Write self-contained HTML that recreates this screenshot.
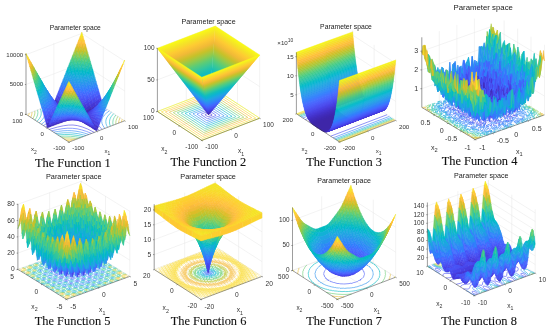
<!DOCTYPE html>
<html><head><meta charset="utf-8"><title>Benchmark functions</title>
<style>
html,body{margin:0;padding:0;background:#fff}
svg{display:block;filter:blur(.3px)}
.sf path{fill:currentColor;stroke:currentColor;stroke-width:5px;stroke-linejoin:round}
.gr{stroke:#e4e4e4;stroke-width:.45px;fill:none}
.ax{stroke:#333;stroke-width:.45px;fill:none}
.lb{font-family:"Liberation Sans",Arial,sans-serif;fill:#333}
.tt{font-family:"Liberation Sans",Arial,sans-serif;fill:#1a1a1a}
.cp{font-family:"Liberation Serif","Times New Roman",serif;fill:#111;stroke:#111;stroke-width:.1px;font-size:12.4px;text-anchor:middle}
.a{color:#3e26a8}.b{color:#402ab4}.c{color:#422ec0}.d{color:#4332cb}.e{color:#4537d5}.f{color:#463cde}.g{color:#4741e5}.h{color:#4747eb}.i{color:#484df0}.j{color:#4852f4}.k{color:#4758f8}.l{color:#465efb}.m{color:#4563fd}.n{color:#4269fe}.o{color:#3e6fff}.p{color:#3875fe}.q{color:#327cfc}.r{color:#2f81fa}.s{color:#2e87f7}.t{color:#2d8cf3}.u{color:#2b91ef}.v{color:#2797eb}.w{color:#259be8}.x{color:#23a0e5}.y{color:#20a5e3}.A{color:#1ca9df}.B{color:#18addb}.C{color:#12b1d6}.D{color:#08b5d0}.E{color:#01b8ca}.F{color:#02bac3}.G{color:#0bbdbd}.H{color:#19bfb6}.I{color:#24c1ae}.J{color:#2cc4a7}.K{color:#31c69f}.L{color:#37c897}.M{color:#3fca8e}.N{color:#4acb84}.O{color:#57cc7a}.P{color:#64cd6f}.Q{color:#72cd64}.R{color:#81cc59}.S{color:#8fcb4e}.T{color:#9dc943}.U{color:#abc739}.V{color:#b9c431}.W{color:#c5c22a}.X{color:#d1bf27}.Y{color:#dcbd29}.Z{color:#e6bb2d}.za{color:#f0ba36}.zb{color:#f8ba3d}.zc{color:#febe3c}.zd{color:#fec338}.ze{color:#fec934}.zf{color:#fccf30}.zg{color:#fad62d}.zh{color:#f7dc2a}.zi{color:#f5e327}.zj{color:#f5e924}.zk{color:#f6ef20}.zl{color:#f7f51b}.zm{color:#f9fb15}
</style></head><body>
<svg width="550" height="329" viewBox="0 0 550 329">
<rect width="550" height="329" fill="#fff"/>
<!-- plot 1 --><path class="gr" d="M68.9 142.1L26.0 114.3M26.0 114.3L26.0 53.5M96.8 131.4L53.9 103.6M53.9 103.6L53.9 42.9M124.7 120.8L81.8 92.9M81.8 92.9L81.8 32.2M68.9 142.1L124.7 120.8M124.7 120.8L124.7 60.0M47.4 128.2L103.3 106.8M103.3 106.8L103.3 46.1M26.0 114.3L81.8 92.9M81.8 92.9L81.8 32.2M26.0 114.3L81.8 92.9M81.8 92.9L124.7 120.8M26.0 84.5L81.8 63.2M81.8 63.2L124.7 91.0M26.0 54.7L81.8 33.4M81.8 33.4L124.7 61.2"/><g fill="none" transform="scale(.1)" stroke-width="6.0"><path stroke="#4742e6" d="M943 1324l-65-33-57-22-47-13-44-6-46 1-51 7-60 13-80 23M971 1287l22 18M455 1270l16-8"/><path stroke="#4465fd" d="M915 1334l-50-20-51-16-44-10-46-5-45-1-48 4-57 9-59 13M1073 1095l-32 19M986 1254l34 40M434 1256l32-20"/><path stroke="#2d8af5" d="M888 1345l-44-14-41-11-43-8-43-5-40-1-47 2-45 6-49 8M1094 1108l-29 22-21 20-16 22-9 21-2 20 4 23 10 23 17 25M413 1242l25-18 22-21"/><path stroke="#1da8e0" d="M860 1355l-78-18-70-9-78 0-77 8M1115 1122l-22 20-15 19-11 18-6 17-3 17 2 22 6 19 10 19M392 1228l18-17 16-18 11-16 8-18"/><path stroke="#0abdbd" d="M832 1366l-61-12-64-8-63-1-66 4M1137 1136l-25 30-9 17-5 14-3 16 0 17 3 17 5 15M370 1214l25-30 9-17 6-15 2-14 0-17-3-17-5-16"/><path stroke="#40ca8d" d="M805 1377l-48-9-51-5-56-2-51 2M1158 1150l-16 24-11 25-3 28 3 25M349 1201l16-24 11-28 3-25-3-26"/><path stroke="#93ca4b" d="M777 1387l-74-8-82-2M1179 1163l-11 22-7 19-3 20 1 17M328 1187l9-17 8-20 4-19-1-22"/><path stroke="#e0bc2b" d="M749 1398l-55-6-52-1M1200 1177l-10 28-4 26M307 1173l10-25 4-28"/><path stroke="#fdcd32" d="M722 1408l-59-4M1222 1191l-8 29M285 1159l8-29"/><path stroke="#f7f41c" d="M694 1419l-10-1M1243 1205l-2 5M264 1146l2-5"/></g><g class="sf" transform="scale(.1)"><path class=zj d="M815 401l15-38-12-41-15 39z"/><path class=zf d="M799 438l16-37-12-40-16 40z"/><path class=zc d="M784 476l15-38-12-37-15 39z"/><path class=Y d="M768 513l16-37-12-36-16 39z"/><path class=V d="M753 551l15-38-12-34-15 40z"/><path class=S d="M737 588l16-37-12-32-16 39z"/><path class=O d="M722 626l15-38-12-30-15 39z"/><path class=L d="M706 663l16-37-12-29-16 40z"/><path class=I d="M691 701l15-38-12-26-15 39z"/><path class=E d="M675 738l16-37-12-25-16 39z"/><path class=B d="M660 776l15-38-12-23-15 40z"/><path class=x d="M644 813l16-37-12-21-16 39z"/><path class=t d="M629 851l15-38-12-19-15 39z"/><path class=q d="M613 888l16-37-12-18-16 40z"/><path class=m d="M598 926l15-38-12-15-15 39z"/><path class=j d="M582 963l16-37-12-14-16 39z"/><path class=g d="M567 1001l15-38-12-12-15 40z"/><path class=c d="M551 1038l16-37-12-10-16 39z"/><path class=B d="M427 833l16 26-12-21-16-28z"/><path class=E d="M412 807l15 26-12-23-15-27z"/><path class=I d="M396 782l16 25-12-24-16-28z"/><path class=L d="M380 756l16 26-12-27-15-27z"/><path class=O d="M365 730l15 26-11-28-16-28z"/><path class=S d="M349 705l16 25-12-30-15-27z"/><path class=V d="M334 679l15 26-11-32-16-28z"/><path class=Y d="M318 654l16 25-12-34-15-27z"/><path class=zc d="M303 628l15 26-11-36-16-28z"/><path class=zf d="M287 602l16 26-12-38-15-27z"/><path class=zj d="M272 577l15 25-11-39-16-28z"/><path class=zf d="M827 440l15-36-12-41-15 38z"/><path class=zc d="M811 476l16-36-12-39-16 37z"/><path class=Z d="M796 511l15-35-12-38-15 38z"/><path class=W d="M780 547l16-36-12-35-16 37z"/><path class=S d="M765 583l15-36-12-34-15 38z"/><path class=P d="M749 618l16-35-12-32-16 37z"/><path class=M d="M734 654l15-36-12-30-15 38z"/><path class=J d="M718 690l16-36-12-28-16 37z"/><path class=G d="M703 725l15-35-12-27-15 38z"/><path class=D d="M687 761l16-36-12-24-16 37z"/><path class=y d="M672 797l15-36-12-23-15 38z"/><path class=v d="M656 832l16-35-12-21-16 37z"/><path class=s d="M641 868l15-36-12-19-15 38z"/><path class=p d="M625 904l16-36-12-17-16 37z"/><path class=m d="M610 939l15-35-12-16-15 38z"/><path class=j d="M594 975l16-36-12-13-16 37z"/><path class=f d="M579 1011l15-36-12-12-15 38z"/><path class=c d="M563 1046l16-35-12-10-16 37z"/><path class=s d="M470 903l15 24-11-17-16-26z"/><path class=v d="M454 880l16 23-12-19-15-25z"/><path class=y d="M439 856l15 24-11-21-16-26z"/><path class=D d="M423 832l16 24-12-23-15-26z"/><path class=G d="M408 808l15 24-11-25-16-25z"/><path class=J d="M392 784l16 24-12-26-16-26z"/><path class=M d="M377 761l15 23-12-28-15-26z"/><path class=P d="M361 737l16 24-12-31-16-25z"/><path class=S d="M346 713l15 24-12-32-15-26z"/><path class=W d="M330 689l16 24-12-34-16-25z"/><path class=Z d="M315 665l15 24-12-35-15-26z"/><path class=zc d="M299 642l16 23-12-37-16-26z"/><path class=zf d="M284 618l15 24-12-40-15-25z"/><path class=zc d="M839 479l15-34-12-41-15 36z"/><path class=Z d="M823 513l16-34-12-39-16 36z"/><path class=W d="M808 547l15-34-12-37-15 35z"/><path class=T d="M792 581l16-34-12-36-16 36z"/><path class=Q d="M777 615l15-34-12-34-15 36z"/><path class=N d="M761 648l16-33-12-32-16 35z"/><path class=K d="M746 682l15-34-12-30-15 36z"/><path class=H d="M730 716l16-34-12-28-16 36z"/><path class=E d="M715 750l15-34-12-26-15 35z"/><path class=B d="M699 784l16-34-12-25-16 36z"/><path class=x d="M684 818l15-34-12-23-15 36z"/><path class=u d="M668 851l16-33-12-21-16 35z"/><path class=r d="M653 885l15-34-12-19-15 36z"/><path class=o d="M637 919l16-34-12-17-16 36z"/><path class=l d="M621 953l16-34-12-15-15 35z"/><path class=i d="M606 987l15-34-11-14-16 36z"/><path class=f d="M590 1020l16-33-12-12-15 36z"/><path class=c d="M575 1054l15-34-11-9-16 35z"/><path class=r d="M482 922l15 22-12-17-15-24z"/><path class=u d="M466 901l16 21-12-19-16-23z"/><path class=x d="M451 879l15 22-12-21-15-24z"/><path class=B d="M435 857l16 22-12-23-16-24z"/><path class=E d="M420 835l15 22-12-25-15-24z"/><path class=H d="M404 813l16 22-12-27-16-24z"/><path class=K d="M389 791l15 22-12-29-15-23z"/><path class=N d="M373 769l16 22-12-30-16-24z"/><path class=Q d="M358 747l15 22-12-32-15-24z"/><path class=T d="M342 725l16 22-12-34-16-24z"/><path class=W d="M327 703l15 22-12-36-15-24z"/><path class=Z d="M311 681l16 22-12-38-16-23z"/><path class=zc d="M296 659l15 22-12-39-15-24z"/><path class=Y d="M851 519l15-32-12-42-15 34z"/><path class=W d="M835 551l16-32-12-40-16 34z"/><path class=T d="M820 583l15-32-12-38-15 34z"/><path class=Q d="M804 615l16-32-12-36-16 34z"/><path class=N d="M789 646l15-31-12-34-15 34z"/><path class=K d="M773 678l16-32-12-31-16 33z"/><path class=I d="M757 710l16-32-12-30-15 34z"/><path class=F d="M742 742l15-32-11-28-16 34z"/><path class=C d="M726 774l16-32-12-26-15 34z"/><path class=y d="M711 806l15-32-11-24-16 34z"/><path class=v d="M695 838l16-32-12-22-15 34z"/><path class=t d="M680 870l15-32-11-20-16 33z"/><path class=q d="M664 902l16-32-12-19-15 34z"/><path class=n d="M649 934l15-32-11-17-16 34z"/><path class=k d="M633 966l16-32-12-15-16 34z"/><path class=h d="M618 998l15-32-12-13-15 34z"/><path class=f d="M602 1030l16-32-12-11-16 33z"/><path class=c d="M587 1062l15-32-12-10-15 34z"/><path class=n d="M509 962l16 20-12-16-16-22z"/><path class=t d="M478 921l16 21-12-20-16-21z"/><path class=v d="M463 901l15 20-12-20-15-22z"/><path class=y d="M447 881l16 20-12-22-16-22z"/><path class=C d="M432 861l15 20-12-24-15-22z"/><path class=F d="M416 841l16 20-12-26-16-22z"/><path class=I d="M401 821l15 20-12-28-15-22z"/><path class=K d="M385 801l16 20-12-30-16-22z"/><path class=N d="M370 781l15 20-12-32-15-22z"/><path class=Q d="M354 760l16 21-12-34-16-22z"/><path class=T d="M339 740l15 20-12-35-15-22z"/><path class=W d="M323 720l16 20-12-37-16-22z"/><path class=Y d="M308 700l15 20-12-39-15-22z"/><path class=V d="M862 558l16-30-12-41-15 32z"/><path class=S d="M847 588l15-30-11-39-16 32z"/><path class=Q d="M831 618l16-30-12-37-15 32z"/><path class=N d="M816 648l15-30-11-35-16 32z"/><path class=L d="M800 678l16-30-12-33-15 31z"/><path class=I d="M785 709l15-31-11-32-16 32z"/><path class=F d="M769 739l16-30-12-31-16 32z"/><path class=D d="M754 769l15-30-12-29-15 32z"/><path class=A d="M738 799l16-30-12-27-16 32z"/><path class=x d="M723 829l15-30-12-25-15 32z"/><path class=u d="M707 859l16-30-12-23-16 32z"/><path class=k d="M537 997l15 19-12-14-15-20z"/><path class=p d="M506 961l15 18-12-17-15-20z"/><path class=r d="M490 942l16 19-12-19-16-21z"/><path class=u d="M475 924l15 18-12-21-15-20z"/><path class=x d="M459 906l16 18-12-23-16-20z"/><path class=A d="M444 887l15 19-12-25-15-20z"/><path class=D d="M428 869l16 18-12-26-16-20z"/><path class=F d="M413 851l15 18-12-28-15-20z"/><path class=I d="M397 833l16 18-12-30-16-20z"/><path class=L d="M382 814l15 19-12-32-15-20z"/><path class=N d="M366 796l16 18-12-33-16-21z"/><path class=Q d="M351 778l15 18-12-36-15-20z"/><path class=S d="M335 759l16 19-12-38-16-20z"/><path class=V d="M320 741l15 18-12-39-15-20z"/><path class=S d="M874 597l16-28-12-41-16 30z"/><path class=P d="M859 625l15-28-12-39-15 30z"/><path class=N d="M843 654l16-29-12-37-16 30z"/><path class=K d="M828 682l15-28-12-36-15 30z"/><path class=I d="M812 710l16-28-12-34-16 30z"/><path class=G d="M797 739l15-29-12-32-15 31z"/><path class=D d="M781 767l16-28-12-30-16 30z"/><path class=B d="M766 795l15-28-12-28-15 30z"/><path class=x d="M750 824l16-29-12-26-16 30z"/><path class=v d="M735 852l15-28-12-25-15 30z"/><path class=t d="M719 880l16-28-12-23-16 30z"/><path class=o d="M518 980l15 16-12-17-15-18z"/><path class=q d="M502 963l16 17-12-19-16-19z"/><path class=t d="M487 947l15 16-12-21-15-18z"/><path class=v d="M471 930l16 17-12-23-16-18z"/><path class=x d="M456 914l15 16-12-24-15-19z"/><path class=B d="M440 897l16 17-12-27-16-18z"/><path class=D d="M424 881l16 16-12-28-15-18z"/><path class=G d="M409 865l15 16-11-30-16-18z"/><path class=I d="M393 848l16 17-12-32-15-19z"/><path class=K d="M378 832l15 16-11-34-16-18z"/><path class=N d="M362 815l16 17-12-36-15-18z"/><path class=P d="M347 799l15 16-11-37-16-19z"/><path class=S d="M331 782l16 17-12-40-15-18z"/><path class=O d="M886 636l16-26-12-41-16 28z"/><path class=M d="M871 663l15-27-12-39-15 28z"/><path class=K d="M855 689l16-26-12-38-16 29z"/><path class=I d="M840 716l15-27-12-35-15 28z"/><path class=F d="M824 742l16-26-12-34-16 28z"/><path class=D d="M809 769l15-27-12-32-15 29z"/><path class=B d="M793 795l16-26-12-30-16 28z"/><path class=y d="M778 822l15-27-12-28-15 28z"/><path class=w d="M762 848l16-26-12-27-16 29z"/><path class=t d="M747 875l15-27-12-24-15 28z"/><path class=r d="M731 901l16-26-12-23-16 28z"/><path class=i d="M561 1028l15 15-12-14-15-16z"/><path class=k d="M545 1013l16 15-12-15-16-17z"/><path class=n d="M529 999l16 14-12-17-15-16z"/><path class=p d="M514 984l15 15-11-19-16-17z"/><path class=r d="M498 970l16 14-12-21-15-16z"/><path class=t d="M483 955l15 15-11-23-16-17z"/><path class=w d="M467 940l16 15-12-25-15-16z"/><path class=y d="M452 926l15 14-11-26-16-17z"/><path class=B d="M436 911l16 15-12-29-16-16z"/><path class=D d="M421 897l15 14-12-30-15-16z"/><path class=F d="M405 882l16 15-12-32-16-17z"/><path class=I d="M390 867l15 15-12-34-15-16z"/><path class=K d="M374 853l16 14-12-35-16-17z"/><path class=M d="M359 838l15 15-12-38-15-16z"/><path class=O d="M343 823l16 15-12-39-16-17z"/><path class=L d="M898 676l16-25-12-41-16 26z"/><path class=J d="M883 700l15-24-12-40-15 27z"/><path class=H d="M867 725l16-25-12-37-16 26z"/><path class=F d="M852 750l15-25-12-36-15 27z"/><path class=D d="M836 774l16-24-12-34-16 26z"/><path class=B d="M821 799l15-25-12-32-15 27z"/><path class=y d="M805 824l16-25-12-30-16 26z"/><path class=w d="M790 848l15-24-12-29-15 27z"/><path class=u d="M774 873l16-25-12-26-16 26z"/><path class=s d="M759 897l15-24-12-25-15 27z"/><path class=q d="M743 922l16-25-12-22-16 26z"/><path class=h d="M572 1043l16 13-12-13-15-15z"/><path class=k d="M557 1031l15 12-11-15-16-15z"/><path class=m d="M541 1018l16 13-12-18-16-14z"/><path class=o d="M526 1005l15 13-12-19-15-15z"/><path class=q d="M510 992l16 13-12-21-16-14z"/><path class=s d="M495 980l15 12-12-22-15-15z"/><path class=u d="M479 967l16 13-12-25-16-15z"/><path class=w d="M464 954l15 13-12-27-15-14z"/><path class=y d="M448 941l16 13-12-28-16-15z"/><path class=B d="M433 928l15 13-12-30-15-14z"/><path class=D d="M417 916l16 12-12-31-16-15z"/><path class=F d="M402 903l15 13-12-34-15-15z"/><path class=H d="M386 890l16 13-12-36-16-14z"/><path class=J d="M371 877l15 13-12-37-15-15z"/><path class=L d="M355 865l16 12-12-39-16-15z"/><path class=I d="M910 715l16-23-12-41-16 25z"/><path class=G d="M895 738l15-23-12-39-15 24z"/><path class=E d="M879 761l16-23-12-38-16 25z"/><path class=C d="M864 783l15-22-12-36-15 25z"/><path class=A d="M848 806l16-23-12-33-16 24z"/><path class=x d="M833 829l15-23-12-32-15 25z"/><path class=w d="M817 852l16-23-12-30-16 25z"/><path class=u d="M801 875l16-23-12-28-15 24z"/><path class=s d="M786 897l15-22-11-27-16 25z"/><path class=q d="M770 920l16-23-12-24-15 24z"/><path class=o d="M755 943l15-23-11-23-16 25z"/><path class=j d="M569 1048l15 11-12-16-15-12z"/><path class=k d="M553 1037l16 11-12-17-16-13z"/><path class=m d="M538 1026l15 11-12-19-15-13z"/><path class=o d="M522 1015l16 11-12-21-16-13z"/><path class=q d="M507 1004l15 11-12-23-15-12z"/><path class=s d="M491 993l16 11-12-24-16-13z"/><path class=u d="M476 982l15 11-12-26-15-13z"/><path class=w d="M460 971l16 11-12-28-16-13z"/><path class=x d="M445 960l15 11-12-30-15-13z"/><path class=A d="M429 949l16 11-12-32-16-12z"/><path class=C d="M414 939l15 10-12-33-15-13z"/><path class=E d="M398 928l16 11-12-36-16-13z"/><path class=G d="M383 917l15 11-12-38-15-13z"/><path class=I d="M367 906l16 11-12-40-16-12z"/><path class=E d="M922 754l16-21-12-41-16 23z"/><path class=D d="M906 775l16-21-12-39-15 23z"/><path class=B d="M891 796l15-21-11-37-16 23z"/><path class=y d="M875 817l16-21-12-35-15 22z"/><path class=x d="M860 838l15-21-11-34-16 23z"/><path class=v d="M844 859l16-21-12-32-15 23z"/><path class=t d="M829 880l15-21-11-30-16 23z"/><path class=s d="M813 901l16-21-12-28-16 23z"/><path class=q d="M798 922l15-21-12-26-15 22z"/><path class=o d="M782 943l16-21-12-25-16 23z"/><path class=n d="M767 964l15-21-12-23-15 23z"/><path class=j d="M565 1056l16 9-12-17-16-11z"/><path class=l d="M550 1047l15 9-12-19-15-11z"/><path class=n d="M534 1038l16 9-12-21-16-11z"/><path class=o d="M519 1029l15 9-12-23-15-11z"/><path class=q d="M503 1020l16 9-12-25-16-11z"/><path class=s d="M488 1011l15 9-12-27-15-11z"/><path class=t d="M472 1001l16 10-12-29-16-11z"/><path class=v d="M457 992l15 9-12-30-15-11z"/><path class=x d="M441 983l16 9-12-32-16-11z"/><path class=y d="M426 974l15 9-12-34-15-10z"/><path class=B d="M410 965l16 9-12-35-16-11z"/><path class=D d="M395 956l15 9-12-37-15-11z"/><path class=E d="M379 947l16 9-12-39-16-11z"/><path class=B d="M934 794l15-19-11-42-16 21z"/><path class=y d="M918 813l16-19-12-40-16 21z"/><path class=x d="M903 832l15-19-12-38-15 21z"/><path class=v d="M887 851l16-19-12-36-16 21z"/><path class=u d="M872 870l15-19-12-34-15 21z"/><path class=t d="M856 889l16-19-12-32-16 21z"/><path class=r d="M841 908l15-19-12-30-15 21z"/><path class=q d="M825 928l16-20-12-28-16 21z"/><path class=o d="M810 947l15-19-12-27-15 21z"/><path class=n d="M794 966l16-19-12-25-16 21z"/><path class=l d="M779 985l15-19-12-23-15 21z"/><path class=i d="M577 1075l16 7-12-17-16-9z"/><path class=k d="M562 1068l15 7-12-19-15-9z"/><path class=l d="M546 1061l16 7-12-21-16-9z"/><path class=n d="M531 1053l15 8-12-23-15-9z"/><path class=o d="M515 1046l16 7-12-24-16-9z"/><path class=q d="M500 1039l15 7-12-26-15-9z"/><path class=r d="M484 1032l16 7-12-28-16-10z"/><path class=t d="M469 1024l15 8-12-31-15-9z"/><path class=u d="M453 1017l16 7-12-32-16-9z"/><path class=v d="M437 1010l16 7-12-34-15-9z"/><path class=x d="M422 1003l15 7-11-36-16-9z"/><path class=y d="M406 995l16 8-12-38-15-9z"/><path class=B d="M391 988l15 7-11-39-16-9z"/><path class=x d="M946 833l15-17-12-41-15 19z"/><path class=v d="M930 850l16-17-12-39-16 19z"/><path class=u d="M915 868l15-18-12-37-15 19z"/><path class=t d="M899 885l16-17-12-36-16 19z"/><path class=r d="M884 902l15-17-12-34-15 19z"/><path class=q d="M868 919l16-17-12-32-16 19z"/><path class=p d="M853 937l15-18-12-30-15 19z"/><path class=o d="M837 954l16-17-12-29-16 20z"/><path class=m d="M822 971l15-17-12-26-15 19z"/><path class=l d="M806 989l16-18-12-24-16 19z"/><path class=k d="M791 1006l15-17-12-23-15 19zM558 1083l15 6-11-21-16-7z"/><path class=l d="M542 1078l16 5-12-22-15-8z"/><path class=m d="M527 1073l15 5-11-25-16-7z"/><path class=o d="M511 1067l16 6-12-27-15-7z"/><path class=p d="M496 1062l15 5-11-28-16-7z"/><path class=q d="M480 1056l16 6-12-30-15-8z"/><path class=r d="M465 1051l15 5-11-32-16-7z"/><path class=t d="M449 1045l16 6-12-34-16-7z"/><path class=u d="M434 1040l15 5-12-35-15-7z"/><path class=v d="M418 1035l16 5-12-37-16-8z"/><path class=x d="M403 1029l15 6-12-40-15-7z"/><path class=t d="M958 872l15-15-12-41-15 17z"/><path class=s d="M942 888l16-16-12-39-16 17z"/><path class=r d="M927 903l15-15-12-38-15 18z"/><path class=q d="M911 919l16-16-12-35-16 17z"/><path class=p d="M896 934l15-15-12-34-15 17z"/><path class=o d="M880 949l16-15-12-32-16 17z"/><path class=n d="M865 965l15-16-12-30-15 18z"/><path class=m d="M849 980l16-15-12-28-16 17z"/><path class=k d="M834 996l15-16-12-26-15 17z"/><path class=j d="M818 1011l16-15-12-25-16 18z"/><path class=i d="M803 1027l15-16-12-22-15 17z"/><path class=j d="M554 1103l16 3-12-23-16-5z"/><path class=k d="M539 1099l15 4-12-25-15-5z"/><path class=m d="M523 1095l16 4-12-26-16-6z"/><path class=n d="M508 1092l15 3-12-28-15-5z"/><path class=o d="M492 1088l16 4-12-30-16-6z"/><path class=p d="M477 1085l15 3-12-32-15-5z"/><path class=q d="M461 1081l16 4-12-34-16-6z"/><path class=r d="M446 1077l15 4-12-36-15-5z"/><path class=s d="M430 1074l16 3-12-37-16-5z"/><path class=t d="M415 1070l15 4-12-39-15-6z"/><path class=q d="M970 912l15-14-12-41-15 15z"/><path class=p d="M954 925l16-13-12-40-16 16z"/><path class=o d="M939 939l15-14-12-37-15 15z"/><path class=n d="M923 952l16-13-12-36-16 16z"/><path class=m d="M908 966l15-14-12-33-15 15z"/><path class=l d="M892 980l16-14-12-32-16 15z"/><path class=k d="M877 993l15-13-12-31-15 16zM861 1007l16-14-12-28-16 15z"/><path class=j d="M846 1020l15-13-12-27-15 16z"/><path class=i d="M830 1034l16-14-12-24-16 15z"/><path class=h d="M814 1048l16-14-12-23-15 16z"/><path class=j d="M551 1125l15 2-12-24-15-4z"/><path class=k d="M535 1124l16 1-12-26-16-4zM520 1122l15 2-12-29-15-3z"/><path class=l d="M504 1120l16 2-12-30-16-4z"/><path class=m d="M489 1118l15 2-12-32-15-3z"/><path class=n d="M473 1117l16 1-12-33-16-4z"/><path class=o d="M458 1115l15 2-12-36-15-4z"/><path class=p d="M442 1113l16 2-12-38-16-3z"/><path class=q d="M427 1111l15 2-12-39-15-4z"/><path class=m d="M982 951l15-12-12-41-15 14zM966 963l16-12-12-39-16 13z"/><path class=l d="M950 974l16-11-12-38-15 14z"/><path class=k d="M935 986l15-12-11-35-16 13zM919 998l16-12-12-34-15 14z"/><path class=j d="M904 1010l15-12-11-32-16 14z"/><path class=i d="M888 1021l16-11-12-30-15 13z"/><path class=h d="M873 1033l15-12-11-28-16 14zM857 1045l16-12-12-26-15 13z"/><path class=g d="M842 1057l15-12-11-25-16 14z"/><path class=f d="M826 1069l16-12-12-23-16 14z"/><path class=h d="M547 1152l16 0-12-27-16-1z"/><path class=i d="M532 1152l15 0-12-28-15-2z"/><path class=j d="M516 1152l16 0-12-30-16-2z"/><path class=k d="M501 1152l15 0-12-32-15-2zM485 1152l16 0-12-34-16-1z"/><path class=l d="M470 1152l15 0-12-35-15-2z"/><path class=m d="M454 1152l16 0-12-37-16-2zM439 1153l15-1-12-39-15-2z"/><path class=j d="M993 990l16-10-12-41-15 12zM978 1000l15-10-11-39-16 12z"/><path class=i d="M962 1010l16-10-12-37-16 11z"/><path class=h d="M947 1020l15-10-12-36-15 12zM931 1030l16-10-12-34-16 12z"/><path class=g d="M916 1040l15-10-12-32-15 12zM900 1050l16-10-12-30-16 11z"/><path class=f d="M885 1060l15-10-12-29-15 12zM869 1070l16-10-12-27-16 12z"/><path class=e d="M854 1080l15-10-12-25-15 12zM838 1090l16-10-12-23-16 12z"/><path class=g d="M528 1184l16-2-12-30-16 0z"/><path class=h d="M513 1186l15-2-12-32-15 0zM497 1188l16-2-12-34-16 0z"/><path class=i d="M481 1190l16-2-12-36-15 0z"/><path class=j d="M466 1192l15-2-11-38-16 0zM450 1194l16-2-12-40-15 1z"/><path class=g d="M1005 1029l16-8-12-41-16 10z"/><path class=f d="M990 1038l15-9-12-39-15 10zM974 1046l16-8-12-38-16 10zM959 1054l15-8-12-36-15 10z"/><path class=e d="M943 1062l16-8-12-34-16 10zM928 1070l15-8-12-32-15 10zM912 1078l16-8-12-30-16 10z"/><path class=d d="M897 1086l15-8-12-28-15 10zM881 1094l16-8-12-26-16 10zM866 1102l15-8-12-24-15 10z"/><path class=c d="M850 1110l16-8-12-22-16 10z"/><path class=f d="M509 1224l15-4-11-34-16 2zM493 1227l16-3-12-36-16 2zM478 1231l15-4-12-37-15 2z"/><path class=g d="M462 1235l16-4-12-39-16 2z"/><path class=c d="M986 1081l16-6-12-37-16 8zM971 1088l15-7-12-35-15 8zM955 1094l16-6-12-34-16 8zM940 1100l15-6-12-32-15 8zM924 1106l16-6-12-30-16 8z"/><path class=b d="M909 1113l15-7-12-28-15 8zM893 1119l16-6-12-27-16 8zM878 1125l15-6-12-25-15 8zM862 1131l16-6-12-23-16 8z"/><path class=c d="M490 1270l15-5-12-38-15 4zM474 1276l16-6-12-39-16 4z"/><path class=b d="M657 1209l15-4-12 4-15 5zM626 1216l15-3-12 7-15 6zM610 1220l16-4-12 10-16 5zM595 1224l15-4-12 11-15 6z"/><path class=c d="M579 1228l16-4-12 13-16 5zM564 1231l15-3-12 14-15 6zM548 1235l16-4-12 17-16 6zM533 1239l15-4-12 19-15 5zM517 1243l16-4-12 20-16 6zM502 1247l15-4-12 22-15 5zM486 1250l16-3-12 23-16 6zM886 1120l15-10-11 8-16 8zM870 1130l16-10-12 6-16 8zM684 1202l16-2-12 1-16 4zM669 1203l15-1-12 3-15 4zM653 1205l16-2-12 6-16 4z"/><path class=d d="M638 1207l15-2-12 8-15 3zM622 1209l16-2-12 9-16 4zM607 1211l15-2-12 11-15 4z"/><path class=e d="M591 1213l16-2-12 13-16 4zM576 1215l15-2-12 15-15 3zM560 1217l16-2-12 16-16 4z"/><path class=f d="M545 1219l15-2-12 18-15 4zM529 1221l16-2-12 20-16 4zM514 1223l15-2-12 22-15 4z"/><path class=g d="M498 1225l16-2-12 24-16 3z"/><path class=e d="M898 1115l15-12-12 7-15 10z"/><path class=d d="M882 1127l16-12-12 5-16 10zM867 1138l15-11-12 3-15 10z"/><path class=c d="M712 1198l15 0-12 0-15 2z"/><path class=d d="M696 1198l16 0-12 2-16 2zM681 1198l15 0-12 4-15 1z"/><path class=e d="M665 1198l16 0-12 5-16 2zM650 1198l15 0-12 7-15 2z"/><path class=f d="M634 1198l16 0-12 9-16 2zM619 1198l15 0-12 11-15 2z"/><path class=g d="M603 1198l16 0-12 13-16 2zM588 1198l15 0-12 15-15 2z"/><path class=h d="M572 1199l16-1-12 17-16 2zM557 1199l15 0-12 18-15 2z"/><path class=i d="M541 1199l16 0-12 20-16 2z"/><path class=j d="M525 1199l16 0-12 22-15 2zM510 1199l15 0-11 24-16 2z"/><path class=g d="M925 1096l16-14-12 9-16 12z"/><path class=f d="M910 1109l15-13-12 7-15 12zM894 1123l16-14-12 6-16 12z"/><path class=e d="M879 1137l15-14-12 4-15 11z"/><path class=d d="M739 1198l16 2-12-2-16 0zM724 1196l15 2-12 0-15 0z"/><path class=e d="M708 1194l16 2-12 2-16 0z"/><path class=f d="M693 1192l15 2-12 4-15 0zM677 1191l16 1-12 6-16 0z"/><path class=g d="M661 1189l16 2-12 7-15 0z"/><path class=h d="M646 1187l15 2-11 9-16 0zM630 1185l16 2-12 11-15 0z"/><path class=i d="M615 1184l15 1-11 13-16 0z"/><path class=j d="M599 1182l16 2-12 14-15 0z"/><path class=k d="M584 1180l15 2-11 16-16 1zM568 1178l16 2-12 19-15 0z"/><path class=l d="M553 1177l15 1-11 21-16 0z"/><path class=m d="M537 1175l16 2-12 22-16 0zM522 1173l15 2-12 24-15 0z"/><path class=j d="M953 1073l15-15-12 11-15 13z"/><path class=h d="M922 1104l15-15-12 7-15 13z"/><path class=g d="M906 1119l16-15-12 5-16 14z"/><path class=f d="M891 1135l15-16-12 4-15 14z"/><path class=e d="M875 1150l16-15-12 2-16 13z"/><path class=d d="M751 1198l15 3-11-1-16-2z"/><path class=e d="M735 1194l16 4-12 0-15-2z"/><path class=f d="M720 1191l15 3-11 2-16-2z"/><path class=g d="M704 1187l16 4-12 3-15-2z"/><path class=h d="M689 1183l15 4-11 5-16-1z"/><path class=i d="M673 1180l16 3-12 8-16-2z"/><path class=j d="M658 1176l15 4-12 9-15-2z"/><path class=k d="M642 1173l16 3-12 11-16-2zM627 1169l15 4-12 12-15-1z"/><path class=l d="M611 1165l16 4-12 15-16-2z"/><path class=m d="M596 1162l15 3-12 17-15-2z"/><path class=n d="M580 1158l16 4-12 18-16-2z"/><path class=o d="M565 1155l15 3-12 20-15-1z"/><path class=p d="M549 1151l16 4-12 22-16-2z"/><path class=q d="M534 1148l15 3-12 24-15-2z"/><path class=j d="M949 1081l16-17-12 9-16 16z"/><path class=i d="M934 1099l15-18-12 8-15 15z"/><path class=h d="M918 1116l16-17-12 5-16 15z"/><path class=g d="M902 1133l16-17-12 3-15 16z"/><path class=f d="M887 1150l15-17-11 2-16 15z"/><path class=d d="M778 1203l16 6-12-4-16-4z"/><path class=e d="M763 1198l15 5-12-2-15-3z"/><path class=f d="M747 1192l16 6-12 0-16-4z"/><path class=g d="M732 1187l15 5-12 2-15-3z"/><path class=h d="M716 1182l16 5-12 4-16-4z"/><path class=i d="M701 1176l15 6-12 5-15-4z"/><path class=j d="M685 1171l16 5-12 7-16-3z"/><path class=k d="M670 1165l15 6-12 9-15-4z"/><path class=m d="M654 1160l16 5-12 11-16-3z"/><path class=n d="M639 1154l15 6-12 13-15-4z"/><path class=o d="M623 1149l16 5-12 15-16-4z"/><path class=p d="M608 1144l15 5-12 16-15-3z"/><path class=q d="M592 1138l16 6-12 18-16-4z"/><path class=r d="M577 1133l15 5-12 20-15-3z"/><path class=s d="M561 1127l16 6-12 22-16-4z"/><path class=t d="M546 1122l15 5-12 24-15-3z"/><path class=o d="M992 1036l15-19-11 12-16 18z"/><path class=m d="M976 1055l16-19-12 11-15 17z"/><path class=l d="M961 1074l15-19-11 9-16 17z"/><path class=k d="M945 1093l16-19-12 7-15 18z"/><path class=j d="M930 1112l15-19-11 6-16 17z"/><path class=h d="M914 1131l16-19-12 4-16 17z"/><path class=g d="M899 1150l15-19-12 2-15 17z"/><path class=f d="M883 1170l16-20-12 0-16 18z"/><path class=d d="M790 1205l16 7-12-3-16-6z"/><path class=f d="M775 1198l15 7-12-2-15-5z"/><path class=g d="M759 1191l16 7-12 0-16-6z"/><path class=h d="M744 1183l15 8-12 1-15-5z"/><path class=j d="M728 1176l16 7-12 4-16-5z"/><path class=k d="M713 1169l15 7-12 6-15-6z"/><path class=l d="M697 1162l16 7-12 7-16-5z"/><path class=m d="M682 1154l15 8-12 9-15-6z"/><path class=o d="M666 1147l16 7-12 11-16-5z"/><path class=p d="M651 1140l15 7-12 13-15-6z"/><path class=q d="M635 1132l16 8-12 14-16-5z"/><path class=r d="M620 1125l15 7-12 17-15-5z"/><path class=t d="M604 1118l16 7-12 19-16-6z"/><path class=u d="M589 1111l15 7-12 20-15-5z"/><path class=v d="M573 1103l16 8-12 22-16-6z"/><path class=x d="M558 1096l15 7-12 24-15-5z"/><path class=q d="M1004 1025l15-21-12 13-15 19z"/><path class=o d="M988 1046l16-21-12 11-16 19z"/><path class=n d="M973 1067l15-21-12 9-15 19z"/><path class=l d="M957 1088l16-21-12 7-16 19z"/><path class=k d="M942 1109l15-21-12 5-15 19z"/><path class=i d="M926 1130l16-21-12 3-16 19z"/><path class=h d="M911 1150l15-20-12 1-15 19z"/><path class=f d="M895 1171l16-21-12 0-16 20z"/><path class=c d="M818 1216l15 9-12-5-15-8z"/><path class=e d="M802 1207l16 9-12-4-16-7z"/><path class=f d="M787 1198l15 9-12-2-15-7z"/><path class=h d="M771 1189l16 9-12 0-16-7z"/><path class=i d="M756 1180l15 9-12 2-15-8z"/><path class=k d="M740 1171l16 9-12 3-16-7z"/><path class=l d="M725 1162l15 9-12 5-15-7z"/><path class=n d="M709 1152l16 10-12 7-16-7z"/><path class=o d="M694 1143l15 9-12 10-15-8z"/><path class=q d="M678 1134l16 9-12 11-16-7z"/><path class=r d="M663 1125l15 9-12 13-15-7z"/><path class=t d="M647 1116l16 9-12 15-16-8z"/><path class=u d="M632 1107l15 9-12 16-15-7z"/><path class=v d="M616 1098l16 9-12 18-16-7z"/><path class=x d="M601 1089l15 9-12 20-15-7z"/><path class=y d="M585 1080l16 9-12 22-16-8z"/><path class=B d="M569 1070l16 10-12 23-15-7z"/><path class=t d="M1031 991l16-23-12 15-16 21z"/><path class=s d="M1016 1014l15-23-12 13-15 21z"/><path class=q d="M1000 1037l16-23-12 11-16 21z"/><path class=o d="M985 1059l15-22-12 9-15 21z"/><path class=n d="M969 1082l16-23-12 8-16 21z"/><path class=l d="M954 1105l15-23-12 6-15 21z"/><path class=j d="M938 1128l16-23-12 4-16 21z"/><path class=i d="M923 1151l15-23-12 2-15 20z"/><path class=g d="M907 1173l16-22-12-1-16 21z"/><path class=e d="M892 1196l15-23-12-2-15 21z"/><path class=b d="M845 1231l16 11-12-8-16-9z"/><path class=d d="M830 1220l15 11-12-6-15-9z"/><path class=e d="M814 1209l16 11-12-4-16-9z"/><path class=g d="M799 1198l15 11-12-2-15-9z"/><path class=i d="M783 1187l16 11-12 0-16-9z"/><path class=j d="M768 1176l15 11-12 2-15-9z"/><path class=l d="M752 1165l16 11-12 4-16-9z"/><path class=n d="M737 1154l15 11-12 6-15-9z"/><path class=o d="M721 1143l16 11-12 8-16-10z"/><path class=q d="M706 1132l15 11-12 9-15-9z"/><path class=s d="M690 1121l16 11-12 11-16-9z"/><path class=t d="M674 1110l16 11-12 13-15-9z"/><path class=v d="M659 1100l15 10-11 15-16-9z"/><path class=x d="M643 1089l16 11-12 16-15-9z"/><path class=y d="M628 1078l15 11-11 18-16-9z"/><path class=B d="M612 1067l16 11-12 20-15-9z"/><path class=D d="M597 1056l15 11-11 22-16-9z"/><path class=E d="M581 1045l16 11-12 24-16-10z"/><path class=x d="M1059 953l15-24-12 16-15 23z"/><path class=w d="M1043 978l16-25-12 15-16 23z"/><path class=u d="M1028 1003l15-25-12 13-15 23z"/><path class=s d="M1012 1027l16-24-12 11-16 23z"/><path class=q d="M997 1052l15-25-12 10-15 22z"/><path class=o d="M981 1077l16-25-12 7-16 23z"/><path class=m d="M966 1101l15-24-12 5-15 23z"/><path class=k d="M950 1126l16-25-12 4-16 23z"/><path class=j d="M935 1151l15-25-12 2-15 23z"/><path class=h d="M919 1175l16-24-12 0-16 22z"/><path class=f d="M904 1200l15-25-12-2-15 23z"/><path class=b d="M857 1236l16 13-12-7-16-11z"/><path class=d d="M842 1224l15 12-12-5-15-11z"/><path class=f d="M826 1211l16 13-12-4-16-11z"/><path class=h d="M810 1198l16 13-12-2-15-11z"/><path class=j d="M795 1185l15 13-11 0-16-11z"/><path class=k d="M779 1172l16 13-12 2-15-11z"/><path class=m d="M764 1160l15 12-11 4-16-11z"/><path class=o d="M748 1147l16 13-12 5-15-11z"/><path class=q d="M733 1134l15 13-11 7-16-11z"/><path class=s d="M717 1121l16 13-12 9-15-11z"/><path class=u d="M702 1109l15 12-11 11-16-11z"/><path class=w d="M686 1096l16 13-12 12-16-11z"/><path class=x d="M671 1083l15 13-12 14-15-10z"/><path class=A d="M655 1070l16 13-12 17-16-11z"/><path class=C d="M640 1057l15 13-12 19-15-11z"/><path class=E d="M624 1045l16 12-12 21-16-11z"/><path class=G d="M609 1032l15 13-12 22-15-11z"/><path class=I d="M593 1019l16 13-12 24-16-11z"/><path class=D d="M1086 912l16-26-12 18-16 25z"/><path class=B d="M1071 939l15-27-12 17-15 24z"/><path class=y d="M1055 965l16-26-12 14-16 25z"/><path class=w d="M1040 992l15-27-12 13-15 25z"/><path class=u d="M1024 1018l16-26-12 11-16 24z"/><path class=s d="M1009 1045l15-27-12 9-15 25z"/><path class=q d="M993 1071l16-26-12 7-16 25z"/><path class=o d="M978 1098l15-27-12 6-15 24z"/><path class=m d="M962 1124l16-26-12 3-16 25z"/><path class=k d="M946 1151l16-27-12 2-15 25z"/><path class=h d="M931 1177l15-26-11 0-16 24z"/><path class=f d="M915 1204l16-27-12-2-15 25z"/><path class=b d="M869 1242l15 15-11-8-16-13z"/><path class=d d="M853 1227l16 15-12-6-15-12z"/><path class=f d="M838 1213l15 14-11-3-16-13z"/><path class=h d="M822 1198l16 15-12-2-16-13z"/><path class=k d="M807 1183l15 15-12 0-15-13z"/><path class=m d="M791 1169l16 14-12 2-16-13z"/><path class=o d="M776 1154l15 15-12 3-15-12z"/><path class=q d="M760 1140l16 14-12 6-16-13z"/><path class=s d="M745 1125l15 15-12 7-15-13z"/><path class=u d="M729 1110l16 15-12 9-16-13z"/><path class=w d="M714 1096l15 14-12 11-15-12z"/><path class=y d="M698 1081l16 15-12 13-16-13z"/><path class=B d="M683 1067l15 14-12 15-15-13z"/><path class=D d="M667 1052l16 15-12 16-16-13z"/><path class=F d="M652 1037l15 15-12 18-15-13z"/><path class=H d="M636 1023l16 14-12 20-16-12z"/><path class=J d="M621 1008l15 15-12 22-15-13z"/><path class=L d="M605 993l16 15-12 24-16-13z"/><path class=I d="M1114 868l15-29-12 20-15 27z"/><path class=F d="M1098 896l16-28-12 18-16 26z"/><path class=D d="M1082 924l16-28-12 16-15 27z"/><path class=B d="M1067 952l15-28-11 15-16 26z"/><path class=y d="M1051 981l16-29-12 13-15 27z"/><path class=w d="M1036 1009l15-28-11 11-16 26z"/><path class=t d="M1020 1037l16-28-12 9-15 27z"/><path class=r d="M1005 1066l15-29-11 8-16 26z"/><path class=p d="M989 1094l16-28-12 5-15 27z"/><path class=n d="M974 1122l15-28-11 4-16 26z"/><path class=k d="M958 1151l16-29-12 2-16 27z"/><path class=i d="M943 1179l15-28-12 0-15 26z"/><path class=g d="M927 1207l16-28-12-2-16 27z"/><path class=e d="M912 1236l15-29-12-3-15 26z"/><path class=c d="M881 1247l15 17-12-7-15-15z"/><path class=e d="M865 1231l16 16-12-5-16-15z"/><path class=g d="M850 1215l15 16-12-4-15-14z"/><path class=i d="M834 1198l16 17-12-2-16-15z"/><path class=k d="M819 1182l15 16-12 0-15-15z"/><path class=n d="M803 1165l16 17-12 1-16-14z"/><path class=p d="M788 1149l15 16-12 4-15-15z"/><path class=r d="M772 1132l16 17-12 5-16-14z"/><path class=t d="M757 1116l15 16-12 8-15-15z"/><path class=w d="M741 1099l16 17-12 9-16-15z"/><path class=y d="M726 1083l15 16-12 11-15-14z"/><path class=B d="M710 1066l16 17-12 13-16-15z"/><path class=D d="M695 1050l15 16-12 15-15-14z"/><path class=F d="M679 1034l16 16-12 17-16-15z"/><path class=I d="M664 1017l15 17-12 18-15-15z"/><path class=K d="M648 1001l16 16-12 20-16-14z"/><path class=M d="M633 984l15 17-12 22-15-15z"/><path class=O d="M617 968l16 16-12 24-16-15z"/><path class=N d="M1141 819l15-30-11 22-16 28z"/><path class=K d="M1125 849l16-30-12 20-15 29z"/><path class=I d="M1110 879l15-30-11 19-16 28z"/><path class=G d="M1094 910l16-31-12 17-16 28z"/><path class=D d="M1079 940l15-30-12 14-15 28z"/><path class=B d="M1063 970l16-30-12 12-16 29z"/><path class=x d="M1048 1000l15-30-12 11-15 28z"/><path class=v d="M1032 1030l16-30-12 9-16 28z"/><path class=t d="M1017 1060l15-30-12 7-15 29z"/><path class=q d="M1001 1090l16-30-12 6-16 28z"/><path class=o d="M986 1121l15-31-12 4-15 28z"/><path class=l d="M970 1151l16-30-12 1-16 29z"/><path class=j d="M955 1181l15-30-12 0-15 28z"/><path class=g d="M939 1211l16-30-12-2-16 28z"/><path class=e d="M924 1241l15-30-12-4-15 29z"/><path class=c d="M893 1253l15 18-12-7-15-17z"/><path class=e d="M877 1235l16 18-12-6-16-16z"/><path class=g d="M862 1216l15 19-12-4-15-16z"/><path class=j d="M846 1198l16 18-12-1-16-17z"/><path class=l d="M831 1180l15 18-12 0-15-16z"/><path class=o d="M815 1162l16 18-12 2-16-17z"/><path class=q d="M800 1143l15 19-12 3-15-16z"/><path class=t d="M784 1125l16 18-12 6-16-17z"/><path class=v d="M769 1107l15 18-12 7-15-16z"/><path class=x d="M753 1088l16 19-12 9-16-17z"/><path class=B d="M738 1070l15 18-12 11-15-16z"/><path class=D d="M722 1052l16 18-12 13-16-17z"/><path class=G d="M707 1034l15 18-12 14-15-16z"/><path class=I d="M691 1015l16 19-12 16-16-16z"/><path class=K d="M676 997l15 18-12 19-15-17z"/><path class=N d="M660 979l16 18-12 20-16-16z"/><path class=P d="M645 960l15 19-12 22-15-17z"/><path class=S d="M629 942l16 18-12 24-16-16zM1168 767l16-32-12 24-16 30z"/><path class=Q d="M1153 799l15-32-12 22-15 30z"/><path class=N d="M1137 831l16-32-12 20-16 30z"/><path class=L d="M1122 863l15-32-12 18-15 30z"/><path class=I d="M1106 895l16-32-12 16-16 31z"/><path class=F d="M1091 927l15-32-12 15-15 30z"/><path class=D d="M1075 959l16-32-12 13-16 30z"/><path class=A d="M1060 991l15-32-12 11-15 30z"/><path class=x d="M1044 1023l16-32-12 9-16 30z"/><path class=u d="M1029 1055l15-32-12 7-15 30z"/><path class=r d="M1013 1087l16-32-12 5-16 30z"/><path class=p d="M998 1119l15-32-12 3-15 31z"/><path class=m d="M982 1151l16-32-12 2-16 30z"/><path class=k d="M967 1183l15-32-12 0-15 30z"/><path class=h d="M951 1215l16-32-12-2-16 30z"/><path class=e d="M936 1247l15-32-12-4-15 30z"/><path class=c d="M905 1259l15 20-12-8-15-18z"/><path class=e d="M889 1238l16 21-12-6-16-18z"/><path class=h d="M874 1218l15 20-12-3-15-19z"/><path class=k d="M858 1198l16 20-12-2-16-18z"/><path class=m d="M843 1178l15 20-12 0-15-18z"/><path class=p d="M827 1158l16 20-12 2-16-18z"/><path class=r d="M812 1138l15 20-12 4-15-19z"/><path class=u d="M796 1118l16 20-12 5-16-18z"/><path class=x d="M781 1098l15 20-12 7-15-18z"/><path class=A d="M765 1077l16 21-12 9-16-19z"/><path class=D d="M750 1057l15 20-12 11-15-18z"/><path class=F d="M734 1037l16 20-12 13-16-18z"/><path class=I d="M718 1017l16 20-12 15-15-18z"/><path class=L d="M703 997l15 20-11 17-16-19z"/><path class=N d="M687 977l16 20-12 18-15-18z"/><path class=Q d="M672 957l15 20-11 20-16-18z"/><path class=S d="M656 937l16 20-12 22-15-19z"/><path class=V d="M641 916l15 21-11 23-16-18z"/><path class=Y d="M1196 711l15-34-12 26-15 32z"/><path class=W d="M1180 745l16-34-12 24-16 32z"/><path class=T d="M1165 779l15-34-12 22-15 32z"/><path class=Q d="M1149 813l16-34-12 20-16 32z"/><path class=N d="M1134 846l15-33-12 18-15 32z"/><path class=K d="M1118 880l16-34-12 17-16 32z"/><path class=I d="M1103 914l15-34-12 15-15 32z"/><path class=F d="M1087 948l16-34-12 13-16 32z"/><path class=C d="M1072 982l15-34-12 11-15 32z"/><path class=y d="M1056 1016l16-34-12 9-16 32z"/><path class=v d="M1041 1049l15-33-12 7-15 32z"/><path class=t d="M1025 1083l16-34-12 6-16 32z"/><path class=q d="M1010 1117l15-34-12 4-15 32z"/><path class=n d="M994 1151l16-34-12 2-16 32z"/><path class=k d="M979 1185l15-34-12 0-15 32z"/><path class=h d="M963 1218l16-33-12-2-16 32z"/><path class=f d="M948 1252l15-34-12-3-15 32z"/><path class=c d="M932 1286l16-34-12-5-16 32zM917 1264l15 22-12-7-15-20z"/><path class=f d="M901 1242l16 22-12-5-16-21z"/><path class=h d="M886 1220l15 22-12-4-15-20z"/><path class=k d="M870 1198l16 22-12-2-16-20z"/><path class=n d="M854 1176l16 22-12 0-15-20z"/><path class=q d="M839 1154l15 22-11 2-16-20z"/><path class=t d="M823 1132l16 22-12 4-15-20z"/><path class=v d="M808 1110l15 22-11 6-16-20z"/><path class=y d="M792 1088l16 22-12 8-15-20z"/><path class=C d="M777 1066l15 22-11 10-16-21z"/><path class=F d="M761 1044l16 22-12 11-15-20z"/><path class=I d="M746 1023l15 21-11 13-16-20z"/><path class=K d="M730 1001l16 22-12 14-16-20z"/><path class=N d="M715 979l15 22-12 16-15-20z"/><path class=Q d="M699 957l16 22-12 18-16-20z"/><path class=T d="M684 935l15 22-12 20-15-20z"/><path class=W d="M668 913l16 22-12 22-16-20z"/><path class=Y d="M653 891l15 22-12 24-15-21z"/><path class=zc d="M1208 687l15-35-12 25-15 34z"/><path class=Z d="M1192 723l16-36-12 24-16 34z"/><path class=W d="M1177 759l15-36-12 22-15 34z"/><path class=T d="M1161 794l16-35-12 20-16 34z"/><path class=Q d="M1146 830l15-36-12 19-15 33z"/><path class=N d="M1130 866l16-36-12 16-16 34z"/><path class=K d="M1115 901l15-35-12 14-15 34z"/><path class=H d="M1099 937l16-36-12 13-16 34z"/><path class=E d="M1084 973l15-36-12 11-15 34z"/><path class=B d="M1068 1008l16-35-12 9-16 34z"/><path class=x d="M1053 1044l15-36-12 8-15 33z"/><path class=u d="M1037 1080l16-36-12 5-16 34z"/><path class=r d="M1022 1115l15-35-12 3-15 34z"/><path class=o d="M1006 1151l16-36-12 2-16 34z"/><path class=l d="M990 1187l16-36-12 0-15 34z"/><path class=i d="M975 1222l15-35-11-2-16 33z"/><path class=f d="M959 1258l16-36-12-4-15 34z"/><path class=c d="M944 1294l15-36-11-6-16 34zM928 1270l16 24-12-8-15-22z"/><path class=f d="M913 1246l15 24-11-6-16-22z"/><path class=i d="M897 1222l16 24-12-4-15-22z"/><path class=l d="M882 1198l15 24-11-2-16-22z"/><path class=o d="M866 1174l16 24-12 0-16-22z"/><path class=r d="M851 1151l15 23-12 2-15-22z"/><path class=u d="M835 1127l16 24-12 3-16-22z"/><path class=x d="M820 1103l15 24-12 5-15-22z"/><path class=B d="M804 1079l16 24-12 7-16-22z"/><path class=E d="M789 1055l15 24-12 9-15-22z"/><path class=H d="M773 1032l16 23-12 11-16-22z"/><path class=K d="M758 1008l15 24-12 12-15-21z"/><path class=N d="M742 984l16 24-12 15-16-22z"/><path class=Q d="M727 960l15 24-12 17-15-22z"/><path class=T d="M711 936l16 24-12 19-16-22z"/><path class=W d="M696 913l15 23-12 21-15-22z"/><path class=Z d="M680 889l16 24-12 22-16-22z"/><path class=zc d="M665 865l15 24-12 24-15-22z"/><path class=Z d="M1189 738l15-37-12 22-15 36z"/><path class=W d="M1173 776l16-38-12 21-16 35z"/><path class=S d="M1158 813l15-37-12 18-15 36z"/><path class=P d="M1142 851l16-38-12 17-16 36z"/><path class=M d="M1127 888l15-37-12 15-15 35z"/><path class=J d="M1111 926l16-38-12 13-16 36z"/><path class=G d="M1095 963l16-37-12 11-15 36z"/><path class=D d="M1080 1001l15-38-11 10-16 35z"/><path class=y d="M1064 1038l16-37-12 7-15 36z"/><path class=v d="M1049 1076l15-38-11 6-16 36z"/><path class=s d="M1033 1113l16-37-12 4-15 35z"/><path class=p d="M1018 1151l15-38-11 2-16 36z"/><path class=m d="M1002 1188l16-37-12 0-16 36z"/><path class=j d="M987 1226l15-38-12-1-15 35z"/><path class=f d="M971 1263l16-37-12-4-16 36z"/><path class=c d="M956 1301l15-38-12-5-15 36zM940 1275l16 26-12-7-16-24z"/><path class=f d="M925 1250l15 25-12-5-15-24z"/><path class=j d="M909 1224l16 26-12-4-16-24z"/><path class=m d="M894 1198l15 26-12-2-15-24z"/><path class=p d="M878 1173l16 25-12 0-16-24z"/><path class=s d="M863 1147l15 26-12 1-15-23z"/><path class=v d="M847 1121l16 26-12 4-16-24z"/><path class=y d="M832 1096l15 25-12 6-15-24z"/><path class=D d="M816 1070l16 26-12 7-16-24z"/><path class=G d="M801 1044l15 26-12 9-15-24z"/><path class=J d="M785 1019l16 25-12 11-16-23z"/><path class=M d="M770 993l15 26-12 13-15-24z"/><path class=P d="M754 968l16 25-12 15-16-24z"/><path class=S d="M739 942l15 26-12 16-15-24z"/><path class=W d="M723 916l16 26-12 18-16-24z"/><path class=Z d="M708 891l15 25-12 20-15-23z"/><path class=zc d="M692 865l16 26-12 22-16-24z"/><path class=zf d="M677 839l15 26-12 24-15-24z"/><path class=zj d="M1231 640l16-40-12 26-15 37z"/><path class=zf d="M1216 679l15-39-11 23-16 38z"/><path class=zc d="M1200 718l16-39-12 22-15 37z"/><path class=Y d="M1185 758l15-40-11 20-16 38z"/><path class=V d="M1169 797l16-39-12 18-15 37z"/><path class=S d="M1154 836l15-39-11 16-16 38z"/><path class=O d="M1138 876l16-40-12 15-15 37z"/><path class=L d="M1123 915l15-39-11 12-16 38z"/><path class=I d="M1107 954l16-39-12 11-16 37z"/><path class=E d="M1092 994l15-40-12 9-15 38z"/><path class=B d="M1076 1033l16-39-12 7-16 37z"/><path class=x d="M1061 1072l15-39-12 5-15 38z"/><path class=t d="M1045 1112l16-40-12 4-16 37z"/><path class=q d="M1030 1151l15-39-12 1-15 38z"/><path class=m d="M1014 1190l16-39-12 0-16 37z"/><path class=j d="M999 1230l15-40-12-2-15 38z"/><path class=g d="M983 1269l16-39-12-4-16 37z"/><path class=c d="M968 1308l15-39-12-6-15 38zM952 1281l16 27-12-7-16-26z"/><path class=g d="M937 1253l15 28-12-6-15-25z"/><path class=j d="M921 1226l16 27-12-3-16-26z"/><path class=m d="M906 1198l15 28-12-2-15-26z"/><path class=q d="M890 1171l16 27-12 0-16-25z"/><path class=t d="M875 1143l15 28-12 2-15-26z"/><path class=x d="M859 1116l16 27-12 4-16-26z"/><path class=B d="M844 1088l15 28-12 5-15-25z"/><path class=E d="M828 1061l16 27-12 8-16-26z"/><path class=I d="M813 1034l15 27-12 9-15-26z"/><path class=L d="M797 1006l16 28-12 10-16-25z"/><path class=O d="M782 979l15 27-12 13-15-26z"/><path class=S d="M766 951l16 28-12 14-16-25z"/><path class=V d="M751 924l15 27-12 17-15-26z"/><path class=Y d="M735 896l16 28-12 18-16-26z"/><path class=zc d="M720 869l15 27-12 20-15-25z"/><path class=zf d="M704 841l16 28-12 22-16-26z"/><path class=zj d="M689 814l15 27-12 24-15-26z"/></g><path class="ax" d="M68.9 142.1L124.7 120.8M68.9 142.1L26.0 114.3M26.0 114.3L26.0 53.5M68.9 142.1L69.8 142.7M96.8 131.4L97.7 132.0M124.7 120.8L125.6 121.4M68.9 142.1L67.8 142.5M47.4 128.2L46.4 128.6M26.0 114.3L25.0 114.7M26.0 114.3L24.9 114.3M26.0 84.5L24.9 84.5M26.0 54.7L24.9 54.7"/><g class="lb" font-size="6.09"><text x="72.2" y="150.4">-100</text><text x="100.1" y="139.7">0</text><text x="128.0" y="129.0">100</text><text text-anchor="end" x="65.4" y="150.3">-100</text><text text-anchor="end" x="43.9" y="136.4">0</text><text text-anchor="end" x="22.5" y="122.5">100</text><text text-anchor="end" x="23.2" y="116.0">0</text><text text-anchor="end" x="23.2" y="86.3">5000</text><text text-anchor="end" x="23.2" y="56.5">10000</text><text text-anchor="middle" x="33.9" y="151.4">x<tspan font-size="4.9" dy="2.1">2</tspan></text><text text-anchor="middle" x="107.4" y="152.7">x<tspan font-size="4.9" dy="2.1">1</tspan></text></g><text class="tt" text-anchor="middle" font-size="6.70" x="75.3" y="30.2">Parameter space</text>
<!-- plot 2 --><path class="gr" d="M201.8 140.4L157.4 111.5M157.4 111.5L157.4 48.3M230.8 129.3L186.3 100.4M186.3 100.4L186.3 37.2M259.7 118.2L215.3 89.3M215.3 89.3L215.3 26.1M201.8 140.4L259.7 118.2M259.7 118.2L259.7 55.0M179.6 125.9L237.5 103.7M237.5 103.7L237.5 40.6M157.4 111.5L215.3 89.3M215.3 89.3L215.3 26.1M157.4 111.5L215.3 89.3M215.3 89.3L259.7 118.2M157.4 79.9L215.3 57.7M215.3 57.7L259.7 86.6M157.4 48.3L215.3 26.1M215.3 26.1L259.7 55.0"/><g fill="none" transform="scale(.1)" stroke-width="6.0"><path stroke="#463bdd" d="M2085 1166l-8 0-27-18 1-4 23-9M2094 1131l27 17-1 5-35 13"/><path stroke="#4756f7" d="M2079 1186l-7 0-62-41 1-3 58-23M2108 1117l53 35-1 3-81 31"/><path stroke="#3b72fe" d="M2073 1206l-5 0-98-64 1-3 86-33M2121 1102l80 53-1 2-127 49"/><path stroke="#2c8ef1" d="M2067 1226l-4 0-133-87 0-2 116-44M2135 1088l106 70 0 2-174 66"/><path stroke="#1fa6e2" d="M2061 1246l-171-110 145-57M2148 1074l133 88-220 84"/><path stroke="#01b8c9" d="M2055 1266l-205-133 174-67M2157 1057l164 107-266 102"/><path stroke="#2bc3a8" d="M2055 1284l-10-1-231-150 1-5 197-75M2170 1042l187 122-1 5-301 115"/><path stroke="#54cc7c" d="M2049 1304l-8-1-267-173 1-4 226-87M2184 1028l213 139-1 4-347 133"/><path stroke="#98c947" d="M2042 1324l-6 0-302-197 1-3 260-100M2197 1014l240 156-1 3-394 151"/><path stroke="#d6be28" d="M2036 1344l-4 0-338-220 1-3 289-111M2210 999l267 174-1 2-440 169"/><path stroke="#febf3b" d="M2030 1364l-3 0-373-243 0-2 319-122M2224 985l293 191 0 1-487 187"/><path stroke="#f6dd29" d="M2024 1384l-410-266 348-134M2237 971l320 209-533 204"/><path stroke="#f9fb15" d="M2024 1402l-10-1-435-284 1-4 370-142M2246 954l346 225-1 5-567 218"/></g><linearGradient id="pg1" gradientUnits="userSpaceOnUse" x1="208.55" y1="114.83" x2="179.75" y2="39.73"><stop offset="0" stop-color="#3e26a8"/><stop offset="0.0625" stop-color="#4536d5"/><stop offset="0.125" stop-color="#484cef"/><stop offset="0.1875" stop-color="#4562fc"/><stop offset="0.25" stop-color="#347afd"/><stop offset="0.3125" stop-color="#2c90f0"/><stop offset="0.375" stop-color="#21a3e3"/><stop offset="0.4375" stop-color="#0cb3d3"/><stop offset="0.5" stop-color="#12beb9"/><stop offset="0.5625" stop-color="#34c79c"/><stop offset="0.625" stop-color="#5ccc76"/><stop offset="0.6875" stop-color="#94ca4a"/><stop offset="0.75" stop-color="#c8c129"/><stop offset="0.8125" stop-color="#f1ba37"/><stop offset="0.875" stop-color="#feca33"/><stop offset="0.9375" stop-color="#f5e327"/><stop offset="1" stop-color="#f9fb15"/></linearGradient><path fill="url(#pg1)" stroke="url(#pg1)" stroke-width=".4" d="M208.55 114.83L215.28 26.10L157.40 48.30 z"/><linearGradient id="pg2" gradientUnits="userSpaceOnUse" x1="208.55" y1="114.83" x2="251.14" y2="49.46"><stop offset="0" stop-color="#3e26a8"/><stop offset="0.0625" stop-color="#4536d5"/><stop offset="0.125" stop-color="#484cef"/><stop offset="0.1875" stop-color="#4562fc"/><stop offset="0.25" stop-color="#347afd"/><stop offset="0.3125" stop-color="#2c90f0"/><stop offset="0.375" stop-color="#21a3e3"/><stop offset="0.4375" stop-color="#0cb3d3"/><stop offset="0.5" stop-color="#12beb9"/><stop offset="0.5625" stop-color="#34c79c"/><stop offset="0.625" stop-color="#5ccc76"/><stop offset="0.6875" stop-color="#94ca4a"/><stop offset="0.75" stop-color="#c8c129"/><stop offset="0.8125" stop-color="#f1ba37"/><stop offset="0.875" stop-color="#feca33"/><stop offset="0.9375" stop-color="#f5e327"/><stop offset="1" stop-color="#f9fb15"/></linearGradient><path fill="url(#pg2)" stroke="url(#pg2)" stroke-width=".4" d="M208.55 114.83L259.70 55.03L215.28 26.10 z"/><linearGradient id="pg3" gradientUnits="userSpaceOnUse" x1="208.55" y1="114.83" x2="223.74" y2="91.51"><stop offset="0" stop-color="#3e26a8"/><stop offset="0.0625" stop-color="#4536d5"/><stop offset="0.125" stop-color="#484cef"/><stop offset="0.1875" stop-color="#4562fc"/><stop offset="0.25" stop-color="#347afd"/><stop offset="0.3125" stop-color="#2c90f0"/><stop offset="0.375" stop-color="#21a3e3"/><stop offset="0.4375" stop-color="#0cb3d3"/><stop offset="0.5" stop-color="#12beb9"/><stop offset="0.5625" stop-color="#34c79c"/><stop offset="0.625" stop-color="#5ccc76"/><stop offset="0.6875" stop-color="#94ca4a"/><stop offset="0.75" stop-color="#c8c129"/><stop offset="0.8125" stop-color="#f1ba37"/><stop offset="0.875" stop-color="#feca33"/><stop offset="0.9375" stop-color="#f5e327"/><stop offset="1" stop-color="#f9fb15"/></linearGradient><path fill="url(#pg3)" stroke="url(#pg3)" stroke-width=".4" d="M208.55 114.83L157.40 48.30L201.82 77.23 z"/><linearGradient id="pg4" gradientUnits="userSpaceOnUse" x1="208.55" y1="114.83" x2="195.11" y2="79.80"><stop offset="0" stop-color="#3e26a8"/><stop offset="0.0625" stop-color="#4536d5"/><stop offset="0.125" stop-color="#484cef"/><stop offset="0.1875" stop-color="#4562fc"/><stop offset="0.25" stop-color="#347afd"/><stop offset="0.3125" stop-color="#2c90f0"/><stop offset="0.375" stop-color="#21a3e3"/><stop offset="0.4375" stop-color="#0cb3d3"/><stop offset="0.5" stop-color="#12beb9"/><stop offset="0.5625" stop-color="#34c79c"/><stop offset="0.625" stop-color="#5ccc76"/><stop offset="0.6875" stop-color="#94ca4a"/><stop offset="0.75" stop-color="#c8c129"/><stop offset="0.8125" stop-color="#f1ba37"/><stop offset="0.875" stop-color="#feca33"/><stop offset="0.9375" stop-color="#f5e327"/><stop offset="1" stop-color="#f9fb15"/></linearGradient><path fill="url(#pg4)" stroke="url(#pg4)" stroke-width=".4" d="M208.55 114.83L201.82 77.23L259.70 55.03 z"/><path class="ax" d="M201.8 140.4L259.7 118.2M201.8 140.4L157.4 111.5M157.4 111.5L157.4 48.3M201.8 140.4L202.8 141.0M230.8 129.3L231.7 129.9M259.7 118.2L260.7 118.8M201.8 140.4L200.8 140.8M179.6 125.9L178.5 126.3M157.4 111.5L156.3 111.9M157.4 111.5L156.3 111.5M157.4 79.9L156.3 79.9M157.4 48.3L156.3 48.3"/><g class="lb" font-size="6.45"><text x="205.2" y="149.0">-100</text><text x="234.2" y="137.9">0</text><text x="263.1" y="126.8">100</text><text text-anchor="end" x="198.2" y="148.9">-100</text><text text-anchor="end" x="176.0" y="134.5">0</text><text text-anchor="end" x="153.8" y="120.0">100</text><text text-anchor="end" x="154.5" y="113.3">0</text><text text-anchor="end" x="154.5" y="81.8">50</text><text text-anchor="end" x="154.5" y="50.2">100</text><text text-anchor="middle" x="164.4" y="151.2">x<tspan font-size="5.2" dy="2.3">2</tspan></text><text text-anchor="middle" x="241.0" y="153.2">x<tspan font-size="5.2" dy="2.3">1</tspan></text></g><text class="tt" text-anchor="middle" font-size="7.10" x="208.6" y="24.1">Parameter space</text>
<!-- plot 3 --><path class="gr" d="M339.5 142.0L296.4 113.8M296.4 113.8L296.4 52.3M367.6 131.2L324.5 103.0M324.5 103.0L324.5 41.5M395.7 120.4L352.6 92.2M352.6 92.2L352.6 30.7M339.5 142.0L395.7 120.4M395.7 120.4L395.7 58.9M318.0 127.9L374.1 106.3M374.1 106.3L374.1 44.8M296.4 113.8L352.6 92.2M352.6 92.2L352.6 30.7M296.4 94.8L352.6 73.2M352.6 73.2L395.7 101.4M296.4 75.8L352.6 54.1M352.6 54.1L395.7 82.3M296.4 56.7L352.6 35.1M352.6 35.1L395.7 63.3"/><g fill="none" transform="scale(.1)" stroke-width="6.0"><path stroke="#484bef" d="M3871 1147l-564 215M3052 1196l34-13"/><path stroke="#3579fd" d="M3895 1163l-564 215M3028 1180l45-17"/><path stroke="#22a2e4" d="M3911 1174l-563 215M3012 1169l56-21"/><path stroke="#0ebdbb" d="M3923 1182l-563 215M2999 1161l64-25"/><path stroke="#57cc7a" d="M3934 1189l-563 215M2989 1154l72-28"/><path stroke="#c3c22b" d="M3943 1194l-563 216M2980 1148l78-30"/><path stroke="#fec736" d="M3950 1200l-563 215M2972 1143l84-32"/><path stroke="#f8f719" d="M3676 1312l-281 108M2965 1139l86-34"/></g><g class="sf" transform="scale(.1)"><path color=#f6f11f d="M3246 438l281-102-1-17-281 102z"/><path color=#f7f41c d="M2965 540l281-102-1-17-281 102z"/><path color=#f5e626 d="M3248 455l281-102-2-17-281 102z"/><path color=#f5eb23 d="M2967 557l281-102-2-17-281 102z"/><path color=#f7dd2a d="M3249 471l281-102-1-16-281 102z"/><path color=#f6e028 d="M2968 574l281-103-1-16-281 102z"/><path color=#fbd22f d="M3251 488l281-103-2-16-281 102z"/><path color=#f9d62d d="M2970 590l281-102-2-17-281 103z"/><path color=#fec834 d="M3252 503l281-102-1-16-281 103z"/><path color=#fdcd32 d="M2971 606l281-103-1-15-281 102z"/><path color=#fec03b d="M3254 519l281-102-2-16-281 102z"/><path color=#fec239 d="M2973 622l281-103-2-16-281 103z"/><path color=#f7ba3c d="M3255 534l281-102-1-15-281 102z"/><path color=#fabb3d d="M2974 637l281-103-1-15-281 103z"/><path color=#eaba31 d="M3257 549l280-102-1-15-281 102z"/><path color=#f1ba37 d="M2976 652l281-103-2-15-281 103z"/><path color=#dbbd29 d="M3258 564l281-103-2-14-280 102z"/><path color=#e3bc2c d="M2977 667l281-103-1-15-281 103z"/><path color=#cdc028 d="M3259 579l281-103-1-15-281 103z"/><path color=#d3bf27 d="M2978 681l281-102-1-15-281 103z"/><path color=#bbc42f d="M3261 593l281-103-2-14-281 103z"/><path color=#c1c32c d="M2980 696l281-103-2-14-281 102z"/><path color=#abc739 d="M3262 607l281-103-1-14-281 103z"/><path color=#b1c635 d="M2981 710l281-103-1-14-281 103z"/><path color=#9ac946 d="M3264 621l281-103-2-14-281 103z"/><path color=#a1c840 d="M2983 724l281-103-2-14-281 103z"/><path color=#84cc56 d="M3265 634l281-103-1-13-281 103z"/><path color=#8bcb51 d="M2984 737l281-103-1-13-281 103z"/><path color=#72cd64 d="M3267 647l281-103-2-13-281 103z"/><path color=#79cc5e d="M2986 750l281-103-2-13-281 103z"/><path color=#61cd72 d="M3268 660l281-103-1-13-281 103z"/><path color=#67cd6c d="M2987 763l281-103-1-13-281 103z"/><path color=#51cc7f d="M3270 673l281-103-2-13-281 103z"/><path color=#57cc7a d="M2989 776l281-103-2-13-281 103z"/><path color=#42ca8b d="M3271 685l281-103-1-12-281 103z"/><path color=#48cb86 d="M2990 789l281-104-1-12-281 103z"/><path color=#3ac994 d="M3273 698l281-104-2-12-281 103z"/><path color=#3eca90 d="M2992 801l281-103-2-13-281 104z"/><path color=#32c69f d="M3274 709l281-103-1-12-281 104z"/><path color=#35c79b d="M2993 813l281-104-1-11-281 103z"/><path color=#2cc4a6 d="M3276 721l281-103-2-12-281 103z"/><path color=#2fc5a3 d="M2995 825l281-104-2-12-281 104z"/><path color=#22c1af d="M3277 733l281-104-1-11-281 103z"/><path color=#27c2ac d="M2996 836l281-103-1-12-281 104z"/><path color=#17bfb6 d="M3279 744l281-104-2-11-281 104z"/><path color=#1dc0b3 d="M2998 848l281-104-2-11-281 103z"/><path color=#0abdbd d="M3280 755l281-104-1-11-281 104z"/><path color=#10beba d="M2999 859l281-104-1-11-281 104z"/><path color=#02bac4 d="M3282 766l281-104-2-11-281 104z"/><path color=#03bbc2 d="M3001 870l281-104-2-11-281 104z"/><path color=#02b7ca d="M3283 776l281-104-1-10-281 104z"/><path color=#01b8c9 d="M3002 880l281-104-1-10-281 104z"/><path color=#08b4d1 d="M3285 787l281-104-2-11-281 104z"/><path color=#06b5cf d="M3004 891l281-104-2-11-281 104z"/><path color=#12b1d6 d="M3286 797l281-104-1-10-281 104z"/><path color=#0db3d4 d="M3005 901l281-104-1-10-281 104z"/><path color=#19addb d="M3288 807l281-104-2-10-281 104z"/><path color=#15afd9 d="M3007 911l281-104-2-10-281 104z"/><path color=#1caadf d="M3289 817l281-105-1-9-281 104z"/><path color=#1babde d="M3008 921l281-104-1-10-281 104z"/><path color=#1fa6e2 d="M3291 826l281-104-2-10-281 105z"/><path color=#1da8e0 d="M3010 930l281-104-2-9-281 104z"/><path color=#22a2e4 d="M3292 835l281-104-1-9-281 104z"/><path color=#21a3e3 d="M3011 940l281-105-1-9-281 104z"/><path color=#249ee6 d="M3294 845l281-105-2-9-281 104z"/><path color=#23a0e5 d="M3013 949l281-104-2-10-281 105z"/><path color=#269ae8 d="M3295 853l281-104-1-9-281 105z"/><path color=#259be8 d="M3014 958l281-105-1-8-281 104z"/><path color=#2797eb d="M3297 862l281-104-2-9-281 104z"/><path color=#2798ea d="M3016 967l281-105-2-9-281 105z"/><path color=#2b91ef d="M3298 871l281-105-1-8-281 104z"/><path color=#2994ed d="M3018 975l280-104-1-9-281 105z"/><path color=#2c8ef2 d="M3300 879l281-105-2-8-281 105z"/><path color=#2b90f0 d="M3019 984l281-105-2-8-280 104z"/><path color=#2d8af5 d="M3302 887l280-105-1-8-281 105z"/><path color=#2d8cf3 d="M3021 992l281-105-2-8-281 105z"/><path color=#2e87f7 d="M3303 895l281-105-2-8-280 105z"/><path color=#2d88f6 d="M3022 1000l281-105-1-8-281 105z"/><path color=#2e83f9 d="M3305 903l281-105-2-8-281 105z"/><path color=#2e84f8 d="M3024 1008l281-105-2-8-281 105z"/><path color=#307ffb d="M3306 910l281-105-1-7-281 105z"/><path color=#2f80fa d="M3025 1015l281-105-1-7-281 105z"/><path color=#337afd d="M3308 918l281-105-2-8-281 105z"/><path color=#317dfc d="M3027 1023l281-105-2-8-281 105z"/><path color=#3677fe d="M3309 925l281-105-1-7-281 105z"/><path color=#3579fd d="M3028 1030l281-105-1-7-281 105z"/><path color=#3b73fe d="M3311 932l281-105-2-7-281 105z"/><path color=#3974fe d="M3030 1037l281-105-2-7-281 105z"/><path color=#3e70ff d="M3312 939l281-105-1-7-281 105z"/><path color=#3c71ff d="M3032 1044l280-105-1-7-281 105z"/><path color=#416bfe d="M3314 946l281-106-2-6-281 105z"/><path color=#3f6eff d="M3033 1051l281-105-2-7-280 105z"/><path color=#4368fe d="M3316 952l281-105-2-7-281 106z"/><path color=#426afe d="M3035 1058l281-106-2-6-281 105z"/><path color=#4465fd d="M3317 959l281-106-1-6-281 105z"/><path color=#4367fd d="M3036 1064l281-105-1-7-281 106z"/><path color=#4562fc d="M3319 965l281-106-2-6-281 106z"/><path color=#4564fd d="M3038 1070l281-105-2-6-281 105z"/><path color=#4660fb d="M3320 971l281-106-1-6-281 106z"/><path color=#4561fc d="M3040 1076l280-105-1-6-281 105z"/><path color=#475bfa d="M3322 977l281-106-2-6-281 106z"/><path color=#465efb d="M3041 1082l281-105-2-6-280 105z"/><path color=#4759f8 d="M3324 983l281-106-2-6-281 106z"/><path color=#475bfa d="M3043 1088l281-105-2-6-281 105z"/><path color=#4757f7 d="M3325 988l281-105-1-6-281 106z"/><path color=#4759f8 d="M3044 1094l281-106-1-5-281 105z"/><path color=#4854f6 d="M3327 994l281-106-2-5-281 105z"/><path color=#4756f7 d="M3046 1100l281-106-2-6-281 106z"/><path color=#4852f4 d="M3329 999l280-106-1-5-281 106z"/><path color=#4853f5 d="M3048 1105l281-106-2-5-281 106z"/><path color=#484ff2 d="M3330 1004l281-106-2-5-280 106z"/><path color=#4850f3 d="M3049 1110l281-106-1-5-281 106z"/><path color=#484cf0 d="M3332 1009l281-105-2-6-281 106z"/><path color=#484ef1 d="M3051 1115l281-106-2-5-281 106z"/><path color=#484bee d="M3333 1014l281-106-1-4-281 105z"/><path color=#484cf0 d="M3052 1120l281-106-1-5-281 106z"/><path color=#4848ec d="M3335 1019l281-106-2-5-281 106z"/><path color=#4849ed d="M3054 1125l281-106-2-5-281 106z"/><path color=#4746eb d="M3337 1024l281-106-2-5-281 106z"/><path color=#4848ec d="M3056 1130l281-106-2-5-281 106z"/><path color=#4744e8 d="M3338 1028l281-106-1-4-281 106z"/><path color=#4745e9 d="M3057 1135l281-107-1-4-281 106z"/><path color=#4742e6 d="M3340 1033l281-106-2-5-281 106z"/><path color=#4744e8 d="M3059 1139l281-106-2-5-281 107z"/><path color=#4741e5 d="M3342 1037l281-106-2-4-281 106zM3061 1143l281-106-2-4-281 106z"/><path color=#473ee1 d="M3343 1041l281-106-1-4-281 106z"/><path color=#473fe3 d="M3062 1148l281-107-1-4-281 106z"/><path color=#463ddf d="M3345 1045l281-106-2-4-281 106z"/><path color=#473ee1 d="M3064 1152l281-107-2-4-281 107z"/><path color=#463bde d="M3347 1049l281-106-2-4-281 106z"/><path color=#463ddf d="M3066 1156l281-107-2-4-281 107z"/><path color=#463adb d="M3348 1053l281-106-1-4-281 106zM3067 1160l281-107-1-4-281 107z"/><path color=#4639d9 d="M3350 1057l281-107-2-3-281 106zM3069 1163l281-106-2-4-281 107z"/><path color=#4538d7 d="M3352 1061l281-107-2-4-281 107zM3071 1167l281-106-2-4-281 106z"/><path color=#4537d5 d="M3353 1064l281-106-1-4-281 107zM3073 1171l280-107-1-3-281 106z"/><path color=#4535d2 d="M3355 1068l281-107-2-3-281 106zM3074 1174l281-106-2-4-280 107z"/><path color=#4434d0 d="M3357 1071l281-107-2-3-281 107zM3076 1178l281-107-2-3-281 106z"/><path color=#4433cd d="M3078 1181l281-107-2-3-281 107z"/><path color=#4332ca d="M3079 1184l281-107-1-3-281 107zM3081 1187l281-107-2-3-281 107z"/><path color=#4331c8 d="M3083 1190l281-107-2-3-281 107z"/><path color=#4330c5 d="M3085 1193l281-107-2-3-281 107z"/><path color=#422fc2 d="M3086 1196l281-107-1-3-281 107zM3088 1199l281-107-2-3-281 107z"/><path color=#422ebf d="M3090 1201l281-107-2-2-281 107z"/><path color=#412dbd d="M3092 1204l281-107-2-3-281 107zM3094 1207l281-107-2-3-281 107z"/><path color=#412cba d="M3095 1209l281-107-1-2-281 107zM3097 1212l281-108-2-2-281 107z"/><path color=#402bb7 d="M3099 1214l281-107-2-3-281 108zM3101 1216l281-107-2-2-281 107z"/><path color=#402ab4 d="M3103 1218l281-107-2-2-281 107zM3105 1221l281-108-2-2-281 107zM3107 1223l280-108-1-2-281 108z"/><path color=#3f29b1 d="M3108 1225l281-108-2-2-280 108zM3110 1227l281-108-2-2-281 108zM3112 1229l281-108-2-2-281 108z"/><path color=#3f28ae d="M3114 1231l281-108-2-2-281 108zM3116 1233l281-108-2-2-281 108zM3118 1234l281-107-2-2-281 108zM3120 1236l281-107-2-2-281 107z"/><path color=#3e27ab d="M3122 1238l281-108-2-1-281 107zM3124 1240l281-108-2-2-281 108zM3126 1242l281-108-2-2-281 108zM3128 1243l281-108-2-1-281 108zM3130 1245l281-108-2-2-281 108zM3132 1247l281-108-2-2-281 108zM3134 1248l281-108-2-1-281 108z"/><path color=#3e26a8 d="M3137 1250l280-108-2-2-281 108zM3139 1251l281-107-3-2-280 108zM3141 1253l281-108-2-1-281 107zM3143 1255l281-108-2-2-281 108zM3145 1256l281-108-2-1-281 108zM3148 1258l281-108-3-2-281 108zM3150 1259l281-107-2-2-281 108zM3152 1261l281-108-2-1-281 107zM3155 1263l281-108-3-2-281 108zM3157 1264l281-108-2-1-281 108zM3160 1266l281-108-3-2-281 108zM3163 1268l281-108-3-2-281 108zM3165 1270l281-108-2-2-281 108zM3168 1272l281-108-3-2-281 108zM3171 1274l281-108-3-2-281 108zM3175 1276l281-108-4-2-281 108zM3180 1279l280-108-4-3-281 108zM3184 1282l281-108-5-3-280 108zM3188 1284l281-108-4-2-281 108zM3191 1286l281-108-3-2-281 108zM3194 1288l281-108-3-2-281 108zM3197 1290l280-108-2-2-281 108zM3199 1292l281-108-3-2-280 108zM3202 1293l281-108-3-1-281 108zM3204 1295l281-108-2-2-281 108zM3207 1297l281-108-3-2-281 108zM3209 1298l281-108-2-1-281 108zM3211 1300l281-108-2-2-281 108zM3214 1301l281-108-3-1-281 108zM3216 1302l281-108-2-1-281 108zM3218 1304l281-108-2-2-281 108zM3220 1305l281-108-2-1-281 108zM3223 1306l281-108-3-1-281 108zM3225 1307l281-108-2-1-281 108z"/><path color=#3e27ab d="M3227 1308l281-107-2-2-281 108zM3229 1309l281-107-2-1-281 107zM3231 1310l281-107-2-1-281 107zM3233 1311l281-107-2-1-281 107zM3235 1312l281-107-2-1-281 107zM3237 1313l281-107-2-1-281 107zM3239 1314l281-108-2 0-281 107z"/><path color=#3f28ae d="M3241 1315l281-108-2-1-281 108zM3243 1315l281-107-2-1-281 108zM3245 1316l281-107-2-1-281 107zM3247 1317l281-108-2 0-281 107z"/><path color=#3f29b1 d="M3249 1317l281-107-2-1-281 108zM3251 1318l281-108-2 0-281 107zM3253 1318l281-107-2-1-281 108z"/><path color=#402ab4 d="M3254 1318l281-107-1 0-281 107zM3258 1319l281-107-2-1-281 108z"/><path color=#402bb7 d="M3260 1319l281-107-2 0-281 107zM3262 1319l281-107-2 0-281 107z"/><path color=#412cba d="M3265 1319l281-107-1 0-281 107z"/><path color=#412dbd d="M3267 1319l281-107-2 0-281 107z"/><path color=#4330c5 d="M3276 1316l281-106-2 0-281 107zM3559 1209l281-107-2 1-281 107z"/><path color=#4331c8 d="M3278 1316l281-107-2 1-281 106zM3561 1208l281-107-2 1-281 107z"/><path color=#4332ca d="M3281 1314l281-107-1 1-281 107z"/><path color=#4433cd d="M3564 1206l281-106-2 1-281 106zM3283 1313l281-107-2 1-281 107z"/><path color=#4434d0 d="M3566 1205l281-106-2 1-281 106zM3285 1312l281-107-2 1-281 107z"/><path color=#4535d2 d="M3568 1204l280-107-1 2-281 106zM3287 1311l281-107-2 1-281 107z"/><path color=#4537d5 d="M3569 1203l281-107-2 1-280 107zM3288 1309l281-106-1 1-281 107z"/><path color=#4538d7 d="M3571 1201l281-106-2 1-281 107zM3290 1308l281-107-2 2-281 106z"/><path color=#4639d9 d="M3573 1200l281-107-2 2-281 106zM3292 1306l281-106-2 1-281 107z"/><path color=#463adb d="M3574 1198l281-106-1 1-281 107zM3293 1304l281-106-1 2-281 106z"/><path color=#463bde d="M3576 1196l281-106-2 2-281 106z"/><path color=#463ddf d="M3295 1303l281-107-2 2-281 106zM3578 1194l281-106-2 2-281 106z"/><path color=#473ee1 d="M3297 1301l281-107-2 2-281 107zM3579 1192l281-106-1 2-281 106z"/><path color=#473fe3 d="M3298 1299l281-107-1 2-281 107z"/><path color=#4741e5 d="M3581 1190l281-106-2 2-281 106zM3300 1297l281-107-2 2-281 107z"/><path color=#4742e6 d="M3583 1188l281-106-2 2-281 106z"/><path color=#4744e8 d="M3302 1294l281-106-2 2-281 107zM3584 1186l281-106-1 2-281 106z"/><path color=#4745e9 d="M3303 1292l281-106-1 2-281 106z"/><path color=#4746eb d="M3586 1183l281-106-2 3-281 106z"/><path color=#4848ec d="M3305 1289l281-106-2 3-281 106zM3588 1180l281-105-2 2-281 106z"/><path color=#4849ed d="M3307 1286l281-106-2 3-281 106z"/><path color=#484bee d="M3589 1178l281-106-1 3-281 105z"/><path color=#484cf0 d="M3308 1284l281-106-1 2-281 106zM3591 1175l281-106-2 3-281 106z"/><path color=#484ef1 d="M3310 1281l281-106-2 3-281 106z"/><path color=#484ff2 d="M3592 1172l281-106-1 3-281 106z"/><path color=#4850f3 d="M3312 1277l280-105-1 3-281 106z"/><path color=#4852f4 d="M3594 1168l281-105-2 3-281 106z"/><path color=#4853f5 d="M3313 1274l281-106-2 4-280 105z"/><path color=#4854f6 d="M3596 1165l281-106-2 4-281 105z"/><path color=#4756f7 d="M3315 1271l281-106-2 3-281 106z"/><path color=#4757f7 d="M3597 1162l281-106-1 3-281 106z"/><path color=#4759f8 d="M3316 1267l281-105-1 3-281 106zM3599 1158l281-106-2 4-281 106z"/><path color=#475bfa d="M3318 1263l281-105-2 4-281 105zM3601 1154l280-105-1 3-281 106z"/><path color=#465efb d="M3320 1260l281-106-2 4-281 105z"/><path color=#4660fb d="M3602 1150l281-105-2 4-280 105z"/><path color=#4561fc d="M3321 1255l281-105-1 4-281 106z"/><path color=#4562fc d="M3604 1146l281-106-2 5-281 105z"/><path color=#4564fd d="M3323 1251l281-105-2 4-281 105z"/><path color=#4465fd d="M3605 1142l281-106-1 4-281 106z"/><path color=#4367fd d="M3324 1247l281-105-1 4-281 105z"/><path color=#4368fe d="M3607 1137l281-105-2 4-281 106z"/><path color=#426afe d="M3326 1242l281-105-2 5-281 105z"/><path color=#416bfe d="M3609 1132l280-105-1 5-281 105z"/><path color=#3f6eff d="M3328 1238l281-106-2 5-281 105z"/><path color=#3e70ff d="M3610 1128l281-106-2 5-280 105z"/><path color=#3c71ff d="M3329 1233l281-105-1 4-281 106z"/><path color=#3b73fe d="M3612 1123l281-106-2 5-281 106z"/><path color=#3974fe d="M3331 1228l281-105-2 5-281 105z"/><path color=#3677fe d="M3613 1117l281-105-1 5-281 106z"/><path color=#3579fd d="M3332 1222l281-105-1 6-281 105z"/><path color=#337afd d="M3615 1112l281-105-2 5-281 105z"/><path color=#317dfc d="M3334 1217l281-105-2 5-281 105z"/><path color=#307ffb d="M3616 1107l281-105-1 5-281 105z"/><path color=#2f80fa d="M3335 1211l281-104-1 5-281 105z"/><path color=#2e83f9 d="M3618 1101l281-105-2 6-281 105z"/><path color=#2e84f8 d="M3337 1206l281-105-2 6-281 104z"/><path color=#2e87f7 d="M3619 1095l281-105-1 6-281 105z"/><path color=#2d88f6 d="M3339 1200l280-105-1 6-281 105z"/><path color=#2d8af5 d="M3621 1089l281-105-2 6-281 105z"/><path color=#2d8cf3 d="M3340 1193l281-104-2 6-280 105z"/><path color=#2c8ef2 d="M3623 1082l280-104-1 6-281 105z"/><path color=#2b90f0 d="M3342 1187l281-105-2 7-281 104z"/><path color=#2b91ef d="M3624 1076l281-105-2 7-280 104z"/><path color=#2994ed d="M3343 1181l281-105-1 6-281 105z"/><path color=#2797eb d="M3626 1069l281-104-2 6-281 105z"/><path color=#2798ea d="M3345 1174l281-105-2 7-281 105z"/><path color=#269ae8 d="M3627 1062l281-104-1 7-281 104z"/><path color=#259be8 d="M3346 1167l281-105-1 7-281 105z"/><path color=#249ee6 d="M3629 1055l281-104-2 7-281 104z"/><path color=#23a0e5 d="M3348 1160l281-105-2 7-281 105z"/><path color=#22a2e4 d="M3630 1048l281-104-1 7-281 104z"/><path color=#21a3e3 d="M3349 1152l281-104-1 7-281 105z"/><path color=#1fa6e2 d="M3632 1040l281-104-2 8-281 104z"/><path color=#1da8e0 d="M3351 1145l281-105-2 8-281 104z"/><path color=#1caadf d="M3633 1033l281-105-1 8-281 104z"/><path color=#1babde d="M3352 1137l281-104-1 7-281 105z"/><path color=#19addb d="M3635 1025l281-104-2 7-281 105z"/><path color=#15afd9 d="M3354 1129l281-104-2 8-281 104z"/><path color=#12b1d6 d="M3636 1017l281-105-1 9-281 104z"/><path color=#0db3d4 d="M3355 1121l281-104-1 8-281 104z"/><path color=#08b4d1 d="M3638 1008l281-104-2 8-281 105z"/><path color=#06b5cf d="M3357 1112l281-104-2 9-281 104z"/><path color=#02b7ca d="M3639 1000l281-104-1 8-281 104z"/><path color=#01b8c9 d="M3358 1103l281-103-1 8-281 104z"/><path color=#02bac4 d="M3641 991l281-104-2 9-281 104z"/><path color=#03bbc2 d="M3360 1095l281-104-2 9-281 103z"/><path color=#0abdbd d="M3642 982l281-104-1 9-281 104z"/><path color=#10beba d="M3361 1085l281-103-1 9-281 104z"/><path color=#17bfb6 d="M3644 972l281-103-2 9-281 104z"/><path color=#1dc0b3 d="M3363 1076l281-104-2 10-281 103z"/><path color=#22c1af d="M3645 963l281-104-1 10-281 103z"/><path color=#27c2ac d="M3364 1066l281-103-1 9-281 104z"/><path color=#2cc4a6 d="M3647 953l281-104-2 10-281 104z"/><path color=#2fc5a3 d="M3366 1057l281-104-2 10-281 103z"/><path color=#32c69f d="M3648 943l281-104-1 10-281 104z"/><path color=#35c79b d="M3367 1046l281-103-1 10-281 104z"/><path color=#3ac994 d="M3650 933l281-104-2 10-281 104z"/><path color=#3eca90 d="M3369 1036l281-103-2 10-281 103z"/><path color=#42ca8b d="M3651 922l281-103-1 10-281 104z"/><path color=#48cb86 d="M3370 1026l281-104-1 11-281 103z"/><path color=#51cc7f d="M3653 911l281-103-2 11-281 103z"/><path color=#57cc7a d="M3372 1015l281-104-2 11-281 104z"/><path color=#61cd72 d="M3654 900l281-103-1 11-281 103z"/><path color=#67cd6c d="M3373 1004l281-104-1 11-281 104z"/><path color=#72cd64 d="M3656 889l281-103-2 11-281 103z"/><path color=#79cc5e d="M3375 992l281-103-2 11-281 104z"/><path color=#84cc56 d="M3657 878l281-103-1 11-281 103z"/><path color=#8bcb51 d="M3376 981l281-103-1 11-281 103z"/><path color=#9ac946 d="M3659 866l281-103-2 12-281 103z"/><path color=#a1c840 d="M3378 969l281-103-2 12-281 103z"/><path color=#abc739 d="M3660 854l281-103-1 12-281 103z"/><path color=#b1c635 d="M3379 957l281-103-1 12-281 103z"/><path color=#bbc42f d="M3662 841l281-102-2 12-281 103z"/><path color=#c1c32c d="M3381 944l281-103-2 13-281 103z"/><path color=#cdc028 d="M3663 829l281-103-1 13-281 102z"/><path color=#d3bf27 d="M3382 932l281-103-1 12-281 103z"/><path color=#dbbd29 d="M3664 816l281-103-1 13-281 103z"/><path color=#e3bc2c d="M3384 919l280-103-1 13-281 103z"/><path color=#eaba31 d="M3666 803l281-103-2 13-281 103z"/><path color=#f1ba37 d="M3385 905l281-102-2 13-280 103z"/><path color=#f7ba3c d="M3667 789l281-102-1 13-281 103z"/><path color=#fabb3d d="M3386 892l281-103-1 14-281 102z"/><path color=#fec03b d="M3669 776l281-103-2 14-281 102z"/><path color=#fec239 d="M3388 878l281-102-2 13-281 103z"/><path color=#fec834 d="M3670 762l281-103-1 14-281 103z"/><path color=#fdcd32 d="M3389 864l281-102-1 14-281 102z"/><path color=#fbd22f d="M3672 747l281-102-2 14-281 103z"/><path color=#f9d62d d="M3391 850l281-103-2 15-281 102z"/><path color=#f7dd2a d="M3673 733l281-102-1 14-281 102z"/><path color=#f6e028 d="M3392 835l281-102-1 14-281 103z"/><path color=#f5e626 d="M3675 718l281-102-2 15-281 102z"/><path color=#f5eb23 d="M3394 820l281-102-2 15-281 102z"/><path color=#f6f11f d="M3676 703l281-102-1 15-281 102z"/><path color=#f7f41c d="M3395 805l281-102-1 15-281 102z"/></g><path class="ax" d="M339.5 142.0L395.7 120.4M339.5 142.0L296.4 113.8M296.4 113.8L296.4 52.3M339.5 142.0L340.4 142.6M367.6 131.2L368.5 131.8M395.7 120.4L396.6 121.0M339.5 142.0L338.5 142.4M318.0 127.9L316.9 128.3M296.4 113.8L295.4 114.2M296.4 94.8L295.3 94.8M296.4 75.8L295.3 75.8M296.4 56.7L295.3 56.7"/><g class="lb" font-size="6.18"><text x="342.8" y="150.4">-200</text><text x="370.9" y="139.6">0</text><text x="399.0" y="128.7">200</text><text text-anchor="end" x="336.0" y="150.3">-200</text><text text-anchor="end" x="314.4" y="136.2">0</text><text text-anchor="end" x="292.9" y="122.1">200</text><text text-anchor="end" x="293.6" y="96.6">5</text><text text-anchor="end" x="293.6" y="77.6">10</text><text text-anchor="end" x="293.6" y="58.5">15</text><text text-anchor="middle" x="304.5" y="151.3">x<tspan font-size="4.9" dy="2.2">2</tspan></text><text text-anchor="middle" x="378.6" y="152.6">x<tspan font-size="4.9" dy="2.2">1</tspan></text><text x="277.3" y="44.8">×10<tspan font-size="4.9" dy="-2.8">10</tspan></text></g><text class="tt" text-anchor="middle" font-size="6.80" x="346.0" y="28.7">Parameter space</text>
<!-- plot 4 --><path class="gr" d="M475.1 139.5L421.8 107.4M421.8 107.4L421.8 37.3M492.6 133.3L439.3 101.2M439.3 101.2L439.3 31.1M510.1 127.1L456.9 95.0M456.9 95.0L456.9 24.9M527.7 120.8L474.4 88.7M474.4 88.7L474.4 18.7M475.1 139.5L544.5 114.9M544.5 114.9L544.5 44.8M461.6 131.4L531.0 106.8M531.0 106.8L531.0 36.7M448.2 123.3L517.6 98.7M517.6 98.7L517.6 28.6M434.7 115.2L504.1 90.6M504.1 90.6L504.1 20.5M421.8 88.7L491.2 64.0M491.2 64.0L544.5 96.1M421.8 69.9L491.2 45.3M491.2 45.3L544.5 77.4M421.8 51.2L491.2 26.6M491.2 26.6L544.5 58.7"/><g fill="none" transform="scale(.1)" stroke-width="6.0"><path stroke="#484ff2" d="M4894 1290l-10-6 10 6M5107 1217l-3-1 3 1M4971 1256l-3-2 3 2M5087 1215l-7-4 7 4M5171 1185l-6 1 3-3 3 2M4942 1259l-5 0 0-4 5 4M4984 1244l-4-3 4-8 16-4-5 11-11 4M5029 1231l-7-5 7 5M5089 1206l-33 3 21-10 8 0 8 5-4 2M5110 1199l-5 1 1-4 4 3M4946 1251l-10 1-1-7 11 6M5040 1217l-5-3 5 3M4864 1272l-5-3 5 3M4909 1259l-14-8 14 8M4971 1236l-15-9 15 5 0 4M5014 1221l-9-5 10 0-1 5M5097 1191l-6-4 6 4M5128 1179l-9 0 3-3 6 0 0 3M5169 1164l-41-11 1-3 15-3 3 3-5 6 10-3 17 11M4918 1244l-12-5 4-1 8 6M5098 1181l-7 1-3-7 6-2-15-10-13-1-1 6 9 9-17 1-3-7-18-1 1-5 12-3 0-4-16-2-1-4 5-7 14-2 12 2-3 9 33 4-2 8 31-3 0 3-11 3-1 9-12 3M4875 1258l-13-3 2-3 11 6M4973 1217l-3-2 6 0-3 2M5059 1188l-11 1 7-4 4 3M5175 1147l-5-1 5 1M4839 1257l-5 0-4-5 20-1-11 6M4881 1242l-4 0 4 0M4945 1220l-4-2 9-5 6 1-11 6M4987 1205l-37 4 2-5 12-3 26 1-3 3M5020 1195l-10 0-3-7 13 7M4802 1255l-11 2-2-7-7-5-21-8 7-13 5 1 8 13 12 1 14-11-14-3 3-14 20-1-12 11 17 2-3 9 18 3-38 7 1 5 17 1 0 5-14 2M4857 1237l-10 0 11-4-1 4M4886 1225l-2-2 2 2M4909 1218l-11 1-7-5 0-7 21 7-3 4M4930 1211l-11 1-13-11-19 4-41-4-2 6 18 3-4 8 4 6-3 5-7-1-3-5 8-5-14-3-11-11-10-4 1-3 19 1 1-6M4860 1189l2-9 14-2 7-6M4891 1178l-11 3-5 8 3 6 20-3 11-14 54 10 7 6-28 2-10-4 7 14-9 5M5131 1141l-6-4 6 4M5018 1173l-28-10 3-4 10 0 15 14M5077 1148l10-4-9-12 3-9-21-5M5010 1133l8 5-7 2M5061 1109l19 7M5097 1125l-3 14-17 9M5152 1123l-14-5 8-2 6 7M5177 1108l-9 0 3-4 6 1 0 3M4972 1166l-6-4-5 7-9 0 6-12 9-1M4983 1158l-4 9 4 6M5020 1155l-6 0-1-5 10 2-3 3M5060 1138l-22-3M5043 1129l2 1M5065 1129l-5 9M5138 1105l-3-2 9-5 5 3-11 4M4720 1246l-9 1 5-4 4 3M4744 1240l-7-4 5 0 2 4M4995 1149l-13 2 5-7 9 2-1 3M4744 1230l-6-1-15-22 35 0-2 10-12 13M4775 1218l-5 0 5 0M4703 1235l-12-7 20 2 5-7 16 1-29 11M4788 1206l-4-12 28 2-9 9-15 1M4829 1190l-22 0-10-5M4779 1184l-22 0 2-5 11 0M4801 1173l8-5M4830 1189l-1 1M4887 1161l4 6-17-1M4870 1167l-4 5M5067 1103l-8-6 4-6 7-7 9 2 1 4-13 13M4712 1220l-9-5 9 5M4811 1180l9-3-9 3M4743 1199l-17-4-4-14-18 5-11-2-4-7-38-9-16-10-35-5 33-10 0 8 29 5 24 15 12 1-10-16 38 8M4762 1170l-24 13-2 9 16 3-9 4M4684 1204l-25-5-1 5-8 3-8-13 13-7 12 6 19 1 11 4-13 6M4812 1160l-14 2 9-5M4714 1176l10 1 2-5-11 0-1 4M4730 1155l-30-12M4621 1196l-6 0 0-3 13-3 5 3-12 3M4661 1180l7-3-7 3M4693 1149l-29-1 6-10-13-1 0 10-24-4 14-12 28-3 1 8 24 7-7 6M4676 1128l2-9M4635 1088l-22 0M4599 1078l-7 30-27-3-3-5 14-2 1-5-7-8 14-2 2-9M4598 1172l-8 2 5-3 26-8-23 9M4575 1158l-5 0 5 0M4620 1135l-42-11 2-3 19 1 1-9 25 2 2 4-10 7 15-4 10 3 4 6-26 4M4669 1114l-30-4-9-5 2-3 9 0 7 5 10 0M4559 1139l-20-1 1-11 19 12M4566 1122l-3-1 3 1M4588 1116l-7-1 1-3 10-1-4 5M4619 1104l-6 0 0-4 7 2-1 2M4549 1113l-3-2 3 2M4559 1098l-24-4-15 4 14-5-4-12 11 2 18 15M4506 1097l-17-3-2-9 24 1-5 11M4562 1080l-8-2-5-16 17 4-4 14M4541 1077l-8 1 8-1M4475 1078l-8 0 7-11 10 5-9 6M4527 1059l-9 1 5-4 10-1-6 4M4548 1051l-10 2 6-4 8-1-4 3M4533 1052l-7-2 7 2M4513 1040l-14-4-1-4 17-2-2 10"/><path stroke="#2f80fa" d="M5086 1265l-24-11-14-2-18 5 6-10-34-3 4 13-21-3-3 5 26 14-6 12-9 1-7-5 1-9-22 1-14 5-17-2-4-6-10-5-11 4 7 6-24 31 5 6 23 0-12 7-6-1-5-6-17 0-23 7-5-4 11-4-4-8 4-9-9-5 1-8-6-8-6 6-14 2 7 6-11 12 0 8 4 5-25-13-2-4 9-5-1-9-9-4-17-3 4 15-4 5-70-10 28-5 33-16-9 0-8 6-26 1 13-9-6-4-22 7-2 5 11 3-3 5-19-5-6-5-16-2-6-6-19-1-11-7 19 2 3-6-13-3-4-7-22 0-8-5 13-8 19 1 1-9 13-2 0-6-47 7-22-3-17 4-1-4 10-5 15 0-1-7-36-3-20-15 18 8 39-4 18-9 2-8-30 11-15 1-21-4 2-8-23-3-14 8 3 6-16-10 6-9-22 0 8-10-11-3-15 4 25-8 15 2 4 6 9-1 6-20-11-11-23-6-7 6-41-4-19 5-2-8 11-3 1-20 17 0-6-8-33 5-7 6-19-5 4-4 21 2-2-11 35-9 0-10 22 3 7-6 13-1 5 6 7 0 13-14-58 4-1-7-10-4 3-9-15-10 14-5-4 9 13 4 6-1 6-7 18 1M4510 1025l14 2 9-5-3-12 7-5M5177 1078l9 0-3 9 26 6 3 6-6 6-11 4-5 6 33 1 4-6-8-7 22 2-1 16 20 1-15 17-2 4 6 9-55-3 0 4 9 4 22 8 18 1-2 11-17 0-5 6 12 3 5 6-12 5-12 13-28 0-28-5-5-6-26-2-17 9 26-1-4 6-22-4 12 11-2 6-14-1-35-10-10 3 14 3-4 9 14 3 1 12-14 2 5 12 15 2-4 6M5167 1233l-14-4 0-4 11 0 3 8M4938 1306l-3-2 3 2M5047 1271l-8-1 0-3 15-3-7 7M5105 1246l7-6 8 5-15 1M5182 1222l-10 0-6-5 1-4 23 3-8 6M4952 1295l-33-6 0-4 10-4 24 4-1 10M4973 1288l-5-1 8-3-3 4M5017 1263l-4-2 4 2M5105 1236l-11-1 2-4 10-1-1 6M5146 1220l-8-1 2-3 16-3-10 7M5187 1201l13 2 0-11 22 4 3-8-49 0-8 5 4 6 15 2M5045 1244l8 1 2-4-5-14 6-10-32 0 0 4 16 9-2 6-23-4 4 6 26 6M5273 1166l-7 0 2-3 5 3M4845 1311l-9 0 9 0M4950 1270l15 2-1-14-12-4-6 10 4 6M4804 1316l-4 0 4 0M4847 1302l-7-1-1-4 9 2-1 3M4869 1291l10 0 0-3-7-1-3 4M4988 1249l12-4-12 4M5094 1211l11-3-11 3M5179 1181l3-1-3 1M5267 1152l-8 1 12-4-4 3M4887 1277l4-1-4 1M5128 1192l5 0-4-9-11 0 0 4 10 5M5148 1185l6 0 4-12-25-1 4 9 11 4M5182 1172l-6-4 6 4M5270 1144l-4-3 4 3M4789 1307l-10 1-4-7 6-2 9 5-1 3M4865 1277l8-3-8 3M5048 1212l7 4-7-4M4872 1267l14-2 3-4-25 1 8 5M4912 1253l6 1 1-4-9-1 2 4M4953 1238l5-1-14-11-14-5-18 1 8 5-4 6 2 2 9 4 4-7 15 1 7 5M4993 1224l11 1-12-8-16 5 17 2M5047 1205l9-3-10-2 1 5M5102 1185l5-1-5 1M5177 1159l-20-13 20 13M4829 1274l8 2 0-10 13-3-1-3-16 4-37-1 9 4 1 8 23-1M5032 1203l6-3-6 3M5072 1188l6 1 0-3-12-4 6 6M5217 1137l20-3 2-5-37-6-9 5-28 3-9 12 31 1 2-9 28 2M4879 1249l14-5-14 5M4957 1221l9 1-3-3-6 2M4989 1210l18-3 5-5-12 1-11 7M4898 1234l6-2-6 2M5026 1189l3 1-3-1M5045 1182l5-1-12-6 7 7M5079 1170l-9-5 9 5M5099 1163l4-1-4 1M4838 1248l16-3 1-3-20 2 3 4M4986 1196l-8-6 8 6M5101 1155l6-2-7-1 1 3M5083 1154l5-2-5 2M5112 1143l7 0-7 0M5168 1124l21-8-22-4 1 12M4774 1255l9-1-7-7-18 1 2 5 14 2M4844 1231l-12-9 0 5 12 4M5023 1167l3-1-6-2 3 3M5117 1134l17-1-3-4-22-2-10 5 18 2M5245 1089l-4 1 4-1M5023 1159l4 0-4 0M4870 1206l5 2-5-2M4953 1176l4-1-4 1M5131 1113l7-2-8-1 1 3M5170 1100l11 0 2-5-27-10-2 12 16 3M4989 1156l12-3-12 3M5102 1116l8 2-2-4-6 2M4656 1267l-6 2 6-2M4725 1242l10 2-3-12-12 4 5 6M4885 1185l7-2-7 2M5081 1108l-4 1M5107 1106l3-1-3 1M4695 1245l8 0 2-4-9 0-1 4M4908 1169l4 1-4-1M5185 1073l-7-4 9 1-2 3M4675 1244l9-3-9 3M5189 1065l-11 1M5190 1061l-1 4M4631 1252l-5-3 5 3M4680 1235l6 0-7-8 4-4 23 2-8-5-26-3-9 8 17 10M4725 1219l-8-6 8 6M4686 1209l8-3-8 3M4611 1230l-16-4 7-2 9 6M4634 1205l4 1-4-1M4667 1185l5 1 0-3-5 2M4637 1188l7-2-10-3 3 5M4558 1208l-8-5 22 1-14 4M4620 1186l4-1-8-2 4 3M4643 1178l12-4-10-4-2 8M4684 1164l-9-6 9 6M4629 1168l14 1-15-9 1 8M4538 1186l-8 1-1-6 17 1-8 4M4585 1168l8-3-7 0-1 3M4605 1161l8-3-8 3M4588 1159l6 1-1-3-12-5 7 7M4624 1139l3-1-3 1M4547 1158l12 0 3-5-13 0-2 5M4585 1145l15-2 8-7-30 3-4-6-22-9 14 12 0 7-4 2 23 0M4621 1109l8 1-8-1M4626 1099l14-2-3-2-11 4M4493 1139l12-3-12 3M4554 1117l4-1-4 1M4574 1110l4-1-4 1M4464 1142l2-9-10-6 23 1 3 7-4 5-14 2M4511 1129l-12 0 2-5 12 0-2 5M4529 1118l10-1-5-4-5 5M4557 1108l-5-6-25 1 30 5M4507 1111l5-2 2-9-12 4 5 7M4479 1113l5-2-8-2 3 4M4574 1079l4-1-4 1M4479 1105l7-2-6-2-1 4M4514 1093l5-2-5 2M4580 1060l-2 2M4405 1116l-2 1 2-1M4498 1083l9-3-13-1 4 4M4514 1077l11-4-15-5-2 3 6 6M4421 1105l-13 2 2-8 13 3-2 3M4533 1063l4 2 0-4-4 2M4547 1058l12 0-1-4-11 4M4492 1070l5-2-19-9 14 11M4451 1076l13-4-13 4M4538 1046l6-3-6 3M4409 1078l-6 0-3-5 14 1-5 4M4521 1036l3-1-3 1M4538 1030l8 0 3-4-12-1 1 5M4443 1058l-9 1 4-3 5 2M4394 1069l-10 0 20-7-10 7M4483 1034l3-1-3 1M4416 1053l-6-1 1-3 6 1-1 3M4440 1047l-9-2 9-3 0 5M4441 1037l-7-1 0-3 7 0 0 4M4484 1013l-6 0 1-3 6 0-1 3M4390 1037l-7-4 7 4M4415 1021l-3-1 8-2-5 3"/><path stroke="#1baade" d="M4914 1337l2-3 9-1M4937 1329l-2-4 14 0M4952 1323l-5-5-26-1-4 7-12 3-1 9-26-5-5 5 11 4 1 5-28 5 10-6 3-7-12-3 1-5 8-5 24-5-1-4-25 8-23-4-25 5 12 5 20 0-6 11-14 4-2-3 5-6-19-3-3 8-10-1 0-8-35-18 5 6-3 5-13 0-5-13-7-2-13 3-7 6-14-1-2-6-15-3 16-13-37 1-8-1-2-7-19-1-1-9 16 4 10-4-6-5-22 0-10-4-5-6 2-9-16-2 8-11-19 0 5-6-2-3-43 7 6-7 12-2-1-12-25 1-25-7-1-7-27-6 8-10-11-4-3-7 4-2-28-2-21 5-12-4-2-2 12-3 16-1 0-3-29-14 10 5 32 0 0-10 3-2-22 0 5-10-9-4 0-8 16 0-5-4-34 11-5 7-8-1 2-13 10-4-2-10-11 2-3 8-12 3-8-5 9-7-26-6 2-6 18 1 6-4-13-3 10-11-28 2 6-15 28-13-19-2-1 9-13 2-19 19-3 8-10-5 10-15 9-4-16-5 3-4 27-3 2-5-14-13 24 5 0-3-10-4 5-6 19 5-2 8 9 3 7-6 18 0-8-6-13-3-3-6-32-4M4982 1313l10-11-35-4-16 14 16 2 7 5M5021 1299l0-3 8-5 18-1M5107 1269l7-8 12 1M5145 1255l-4-6-49-1 8 8-6 13-33 11-46 2-18 18 3 6M5183 1242l9-11-18-4-9 13 14 3M5241 1221l-22 3-7 7M5271 1211l-9-5 1-6 16 0-5-13 4-2-7-6-8 1-6 16-18 0-12 7 17 2-1 8 18 1M5305 1198l-11 1-4 5M5058 1271l10 3 6-9-20-10-6 4 14 2-4 10M5192 1223l10 1-2-4-8 3M5214 1215l8 1 10-7-18 6M5313 1180l-12-3-6-8 14 5 4 6M5335 1173l-12-4-1-4 13 8M4905 1309l15-5-17 2 2 3M4962 1282l5-2-5 2M5244 1182l8 1-1-4-7 3M4779 1332l-7 1 7-1M4810 1312l5-1-8-3 3 4M4793 1311l4-2-4 2M5255 1147l3-2-6-2 3 4M5314 1130l-9-1-1-5 10 2 0 4M4725 1329l-4-2 4 2M5313 1120l-6 0 3-2 10-2-7 4M4756 1300l7 2 8-7-26-4-26 4-1 3 38 2M5228 1133l5-2-5 2M5231 1101l3-1-7-5-13-5 17 11M4672 1292l8 0 5-5-12 1-1 4M4705 1280l5-2-5 2M5213 1084l9 1-1-4-6 0-2 3M5189 1085l12-4-12 4M5216 1075l9-3-8 0-1 3M4627 1280l-12-7 12 4 0 3M4663 1264l7 2-3-4-4 2M4643 1263l7-2-14-6-1 3 8 5M5199 1066l9 0 4-5-12 1-1 4M4595 1251l-5 0 1-3 6 1-2 2M4560 1250l-5-2 5 2M4611 1221l4 2-4-2M4556 1228l-6-1 6 1M4538 1226l-14 2 1-10 8-1 5 9M4534 1209l9 0 0-3-7-1-2 4M4537 1200l8 0 6-6-9-5-5 7 0 4M4538 1177l5-2-5 2M4483 1193l-7-4 7 4M4505 1181l8 0 0-3-11-3 3 6M4481 1182l7-3-7 3M4489 1171l12 3-4-6-11-4 3 7M4419 1145l-7-1 0-4 10 1-3 4M4382 1133l-4-3 4 3M4429 1107l8-3-8 3M4368 1124l-16-9 17-2 11 4-12 7M4413 1082l3-1-3 1M4370 1095l-9-2 1-3 8 0 0 5M4426 1070l3-1-3 1M4384 1077l12 3-4-6-7 0-1 3M4411 1060l12-5-17 1 5 4M4434 1028l11 1-11-8-5 1 5 6M4461 1011l5 1 2-3-15-5-13 3-9 7 30-3M4334 1043l-5-3 5 3M4379 1017l23-3 10-9M4446 993l13 5 7-4-13-3M4476 988l-6 4M5199 1043l-6 10 50 13 5 4-14 2 4 11 15 3-7 10 43 0-20 23 17 1 7 21 7 1 3-8 26 2 5 6-14-3-9 3 5 6 11 4-3 4-38 3-2-7 13-2 1-3-7-1-22 11 10 4 4 7-4 9 32 19"/><path stroke="#29c3a9" d="M4826 1368l-4-6 1-8-35-3-8-5 9-11-29 5-26-1-21-8-19-1-4-6-19-1 1-5 10-7-22 0 5-9-32-4 1-8-7-6-30-4-6-6-24-7-1-3 12-3 1-6-39-2 12-12-20 0-3-7-12-3 1-8-16-3 3-8-17-2-17-17-26 1 0-3 11-4 3-5-34-3-12 3-8-4 0-11 18 0 4-5-19-1-2-7-17-2-14-10-1-8-14-2-1-8-22 1-5-14-13-3 0-8-14-3 6-7 20 6-3 9 36-5-46-15 10-5-16-9 15-2 4-4-9-5 1-3 18-4-15-2-5-14M4847 1361l-4 1M4878 1350l-5 1M5067 1283l-10 3M5385 1163l-11-7 11 7M4810 1360l-5-3 5 3M4839 1348l16-5-16 5M4775 1359l-10 0 1-5 10 1-1 4M4800 1347l4-2-4 2M5373 1145l-5-2 5 2M4758 1349l-5-3 6 0-1 3M5371 1134l-10-6 10 6M4737 1330l8 1 0-3-10-3 2 5M5305 1113l13-1 3-4-28-1 12 6M4633 1314l-1-11 9 0 5 6-13 5M4617 1304l-3 0 3 0M4621 1297l-20-4 4-6 9 2 7 8M5275 1066l-11 0 0-6 11 2 0 4M5233 1062l2-1-2 1M4594 1265l10-3-10-1 0 4M4598 1256l6 0-6 0M4574 1249l3-1-3 1M4499 1233l-6-3 5 0 1 3M4515 1216l5-2-5 2M4498 1207l7 0-6-4-1 4M4487 1187l6 2-6-2M4383 1163l-4-2 4 2M4399 1149l10 0-5-10 3-8-11 0-10 7 13 11M4361 1140l-2-1 2 1M4358 1109l3-1-3 1M4355 1087l3-1-3 1M4296 1071l-3-2 3 2M4300 1063l-7 0 7-3 0 3M4302 1044l7 5-7 5-13-5M4325 1036l20 3 2-11M4385 1015l10-4M5219 1032l-9 7 9 4 13-4 4 4-15 1 14 9 5-9 7-4 6-1 5 6 4 13-13 3 8 7-1 7-17 0 8 5 18 1 5-8 12-2 22 3-24 5-3 6 53 4-13 12 19 1-7 7 1 3 27 6-3 6-29 3 13 5 3 7 16 2-14 7 2 11-14 2 17 14-2 5-11 3 0 5"/><path stroke="#82cc57" d="M4809 1374l-8-5-55 5-7-6 17 0 0-6-10-12-10-4 4 12-16 0-6-5 7-11-23-7-6 7-27-3 10-7-3-3-32-4-18-9 2-9-21 0 4-9-18 2M5360 1171l10 3-4-5-6 2M4796 1364l5 1-5-1M5402 1143l-6 0 2-3 5 0-1 3M5404 1134l-5-3 7 1-2 2M4724 1369l-4-3 4 3M5365 1101l-7 1-18-9-13 5 15 2-3 9 41 1 2 7-4 9 5 6 0 16 18 1 7 8-5 7-15 5M4669 1345l5 4M4646 1316l10 2-3-4-7 2M5326 1077l0 6 19 6M5297 1060l-13 2 2 4 32 6M5264 1051l3-1-3 1M4573 1288l-1-7-16-3M4554 1272l11 1-3-4-8 3M4545 1271l-1-4-8-1M5233 1031l7 5 12-3M4538 1262l11-4-9 0-2 4M4515 1253l-5-12-17-1M4491 1239l-3-6-8-1M4485 1226l4-1-4 1M4471 1226l-5-3M4468 1217l15-4-14-8-1 12M4456 1218l1-5-7-5-9 0M4424 1198l17 0-7-15-24 7M4399 1183l1-11-4-6-20-1-16-5M4390 1160l6 1 0-3-6 2M4349 1153l-4-3M4367 1145l3 1-3-1M4337 1146l15-1 1-3-30-5-1-7-13-3 7-11-4-6-20 0 9-19-35 5 13-6-1-6-8-5 0-4 17 0-5-8 10-11-10-4-16 11-12-2M4351 1127l4-1-4 1M4307 1058l4-2-4 2"/><path stroke="#ebba32" d="M4771 1388l-13-9 26 4M4804 1376l-28 2-11-5-32 11M5431 1140l-25 5 6 8 17 1M4725 1379l16 0-27-10 0-7-15-3 2-8-17-6-2 9M5390 1137l3-1-3 1M5415 1130l-3 7 14 0M5401 1122l0 4 7 1M4662 1342l-2-8-7 2M4641 1329l-13-8M4503 1245l-3-1M4317 1133l-4-2M4301 1114l2 1-2-1M4287 1116l0-20-12 2-4 8M4250 1093l10-4 2-7-4-7-18 2-5 7M4225 1078l10-4 7-8"/><path stroke="#f5e227" d="M4763 1391l-12-6-3 8M5435 1143l-2 2 6 0M4720 1376l-6-3M4226 1071l5-2"/></g><g class="sf" transform="scale(.1)"><path class=U d="M4909 337l14-26-11-74-13 80z"/><path class=M d="M4882 439l14-143-10 71-14-52z"/><path class=T d="M4869 365l13 74-10-124-13 160z"/><path class=G d="M4856 511l13-146-10 110-13-4z"/><path class=u d="M4802 659l14-195-11 1-13 1z"/><path class=v d="M4789 645l13 14-10-193-13 175zM4776 655l13-10-10-4-14-31z"/><path class=u d="M4762 664l14-9-11-45-13 45z"/><path class=r d="M4736 712l13-110-10 82-14-101z"/><path class=G d="M4722 564l14 148-11-129-13 114z"/><path class=p d="M4709 745l13-181-10 133-13-40z"/><path class=u d="M4696 691l13 54-10-88-14-85z"/><path class=D d="M4682 606l14 85-11-119-13 33z"/><path class=C d="M4669 623l13-17-10-1-13 29z"/><path class=A d="M4655 654l14-31-10 11-14 68z"/><path class=q d="M4629 765l13-161-10-3-13 89z"/><path class=o d="M4589 801l13-137-10 43-14-56z"/><path class=w d="M4575 711l14 90-11-150-13 85z"/><path class=v d="M4562 726l13-15-10 25-13-122z"/><path class=r d="M4549 778l13-52-10-112-14 18z"/><path class=u d="M4535 743l14 35-11-146-13 14z"/><path class=v d="M4522 738l13 5-10-97-13 140z"/><path class=o d="M4509 824l13-86-10 48-14-164z"/><path class=u d="M4495 762l14 62-11-202-13 133z"/><path class=o d="M4469 841l13-101-10-40-14-1z"/><path class=s d="M4455 800l14 41-11-142-13 78zM4442 803l13-3-10-23-13-97z"/><path class=A d="M4429 731l13 72-10-123-14-10z"/><path class=v d="M4415 780l14-49-11-61-13 46z"/><path class=x d="M4402 765l13 15-10-64-13 8z"/><path class=u d="M4388 804l14-39-10-41-14-49z"/><path class=F d="M4375 700l13 104-10-129-13 88z"/><path class=S d="M4295 575l13 59-10-69-13-20z"/><path class=G d="M4282 717l13-142-10-30-14 1z"/><path class=W d="M4255 543l13 90-10-16-13-32zM4242 548l13-5-10 42-14-129z"/><path class=X d="M4228 548l14 0-11-92-13 69z"/><path class=V d="M4919 336l14 14-10-39-14 26z"/><path class=K d="M4906 460l13-124-10 1-13-41z"/><path class=G d="M4893 512l13-52-10-164-14 143z"/><path class=J d="M4879 485l14 27-11-73-13-74z"/><path class=L d="M4866 462l13 23-10-120-13 146z"/><path class=x d="M4853 609l13-147-10 49-14-83z"/><path class=u d="M4839 648l14-39-11-181-13 41z"/><path class=H d="M4826 524l13 124-10-179-13-5z"/><path class=w d="M4813 640l13-116-10-60-14 195z"/><path class=q d="M4786 713l13-131-10 63-13 10z"/><path class=w d="M4773 656l13 57-10-58-14 9z"/><path class=t d="M4759 685l14-29-11 8-13-62z"/><path class=q d="M4746 726l13-41-10-83-13 110z"/><path class=u d="M4732 684l14 42-10-14-14-148z"/><path class=q d="M4719 742l13-58-10-120-13 181z"/><path class=v d="M4692 690l14 12-10-11-14-85z"/><path class=A d="M4679 650l13 40-10-84-13 17z"/><path class=w d="M4666 695l13-45-10-27-14 31z"/><path class=o d="M4652 779l14-84-11-41-13-50zM4639 791l13-12-10-175-13 161z"/><path class=t d="M4612 740l14 17-11-98-13 5z"/><path class=B d="M4599 674l13 66-10-76-13 137z"/><path class=p d="M4586 802l13-128-10 127-14-90zM4572 800l14 2-11-91-13 15z"/><path class=q d="M4559 799l13 1-10-74-13 52z"/><path class=p d="M4532 817l14-138-11 64-13-5z"/><path class=q d="M4519 805l13 12-10-79-13 86z"/><path class=u d="M4492 776l14-27-11 13-13-22z"/><path class=q d="M4479 820l13-44-10-36-13 101z"/><path class=A d="M4372 766l13-7-10-59-13 16z"/><path class=L d="M4345 650l14 48-11-42-13 116z"/><path class=K d="M4279 686l13-121-10 152-14-84z"/><path class=X d="M4265 544l14 142-11-53-13-90z"/><path class=zf d="M4252 454l13 90-10-1-13 5z"/><path class=zg d="M4238 453l14 1-10 94-14 0z"/><path class=T d="M4916 372l14-100-11 64-13 124z"/><path class=I d="M4863 510l13-71-10 23-13 147z"/><path class=u d="M4823 671l13-82-10-65-13 116z"/><path class=B d="M4796 614l13 7-10-39-13 131z"/><path class=r d="M4783 712l13-98-10 99-13-57z"/><path class=m d="M4769 779l14-67-10-56-14 29zM4729 785l14-96-11-5-13 58z"/><path class=l d="M4703 807l13-19-10-86-14-12z"/><path class=r d="M4676 749l13-86-10-13-13 45z"/><path class=k d="M4663 838l13-89-10-54-14 84z"/><path class=t d="M4609 753l14-71-11 58-13-66z"/><path class=m d="M4596 838l13-85-10-79-13 128z"/><path class=s d="M4556 788l13-72-10 83-13-120z"/><path class=y d="M4542 725l14 63-10-109-14 138z"/><path class=q d="M4502 819l14-12-10-58-14 27z"/><path class=o d="M4489 855l13-36-10-43-13 44z"/><path class=B d="M4422 747l14 27-11-66-13 92z"/><path class=u d="M4409 810l13-63-10 53-13-106z"/><path class=y d="M4396 768l13 42-10-116-14 65z"/><path class=t d="M4356 838l13-123-10-17-14-48z"/><path class=S d="M4302 595l13 162-10-72-13-120z"/><path class=J d="M4289 695l13-100-10-30-13 121z"/><path class=X d="M4249 561l13-55-10-52-14-1z"/><path class=W d="M4940 334l13 6-10-29-13-39zM4927 343l13-9-10-62-14 100z"/><path class=L d="M4913 461l14-118-11 29-13 62z"/><path class=P d="M4900 430l13 31-10-27-13 79z"/><path class=F d="M4886 545l14-115-10 83-14-74z"/><path class=v d="M4873 644l13-99-10-106-13 71z"/><path class=y d="M4860 614l13 30-10-134-13 52z"/><path class=E d="M4846 570l14 44-10-52-14 27z"/><path class=w d="M4833 654l13-84-10 19-13 82z"/><path class=o d="M4820 748l13-94-10 17-14-50z"/><path class=u d="M4806 685l14 63-11-127-13-7z"/><path class=l d="M4793 788l13-103-10-71-13 98z"/><path class=o d="M4753 766l13-11-10-107-13 41z"/><path class=w d="M4740 681l13 85-10-77-14 96z"/><path class=n d="M4700 800l13-125-10 132-14-144z"/><path class=j d="M4686 844l14-44-11-137-13 86z"/><path class=s d="M4673 755l13 89-10-95-13 89z"/><path class=o d="M4646 804l14-2-11-73-13 57z"/><path class=p d="M4633 802l13 2-10-18-13-104z"/><path class=v d="M4619 736l14 66-10-120-14 71z"/><path class=p d="M4566 819l13-44-10-59-13 72zM4539 835l14-65-11-45-13-2z"/><path class=o d="M4526 851l13-16-10-112-13 84z"/><path class=p d="M4459 859l14-8-11-16-13-117z"/><path class=t d="M4446 816l13 43-10-141-13 56z"/><path class=G d="M4339 720l13 105-10 3-13-20z"/><path class=C d="M4326 770l13-50-10 88-14-51z"/><path class=H d="M4299 730l13-119-10-16-13 100z"/><path class=Z d="M4259 541l13 111-10-146-13 55z"/><path class=U d="M4950 365l13-31-10 6-13-6z"/><path class=Q d="M4937 410l13-45-10-31-13 9z"/><path class=I d="M4923 503l14-93-10-67-14 118z"/><path class=E d="M4910 555l13-52-10-42-13-31z"/><path class=J d="M4897 499l13 56-10-125-14 115z"/><path class=s d="M4883 689l14-190-11 46-13 99z"/><path class=q d="M4857 714l13-7-10-93-14-44z"/><path class=y d="M4843 631l14 83-11-144-13 84z"/><path class=s d="M4803 719l14-22-11-12-13 103z"/><path class=o d="M4790 763l13-44-10 69-13-92z"/><path class=j d="M4777 828l13-65-10-67-14 59z"/><path class=n d="M4750 792l13-97-10 71-13-85z"/><path class=q d="M4737 764l13 28-10-111-14 83zM4723 771l14-7-11 0-13-89z"/><path class=r d="M4710 757l13 14-10-96-13 125z"/><path class=m d="M4643 843l13-98-10 59-13-2z"/><path class=h d="M4630 899l13-56-10-41-14-66z"/><path class=n d="M4616 837l14 62-11-163-13-5z"/><path class=t d="M4603 772l13 65-10-106-13 112z"/><path class=k d="M4576 882l14-94-11-13-13 44z"/><path class=y d="M4483 765l13 135-10-128-13 79z"/><path class=W d="M4296 569l13 134-10 27-13-9z"/><path class=U d="M4283 599l13-30-10 152-14-69z"/><path class=zd d="M4269 505l14 94-11 53-13-111z"/><path class=W d="M4960 351l14-51-11 34-13 31z"/><path class=E d="M4947 552l13-201-10 14-13 45z"/><path class=C d="M4934 579l13-27-10-142-14 93z"/><path class=M d="M4920 474l14 105-11-76-13 52z"/><path class=C d="M4907 593l13-119-10 81-13-56z"/><path class=A d="M4894 612l13-19-10-94-14 190z"/><path class=m d="M4840 781l14-169-11 19-13-2z"/><path class=s d="M4827 718l13 63-10-152-13 68z"/><path class=p d="M4814 758l13-40-10-21-14 22z"/><path class=s d="M4800 729l14 29-11-39-13 44z"/><path class=h d="M4787 852l13-123-10 34-13 65z"/><path class=m d="M4760 806l13-128-10 17-13 97zM4707 826l13-57-10-12-14 30z"/><path class=o d="M4693 811l14 15-11-39-13 7z"/><path class=g d="M4680 902l13-91-10-17-13-48z"/><path class=h d="M4667 898l13 4-10-156-14-1z"/><path class=m d="M4653 846l14 52-11-153-13 98zM4613 861l14-105-11 81-13-65z"/><path class=k d="M4600 888l13-27-10-89-13 16z"/><path class=m d="M4587 868l13 20-10-100-14 94z"/><path class=u d="M4400 851l13 97-10-52-14-106z"/><path class=y d="M4360 817l13-30-10-75-14 149z"/><path class=x d="M4346 831l14-14-11 44-13-179z"/><path class=P d="M4306 658l14 142-11-97-13-134z"/><path class=J d="M4293 725l13-67-10-89-13 30z"/><path class=X d="M4279 572l14 153-10-126-14-94z"/><path class=W d="M4971 358l13 35-10-93-14 51z"/><path class=F d="M4957 541l14-183-11-7-13 201z"/><path class=y d="M4931 627l13-90-10 42-14-105z"/><path class=w d="M4917 649l14-22-11-153-13 119zM4904 653l13-4-10-56-13 19z"/><path class=B d="M4891 614l13 39-10-41-14 23z"/><path class=n d="M4877 766l14-152-11 21-13-27z"/><path class=m d="M4864 777l13-11-10-158-13 4z"/><path class=s d="M4850 722l14 55-10-165-14 169z"/><path class=l d="M4824 802l13-106-10 22-13 40z"/><path class=n d="M4810 787l14 15-10-44-14-29z"/><path class=r d="M4797 746l13 41-10-58-13 123z"/><path class=i d="M4784 853l13-107-10 106-14-174z"/><path class=r d="M4770 759l14 94-11-175-13 128zM4730 772l14-52-11 20-13 29z"/><path class=j d="M4637 898l13-92-10 52-13-102z"/><path class=o d="M4623 845l14 53-10-142-14 105z"/><path class=C d="M4410 779l13 70-10 99-13-97z"/><path class=H d="M4343 742l13 87-10 2-13-72z"/><path class=O d="M4316 676l14 125-10-1-14-142z"/><path class=Q d="M4290 659l13 22-10 44-14-153z"/><path class=P d="M4981 432l13-91-10 52-13-35zM4968 440l13-8-10-74-14 183z"/><path class=y d="M4954 629l14-189-11 101-13-4z"/><path class=G d="M4941 550l13 79-10-92-13 90z"/><path class=r d="M4927 707l14-157-10 77-14 22zM4901 724l13-154-10 83-13-39z"/><path class=l d="M4887 787l14-63-10-110-14 152z"/><path class=i d="M4847 841l14-154-11 35-13-26z"/><path class=k d="M4834 824l13 17-10-145-13 106z"/><path class=n d="M4807 798l14 48-11-59-13-41z"/><path class=p d="M4794 778l13 20-10-52-13 107z"/><path class=m d="M4767 821l14 60-11-122-13 115z"/><path class=t d="M4741 757l13-11-10-26-14 52z"/><path class=o d="M4727 814l14-57-11 15-13 27z"/><path class=m d="M4714 841l13-27-10-15-13-59z"/><path class=t d="M4700 771l14 70-10-101-14 144z"/><path class=o d="M4620 853l14 22-11-30-13-59z"/><path class=e d="M4607 974l13-121-10-67-13 139z"/><path class=E d="M4393 768l14 108-10 0-14 27z"/><path class=q d="M4380 918l13-150-10 135-13-14z"/><path class=B d="M4367 812l13 106-10-29-14-60z"/><path class=O d="M4340 678l13 178-10-114-13 59z"/><path class=J d="M4327 733l13-55-10 123-14-125z"/><path class=Q d="M4313 668l14 65-11-57-13 5z"/><path class=O d="M4300 687l13-19-10 13-13-22z"/><path class=T d="M4991 396l13-74-10 19-13 91z"/><path class=B d="M4978 606l13-210-10 36-13 8z"/><path class=M d="M4964 484l14 122-10-166-14 189z"/><path class=E d="M4938 588l13-49-10 11-14 157z"/><path class=o d="M4924 758l14-170-11 119-13-137z"/><path class=y d="M4911 645l13 113-10-188-13 154z"/><path class=l d="M4898 794l13-149-10 79-14 63z"/><path class=u d="M4858 708l13-38-10 17-14 154z"/><path class=l d="M4804 834l14-73-11 37-13-20z"/><path class=n d="M4791 819l13 15-10-56-13 103z"/><path class=f d="M4764 917l13-158-10 62-13-75z"/><path class=q d="M4751 793l13 124-10-171-13 11z"/><path class=o d="M4737 827l14-34-10-36-14 57zM4697 831l14-44-11-16-13 51z"/><path class=k d="M4684 888l13-57-10-9-13-3z"/><path class=i d="M4671 915l13-27-10-69-14-15z"/><path class=p d="M4657 835l14 80-11-111-13 4z"/><path class=s d="M4444 877l13 107-10-32-14 25z"/><path class=n d="M4430 942l14-65-11 100-13-140z"/><path class=F d="M4390 767l14 70-11-69-13 150z"/><path class=v d="M4377 871l13-104-10 151-13-106z"/><path class=C d="M4350 811l14 23-11 22-13-178z"/><path class=X d="M4310 601l14 156-11-89-13 19z"/><path class=I d="M5001 529l14-10-11-197-13 74z"/><path class=L d="M4988 493l13 36-10-133-13 210z"/><path class=x d="M4975 653l13-160-10 113-14-122z"/><path class=J d="M4961 526l14 127-11-169-13 55z"/><path class=D d="M4948 604l13-78-10 13-13 49z"/><path class=r d="M4935 725l13-121-10-16-14 170z"/><path class=n d="M4908 778l13-27-10-106-13 149z"/><path class=q d="M4868 765l13-29-10-66-13 38zM4855 770l13-5-10-57-14 24z"/><path class=r d="M4841 763l14 7-11-38-13 87z"/><path class=o d="M4828 805l13-42-10 56-13-58z"/><path class=r d="M4814 772l14 33-10-44-14 73z"/><path class=d d="M4774 938l14-152-11-27-13 158z"/><path class=m d="M4748 848l13 70-10-125-14 34z"/><path class=i d="M4708 911l13-8-10-116-14 44z"/><path class=k d="M4694 896l14 15-11-80-13 57z"/><path class=G d="M4387 763l14 139-11-135-13 104z"/><path class=E d="M4374 795l13-32-10 108-13-37z"/><path class=L d="M4361 721l13 74-10 39-14-23z"/><path class=J d="M4347 745l14-24-11 90-13-53z"/><path class=U d="M4334 629l13 116-10 13-13-1z"/><path class=Y d="M4320 589l14 40-10 128-14-156z"/><path class=F d="M4998 568l14-78-11 39-13-36z"/><path class=C d="M4985 611l13-43-10-75-13 160z"/><path class=r d="M4958 735l14-196-11-13-13 78z"/><path class=A d="M4945 645l13 90-10-131-13 121z"/><path class=l d="M4932 807l13-162-10 80-14 26z"/><path class=q d="M4865 774l13-60-10 51-13 5z"/><path class=g d="M4851 888l14-114-10-4-14-7z"/><path class=h d="M4838 885l13 3-10-125-13 42z"/><path class=f d="M4825 909l13-24-10-80-14-33z"/><path class=g d="M4811 907l14 2-11-137-13 62z"/><path class=h d="M4798 896l13 11-10-73-13-48z"/><path class=k d="M4785 871l13 25-10-110-14 152z"/><path class=m d="M4491 954l13 74-10-22-13-9z"/><path class=u d="M4438 886l13-9-10 38-14 55z"/><path class=p d="M4424 942l14-56-11 84-13-145z"/><path class=C d="M4357 833l14 17-10-129-14 24z"/><path class=T d="M4344 653l13 180-10-88-13-116z"/><path class=P d="M4331 699l13-46-10-24-14-40z"/><path class=I d="M5022 535l13-100-10 42-13 13z"/><path class=J d="M5009 535l13 0-10-45-14 78z"/><path class=B d="M4995 625l14-90-11 33-13 43z"/><path class=v d="M4968 694l14-122-10-33-14 196z"/><path class=p d="M4955 759l13-65-10 41-13-90z"/><path class=x d="M4942 681l13 78-10-114-13 162zM4915 692l13 25-10-48-13 41z"/><path class=n d="M4902 799l13-107-10 18-14 34zM4888 810l14-11-11-55-13-30z"/><path class=h d="M4875 883l13-73-10-96-13 60z"/><path class=i d="M4862 878l13 5-10-109-14 114z"/><path class=d d="M4768 961l14-171-11 11-13 41z"/><path class=e d="M4675 991l13-153-10 41-14 126z"/><path class=k d="M4501 977l14-48-11 99-13-74z"/><path class=A d="M4421 840l13 99-10 3-13-20z"/><path class=t d="M4408 916l13-76-10 82-14-74z"/><path class=L d="M4368 734l13 80-10 36-14-17z"/><path class=K d="M4354 759l14-25-11 99-13-180z"/><path class=Q d="M4341 693l13 66-10-106-13 46z"/><path class=u d="M5005 695l14-219-10 59-14 90z"/><path class=v d="M4992 690l13 5-10-70-13-53z"/><path class=B d="M4979 640l13 50-10-118-14 122z"/><path class=q d="M4965 762l14-122-11 54-13 65z"/><path class=l d="M4952 817l13-55-10-3-13-78z"/><path class=x d="M4939 691l13 126-10-136-14 36z"/><path class=m d="M4925 820l14-129-11 26-13-25z"/><path class=t d="M4912 741l13 79-10-128-13 107z"/><path class=e d="M4872 923l13-153-10 113-13-5z"/><path class=f d="M4778 949l14 22-10-181-14 171zM4685 979l13-103-10-38-13 153z"/><path class=G d="M4405 791l13 91-10 34-14-12z"/><path class=y d="M4391 878l14-87-11 113-13-90z"/><path class=I d="M4378 772l13 106-10-64-13-80z"/><path class=M d="M4351 746l14 41-11-28-13-66z"/><path class=F d="M5042 584l14-69-11-111-13 25z"/><path class=I d="M5029 556l13 28-10-155-13 47z"/><path class=v d="M5016 695l13-139-10-80-14 219z"/><path class=u d="M4989 714l13-30-10 6-13-50z"/><path class=x d="M4976 689l13 25-10-74-14 122z"/><path class=l d="M4936 838l13-113-10-34-14 129z"/><path class=f d="M4922 904l14-66-11-18-13-79z"/><path class=v d="M4909 737l13 167-10-163-13 65z"/><path class=j d="M4895 866l14-129-10 69-14-36z"/><path class=l d="M4882 852l13 14-10-96-13 153z"/><path class=m d="M4829 866l13 62-10-49-14-83z"/><path class=i d="M4815 913l14-47-11-70-13 80z"/><path class=q d="M4548 916l14 0-11 134-13-74z"/><path class=p d="M4535 931l13-15-10 60-13 51z"/><path class=u d="M4508 884l14 169-11 1-13-115z"/><path class=E d="M4388 827l13 75-10-24-13-106z"/><path class=N d="M4375 738l13 89-10-55-13 15z"/><path class=O d="M4361 730l14 8-10 49-14-41z"/><path class=A d="M5026 651l13-111-10 16-13 139z"/><path class=n d="M4986 807l13-194-10 101-13-25z"/><path class=r d="M4972 765l14 42-10-118-14 27z"/><path class=i d="M4959 873l13-108-10-49-13 9z"/><path class=q d="M4946 789l13 84-10-148-13 113z"/><path class=l d="M4906 858l13-44-10-77-14 129z"/><path class=j d="M4879 891l13-82-10 43-13 40zM4852 892l14-15-11-57-13 108z"/><path class=g d="M4826 938l13-112-10 40-14 47z"/><path class=p d="M4532 947l13-22-10 6-13 122z"/><path class=u d="M4519 894l13 53-10 106-14-169z"/><path class=w d="M4492 881l13 13-10 149-13-24z"/><path class=s d="M4478 927l14-46-10 138-14-35z"/><path class=E d="M4425 826l13 74-10 23-13-12z"/><path class=w d="M4412 903l13-77-10 85-14-9z"/><path class=H d="M4398 804l14 99-11-1-13-75z"/><path class=O d="M4385 726l13 78-10 23-13-89z"/><path class=Q d="M4372 710l13 16-10 12-14-8z"/><path class=R d="M5063 460l13-18-10 11-13-3z"/><path class=N d="M5049 518l14-58-10-10-14 90z"/><path class=G d="M5036 593l13-75-10 22-13 111z"/><path class=y d="M5023 681l13-88-10 58-13-2z"/><path class=w d="M5009 705l14-24-10-32-14-36z"/><path class=m d="M4996 820l13-115-10-92-13 194z"/><path class=l d="M4969 846l14-91-11 10-13 108zM4943 855l13 38-10-104-14 6z"/><path class=i d="M4929 891l14-36-11-60-13 19z"/><path class=k d="M4916 871l13 20-10-77-13 44z"/><path class=c d="M4889 967l14-189-11 31-13 82z"/><path class=g d="M4863 930l13-66-10 13-14 15z"/><path class=d d="M4849 978l14-48-11-38-13-66z"/><path class=b d="M4836 998l13-20-10-152-13 112z"/><path class=d d="M4823 978l13 20-10-60-14-82z"/><path class=b d="M4809 1006l14-28-11-122-13-30z"/><path class=p d="M4796 861l13 145-10-180-13 149z"/><path class=x d="M4475 888l14 117-11-78-13 75z"/><path class=r d="M4462 958l13-70-10 114-13-11z"/><path class=t d="M4449 942l13 16-10 33-14-91z"/><path class=H d="M4409 808l13 99-10-4-14-99z"/><path class=O d="M4395 739l14 69-11-4-13-78zM4382 744l13-5-10-13-13-16z"/><path class=E d="M5073 618l13-181-10 5-13 18z"/><path class=C d="M5060 643l13-25-10-158-14 58z"/><path class=L d="M5046 550l14 93-11-125-13 75z"/><path class=x d="M5033 691l13-141-10 43-13 88z"/><path class=u d="M5020 730l13-39-10-10-14 24z"/><path class=m d="M5006 831l14-101-11-25-13 115z"/><path class=i d="M4966 884l14-156-11 118-13 47z"/><path class=k d="M4900 883l13-97-10-8-14 189z"/><path class=j d="M4579 1011l13 60-10 2-13-22z"/><path class=r d="M4552 928l14 91-11 5-13-5z"/><path class=s d="M4539 929l13-1-10 91-13-61z"/><path class=u d="M4526 915l13 14-10 29-14 73z"/><path class=o d="M4512 981l14-66-11 116-13-15z"/><path class=n d="M4499 996l13-15-10 35-13-11z"/><path class=w d="M4446 921l13 69-10-48-14-8z"/><path class=x d="M4432 905l14 16-11 13-13-27z"/><path class=C d="M4419 868l13 37-10 2-13-99z"/><path class=M d="M4392 763l14 37-11-61-13 5z"/><path class=I d="M5083 581l14-149-11 5-13 181z"/><path class=u d="M5057 728l13-122-10 37-14-93z"/><path class=H d="M5043 599l14 129-11-178-13 141z"/><path class=r d="M5030 776l13-177-10 92-13 39z"/><path class=p d="M5017 805l13-29-10-46-14 101z"/><path class=u d="M4977 758l13 13-10-43-14 156z"/><path class=g d="M4923 929l13-122-10 51-13-72z"/><path class=e d="M4910 964l13-35-10-143-13 97z"/><path class=c d="M4856 997l14-171-11 85-13-30z"/><path class=m d="M4843 897l13 100-10-116-13 95zM4816 899l14 10-11-47-13 121z"/><path class=t d="M4496 944l13-61-10 113-13 19z"/><path class=n d="M4483 1014l13-70-10 71-14-38z"/><path class=x d="M4469 901l14 113-11-37-13 13z"/><path class=D d="M4456 855l13 46-10 89-13-69z"/><path class=x d="M4442 916l14-61-10 66-14-16z"/><path class=B d="M4429 884l13 32-10-11-13-37z"/><path class=Q d="M4416 723l13 161-10-16-13-68z"/><path class=M d="M4402 774l14-51-10 77-14-37zM5094 535l13 6-10-109-14 149z"/><path class=y d="M5067 688l13-169-10 87-13 122z"/><path class=w d="M5054 722l13-34-10 40-14-129z"/><path class=C d="M5040 673l14 49-11-123-13 177z"/><path class=k d="M5013 872l14-158-10 91-14-79z"/><path class=w d="M5000 741l13 131-10-146-13 45z"/><path class=s d="M4987 788l13-47-10 30-13-13z"/><path class=l d="M4973 868l14-80-10-30-14 150z"/><path class=o d="M4947 846l13-52-10 52-14-39z"/><path class=s d="M4933 807l14 39-11-39-13 122z"/><path class=m d="M4893 892l14-51-11-27-13 43z"/><path class=g d="M4880 958l13-66-10-35-13-31z"/><path class=i d="M4867 945l13 13-10-132-14 171z"/><path class=d d="M4840 1005l13-120-10 12-13 12z"/><path class=c d="M4813 1027l14-104-11-24-13 116z"/><path class=F d="M4479 832l14 155-10 27-14-113z"/><path class=J d="M4453 800l13 145-10-90-14 61z"/><path class=A d="M4439 901l14-101-11 116-13-32z"/><path class=L d="M4426 782l13 119-10-17-13-161z"/><path class=T d="M4413 698l13 84-10-59-14 51z"/><path class=L d="M5090 563l14-85-10 57-14-16z"/><path class=K d="M5077 574l13-11-10-44-13 169z"/><path class=q d="M5050 801l14-156-10 77-14-49z"/><path class=s d="M5037 777l13 24-10-128-13 41z"/><path class=r d="M5024 796l13-19-10-63-14 158z"/><path class=m d="M4997 866l13-109-10-16-13 47zM4984 865l13 1-10-78-14 80z"/><path class=l d="M4944 893l13-100-10 53-14-39z"/><path class=o d="M4930 856l14 37-11-86-13 35z"/><path class=i d="M4904 942l13-109-10 8-14 51z"/><path class=e d="M4890 984l14-42-11-50-13 66z"/><path class=g d="M4583 1072l13 9-10 10-13-152z"/><path class=p d="M4530 998l13-28-10 51-14-138z"/><path class=t d="M4503 955l13 47-10-2-13-13z"/><path class=v d="M4490 935l13 20-10 32-14-155z"/><path class=D d="M4463 872l13 47-10 26-13-145z"/><path class=L d="M4450 788l13 84-10-72-14 101z"/><path class=I d="M4436 830l14-42-11 113-13-119z"/><path class=P d="M4423 756l13 74-10-48-13-84z"/><path class=H d="M5114 610l13-64-10 25-13-93z"/><path class=E d="M5101 639l13-29-10-132-14 85zM5087 654l14-15-11-76-13 11z"/><path class=C d="M5074 677l13-23-10-80-13 71z"/><path class=v d="M5061 745l13-68-10-32-14 156z"/><path class=s d="M5034 785l13 14-10-22-13 19z"/><path class=l d="M5021 872l13-87-10 11-14-39z"/><path class=t d="M5007 792l14 80-11-115-13 109z"/><path class=i d="M4954 932l13-131-10-8-13 100z"/><path class=m d="M4940 895l14 37-10-39-14-37z"/><path class=g d="M4927 964l13-69-10-39-13-23z"/><path class=k d="M4914 918l13 46-10-131-13 109z"/><path class=o d="M4847 900l13 137-10-147-13-2zM4834 906l13-6-10-12-14 2z"/><path class=k d="M4820 958l14-52-11-16-13 148z"/><path class=p d="M4607 980l13 81-10 46-14-26z"/><path class=i d="M4593 1059l14-79-11 101-13-9z"/><path class=l d="M4580 1032l13 27-10 13-13-24z"/><path class=B d="M4527 881l13 67-10 50-14 4z"/><path class=E d="M4487 864l13 129-10-58-14-16z"/><path class=L d="M4473 785l14 79-11 55-13-47z"/><path class=N d="M4460 775l13 10-10 87-13-84z"/><path class=L d="M4446 803l14-28-10 13-14 42z"/><path class=S d="M4433 731l13 72-10 27-13-74z"/><path class=D d="M5124 655l14-215-11 106-13 64z"/><path class=x d="M5098 723l13-132-10 48-14 15z"/><path class=m d="M5044 863l14-170-11 106-13-14z"/><path class=l d="M5031 877l13-14-10-78-13 87z"/><path class=m d="M4964 891l13-56-10-34-13 131z"/><path class=n d="M4897 903l14 10-11-34-13 154z"/><path class=f d="M4844 1014l13-118-10 4-13 6z"/><path class=j d="M4831 975l13 39-10-108-14 52z"/><path class=m d="M4630 1011l14 32-11 40-13-22z"/><path class=k d="M4590 1043l14-65-11 81-13-27z"/><path class=C d="M4510 887l13 63-10 86-13-43z"/><path class=H d="M4497 840l13 47-10 106-13-129z"/><path class=I d="M4457 841l13-32-10-34-14 28z"/><path class=O d="M4443 773l14 68-11-38-13-72zM5135 538l13-58-10-40-14 215z"/><path class=x d="M5121 727l14-189-11 117-13-64z"/><path class=I d="M5108 615l13 112-10-136-13 132z"/><path class=r d="M5094 796l14-181-10 108-14-93z"/><path class=u d="M5081 773l13 23-10-166-13 52z"/><path class=w d="M5068 750l13 23-10-91-13 11z"/><path class=p d="M5054 831l14-81-10-57-14 170z"/><path class=r d="M5014 833l14 13-11-51-13-17z"/><path class=j d="M5001 918l13-85-10-55-13 67z"/><path class=p d="M4988 858l13 60-10-73-14-10z"/><path class=h d="M4974 957l14-99-11-23-13 56z"/><path class=d d="M4961 1003l13-46-10-66-13 42z"/><path class=i d="M4948 948l13 55-10-70-14-72z"/><path class=n d="M4934 904l14 44-11-87-13 49z"/><path class=f d="M4921 996l13-92-10 6-13 3z"/><path class=j d="M4894 957l14-51-11-3-13 138z"/><path class=y d="M4534 921l13 83-10 2-14-56z"/><path class=T d="M4467 722l13 208-10-121-13 32z"/><path class=J d="M4454 836l13-114-10 119-14-68z"/><path class=Q d="M5145 523l13-17-10-26-13 58z"/><path class=H d="M5131 627l14-104-10 15-14 189z"/><path class=u d="M5105 776l13-176-10 15-14 181z"/><path class=q d="M5078 823l13-93-10 43-13-23z"/><path class=p d="M5065 845l13-22-10-73-14 81z"/><path class=n d="M5038 878l13-122-10-12-13 102z"/><path class=j d="M5025 925l13-47-10-32-14-13z"/><path class=o d="M5011 867l14 58-11-92-13 85z"/><path class=f d="M4998 976l13-109-10 51-13-60z"/><path class=d d="M4985 1007l13-31-10-118-14 99z"/><path class=i d="M4931 966l14-59-11-3-13 92z"/><path class=e d="M4904 1018l14-58-10-54-14 51z"/><path class=i d="M4878 991l13-30-10-24-13-43z"/><path class=f d="M4864 1028l14-37-10-97-14-2z"/><path class=n d="M4851 946l13 82-10-136-13 89z"/><path class=q d="M4677 969l14 67-10 62-14 31zM4664 970l13-1-10 160-13-94z"/><path class=y d="M4557 921l14 149-11 4-13-70z"/><path class=r d="M4544 1003l13-82-10 83-13-83z"/><path class=F d="M4517 865l14 121-11-71-13-13z"/><path class=U d="M4477 711l14 166-11 53-13-208z"/><path class=W d="M4464 698l13 13-10 11-13 114z"/><path class=P d="M5155 545l13 23-10-62-13 17z"/><path class=x d="M5142 741l13-196-10-22-14 104z"/><path class=E d="M5128 676l14 65-11-114-13-27z"/><path class=C d="M5115 698l13-22-10-76-13 176z"/><path class=y d="M5088 747l14-10-11-7-13 93z"/><path class=s d="M5048 821l14-58-11-7-13 122z"/><path class=h d="M5022 954l13-82-10 53-14-58z"/><path class=n d="M4941 914l14 93-10-100-14 59z"/><path class=k d="M4848 988l13 62-10-104-13-12z"/><path class=o d="M4568 1037l13-101-10 134-14-149z"/><path class=D d="M4554 886l14 151-11-116-13 82z"/><path class=w d="M4541 961l13-75-10 117-13-17zM4528 959l13 2-10 25-14-121z"/><path class=H d="M4487 869l14 49-10-41-14-166z"/><path class=L d="M4474 827l13 42-10-158-13-13z"/><path class=J d="M5165 610l14-140-11 98-13-23z"/><path class=B d="M5152 704l13-94-10-65-13 196z"/><path class=y d="M5112 744l13-63-10 17-13 39z"/><path class=p d="M5099 844l13-100-10-7-14 10z"/><path class=u d="M5085 800l14 44-11-97-13 7z"/><path class=n d="M5072 879l13-79-10-46-13 9z"/><path class=o d="M5058 873l14 6-10-116-14 58z"/><path class=r d="M5045 851l13 22-10-52-13 51z"/><path class=m d="M5032 908l13-57-10 21-13 82z"/><path class=f d="M4992 999l13-146-10 70-14 86z"/><path class=p d="M4938 911l14 45-11-42-13 37z"/><path class=e d="M4925 1029l13-118-10 40-13-59z"/><path class=b d="M4912 1075l13-46-10-137-14 46z"/><path class=j d="M4872 997l13-92-10 23-14 122z"/><path class=J d="M4538 839l13 140-10-18-13-2z"/><path class=F d="M4524 891l14-52-10 120-14 20z"/><path class=G d="M4511 882l13 9-10 88-13-61z"/><path class=L d="M4498 830l13 52-10 36-14-49z"/><path class=Q d="M4484 780l14 50-11 39-13-42z"/><path class=I d="M5176 635l13-117-10-48-14 140zM5162 634l14 1-11-25-13 94z"/><path class=x d="M5149 752l13-118-10 70-13-62z"/><path class=u d="M5135 792l14-40-10-110-14 39z"/><path class=y d="M5122 754l13 38-10-111-13 63z"/><path class=n d="M5109 873l13-119-10-10-13 100z"/><path class=p d="M5095 861l14 12-10-29-14-44z"/><path class=h d="M5082 951l13-90-10-61-13 79z"/><path class=p d="M5055 871l14 1-11 1-13-22z"/><path class=j d="M5042 944l13-73-10-20-13 57z"/><path class=f d="M5029 999l13-55-10-36-14-18z"/><path class=g d="M5015 987l14 12-11-109-13-37z"/><path class=o d="M5002 908l13 79-10-134-13 146z"/><path class=i d="M4935 999l14-52-11-36-13 118zM4882 1018l13-81-10-32-13 92z"/><path class=y d="M4588 936l13 146-10-46-13 26z"/><path class=o d="M4575 1055l13-119-10 126-14 1z"/><path class=G d="M4561 869l14 186-11 8-13-84z"/><path class=y d="M4548 953l13-84-10 110-13-140z"/><path class=N d="M4521 813l14 74-11 4-13-9z"/><path class=M d="M4508 820l13-7-10 69-13-52z"/><path class=L d="M4495 839l13-19-10 10-14-50z"/><path class=N d="M5186 587l13-20-10-49-13 117z"/><path class=B d="M5159 724l13-144-10 54-13 118z"/><path class=m d="M5092 901l14-135-11 95-13 90z"/><path class=o d="M5052 902l14-56-11 25-13 73zM4999 911l13 26-10-29-13 135z"/><path class=n d="M4972 938l14 113-11-126-13 41z"/><path class=d d="M4945 1056l14-80-10-29-14 52z"/><path class=m d="M4892 981l13-61-10 17-13 81z"/><path class=p d="M4665 1025l13 39-10 47-13 1z"/><path class=o d="M4652 1043l13-18-10 87-14-22z"/><path class=n d="M4612 1059l13 59-10-40-14 4z"/><path class=l d="M4598 1086l14-27-11 23-13-146z"/><path class=r d="M4572 1030l13-34-10 59-14-186z"/><path class=J d="M4545 852l13 1-10 100-13-66z"/><path class=R d="M4518 778l14 82-11-47-13 7z"/><path class=U d="M4505 747l13 31-10 42-13 19z"/><path class=G d="M5196 667l13-40-10-60-13 20z"/><path class=M d="M5183 600l13 67-10-80-14-7z"/><path class=J d="M5169 640l14-40-11-20-13 144z"/><path class=w d="M5129 791l14-79-11-15-13 37z"/><path class=n d="M5116 890l13-99-10-57-13 32z"/><path class=j d="M5103 945l13-55-10-124-14 135z"/><path class=o d="M5063 907l13-58-10-3-14 56z"/><path class=c d="M5036 1045l13-181-10 16-13 149z"/><path class=d d="M4996 1047l13-81-10-55-13 140z"/><path class=j d="M4916 1010l13-34-10-4-14-52z"/><path class=c d="M4902 1090l14-80-11-90-13 61z"/><path class=j d="M4862 1026l14 17-11-104-13 161z"/><path class=v d="M4635 971l14 26-11 5-13 116z"/><path class=y d="M4622 953l13 18-10 147-13-59z"/><path class=s d="M4609 1023l13-70-10 106-14 27z"/><path class=A d="M4595 950l14 73-11 63-13-90z"/><path class=C d="M4582 925l13 25-10 46-13 34z"/><path class=u d="M4569 1013l13-88-10 105-14-177z"/><path class=G d="M4528 902l14 22-10-64-14-82z"/><path class=Y d="M4515 710l13 192-10-124-13-31z"/><path class=F d="M5206 686l14-146-11 87-13 40zM5193 685l13 1-10-19-13-67z"/><path class=H d="M5180 668l13 17-10-85-14 40z"/><path class=A d="M5166 759l14-91-11-28-13 93z"/><path class=w d="M5153 792l13-33-10-26-13-21z"/><path class=t d="M5140 826l13-34-10-80-14 79z"/><path class=o d="M5086 904l13-65-10 54-13-44z"/><path class=r d="M5073 877l13 27-10-55-13 58z"/><path class=m d="M5059 933l14-56-10 30-14-43zM5046 937l13-4-10-69-13 181z"/><path class=j d="M4966 1004l13-90-10 37-13-7zM4953 1013l13-9-10-60-14 23z"/><path class=e d="M4939 1063l14-50-11-46-13 9z"/><path class=j d="M4926 1018l13 45-10-87-13 34z"/><path class=E d="M4592 915l13 134-10-99-13-25z"/><path class=C d="M4579 938l13-23-10 10-13 88z"/><path class=J d="M4565 870l14 68-10 75-14-80z"/><path class=F d="M4552 914l13-44-10 63-13-9z"/><path class=Q d="M4539 797l13 117-10 10-14-22z"/><path class=O d="M4525 826l14-29-11 105-13-192z"/><path class=M d="M5217 608l13-84-10 16-14 146z"/><path class=B d="M5203 743l14-135-11 78-13-1z"/><path class=D d="M5190 722l13 21-10-58-13-17z"/><path class=F d="M5176 709l14 13-10-54-14 91z"/><path class=p d="M5163 877l13-168-10 50-13 33z"/><path class=t d="M5150 834l13 43-10-85-13 34z"/><path class=w d="M5123 807l13-18-10 2-13 78z"/><path class=f d="M5096 1008l14-135-11-34-13 65z"/><path class=k d="M5083 957l13 51-10-104-13-27z"/><path class=e d="M5070 1027l13-70-10-80-14 56z"/><path class=h d="M5056 999l14 28-11-94-13 4z"/><path class=d d="M5043 1055l13-56-10-62-13 106z"/><path class=e d="M5016 1047l14-58-11 5-13-98z"/><path class=i d="M5003 1008l13 39-10-151-13 111z"/><path class=b d="M4990 1093l13-85-10-1-14-93z"/><path class=q d="M4976 930l14 163-11-179-13 90z"/><path class=h d="M4909 1053l14 54-10-57-14-94z"/><path class=q d="M4896 964l13 89-10-97-13 118z"/><path class=r d="M4629 1045l13 15-10 19-13-105z"/><path class=H d="M4589 895l13 162-10-142-13 23z"/><path class=Q d="M4562 798l14 45-11 27-13 44z"/><path class=J d="M4549 884l13-86-10 116-13-117z"/><path class=N d="M4536 840l13 44-10-87-14 29z"/><path class=F d="M5227 694l13-184-10 14-13 84z"/><path class=E d="M5213 712l14-18-10-86-14 135z"/><path class=C d="M5187 748l13-79-10 53-14-13z"/><path class=r d="M5173 862l14-114-11-39-13 168z"/><path class=m d="M5147 920l13-100-10 14-14-45z"/><path class=u d="M5133 836l14 84-11-131-13 18z"/><path class=s d="M5120 868l13-32-10-29-13 66z"/><path class=m d="M4973 987l13 23-10-80-13 21z"/><path class=h d="M4960 1045l13-58-10-36-14 111z"/><path class=a d="M4893 1146l13-106-10-76-13 18z"/><path class=r d="M4719 1024l14 9-10 73-14 63z"/><path class=k d="M4706 1098l13-74-10 145-13-55z"/><path class=u d="M4679 1006l14 156-11-30-13-23z"/><path class=q d="M4666 1053l13-47-10 103-13-9z"/><path class=v d="M4653 1005l13 48-10 47-14-40z"/><path class=x d="M4626 992l13 93-10-40-13-88z"/><path class=w d="M4599 1006l14 72-11-21-13-162z"/><path class=J d="M4559 888l14-57-11-33-13 86z"/><path class=U d="M4546 766l13 122-10-4-13-44z"/><path class=D d="M5237 720l13-115-10-95-13 184z"/><path class=C d="M5210 742l14-89-11 59-13-43z"/><path class=G d="M5197 706l13 36-10-73-13 79z"/><path class=n d="M5157 919l13-167-10 68-13 100z"/><path class=j d="M5144 968l13-49-10 1-14-84z"/><path class=o d="M5130 916l14 52-11-132-13 32z"/><path class=m d="M5117 942l13-26-10-48-13-24z"/><path class=f d="M5103 1025l14-83-10-98-14 62z"/><path class=l d="M5090 961l13 64-10-119-13 72z"/><path class=m d="M5063 964l14-5-10-27-14 21z"/><path class=c d="M5050 1078l13-114-10-11-13 128z"/><path class=l d="M5023 990l14 25-11-105-13 173z"/><path class=d d="M4997 1085l13 15-10-103-14 13z"/><path class=g d="M4983 1056l14 29-11-75-13-23z"/><path class=h d="M4970 1053l13 3-10-69-13 58z"/><path class=g d="M4903 1088l14-94-11 46-13 106z"/><path class=k d="M4703 1110l13-16-10 4-13 64z"/><path class=o d="M4690 1073l13 37-10 52-14-156z"/><path class=D d="M4636 933l14 194-11-42-13-93zM4623 938l13-5-10 59-13 86z"/><path class=A d="M4609 980l14-42-10 140-14-72z"/><path class=D d="M4596 954l13 26-10 26-13-129z"/><path class=Z d="M4556 720l13 187-10-19-13-122z"/><path class=L d="M5247 645l14 24-11-64-13 115z"/><path class=t d="M5221 837l13-137-10-47-14 89z"/><path class=r d="M5207 873l14-36-11-95-13-36z"/><path class=y d="M5194 793l13 80-10-167-13 20z"/><path class=x d="M5180 810l14-17-10-67-14 26z"/><path class=w d="M5167 824l13-14-10-58-13 167z"/><path class=l d="M5074 980l13-40-10 19-14 5z"/><path class=i d="M5060 1022l14-42-11-16-13 114z"/><path class=e d="M4940 1112l14 9-11-101-13-35z"/><path class=j d="M4927 1060l13 52-10-127-13 9zM4913 1055l14 5-10-66-14 94z"/><path class=t d="M4713 1015l14 27-11 52-13 16z"/><path class=w d="M4660 1011l13 18-10-17-13 115z"/><path class=o d="M4646 1100l14-89-10 116-14-194z"/><path class=F d="M4606 937l14 97-11-54-13-26z"/><path class=K d="M4593 882l13 55-10 17-13-102zM4566 898l14 37-11-28-13-187z"/><path class=D d="M5257 738l14-164-10 95-14-24z"/><path class=M d="M5244 644l13 94-10-93-13 55z"/><path class=E d="M5231 735l13-91-10 56-13 137z"/><path class=s d="M5191 877l13-54-10-30-14 17z"/><path class=t d="M5177 867l14 10-11-67-13 14z"/><path class=v d="M5164 852l13 15-10-43-13 114z"/><path class=m d="M5151 955l13-103-10 86-14-84z"/><path class=v d="M5137 855l14 100-11-101-13 56z"/><path class=n d="M5124 950l13-95-10 55-13 132z"/><path class=k d="M5044 1017l13 48-10-101-13-9z"/><path class=l d="M5031 1003l13 14-10-62-14-9z"/><path class=n d="M5017 995l14 8-11-57-13 83z"/><path class=q d="M4763 1045l14 141-10-6-14-84z"/><path class=D d="M4657 952l13 64-10-5-14 89z"/><path class=y d="M4643 999l14-47-11 148-13-67z"/><path class=C d="M4630 966l13 33-10 34-13 1z"/><path class=M d="M4617 869l13 97-10 68-14-97z"/><path class=N d="M4603 856l14 13-11 68-13-55z"/><path class=O d="M4590 851l13 5-10 26-13 53z"/><path class=Y d="M4577 744l13 107-10 84-14-37z"/><path class=O d="M5268 620l13 77-10-123-14 164z"/><path class=x d="M5254 801l14-181-11 118-13-94z"/><path class=F d="M5241 731l13 70-10-157-13 91z"/><path class=s d="M5228 873l13-142-10 4-14 136z"/><path class=o d="M5201 927l13-153-10 49-13 54z"/><path class=h d="M5174 1005l14-172-11 34-13-15z"/><path class=k d="M5161 986l13 19-10-153-13 103z"/><path class=m d="M5148 961l13 25-10-31-14-100z"/><path class=u d="M5134 882l14 79-11-106-13 95z"/><path class=l d="M5121 984l13-102-10 68-13 49z"/><path class=d d="M5027 1106l14-93-10-10-14-8z"/><path class=c d="M4987 1130l14-130-11 66-13-60z"/><path class=h d="M4974 1078l13 52-10-124-13-6z"/><path class=j d="M4961 1067l13 11-10-78-14 18z"/><path class=m d="M4867 1064l14 111-11-14-13-7z"/><path class=p d="M4774 1068l13 112-10 6-14-141z"/><path class=s d="M4747 1039l13 63-10 92-13-23z"/><path class=I d="M4640 914l14 86-11-1-13-33zM4627 918l13-4-10 52-13-97z"/><path class=H d="M4600 937l14-47-11-34-13-5z"/><path class=K d="M4587 906l13 31-10-86-13-107z"/><path class=J d="M5278 678l13-64-10 83-13-77z"/><path class=F d="M5265 731l13-53-10-58-14 181z"/><path class=u d="M5211 860l14-12-11-74-13 153z"/><path class=v d="M5185 858l13-55-10 30-14 172z"/><path class=h d="M5144 1034l14-18-10-55-14-79z"/><path class=s d="M5131 911l13 123-10-152-13 102z"/><path class=p d="M5091 959l13 20-10-63-13 182z"/><path class=i d="M5064 1049l14-31-11-3-13-71z"/><path class=o d="M5051 986l13 63-10-105-13 69z"/><path class=f d="M4877 1145l14-55-10 85-14-111z"/><path class=x d="M4704 1006l13 2-10 72-13 56z"/><path class=p d="M4691 1104l13-98-10 130-14-115z"/><path class=B d="M4664 985l13 116-10 2-13-103z"/><path class=K d="M4624 899l13 76-10-57-13-28z"/><path class=U d="M4610 800l14 99-10-9-14 47z"/><path class=O d="M4597 873l13-73-10 137-13-31z"/><path class=P d="M5288 626l14 59-11-71-13 64z"/><path class=E d="M5275 751l13-125-10 52-13 53z"/><path class=r d="M5248 896l14-169-11 10-13-23z"/><path class=u d="M5235 868l13 28-10-182-13 134z"/><path class=l d="M5208 972l13-165-10 53-13-57z"/><path class=m d="M5195 962l13 10-10-169-13 55z"/><path class=r d="M5181 918l14 44-10-104-14-4z"/><path class=q d="M5168 927l13-9-10-64-13 162z"/><path class=i d="M5141 1031l14-35-11 38-13-123z"/><path class=t d="M5128 917l13 114-10-120-13 66z"/><path class=c d="M4981 1155l13-167-10 6-13 103z"/><path class=e d="M4901 1163l13-45-10 60-13-88z"/><path class=i d="M4808 1144l13-5-10 32-14-91z"/><path class=v d="M4687 1050l14 28-10 26-14-3z"/><path class=u d="M4674 1062l13-12-10 51-13-116z"/><path class=J d="M4634 919l13 75-10-19-13-76z"/><path class=Q d="M4621 849l13 70-10-20-14-99z"/><path class=L d="M4607 903l14-54-11-49-13 73z"/><path class=I d="M5298 710l14-122-10 97-14-59z"/><path class=K d="M5285 690l13 20-10-84-13 125z"/><path class=G d="M5258 742l14-33-10 18-14 169z"/><path class=o d="M5218 941l14-150-11 16-13 165zM5178 958l14-87-11 47-13 9z"/><path class=l d="M5165 1002l13-44-10-31-13 69z"/><path class=k d="M5125 1022l13-35-10-70-13 59z"/><path class=f d="M4991 1128l14-66-11-74-13 167z"/><path class=h d="M4965 1113l13-92-10 120-14 34z"/><path class=o d="M4738 1117l13-57-10 117-14 5z"/><path class=s d="M4724 1080l14 37-11 65-13-100z"/><path class=C d="M4698 982l13 40-10 56-14-28z"/><path class=B d="M4684 1002l14-20-11 68-13 12zM4671 1008l13-6-10 60-13-58z"/><path class=G d="M4644 958l14 54-11-18-13-75z"/><path class=U d="M4631 809l13 149-10-39-13-70zM4618 812l13-3-10 40-14 54z"/><path class=M d="M5309 670l13-70-10-12-14 122z"/><path class=A d="M5295 804l14-134-11 40-13-20z"/><path class=G d="M5282 749l13 55-10-114-13 19z"/><path class=D d="M5269 781l13-32-10-40-14 33z"/><path class=C d="M5255 802l14-21-11-39-13 86z"/><path class=l d="M5229 986l13-164-10-31-14 150z"/><path class=m d="M5202 985l13-56-10-31-13-27z"/><path class=t d="M5189 910l13 75-10-114-14 87z"/><path class=i d="M5148 1051l14-47-10-69-14 52z"/><path class=g d="M4922 1155l13-22-10 44-14-4z"/><path class=l d="M4908 1103l14 52-11 18-13-22z"/><path class=r d="M4855 1046l13 119-10 41-13-7z"/><path class=k d="M4841 1132l14-86-10 153-14-162z"/><path class=o d="M4815 1100l13-34-10 114-14-57z"/><path class=q d="M4801 1080l14 20-11 23-13 90z"/><path class=s d="M4788 1064l13 16-10 133-13-79z"/><path class=A d="M4735 1009l13 115-10-7-14-37z"/><path class=I d="M4695 934l13 184-10-136-14 20z"/><path class=H d="M4668 950l13 127-10-69-13 4zM4654 951l14-1-10 62-14-54z"/><path class=M d="M4641 902l13 49-10 7-13-149z"/><path class=P d="M4628 876l13 26-10-93-13 3z"/><path class=J d="M5319 708l13-90-10-18-13 70z"/><path class=A d="M5292 812l14-120-11 112-13-55z"/><path class=u d="M5279 878l13-66-10-63-13 32z"/><path class=v d="M5266 869l13 9-10-97-14 21z"/><path class=o d="M5252 955l14-86-11-67-13 20z"/><path class=y d="M5239 847l13 108-10-133-13 164z"/><path class=j d="M5185 1035l14 21-10-146-14-14z"/><path class=p d="M5172 973l13 62-10-139-13 108z"/><path class=o d="M4772 1123l13 83-10-43-14 38z"/><path class=l d="M4758 1162l14-39-11 78-13-77z"/><path class=D d="M4731 985l14 185-10-161-14 144z"/><path class=B d="M4718 1007l13-22-10 168-13-35z"/><path class=y d="M4705 1035l13-28-10 111-13-184z"/><path class=E d="M4678 995l13-33-10 115-13-127z"/><path class=M d="M4665 906l13 89-10-45-14 1z"/><path class=V d="M4651 807l14 99-11 45-13-49z"/><path class=Y d="M4638 784l13 23-10 95-13-26z"/><path class=H d="M5329 735l14-201-11 84-13 90z"/><path class=x d="M5302 847l14-203-10 48-14 120z"/><path class=k d="M5236 1017l13-151-10-19-14-10z"/><path class=v d="M5222 894l14 123-11-180-13 103z"/><path class=m d="M5169 1012l13-89-10 50-13-42z"/><path class=s d="M5156 956l13 56-10-81-14 54z"/><path class=m d="M5142 1029l14-73-11 29-13-39z"/><path class=h d="M5129 1087l13-58-10-83-13 153z"/><path class=j d="M5102 1073l14 37-11 3-13 0z"/><path class=q d="M4862 1083l13-42-10 134-13-73z"/><path class=f d="M4835 1207l14-56-11 63-13-25z"/><path class=o d="M4822 1113l13 94-10-18-13-49z"/><path class=q d="M4795 1100l13-18-10 67-13 57z"/><path class=p d="M4782 1122l13-22-10 106-13-83z"/><path class=v d="M4742 1062l13 103-10 5-14-185z"/><path class=F d="M4715 976l13 139-10-108-13 28zM4702 985l13-9-10 59-14-73z"/><path class=L d="M4688 921l14 64-11-23-13 33z"/><path class=G d="M4675 981l13-60-10 74-13-89z"/><path class=L d="M4662 930l13 51-10-75-14-99z"/><path class=R d="M4648 862l14 68-11-123-13-23z"/><path class=I d="M5339 730l14-84-10-112-14 201z"/><path class=A d="M5313 832l13-166-10-22-14 203z"/><path class=u d="M5286 896l13-63-10-10-13-27z"/><path class=C d="M5273 826l13 70-10-100-14 166z"/><path class=v d="M5219 902l14 81-11-89-13 20z"/><path class=k d="M5206 1034l13-132-10 12-13-15z"/><path class=i d="M5166 1073l13-118-10 57-13-56z"/><path class=q d="M5153 985l13 88-10-117-14 73z"/><path class=p d="M5112 1013l14-63-10 160-14-37z"/><path class=m d="M5019 1077l13 77-10-14-13-3z"/><path class=r d="M5006 1030l13 47-10 60-14-15z"/><path class=n d="M4992 1081l14-51-11 92-13 50z"/><path class=s d="M4979 1022l13 59-10 91-13 20zM4966 1029l13-7-10 170-14-138z"/><path class=r d="M4845 1084l14-40-10 107-14 56z"/><path class=o d="M4832 1120l13-36-10 123-13-94z"/><path class=x d="M4779 1036l13 69-10 17-14 53z"/><path class=m d="M4765 1164l14-128-11 139-13-10z"/><path class=n d="M4752 1162l13 2-10 1-13-103z"/><path class=u d="M4725 1097l14-33-11 51-13-139z"/><path class=K d="M4699 936l13 81-10-32-14-64z"/><path class=Q d="M4685 876l14 60-11-15-13 60zM4672 880l13-4-10 105-13-51z"/><path class=X d="M4659 810l13 70-10 50-14-68z"/><path class=B d="M5336 814l14-194-11 110-13-64z"/><path class=E d="M5323 792l13 22-10-148-13 166z"/><path class=t d="M5270 925l13-101-10 2-14 162z"/><path class=s d="M5243 944l13 54-10-145-13 130z"/><path class=l d="M5216 1025l14-80-11-43-13 132z"/><path class=t d="M5203 945l13 80-10 9-13-122z"/><path class=f d="M5149 1117l14-40-10-92-14 102z"/><path class=l d="M5136 1055l13 62-10-30-13-137z"/><path class=r d="M5109 999l14 129-11-115-13 133z"/><path class=g d="M5096 1132l13-133-10 147-13-121z"/><path class=n d="M5043 1073l13-26-10 38-14 69z"/><path class=i d="M5029 1124l14-51-11 81-13-77z"/><path class=m d="M4976 1109l13 19-10-106-13 7zM4882 1138l14 75-10-43-14-128z"/><path class=q d="M4762 1129l14-5-11 40-13-2z"/><path class=G d="M4749 977l13 152-10 33-13-98z"/><path class=B d="M4722 1039l14 74-11-16-13-80z"/><path class=F d="M4709 1002l13 37-10-22-13-81z"/><path class=S d="M4695 855l14 147-10-66-14-60z"/><path class=P d="M4682 893l13-38-10 21-13 4z"/><path class=Y d="M4669 798l13 95-10-13-13-70z"/><path class=R d="M5347 652l13-65-10 33-14 194z"/><path class=A d="M5280 858l13-51-10 17-13 101z"/><path class=k d="M5146 1072l14 15-11 30-13-62z"/><path class=u d="M5120 973l13 150-10 5-14-129z"/><path class=n d="M5093 1056l13-37-10 113-13-7z"/><path class=u d="M5080 986l13 70-10 69-14-107z"/><path class=q d="M5026 1051l14 80-11-7-13-82z"/><path class=s d="M5013 1028l13 23-10-9-13 139z"/><path class=v d="M4999 1005l14 23-10 153-14-53z"/><path class=p d="M4919 1097l14 100-11-52-13-46z"/><path class=l d="M4893 1149l13-9-10 73-14-75z"/><path class=v d="M4866 1057l13 1-10 52-13 77z"/><path class=u d="M4853 1070l13-13-10 130-14-99z"/><path class=t d="M4826 1093l13 19-10 37-13 43z"/><path class=x d="M4813 1053l13 40-10 99-14-165z"/><path class=F d="M4786 985l13 177-10-19-13-19z"/><path class=A d="M4772 1046l14-61-10 139-14 5z"/><path class=H d="M4759 968l13 78-10 83-13-152z"/><path class=N d="M4732 914l14 120-10 79-14-74z"/><path class=Q d="M4719 885l13 29-10 125-13-37z"/><path class=S d="M4706 864l13 21-10 117-14-147z"/><path class=P d="M4692 904l14-40-11-9-13 38z"/><path class=T d="M4679 868l13 36-10-11-13-95z"/><path class=K d="M5370 723l14-87-11 34-13-83z"/><path class=I d="M5357 749l13-26-10-136-13 65z"/><path class=H d="M5343 765l14-16-10-97-14 123z"/><path class=u d="M5290 917l13-51-10-59-13 51z"/><path class=s d="M5237 966l13-85-10-7-14 171z"/><path class=o d="M5223 1014l14-48-11 79-13-12z"/><path class=v d="M5210 943l13 71-10 19-13-112z"/><path class=m d="M5197 1041l13-98-10-22-14 118z"/><path class=v d="M5183 945l14 96-11-2-13 64z"/><path class=l d="M5170 1066l13-121-10 158-13-16z"/><path class=r d="M5157 999l13 67-10 21-14-15z"/><path class=k d="M5130 1092l13-33-10 64-13-150z"/><path class=w d="M5063 976l13 105-10 7-13-105z"/><path class=r d="M5050 1041l13-65-10 7-13 148z"/><path class=o d="M4930 1112l13 69-10 16-14-100z"/><path class=u d="M4903 1055l13 64-10 21-13 9z"/><path class=w d="M4849 1055l14 15-10 0-14 42z"/><path class=r d="M4836 1114l13-59-10 57-13-19z"/><path class=B d="M4796 1031l13 122-10 9-13-177z"/><path class=H d="M4783 969l13 62-10-46-14 61z"/><path class=J d="M4769 955l14 14-11 77-13-78z"/><path class=G d="M4743 991l13 62-10-19-14-120z"/><path class=S d="M4729 865l14 126-11-77-13-29z"/><path class=Q d="M4689 897l14 14-11-7-13-36z"/><path class=K d="M5380 734l14-141-10 43-14 87z"/><path class=v d="M5327 908l13-189-10 72-13 121z"/><path class=r d="M5247 982l13-12-10-89-13 85z"/><path class=x d="M5167 940l13-14-10 140-13-67z"/><path class=p d="M5153 1039l14-99-10 59-14 60z"/><path class=n d="M5127 1063l13-108-10 137-13-24z"/><path class=w d="M5073 989l14 23-11 69-13-105z"/><path class=i d="M5060 1147l13-158-10-13-13 65z"/><path class=v d="M4980 1032l13 64-10 50-13-121z"/><path class=p d="M4967 1106l13-74-10-7-14 101z"/><path class=n d="M4940 1133l13 43-10 5-13-69z"/><path class=y d="M4846 1043l14 118-11-106-13 59z"/><path class=s d="M4833 1116l13-73-10 71-13-92z"/><path class=x d="M4806 1070l14 44-11 39-13-122z"/><path class=Q d="M4753 886l13 103-10 64-13-62z"/><path class=N d="M4740 932l13-46-10 105-14-126z"/><path class=Q d="M4713 903l13 18-10 37-13-47z"/><path class=U d="M4700 861l13 42-10 8-14-14z"/><path class=V d="M5391 618l13-112-10 87-14 141z"/><path class=Q d="M5364 680l13 71-10 42-13-54z"/><path class=G d="M5337 802l14-64-11-19-13 189z"/><path class=w d="M5311 914l13 20-10-175-14 77z"/><path class=y d="M5204 930l13 79-10-1-13 89z"/><path class=n d="M5190 1058l14-128-10 167-14-171z"/><path class=l d="M5177 1080l13-22-10-132-13 14z"/><path class=q d="M5164 1028l13 52-10-140-14 99z"/><path class=w d="M5124 977l13 128-10-42-14 49z"/><path class=o d="M5110 1075l14-98-11 135-13-126z"/><path class=p d="M5057 1079l13-26-10 94-13-1z"/><path class=A d="M5044 975l13 104-10 67-14-33z"/><path class=t d="M5030 1047l14-72-11 138-13 52z"/><path class=w d="M5017 1020l13 27-10 118-13-74z"/><path class=m d="M4977 1147l13-112-10-3-13 74z"/><path class=x d="M4963 1023l14 124-10-41-14 70z"/><path class=j d="M4950 1185l13-162-10 153-13-43z"/><path class=q d="M4937 1111l13 74-10-52-14 26z"/><path class=m d="M4923 1160l14-49-11 48-13-29z"/><path class=y d="M4897 1037l13 117-10-79-14 85z"/><path class=n d="M4883 1161l14-124-11 123-13 12z"/><path class=y d="M4870 1042l13 119-10 11-13-11z"/><path class=A d="M4857 1038l13 4-10 119-14-118z"/><path class=E d="M4843 1001l14 37-11 5-13 73z"/><path class=G d="M4830 987l13 14-10 115-13-2z"/><path class=J d="M4790 968l13 130-10-79-13-63z"/><path class=P d="M4777 904l13 64-10-12-14 33z"/><path class=M d="M4763 941l14-37-11 85-13-103z"/><path class=R d="M4736 896l14 101-10-65-14-11z"/><path class=X d="M4723 827l13 69-10 25-13-18z"/><path class=za d="M4710 806l13 21-10 76-13-42z"/><path class=zb d="M5401 557l13-25-10-26-13 112z"/><path class=L d="M5388 744l13-187-10 61-14 133z"/><path class=O d="M5361 713l13-12-10-21-13 58z"/><path class=I d="M5348 782l13-69-10 25-14 64z"/><path class=C d="M5334 858l14-76-11 20-13 132z"/><path class=y d="M5321 899l13-41-10 76-13-20z"/><path class=t d="M5294 965l13-2-10-110-13-11z"/><path class=p d="M5281 1011l13-46-10-123-13 66z"/><path class=q d="M5241 1010l13 20-10-132-14 129z"/><path class=y d="M5201 938l13 24-10-32-14 128z"/><path class=r d="M5187 1024l14-86-11 120-13 22z"/><path class=v d="M5174 984l13 40-10 56-13-52zM5147 993l14 0-11 78-13 34z"/><path class=x d="M5134 978l13 15-10 112-13-128z"/><path class=C d="M5080 946l14 77-10 55-14-25z"/><path class=u d="M5067 1025l13-79-10 107-13 26z"/><path class=q d="M5040 1088l14-73-10-40-14 72z"/><path class=u d="M4974 1067l13 49-10 31-14-124z"/><path class=t d="M4960 1083l14-16-11-44-13 162z"/><path class=r d="M4947 1106l13-23-10 102-13-74z"/><path class=t d="M4920 1098l14 19-11 43-13-6zM4907 1097l13 1-10 56-13-117z"/><path class=F d="M4880 986l14 148-11 27-13-119z"/><path class=D d="M4854 1018l13 7-10 13-14-37zM4813 1026l14 70-10 30-14-28z"/><path class=L d="M4800 952l13 74-10 72-13-130z"/><path class=Q d="M4787 896l13 56-10 16-13-64z"/><path class=R d="M4760 898l13 52-10-9-13 56zM4747 900l13-2-10 99-14-101z"/><path class=W d="M4733 850l14 50-11-4-13-69z"/><path class=zi d="M4720 719l13 131-10-23-13-21z"/><path class=X d="M5411 608l14-22-11-54-13 25z"/><path class=K d="M5398 753l13-145-10-51-13 187z"/><path class=I d="M5358 789l13-68-10-8-13 69zM5344 800l14-11-10-7-14 76z"/><path class=x d="M5331 916l13-116-10 58-13 41z"/><path class=L d="M5318 775l13 141-10-17-14 64z"/><path class=E d="M5304 857l14-82-11 188-13 2z"/><path class=G d="M5291 844l13 13-10 108-13 46z"/><path class=v d="M5278 958l13-114-10 167-14-46z"/><path class=y d="M5264 922l14 36-11 7-13 65z"/><path class=F d="M5251 860l13 62-10 108-13-20z"/><path class=E d="M5224 889l14 151-11-32-13-46z"/><path class=B d="M5198 924l13 34-10-20-14 86zM5184 930l14-6-11 100-13-40z"/><path class=q d="M5171 1052l13-122-10 54-13 9z"/><path class=p d="M5157 1062l14-10-10-59-14 0z"/><path class=o d="M5131 1088l13-140-10 30-13 21z"/><path class=B d="M5077 971l14 98-11-123-13 79zM5037 985l14 136-11-33-13 39z"/><path class=s d="M5024 1074l13-89-10 142-13-27z"/><path class=q d="M5011 1105l13-31-10 26-14 36zM4997 1105l14 0-11 31-13-20z"/><path class=E d="M4957 977l14 110-11-4-13 23z"/><path class=B d="M4944 1018l13-41-10 129-13 11z"/><path class=A d="M4931 1031l13-13-10 99-14-19z"/><path class=B d="M4917 1029l14 2-11 67-13-1z"/><path class=C d="M4904 1018l13 11-10 68-13 37z"/><path class=D d="M4890 1012l14 6-10 116-14-148z"/><path class=F d="M4850 1010l14-34-10 42-14 17z"/><path class=E d="M4837 1022l13-12-10 25-13 61z"/><path class=x d="M4824 1089l13-67-10 74-14-70z"/><path class=R d="M4797 893l13 130-10-71-13-56z"/><path class=Y d="M4770 823l14 134-11-7-13-52z"/><path class=zb d="M4757 791l13 32-10 75-13 2z"/><path class=W d="M4744 853l13-62-10 109-14-50z"/><path class=zb d="M4730 809l14 44-11-3-13-131z"/><path class=P d="M5408 706l13-99-10 1-13 145z"/><path class=T d="M5381 675l14 101-11-18-13-37zM5368 676l13-1-10 46-13 68z"/><path class=H d="M5355 814l13-138-10 113-14 11z"/><path class=I d="M5341 811l14 3-11-14-13 116zM5315 813l13 125-10-163-14 82z"/><path class=B d="M5288 901l13-4-10-53-13 114z"/><path class=G d="M5275 852l13 49-10 57-14-36z"/><path class=y d="M5261 933l14-81-11 70-13-62z"/><path class=s d="M5248 1013l13-80-10-73-13 180z"/><path class=F d="M5234 882l14 131-10 27-14-151z"/><path class=p d="M5221 1049l13-167-10 7-13 69z"/><path class=v d="M5208 988l13 61-10-91-13-34z"/><path class=G d="M5194 884l14 104-10-64-14 6z"/><path class=v d="M5168 1004l13-29-10 77-14 10z"/><path class=q d="M5154 1062l14-58-11 58-13-114z"/><path class=u d="M5141 1021l13 41-10-114-13 140z"/><path class=E d="M5128 933l13 88-10 67-14-25z"/><path class=q d="M5114 1075l14-142-11 130-13 39z"/><path class=F d="M5101 924l13 151-10 27-13-33zM5088 929l13-5-10 145-14-98z"/><path class=y d="M5074 1001l14-72-11 42-13 72z"/><path class=x d="M5061 1022l13-21-10 42-13 78z"/><path class=A d="M5048 1000l13 22-10 99-14-136z"/><path class=u d="M5034 1058l14-58-11-15-13 89z"/><path class=D d="M5021 979l13 79-10 16-13 31z"/><path class=t d="M5008 1087l13-108-10 126-14 0z"/><path class=v d="M4994 1068l14 19-11 18-13 33z"/><path class=s d="M4981 1104l13-36-10 70-13-51z"/><path class=q d="M4967 1133l14-29-10-17-14-110z"/><path class=E d="M4954 995l13 138-10-156-13 41z"/><path class=A d="M4941 1042l13-47-10 23-13 13z"/><path class=r d="M4927 1138l14-96-10-11-14-2z"/><path class=x d="M4914 1075l13 63-10-109-13-11z"/><path class=H d="M4887 979l14 142-11-109-13-42z"/><path class=L d="M4847 951l14-9-11 68-13 12z"/><path class=K d="M4834 968l13-17-10 71-13 67z"/><path class=L d="M4821 961l13 7-10 121-14-66z"/><path class=S d="M4807 891l14 70-11 62-13-130z"/><path class=R d="M4794 898l13-7-10 2-13 64z"/><path class=za d="M4781 803l13 95-10 59-14-134z"/><path class=S d="M4767 899l14-96-11 20-13-32z"/><path class=Z d="M4740 837l14 45-10-29-14-44z"/><path class=zb d="M5432 580l13 30-10-105-14 102zM5418 576l14 4-11 27-13 99z"/><path class=U d="M5405 663l13-87-10 130-13 70z"/><path class=V d="M5392 652l13 11-10 113-14-101z"/><path class=M d="M5378 765l14-113-11 23-13 1z"/><path class=T d="M5365 686l13 79-10-89-13 138z"/><path class=I d="M5352 809l13-123-10 128-14-3z"/><path class=y d="M5338 921l14-112-11 2-13 127z"/><path class=N d="M5325 769l13 152-10 17-13-125z"/><path class=L d="M5311 797l14-28-10 44-14 84z"/><path class=J d="M5298 826l13-29-10 100-13 4z"/><path class=y d="M5285 942l13-116-10 75-13-49z"/><path class=K d="M5271 818l14 124-10-90-14 81z"/><path class=E d="M5258 893l13-75-10 115-13 80z"/><path class=B d="M5245 925l13-32-10 120-14-131z"/><path class=s d="M5231 1030l14-105-11-43-13 167z"/><path class=C d="M5218 929l13 101-10 19-13-61z"/><path class=r d="M5205 1039l13-110-10 59-14-104z"/><path class=F d="M5191 904l14 135-11-155-13 91z"/><path class=E d="M5178 924l13-20-10 71-13 29z"/><path class=u d="M5165 1022l13-98-10 80-14 58z"/><path class=r d="M5151 1061l14-39-11 40-13-41z"/><path class=u d="M5138 1035l13 26-10-40-13-88z"/><path class=I d="M5125 895l13 140-10-102-14 142zM5111 899l14-4-11 180-13-151z"/><path class=u d="M5098 1053l13-154-10 25-13 5z"/><path class=t d="M5085 1062l13-9-10-124-14 72z"/><path class=w d="M5071 1033l14 29-11-61-13 21z"/><path class=v d="M5058 1051l13-18-10-11-13-22z"/><path class=w d="M5044 1050l14 1-10-51-14 58z"/><path class=v d="M5031 1058l13-8-10 8-13-79z"/><path class=C d="M5018 999l13 59-10-79-13 108zM5004 1007l14-8-10 88-14-19z"/><path class=D d="M4991 1001l13 6-10 61-13 36z"/><path class=w d="M4978 1066l13-65-10 103-14 29z"/><path class=A d="M4964 1046l14 20-11 67-13-138z"/><path class=x d="M4951 1073l13-27-10-51-13 47z"/><path class=I d="M4938 959l13 114-10-31-14 96z"/><path class=w d="M4924 1092l14-133-11 179-13-63z"/><path class=C d="M4911 1036l13 56-10-17-13 46z"/><path class=I d="M4898 974l13 62-10 85-14-142z"/><path class=x d="M4884 1090l14-116-11 5-13-24z"/><path class=B d="M4871 1060l13 30-10-135-13-13z"/><path class=F d="M4858 1027l13 33-10-118-14 9z"/><path class=K d="M4844 969l14 58-11-76-13 17z"/><path class=R d="M4831 903l13 66-10-1-13-7zM4817 908l14-5-10 58-14-70zM4804 904l13 4-10-17-13 7z"/><path class=zc d="M4791 791l13 113-10-6-13-95z"/><path class=U d="M4777 886l14-95-10 12-14 96z"/><path class=zj d="M4764 719l13 167-10 13-13-17z"/><path class=zd d="M4751 791l13-72-10 163-14-45z"/></g><path class="ax" d="M475.1 139.5L544.5 114.9M475.1 139.5L421.8 107.4M421.8 107.4L421.8 37.3M475.1 139.5L476.2 140.2M492.6 133.3L493.8 134.0M510.1 127.1L511.3 127.8M527.7 120.8L528.8 121.5M475.1 139.5L473.8 140.0M461.6 131.4L460.3 131.9M448.2 123.3L446.9 123.7M434.7 115.2L433.4 115.6M421.8 88.7L420.4 88.7M421.8 69.9L420.4 69.9M421.8 51.2L420.4 51.2"/><g class="lb" font-size="7.09"><text x="479.2" y="149.6">-1</text><text x="496.7" y="143.4">-0.5</text><text x="514.2" y="137.2">0</text><text x="531.8" y="131.0">0.5</text><text text-anchor="end" x="470.7" y="149.5">-1</text><text text-anchor="end" x="457.3" y="141.4">-0.5</text><text text-anchor="end" x="443.8" y="133.3">0</text><text text-anchor="end" x="430.4" y="125.2">0.5</text><text text-anchor="end" x="418.3" y="90.7">1</text><text text-anchor="end" x="418.3" y="72.0">2</text><text text-anchor="end" x="418.3" y="53.3">3</text><text text-anchor="middle" x="434.3" y="149.9">x<tspan font-size="5.7" dy="2.5">2</tspan></text><text text-anchor="middle" x="519.4" y="153.7">x<tspan font-size="5.7" dy="2.5">1</tspan></text></g><text class="tt" text-anchor="middle" font-size="7.80" x="483.2" y="10.0">Parameter space</text>
<!-- plot 5 --><path class="gr" d="M66.5 299.4L17.9 269.4M17.9 269.4L17.9 203.9M98.1 287.9L49.6 257.9M49.6 257.9L49.6 192.4M129.8 276.4L81.2 246.4M81.2 246.4L81.2 180.9M66.5 299.4L129.8 276.4M129.8 276.4L129.8 210.9M42.2 284.4L105.5 261.4M105.5 261.4L105.5 195.9M17.9 269.4L81.2 246.4M81.2 246.4L81.2 180.9M17.9 269.4L81.2 246.4M81.2 246.4L129.8 276.4M17.9 253.1L81.2 230.1M81.2 230.1L129.8 260.1M17.9 236.9L81.2 213.8M81.2 213.8L129.8 243.8M17.9 220.6L81.2 197.6M81.2 197.6L129.8 227.6M17.9 204.3L81.2 181.3M81.2 181.3L129.8 211.3"/><g fill="none" transform="scale(.1)" stroke-width="5.0"><path stroke="#484cef" d="M886 2820l-5 0 0-3 7 1-2 2M771 2818l-11-6 4-5 19 1 1 5-13 5M836 2795l-12-2-2-6 12-5 13 3 1 6-12 4M898 2772l-10-2-2-6 13-4 10 2 2 5-13 5M713 2838l-9-1-1-5 13 0-3 6M957 2746l-3-2 3-4 11 1-2 4-9 1M734 2788l-24-1-2-8 13-5 17 3 2 4-6 7M798 2766l-26-2-3-3 1-6 13-5 19 4 3 3-7 9M861 2742l-18 1-10-6 7-8 17 0 9 6-5 7M659 2811l-11-6 4-5 20 1 1 5-14 5M914 2719l-11-2-2-6 13-4 9 2 2 5-11 5M686 2759l-25-2-3-4 1-5 13-5 18 3 3 5-7 8M743 2738l-13-1M734 2720l13 1M756 2732l-13 6M805 2714l-12 0M612 2781l-11-2-2-4 4-5 21 0 2 7-14 4M551 2800l-5-1 0-3 7 0-2 4M637 2729l-24-2-1-8 12-5 17 3 3 3-7 9M563 2751l-9-3-3-3 5-5 11-1 7 2 3 4-6 5-8 1M520 2718l-11-1 2-5 11 0-2 6M578 2698l-10-2-2-4 5-5 10-1"/><path stroke="#3479fd" d="M875 2875l-13 0-3-4 12-4 7 2-3 6M939 2853l-15-1-3-4 4-4 11-1 6 3 1 3-4 4M1001 2829l-13 0-3-4 4-3 10-1 5 4-3 4M832 2849l-26-2-4-3 1-7 12-5 22 4 2 5-7 8M888 2828l-21-3-3-3 1-9 13-4 23 4 2 4-2 6-13 5M951 2804l-20-2-3-4 1-7 13-5 21 4 2 4-2 5-12 5M758 2871l-12-2-3-7 12-5 16 3 0 7-13 4M1012 2780l-15-2-3-4 1-5 14-4 14 4 1 6-12 5M698 2890l-9 0-1-4 14-1-4 5M1069 2753l-4-2 4-5 10 2-1 4-9 1M787 2821l-18 1-17-3-3-3 2-11 12-5 31 4 1 10-8 7M852 2799l-18 1-21-3-3-4 3-12 12-5 33 5 1 10-7 8M914 2775l-17 2-20-3-3-4 1-7 6-8 32 1 9 6-3 10-5 3M714 2844l-22-3-3-3 1-9 12-5 26 4 2 4-3 8-13 4M968 2752l-25-2-3-9 8-7 8-1 23 4 3 4-2 6-12 5M646 2864l-12-2-3-4 3-5 9-3 17 3 0 8-14 3M1027 2727l-15-2-4-4 2-5 14-3 13 3 2 6-12 5M676 2815l-28-1-7-2-3-9 5-9 33 0 8 3 2 4-5 11-5 3M734 2794l-34-3-3-4 3-14 3-4 9-1 39 4-4 18-13 4M798 2772l-39-3 4-25 52 5-4 19-13 4M861 2749l-38-3 2-15M839 2723l35 4 3 4-4 13-12 5M929 2723l-31 0-7-2-2-5M897 2702l20 0 16 4 3 8-7 9M601 2836l-18-3-4-3 1-6 12-5 23 3 2 4-3 6-13 4M981 2699l-21-3-3-3 1-6 7-5 8-1 18 4 3 3-1 6-12 5M539 2855l-12-2-1-4 9-3 8 2 1 3-5 4M1046 2670l-15 0-2-4 5-3 12 1 0 6M696 2765l-46-4-3-4 4-14 3-4 9-1 43 3-10 24M762 2744l-33-2M737 2715l11 1M764 2739l-2 5M814 2720l-22-1M621 2787l-30-4-3-4 2-11 12-5 34 3 3 4-5 12-13 5M859 2695l-6-1M553 2807l-20-3-3-4 1-6 12-6 24 3 3 4-3 8-14 4M492 2825l-14-1-2-4 10-5 10 2 1 5-5 3M648 2735l-45-4-3-4 2-8M616 2709l22 1M692 2712l-12-1M572 2756l-28-4-3-4 2-9 12-5 31 3 3 3-4 12-13 4M504 2777l-18-4-3-4 1-5 12-5 21 3 3 3-2 8-14 4M443 2795l-13-2 0-4 9-3 7 2 2 4-5 3M529 2724l-25 0-9-7 1-5 13-7 25 3 3 9-8 7M587 2704l-23-2-9-7M562 2684l18-3M462 2744l-15 1-7-3-2-6 12-5 15 2 4 4-7 7M477 2692l-16 0-7-3-2-4 5-5 20-1 6 5-1 4-5 4M523 2670l-9-2-2-4 6-9M408 2711l-10-1 1-4 11-1-2 6"/><path stroke="#22a2e4" d="M852 2926l-2-4 9 1M909 2905l-3-4 4-4 17 2M971 2883l-3-6 4-4 20 2M1035 2859l-3-3 4-5 17 2M1104 2834l-1-4 8 2M817 2902l-26-2-3-3 0-7 12-5 17 1 8 7-8 9M875 2881l-24-2-3-4 0-10 4-4 9-1 28 5 2 4-4 8-12 4M939 2859l-26-3-4-3 1-12 5-3 8-1 30 5 2 4-4 8-12 5M1001 2835l-24-2-4-3 2-11 13-4 26 4 3 4-3 8-13 4M1070 2810l-27-1-4-3 0-5 7-7 22 1 8 6-6 9M750 2922l-16-1-4-5 4-4 14-1 6 3 1 4-5 4M1122 2786l-11-2-2-7 14-3 9 3 1 4-11 5M904 2831l-50 0-9 19-13 5-39-3 0-19-3-3-19-3-24 0-5 3-9 20-55-4 2-19-3-4-18-3-25 0-5 3-10 18-46-4-3-4 1-19-49-6-2-4 2-20-40-5-9-6 5-18 41 0 7-2 6-9-1-11-47-7 7-26 41 1 8-1 5-6M530 2676l-29-4 5-18 12-5M954 2669l1 5 40 5 9 6-5 18-48 2-7 11 2 9 7 2 40 5-5 20-2 6-41-1-13 5-4 12 2 4 46 8-3 13-7 9-7 1-42-1-8 20-5 3M774 2875l-19 1-19-3-4-8 2-15 50 5-2 13-8 7M1020 2784l-36-1-2-4 5-21 46 7 2 4-3 10-12 5M699 2897l-21-3-4-4 1-8 12-5 27 4 2 4-4 8-13 4M1079 2759l-25-2-3-9 8-8 25 1 9 7-1 5-13 6M638 2915l-16-1-3-4 3-5 14-1 7 3 1 4-6 4M1137 2733l-12-2-1-7 14-3 8 3 2 4-11 5M846 2828l4 1 2-5 2-13-3-4-21-3-18 1-8 10 0 9 7 2 35 2M909 2805l4 1 3-5 3-14-3-3-41-2-7 10 1 9 6 2 34 2M654 2869l-30-3-3-9 4-12 51 2-8 18-14 4M1035 2732l-40-1 6-20 4-4 10 0 32 5 2 4-2 11-12 5M594 2888l-26-2-3-3 0-6 12-6 23 3 2 7-8 7M1093 2706l-22-3-3-3 1-5 7-6 9-1 18 4 2 8-12 6M1154 2675l-8 1 3-4M516 2902l10 0-5 3M724 2820l9-1 5-4 1-10-3-4-27-3-8 1-8 8 1 10 30 3M793 2795l6-4 2-9-10-5-25 0-7 8 2 7 6 3 26 0M856 2772l9-8-3-8-25-3-7 1-7 6 2 9 6 2 25 1M914 2751l14-4 3-12-2-4-30-2-12 4-3 10 3 4 27 4M539 2861l-22-4-3-4 1-8 11-5 30 3 2 4-5 10-14 4M1038 2678l-20-3-2-4 4-10 5-3 16-1 16 4 3 3-1 8-5 4-16 2M1110 2648l-18 0-2-4 7-5M463 2870l19 0 1 4-6 4M609 2814l14-1 4-4 2-12-3-3-31-4-13 4-6 18 33 2M928 2698l11 0 8-8M921 2674l-10 0M900 2694l28 4M665 2789l17-2 5-3 2-8-10-6-25 0-5 3-3 9 2 4 17 3M732 2765l17-5 1-7-3-3-20-4-13 5-2 7 2 4 18 3M796 2742l11-2 5-3 2-7-10-6-14-1M778 2738l18 4M857 2719l15-1 5-3M862 2699l-11 0M847 2718l10 1M501 2830l-17 1-16-4-3-3 1-9 11-5 32 2 2 4-2 7-8 7M979 2648l-11-2M1012 2634l-1 9M1063 2619l-13 1-8-2-2-4M414 2839l21 0 2 4-7 6M562 2784l12-2 4-3 2-11-3-4-31-5-13 4-5 19 34 2M617 2759l16-2 5-3 2-8-10-6-25 0-5 3-3 9 3 4 17 3M684 2735l11-2M692 2717l-14-1M666 2732l18 3M747 2711l3 0M739 2711l8 0M452 2800l-16 1-16-4-3-4 1-7 12-5 29 2 1 10-8 7M367 2810l18 0 1 6-6 2M583 2728l7-4 3-9-9-6-30-1-7 8-1 7 2 4 35 1M633 2705l7 0M622 2704l11 1M472 2751l-35-3-7-2-2-10 6-8 8-2 40 1-6 20-4 4M392 2770l-18-4-2-8 12-6 22 2 3 4-3 8-14 4M323 2783l8-1-3 4M569 2676l11 1M490 2699l-40-4-6-2-1-10 7-8 7-2 36 2 2 4-5 20M418 2717l-25-1-9-6 1-5 13-6 25 2 3 8-8 8M339 2737l-8-3-2-4 3-3 11-2 9 2 3 3-7 7-9 0M469 2641l-9-6 3-8 5-3M423 2665l-20-5-1-8 12-5 20 2 4 3-2 8-13 5M354 2684l-9-3-2-3 4-4 10-2 9 2 3 3-5 7-10 0M373 2623l1 5-8-2"/><path stroke="#0fbeba" d="M781 2952l-4-7 4-4 7-1 16 3M839 2931l-5-8 5-8 19-1 15 4M899 2909l-5-8 5-11 25 0 15 4M960 2887l-4-8 2-14 45 6M1024 2863l-4-8 1-7 5-4 23 1 15 4M1090 2839l-4-8 6-8 17 0 15 4M1158 2815l-3-4 1-5 5-3 21 3M892 2886l-51-1-11 18-14 4-36-3-3-3 0-15-3-3-19-3-22 1-5 3-12 18-50-4-2-18-3-4-21-3-20 0-18 20-36-1-11-6-1-19-49-6 0-19-3-3-48-7 2-19-3-4-45-8 0-24-37-5-9-6 3-13 3-4 46-3 6-9-2-11-44-8 7-24 47-2 7-10-1-9-42-9-2-4 5-13 12-5 39 0 13-24 9 0M1012 2624l11 2-2 19 3 4 45 7 0 24 37 6 9 6-3 13-3 4-46 3-6 9 2 11 44 7-7 24-47 3-7 10 1 9 42 9-1 12-6 8-8 2-39 0-13 24-48 1-4 3-9 20-50 0-5 3-10 19M749 2928l-25-3-4-3 0-12 4-4 7-1 36 4 1 5-6 10-13 4M1120 2791l-21-2-4-4 4-14 14-4 29 6 2 4-2 8-5 4-17 2M680 2948l-12-3-4-8 11-5 20 3 2 4-3 5-14 4M1188 2764l-18-1-3-4 2-7 14-3 15 3 1 7-11 5M819 2881l13-1 4-4 1-11-4-4-26-3-8 2-8 7 0 10 28 4M886 2856l11-4 2-10-4-3-23-3-8 2-7 7 1 7 6 3 22 1M950 2833l11-4 2-10-4-3-24-3-14 7 1 9 28 4M1010 2811l12 0 5-3 2-13-3-4-29-2-12 5-3 9 2 4 26 4M646 2920l-16 1-17-3-4-4 0-10 3-4 8-2 36 4-2 11-8 7M1152 2736l-31 2-9-2-3-4 5-14 5-3 21 1 16 4 3 4-2 8-5 4M1209 2709l-22 0-3-4 7-7M712 2872l9-5 1-8-3-4-22-3-8 1-9 8 1 8 31 3M1030 2756l9-3 2-5-2-9-27-2-7 1-5 6 1 9 29 3M558 2928l17-1 7 2 1 4-7 6M767 2847l14-5 1-5-3-4-16-2-13 4-2 5 2 4 17 3M836 2822l7-4-3-7-20-1-6 6 2 4 7 2 13 0M899 2799l7-4-2-7-21-1-5 6 2 4 6 2 13 0M958 2778l14-4 1-7-3-3-18-2-12 5 1 7 17 4M1164 2681l-16 3-16-3-2-8 8-8M596 2866l11-1 5-9-4-8-7-2-26-1-6 3-5 11 1 4 8 2 23 1M1042 2704l13-3 5-13-3-3-32-3-11 6-2 8 3 4 27 4M505 2896l17-3 17 4 1 7-9 7M655 2840l14-5-3-8-15-3-14 4-2 5 2 4 18 3M973 2725l13-4 2-7-3-3-18-3-12 5 1 8 17 4M713 2814l11-1 4-4-10-6-9 1-5 4 2 4 7 2M781 2790l6-3 0-4-13 0-2 5 9 2M845 2766l6-2-1-4-13 0-1 5 9 1M904 2745l10-1 5-5-2-3-8-2-10 1-4 4 9 6M1118 2653l-16 2-23-2-2-4 2-8 9-7M538 2835l18-2 4-3 1-8-3-4-17-3-19 4-4 9 2 4 18 3M984 2673l20-4 4-9-2-4-6-2M978 2653l-12 5-1 8 3 3 16 4M455 2864l16-2 24 3 2 4-3 7-9 7M598 2808l16-1 4-6-10-6-13 1-6 6 2 4 7 2M670 2782l5-1-2-5-11-1-3 4 11 3M861 2713l4-2 0-4-14 0 0 5 10 1M917 2693l14-1M920 2679l-8 2-5 6 10 6M729 2756l4-1-4 1M793 2733l3-1-3 1M1071 2624l-46 1 5-14 9-7M490 2805l17-2 4-3 1-8-3-4-16-3-20 3-4 10 2 4 19 3M406 2834l46-1-5 14-9 7M550 2778l15-1 5-6-10-6-14 1-6 6 3 4 7 2M622 2752l4-1-1-5-11-1-4 4 12 3M681 2726l3-1-3 1M455 2775l8-5 2-8-3-4-15-4-20 0-5 3-5 12 3 4 8 2 27 0M512 2749l10-5-1-7-17-4-14 5-1 6 3 3 20 2M359 2805l16-2 23 2 2 4-2 8-9 7M568 2724l14-5-9-6-10 1-5 4 2 4 8 2M626 2696l1 2M313 2777l16-3 16 3 2 8-8 8M458 2721l14-1 4-4 2-7-2-4-24-4-14 4-3 10 3 4 20 2M529 2695l5-1M531 2682l-21-1-5 3-1 6 3 4 7 2 15-1M349 2743l-28-5-3-4 2-8 12-6 33 2 3 4-5 13-14 4M268 2749l22 0 3 4-7 7M471 2669l17-2 4-3M478 2647l-23 0-5 3-2 13 3 4 20 2M364 2690l-29-5-2-4 2-8 12-5 31 1 4 4-4 14-14 3M303 2708l-18 0-6-3-1-6 11-5 18 1 3 6-2 5-5 2M319 2643l3 4-1 5-5 3-21-3M387 2618l4 8-6 9-17 0-15-4M457 2602l-1 8M419 2612l-6-3"/><path stroke="#59cc79" d="M715 2976l-4-8 4-5 14-2 16 4M771 2955l-3-3-3-18-51-3-12 17-6 3-20 1-18-3-4-4-3-18-40-3-10-1-12 18-6 3M826 2935l-2-18-4-3-36-2-9 7-4 13 46 7M1145 2819l-3-3 1-20-43 1-7 8 1 9 42 9M1218 2793l-4-3 0-5 7-6 12-1 15 4M870 2910l9-1 4-4 1-10-4-3-22-3-8 2-8 7 1 8 6 2 21 2M939 2885l6-4 0-8-11-5-20 1-7 8 8 7 24 1M1003 2862l7-8-5-8-27 0-7 8 2 4 6 3 24 1M1060 2841l9-1 5-3 1-11-3-4-25-2-13 6 0 10 26 5M1259 2740l-27 0-3-7 7-7M692 2927l14-1 3-4 0-11-11-5-25 0-6 3-5 10 1 4 6 3 23 1M1137 2765l12 0 5-3 4-14-3-3-32-2-11 5-3 8 3 4 25 5M603 2956l18-2 13 4 1 5-9 7M751 2901l12-2 4-3 0-6-3-3-15-3-14 4-2 5 2 4 16 4M1069 2785l15-4 2-7-4-3-18-2-11 5 1 7 15 4M810 2875l12-1 4-5-10-6-9 1-5 4 1 4 7 3M877 2850l6-1 2-5-13-1-2 5 7 2M941 2827l6-1 2-4-13-2-3 5 8 2M1001 2805l11 0 5-6-12-5-8 1-4 4 8 6M1216 2713l-45 3-5 24 42 9 1 10-6 8-8 2-37 1-8 19-1 5 43 9M640 2894l10-2 4-4-3-8-14-3-14 4-3 5 2 4 18 4M1085 2732l14-4 2-7-3-4-19-2-12 6 2 7 16 4M702 2866l7-3-1-4-12 0-2 5 8 2M1020 2750l8-2-2-4-13-1-1 6 8 1M548 2922l49-1 2-13-4-8-17-3-19 0-6 3-12 17M1174 2687l-45 3-6 9 2 9 41 6 10-19 5-3M538 2887l7-4 1-8-10-6-23 0-6 3-4 9 1 5 7 2 27-1M1110 2680l10-8-1-10-29-2-11 6-2 6 3 4 30 4M586 2861l12-2 3-4-9-5-9 0-6 4 2 5 7 2M1031 2699l10-1 6-5-3-4-8-2-10 2-4 4 9 6M477 2857l14-2 4-3 0-6-3-4-18-3-14 4-4 8 3 4 18 2M1050 2649l16-4 4-8-3-4-25-2-11 5-1 6 3 4 17 3M542 2829l6-2-1-5-11-1-4 4 1 2 9 2M988 2667l5-2M988 2659l-10 2 0 5 10 1M429 2827l13-2 4-3 1-6-3-4-19-3-9 1-7 5-2 6 3 4 19 2M1017 2615l4-8M495 2798l4-1 0-5-12-1-4 4 1 2 11 1M378 2798l16-2 4-4 2-7-3-3-16-4-21 3-4 11 2 4 20 2M441 2770l10-1 4-4-9-6-10 1-6 5 3 4 8 1M402 2742l8-5-2-7-16-4-9 1-6 5-1 5 3 3 23 2M463 2715l2-6-12-1-4 3 2 3 12 1M303 2771l45-3 6-9-2-9-41-6-10 19-5 3M343 2715l18-2 4-3 3-8-3-4-28-6-14 4-4 14 3 3 21 2M419 2688l6-7-8-7-19 0-6 5-1 5 4 3 24 1M261 2744l45-2 2-5 3-20-36-6-6-2-1-9 6-9 45-3 9-24-43-9M472 2664l12-5M483 2655l-9-3-14 5 3 5 9 2M218 2718l27 0 3 7-7 7M425 2638l12-2 8-10M417 2617l-9 1-5 3-1 11 3 4 20 2M259 2665l4 3 0 5-7 6-12 1-15-4M332 2639l3 3-1 20 43-1 7-8-1-9-42-9"/><path stroke="#c5c22a" d="M705 2979l-3-3-2-14-4-3-18-3-24 0-20 19M1279 2771l-4-9 9-7M742 2956l11-1 3-4 0-9-4-4-21-2-8 1-9 7 0 8 28 4M1188 2794l13-3 2-12-3-3-26-2-12 5-2 6 2 4 26 5M650 2985l18-2 16 4M802 2930l12-6-4-7-19 0-7 5 1 4 17 4M1121 2814l10-4 1-5-3-3-14-2-12 5 1 5 17 4M861 2904l8-1 1-6-12-1-3 5 6 3M1053 2834l10-4-3-3-12 0-3 5 8 2M924 2876l4 1-4-1M987 2853l4 1-4-1M1267 2745l-44 4-6 11 1 9 39 10M631 2949l9-1 4-8-4-8-7-3-22 1-6 2-5 9 1 5 7 2 23 1M1204 2741l11-4 4-11-3-4-28-1-12 5-1 6 2 4 27 5M682 2921l14-1 3-5-9-5-10 0-5 4 1 5 6 2M1128 2759l11 0 5-6-3-4-8-1-9 1-4 4 8 6M581 2915l8-5-4-6-18-2-8 7 2 4 6 2 14 0M1153 2707l8-3 1-5-3-4-15-2-11 6 2 5 6 3 12 0M526 2883l6-2 0-6-11-1-4 4 1 3 8 2M1099 2674l8-3-2-4-14 1 0 4 8 2M475 2849l4-2-4 2M1047 2641l4-2-4 2M426 2819l4-2-4 2M384 2791l2-6-11-1-5 3 2 4 12 0M326 2765l15-2 4-5-9-7-14 0-6 3-1 5 11 6M282 2738l14-3 5-3 1-6-2-4-24-5-14 3-4 12 3 4 21 2M344 2710l9-1 4-5-2-3-7-2-15 3 3 7 8 1M298 2684l17-5 2-7-2-4-25-5-14 4-2 12 3 3 21 2M210 2713l44-4 6-9-1-11-39-10M357 2658l13-2 4-4-1-5-14-3-13 4-1 5 3 3 9 2M417 2631l12 0 3-5-2-1M418 2624l-4 4 3 3M198 2687l4 4-1 4-8 8"/><path stroke="#fec835" d="M686 2977l5-4-1-7-11-6-18 1-5 2-4 7 1 5 6 2 27 0M1256 2770l9-8 0-5-4-4-23-1-11 5 1 9 5 2 23 2M734 2950l10-4-2-4-11 0-4 5 7 3M1180 2788l10-4-3-4-13 1-1 5 7 2M622 2943l8-2-1-6-10 0-5 3 8 5M1195 2734l10-3-3-4-13 0-1 5 7 2M275 2731l13-1 1-5-12-1-5 3 3 4M237 2706l13-5-1-9-5-2-24-2-8 8 0 5 4 4 21 1M290 2678l13-1 1-5-12-2-5 4 3 4"/><path stroke="#f8f917" d="M669 2969l6 0-6 0M1241 2761l3 1 1-3-4 2M232 2699l4-2-3-1-1 3"/></g><g class="sf" transform="scale(.1)"><path class=Z d="M778 1979l11-57-8 23-11 56z"/><path class=S d="M767 2075l11-96-8 22-11 97z"/><path class=T d="M715 2064l10-54-8 23-10 53z"/><path class=M d="M704 2158l11-94-8 22-11 94z"/><path class=O d="M651 2133l11-51-8 22-11 52z"/><path class=I d="M641 2225l10-92-8 23-10 91z"/><path class=L d="M588 2186l11-48-8 22-11 48z"/><path class=F d="M578 2275l10-89-8 22-11 89z"/><path class=K d="M525 2223l10-46-8 22-10 46z"/><path class=E d="M514 2308l11-85-8 22-11 86z"/><path class=K d="M461 2243l11-43-8 22-11 43z"/><path class=E d="M451 2326l10-83-8 22-10 83z"/><path class=M d="M398 2247l11-40-8 22-11 40z"/><path class=R d="M187 2265l11-31-8 22-11 31z"/><path class=W d="M776 2012l10-97-8 64-11 96z"/><path class=R d="M712 2095l11-94-8 63-11 94z"/><path class=M d="M649 2161l11-91-9 63-10 92z"/><path class=K d="M586 2211l10-88-8 63-10 89z"/><path class=J d="M459 2263l11-84-9 64-10 83z"/><path class=O d="M259 2252l10-34-8 63-11 34z"/><path class=Q d="M248 2204l11 48-9 63-10-48z"/><path class=za d="M206 2170l10-72-8 63-10 73z"/><path class=V d="M195 2201l11-31-8 64-11 31z"/><path class=zi d="M794 1892l11-56-8 23-11 56z"/><path class=zb d="M784 1989l10-97-8 23-10 97z"/><path class=U d="M773 2044l11-55-8 23-11 56z"/><path class=zc d="M731 1977l10-53-8 23-10 54z"/><path class=V d="M720 2071l11-94-8 24-11 94z"/><path class=P d="M710 2124l10-53-8 24-10 52z"/><path class=X d="M668 2046l10-51-8 24-10 51z"/><path class=R d="M657 2138l11-92-8 24-11 91z"/><path class=K d="M647 2188l10-50-8 23-11 50z"/><path class=U d="M604 2099l11-48-8 23-11 49z"/><path class=O d="M594 2188l10-89-8 24-10 88z"/><path class=I d="M583 2235l11-47-8 23-11 48z"/><path class=T d="M541 2136l11-46-9 24-10 45z"/><path class=N d="M530 2222l11-86-8 23-11 86z"/><path class=H d="M520 2267l10-45-8 23-10 45z"/><path class=T d="M478 2156l10-43-8 24-10 42z"/><path class=N d="M467 2239l11-83-8 23-11 84z"/><path class=V d="M414 2160l11-40-8 23-11 41z"/><path class=P d="M404 2241l10-81-8 24-10 80z"/><path class=Y d="M351 2148l11-37-9 23-10 37z"/><path class=T d="M340 2226l11-78-8 23-11 78z"/><path class=zd d="M288 2120l10-35-8 23-10 35z"/><path class=Y d="M277 2195l11-75-8 23-11 75z"/><path class=zj d="M224 2075l11-32-8 23-11 32z"/><path class=zf d="M214 2147l10-72-8 23-10 72z"/><path class=za d="M203 2178l11-31-8 23-11 31z"/><path class=Z d="M834 1982l11 24-9-58-10-23z"/><path class=zd d="M823 1918l11 64-8-57-11-65z"/><path class=zi d="M813 1893l10 25-8-58-10-24z"/><path class=zh d="M802 1950l11-57-8-57-11 56z"/><path class=za d="M792 2046l10-96-8-58-10 97z"/><path class=T d="M781 2102l11-56-8-57-11 55z"/><path class=S d="M771 2076l10 26-8-58-10-26z"/><path class=X d="M760 2008l11 68-8-58-11-67z"/><path class=zc d="M750 1981l10 27-8-57-11-27z"/><path class=zb d="M739 2035l11-54-9-57-10 53z"/><path class=U d="M728 2129l11-94-8-58-11 94z"/><path class=N d="M718 2182l10-53-8-58-10 53zM707 2153l11 29-8-58-11-29z"/><path class=S d="M697 2083l10 70-8-58-10-70z"/><path class=X d="M686 2053l11 30-8-58-11-30z"/><path class=W d="M676 2104l10-51-8-58-10 51z"/><path class=Q d="M665 2195l11-91-8-58-11 92z"/><path class=J d="M655 2246l10-51-8-57-10 50zM644 2214l11 32-8-58-11-32z"/><path class=U d="M623 2109l10 32-8-57-10-33z"/><path class=T d="M612 2157l11-48-8-58-11 48z"/><path class=N d="M602 2246l10-89-8-58-10 89z"/><path class=H d="M591 2293l11-47-8-58-11 47zM581 2259l10 34-8-58-10-34z"/><path class=S d="M560 2148l10 35-8-57-10-36zM549 2194l11-46-8-58-11 46z"/><path class=M d="M539 2279l10-85-8-58-11 86z"/><path class=G d="M528 2324l11-45-9-57-10 45zM517 2287l11 37-8-57-11-38z"/><path class=S d="M496 2171l11 38-8-58-11-38zM486 2214l10-43-8-58-10 43z"/><path class=M d="M475 2297l11-83-8-58-11 83z"/><path class=H d="M454 2299l11 40-8-58-11-39z"/><path class=T d="M433 2178l11 40-9-57-10-41z"/><path class=U d="M422 2218l11-40-8-58-11 40z"/><path class=O d="M412 2298l10-80-8-58-10 81z"/><path class=J d="M391 2295l10 43-8-58-10-42z"/><path class=W d="M370 2168l10 44-8-58-10-43z"/><path class=X d="M359 2206l11-38-8-57-11 37z"/><path class=S d="M349 2283l10-77-8-58-11 78z"/><path class=zb d="M306 2142l11 46-8-57-11-46z"/><path class=zc d="M296 2177l10-35-8-57-10 35z"/><path class=X d="M285 2252l11-75-8-57-11 75z"/><path class=zh d="M243 2100l11 49-8-58-11-48z"/><path class=zi d="M232 2132l11-32-8-57-11 32z"/><path class=zd d="M222 2205l10-73-8-57-10 72z"/><path class=Z d="M211 2236l11-31-8-58-11 31z"/><path class=S d="M842 2080l11 24-8-98-11-24z"/><path class=W d="M832 2015l10 65-8-98-11-64z"/><path class=zb d="M821 1991l11 24-9-97-10-25z"/><path class=za d="M810 2048l11-57-8-98-11 57z"/><path class=T d="M800 2144l10-96-8-98-10 96z"/><path class=Q d="M768 2106l11 68-8-98-11-68z"/><path class=V d="M758 2079l10 27-8-98-10-27z"/><path class=U d="M747 2133l11-54-8-98-11 54z"/><path class=N d="M737 2227l10-94-8-98-11 94z"/><path class=L d="M705 2181l10 70-8-98-10-70z"/><path class=Q d="M694 2151l11 30-8-98-11-30z"/><path class=P d="M684 2202l10-51-8-98-10 51z"/><path class=J d="M673 2293l11-91-8-98-11 91z"/><path class=H d="M642 2239l10 73-8-98-11-73z"/><path class=N d="M631 2207l11 32-9-98-10-32z"/><path class=M d="M620 2255l11-48-8-98-11 48z"/><path class=G d="M610 2343l10-88-8-98-10 89z"/><path class=F d="M578 2281l11 76-8-98-11-76z"/><path class=L d="M568 2246l10 35-8-98-10-35zM557 2291l11-45-8-98-11 46z"/><path class=F d="M547 2377l10-86-8-97-10 85zM515 2307l11 78-9-98-10-78z"/><path class=L d="M504 2269l11 38-8-98-11-38zM494 2312l10-43-8-98-10 43z"/><path class=F d="M483 2395l11-83-8-98-11 83z"/><path class=G d="M452 2316l10 81-8-98-10-81z"/><path class=M d="M441 2276l11 40-8-98-11-40z"/><path class=N d="M431 2316l10-40-8-98-11 40z"/><path class=H d="M420 2396l11-80-9-98-10 80z"/><path class=J d="M388 2309l11 84-8-98-11-83z"/><path class=P d="M378 2266l10 43-8-97-10-44z"/><path class=Q d="M367 2304l11-38-8-98-11 38z"/><path class=L d="M357 2381l10-77-8-98-10 77z"/><path class=N d="M325 2286l11 87-9-98-10-87z"/><path class=U d="M314 2240l11 46-8-98-11-46z"/><path class=V d="M304 2275l10-35-8-98-10 35z"/><path class=Q d="M293 2350l11-75-8-98-11 75z"/><path class=T d="M262 2247l10 89-8-98-10-89z"/><path class=za d="M251 2198l11 49-8-98-11-49z"/><path class=zb d="M241 2230l10-32-8-98-11 32z"/><path class=W d="M230 2303l11-73-9-98-10 73z"/><path class=S d="M219 2334l11-31-8-98-11 31z"/><path class=U d="M829 2048l11 24-8-57-11-24z"/><path class=T d="M819 2104l10-56-8-57-11 57z"/><path class=M d="M808 2201l11-97-9-56-10 96z"/><path class=O d="M766 2136l10 27-8-57-10-27z"/><path class=N d="M755 2190l11-54-8-57-11 54z"/><path class=G d="M745 2284l10-94-8-57-10 94z"/><path class=J d="M702 2208l11 30-8-57-11-30z"/><path class=I d="M692 2259l10-51-8-57-10 51z"/><path class=C d="M681 2350l11-91-8-57-11 91z"/><path class=G d="M639 2263l11 33-8-57-11-32z"/><path class=F d="M629 2312l10-49-8-56-11 48z"/><path class=y d="M618 2400l11-88-9-57-10 88z"/><path class=E d="M576 2303l10 35-8-57-10-35zM565 2348l11-45-8-57-11 45z"/><path class=x d="M555 2434l10-86-8-57-10 86z"/><path class=E d="M513 2326l10 38-8-57-11-38zM502 2368l11-42-9-57-10 43z"/><path class=x d="M491 2452l11-84-8-56-11 83z"/><path class=F d="M449 2332l11 41-8-57-11-40z"/><path class=G d="M439 2373l10-41-8-56-10 40z"/><path class=I d="M386 2323l10 43-8-57-10-43z"/><path class=J d="M375 2360l11-37-8-57-11 38z"/><path class=O d="M312 2332l11-35-9-57-10 35z"/><path class=T d="M259 2255l11 49-8-57-11-49z"/><path class=U d="M249 2287l10-32-8-57-10 32z"/><path class=P d="M238 2359l11-72-8-57-11 73z"/><path class=L d="M228 2390l10-31-8-56-11 31z"/><path class=S d="M827 2079l10-56-8 25-10 56z"/><path class=L d="M816 2176l11-97-8 25-11 97z"/><path class=M d="M763 2165l11-54-8 25-11 54z"/><path class=F d="M753 2259l10-94-8 25-10 94z"/><path class=H d="M700 2234l11-51-9 25-10 51z"/><path class=B d="M689 2325l11-91-8 25-11 91z"/><path class=E d="M637 2287l10-49-8 25-10 49z"/><path class=x d="M626 2375l11-88-8 25-11 88z"/><path class=D d="M573 2323l11-46-8 26-11 45z"/><path class=w d="M563 2409l10-86-8 25-10 86z"/><path class=E d="M288 2368l11 48-8 25-11-48z"/><path class=K d="M236 2365l10-31-8 25-10 31z"/><path class=Q d="M824 2110l11-97-8 66-11 97z"/><path class=K d="M761 2192l10-94-8 67-10 94z"/><path class=I d="M307 2349l11-33-8 66-11 34z"/><path class=J d="M297 2302l10 47-8 67-11-48z"/><path class=T d="M254 2268l11-72-8 66-11 72z"/><path class=P d="M244 2299l10-31-8 66-10 31z"/><path class=zc d="M843 1987l10-56-8 26-10 56z"/><path class=V d="M832 2084l11-97-8 26-11 97z"/><path class=O d="M822 2139l10-55-8 26-10 55z"/><path class=W d="M780 2072l10-53-8 26-11 53z"/><path class=P d="M769 2166l11-94-9 26-10 94z"/><path class=I d="M758 2219l11-53-8 26-11 53z"/><path class=R d="M716 2142l11-51-8 25-11 52z"/><path class=L d="M706 2233l10-91-8 26-10 91z"/><path class=E d="M695 2283l11-50-8 26-11 50z"/><path class=O d="M653 2194l10-48-8 26-10 48z"/><path class=I d="M642 2283l11-89-8 26-11 89z"/><path class=C d="M632 2330l10-47-8 26-10 47z"/><path class=N d="M590 2231l10-46-8 26-11 46z"/><path class=H d="M579 2317l11-86-9 26-10 86z"/><path class=N d="M526 2251l11-43-8 26-11 43z"/><path class=H d="M516 2334l10-83-8 26-10 83z"/><path class=O d="M463 2255l10-40-8 26-10 40z"/><path class=J d="M452 2336l11-81-8 26-11 81z"/><path class=W d="M336 2215l11-35-8 26-11 35z"/><path class=Y d="M262 2242l11-72-8 26-11 72z"/><path class=U d="M252 2273l10-31-8 26-10 31z"/><path class=T d="M883 2075l10 23-8-55-11-23z"/><path class=X d="M872 2010l11 65-9-55-10-65z"/><path class=zc d="M861 1986l11 24-8-55-11-24z"/><path class=zb d="M851 2042l10-56-8-55-10 56z"/><path class=U d="M840 2139l11-97-8-55-11 97z"/><path class=N d="M830 2194l10-55-8-55-10 55z"/><path class=M d="M819 2168l11 26-8-55-11-26z"/><path class=R d="M809 2101l10 67-8-55-10-67z"/><path class=W d="M798 2074l11 27-8-55-11-27z"/><path class=V d="M788 2127l10-53-8-55-10 53z"/><path class=O d="M777 2221l11-94-8-55-11 94z"/><path class=H d="M767 2274l10-53-8-55-11 53z"/><path class=G d="M756 2245l11 29-9-55-10-29z"/><path class=M d="M745 2175l11 70-8-55-11-70z"/><path class=R d="M735 2145l10 30-8-55-10-29z"/><path class=Q d="M724 2197l11-52-8-54-11 51z"/><path class=K d="M714 2288l10-91-8-55-10 91z"/><path class=D d="M703 2338l11-50-8-55-11 50zM693 2306l10 32-8-55-10-32z"/><path class=N d="M672 2201l10 33-8-55-11-33zM661 2249l11-48-9-55-10 48z"/><path class=H d="M650 2338l11-89-8-55-11 89z"/><path class=A d="M629 2351l11 34-8-55-11-34z"/><path class=M d="M608 2240l11 36-8-55-11-36zM598 2286l10-46-8-55-10 46z"/><path class=G d="M587 2372l11-86-8-55-11 86z"/><path class=A d="M566 2379l11 38-9-55-10-37z"/><path class=M d="M545 2263l10 38-8-55-10-38zM534 2306l11-43-8-55-11 43z"/><path class=G d="M524 2389l10-83-8-55-10 83z"/><path class=B d="M503 2392l10 39-8-55-10-39z"/><path class=N d="M482 2270l10 41-8-55-11-41zM471 2310l11-40-9-55-10 40z"/><path class=I d="M460 2391l11-81-8-55-11 81z"/><path class=Q d="M418 2261l11 43-8-55-11-43z"/><path class=R d="M408 2298l10-37-8-55-10 37z"/><path class=M d="M397 2376l11-78-8-55-11 78z"/><path class=V d="M355 2235l10 46-8-55-10-46z"/><path class=W d="M344 2270l11-35-8-55-11 35z"/><path class=R d="M334 2345l10-75-8-55-10 75z"/><path class=zb d="M292 2193l10 48-8-54-10-49z"/><path class=zc d="M281 2225l11-32-8-55-11 32z"/><path class=X d="M271 2297l10-72-8-55-11 72z"/><path class=T d="M260 2328l11-31-9-55-10 31z"/><path class=R d="M880 2105l11 65-8-95-11-65z"/><path class=V d="M870 2081l10 24-8-95-11-24z"/><path class=U d="M859 2137l11-56-9-95-10 56z"/><path class=N d="M848 2234l11-97-8-95-11 97z"/><path class=K d="M817 2196l10 67-8-95-10-67z"/><path class=P d="M806 2169l11 27-8-95-11-27z"/><path class=O d="M796 2223l10-54-8-95-10 53z"/><path class=H d="M785 2317l11-94-8-96-11 94z"/><path class=F d="M753 2270l11 71-8-96-11-70z"/><path class=K d="M743 2241l10 29-8-95-10-30z"/><path class=J d="M732 2292l11-51-8-96-11 52z"/><path class=D d="M722 2383l10-91-8-95-10 91z"/><path class=B d="M690 2329l11 72-8-95-11-72z"/><path class=H d="M680 2296l10 33-8-95-10-33z"/><path class=G d="M669 2345l11-49-8-95-11 48z"/><path class=A d="M659 2433l10-88-8-96-11 89z"/><path class=y d="M627 2371l10 75-8-95-10-75z"/><path class=F d="M616 2335l11 36-8-95-11-36zM606 2381l10-46-8-95-10 46z"/><path class=y d="M595 2467l11-86-8-95-11 86zM564 2396l10 79-8-96-11-78z"/><path class=F d="M553 2358l11 38-9-95-10-38zM542 2401l11-43-8-95-11 43z"/><path class=y d="M532 2485l10-84-8-95-10 83z"/><path class=A d="M500 2406l11 81-8-95-11-81z"/><path class=G d="M490 2365l10 41-8-95-10-41z"/><path class=H d="M479 2405l11-40-8-95-11 40z"/><path class=B d="M469 2486l10-81-8-95-11 81z"/><path class=J d="M426 2356l11 43-8-95-11-43z"/><path class=K d="M416 2393l10-37-8-95-10 37z"/><path class=F d="M405 2471l11-78-8-95-11 78z"/><path class=O d="M363 2330l11 46-9-95-10-46z"/><path class=P d="M352 2365l11-35-8-95-11 35z"/><path class=K d="M342 2440l10-75-8-95-10 75z"/><path class=N d="M310 2337l11 89-8-95-11-90z"/><path class=U d="M300 2288l10 49-8-96-10-48z"/><path class=V d="M289 2320l11-32-8-95-11 32z"/><path class=R d="M279 2392l10-72-8-95-10 72z"/><path class=M d="M268 2423l11-31-8-95-11 31z"/><path class=P d="M878 2135l10 24-8-54-10-24z"/><path class=N d="M867 2191l11-56-8-54-11 56z"/><path class=G d="M857 2288l10-97-8-54-11 97z"/><path class=I d="M814 2223l11 27-8-54-11-27z"/><path class=H d="M804 2277l10-54-8-54-10 54z"/><path class=A d="M793 2371l11-94-8-54-11 94z"/><path class=D d="M751 2295l11 29-9-54-10-29zM740 2346l11-51-8-54-11 51z"/><path class=v d="M730 2437l10-91-8-54-10 91z"/><path class=A d="M688 2350l10 33-8-54-10-33zM677 2399l11-49-8-54-11 49z"/><path class=x d="M624 2389l11 36-8-54-11-36zM614 2435l10-46-8-54-10 46zM561 2413l11 37-8-54-11-38zM551 2455l10-42-8-55-11 43z"/><path class=A d="M487 2459l11-40-8-54-11 40z"/><path class=I d="M361 2419l10-35-8-54-11 35z"/><path class=N d="M308 2342l10 49-8-54-10-49z"/><path class=P d="M297 2374l11-32-8-54-11 32z"/><path class=K d="M287 2446l10-72-8-54-10 72z"/><path class=F d="M276 2477l11-31-8-54-11 31z"/><path class=N d="M875 2163l11-56-8 28-11 56z"/><path class=G d="M865 2260l10-97-8 28-10 97zM812 2249l10-54-8 28-10 54z"/><path class=A d="M801 2343l11-94-8 28-11 94z"/><path class=C d="M749 2318l10-51-8 28-11 51z"/><path class=u d="M738 2409l11-91-9 28-10 91z"/><path class=s d="M400 2489l11 45-8 28-11-46z"/><path class=y d="M337 2452l11 48-9 28-10-48z"/><path class=F d="M284 2450l11-32-8 28-11 31z"/><path class=L d="M873 2191l10-96-8 68-10 97z"/><path class=F d="M809 2274l11-94-8 69-11 94z"/><path class=B d="M746 2340l11-91-8 69-11 91z"/><path class=D d="M356 2431l10-34-8 69-10 34z"/><path class=E d="M345 2383l11 48-8 69-11-48z"/><path class=O d="M303 2350l10-73-8 69-10 72z"/><path class=K d="M292 2381l11-31-8 68-11 32z"/><path class=X d="M891 2066l11-57-8 29-11 57z"/><path class=Q d="M881 2163l10-97-8 29-10 96z"/><path class=J d="M870 2218l11-55-8 28-11 56z"/><path class=R d="M828 2151l11-54-8 29-11 54z"/><path class=K d="M818 2245l10-94-8 29-11 94z"/><path class=D d="M807 2298l11-53-9 29-10 53z"/><path class=M d="M765 2220l10-51-8 29-10 51z"/><path class=G d="M754 2312l11-92-8 29-11 91z"/><path class=y d="M744 2362l10-50-8 28-10 50z"/><path class=J d="M701 2273l11-48-8 29-11 48z"/><path class=D d="M691 2362l10-89-8 29-10 88z"/><path class=I d="M638 2310l11-46-8 29-11 45z"/><path class=C d="M628 2396l10-86-8 28-11 86z"/><path class=I d="M575 2330l10-43-8 29-10 43z"/><path class=C d="M564 2413l11-83-8 29-11 83z"/><path class=K d="M512 2334l10-40-8 29-11 40z"/><path class=E d="M501 2415l11-81-9 29-10 80z"/><path class=T d="M311 2321l11-72-9 28-10 73z"/><path class=P d="M300 2352l11-31-8 29-11 31z"/><path class=O d="M931 2151l11 23-8-52-11-24z"/><path class=T d="M921 2086l10 65-8-53-10-64z"/><path class=X d="M910 2062l11 24-8-52-11-25z"/><path class=W d="M900 2118l10-56-8-53-11 57z"/><path class=P d="M889 2215l11-97-9-52-10 97z"/><path class=I d="M878 2270l11-55-8-52-11 55z"/><path class=H d="M868 2244l10 26-8-52-10-26z"/><path class=M d="M857 2177l11 67-8-52-11-67z"/><path class=R d="M847 2150l10 27-8-52-10-28z"/><path class=Q d="M836 2203l11-53-8-53-11 54z"/><path class=J d="M826 2297l10-94-8-52-10 94z"/><path class=D d="M815 2350l11-53-8-52-11 53z"/><path class=C d="M805 2321l10 29-8-52-11-29z"/><path class=M d="M783 2222l11 29-8-52-11-30zM773 2273l10-51-8-53-10 51z"/><path class=F d="M762 2364l11-91-8-53-11 92z"/><path class=x d="M741 2382l11 32-8-52-11-32z"/><path class=J d="M720 2277l11 33-8-53-11-32zM710 2325l10-48-8-52-11 48z"/><path class=C d="M699 2414l11-89-9-52-10 89z"/><path class=H d="M657 2316l10 36-8-53-10-35zM646 2362l11-46-8-52-11 46z"/><path class=B d="M636 2448l10-86-8-52-10 86z"/><path class=H d="M593 2339l11 38-8-52-11-38zM583 2382l10-43-8-52-10 43z"/><path class=C d="M572 2465l11-83-8-52-11 83z"/><path class=J d="M530 2346l11 41-8-52-11-41zM520 2386l10-40-8-52-10 40z"/><path class=D d="M509 2467l11-81-8-52-11 81z"/><path class=M d="M467 2337l10 43-8-52-10-44zM456 2374l11-37-8-53-11 38z"/><path class=H d="M446 2452l10-78-8-52-10 78z"/><path class=Q d="M404 2311l10 46-8-52-11-46z"/><path class=R d="M393 2346l11-35-9-52-10 34z"/><path class=M d="M382 2421l11-75-8-53-11 75z"/><path class=W d="M340 2269l11 49-8-53-11-48z"/><path class=X d="M330 2301l10-32-8-52-10 32z"/><path class=T d="M319 2373l11-72-8-52-11 72z"/><path class=O d="M309 2404l10-31-8-52-11 31z"/><path class=M d="M929 2178l10 65-8-92-10-65z"/><path class=R d="M918 2154l11 24-8-92-11-24z"/><path class=Q d="M908 2211l10-57-8-92-10 56z"/><path class=J d="M897 2307l11-96-8-93-11 97z"/><path class=G d="M865 2269l11 68-8-93-11-67z"/><path class=L d="M855 2242l10 27-8-92-10-27z"/><path class=K d="M844 2296l11-54-8-92-11 53z"/><path class=D d="M834 2390l10-94-8-93-10 94z"/><path class=B d="M802 2344l11 70-8-93-11-70z"/><path class=G d="M792 2314l10 30-8-93-11-29z"/><path class=F d="M781 2365l11-51-9-92-10 51z"/><path class=y d="M770 2456l11-91-8-92-11 91z"/><path class=w d="M739 2402l10 73-8-93-10-72z"/><path class=C d="M728 2370l11 32-8-92-11-33zM718 2418l10-48-8-93-10 48z"/><path class=v d="M707 2506l11-88-8-93-11 89z"/><path class=B d="M665 2409l10 35-8-92-10-36zM654 2454l11-45-8-93-11 46z"/><path class=u d="M644 2540l10-86-8-92-10 86zM612 2470l11 78-8-92-11-79z"/><path class=B d="M602 2432l10 38-8-93-11-38zM591 2475l11-43-9-93-10 43z"/><path class=u d="M580 2558l11-83-8-93-11 83z"/><path class=C d="M538 2439l11 40-8-92-11-41zM528 2479l10-40-8-93-10 40z"/><path class=F d="M475 2429l10 43-8-92-10-43z"/><path class=G d="M464 2467l11-38-8-92-11 37z"/><path class=K d="M412 2403l10 46-8-92-10-46z"/><path class=L d="M401 2438l11-35-8-92-11 35z"/><path class=J d="M359 2410l10 89-8-92-10-89z"/><path class=Q d="M348 2361l11 49-8-92-11-49z"/><path class=R d="M338 2393l10-32-8-92-10 32z"/><path class=M d="M327 2466l11-73-8-92-11 72z"/><path class=I d="M317 2497l10-31-8-93-10 31z"/><path class=K d="M926 2205l11 25-8-52-11-24z"/><path class=J d="M916 2262l10-57-8-51-10 57z"/><path class=C d="M905 2359l11-97-8-51-11 96z"/><path class=E d="M863 2293l10 28-8-52-10-27z"/><path class=D d="M852 2347l11-54-8-51-11 54z"/><path class=v d="M842 2441l10-94-8-51-10 94z"/><path class=y d="M800 2365l10 30-8-51-10-30zM789 2416l11-51-8-51-11 51z"/><path class=r d="M779 2508l10-92-8-51-11 91z"/><path class=v d="M726 2469l10-48-8-51-10 48z"/><path class=J d="M356 2413l11 48-8-51-11-49z"/><path class=K d="M346 2445l10-32-8-52-10 32z"/><path class=G d="M335 2517l11-72-8-52-11 73z"/><path class=B d="M325 2548l10-31-8-51-10 31z"/><path class=J d="M924 2231l10-56-8 30-10 57z"/><path class=C d="M913 2328l11-97-8 31-11 97z"/><path class=D d="M860 2317l11-54-8 30-11 54z"/><path class=v d="M850 2411l10-94-8 30-10 94z"/><path class=o d="M449 2557l10 45-8 30-10-45z"/><path class=t d="M396 2568l11-34-8 30-11 34z"/><path class=u d="M386 2520l10 48-8 30-10-48z"/><path class=B d="M333 2518l10-32-8 31-10 31z"/><path class=H d="M921 2257l11-97-8 71-11 97z"/><path class=u d="M457 2485l11 45-9 72-10-45z"/><path class=y d="M404 2496l11-34-8 72-11 34z"/><path class=A d="M394 2448l10 48-8 72-10-48z"/><path class=L d="M351 2415l11-72-8 71-11 72z"/><path class=G d="M341 2446l10-31-8 71-10 32z"/><path class=U d="M940 2128l11-56-9 31-10 57z"/><path class=N d="M929 2225l11-97-8 32-11 97z"/><path class=G d="M919 2281l10-56-8 32-10 55z"/><path class=N d="M877 2214l10-54-8 31-10 54z"/><path class=H d="M866 2308l11-94-8 31-11 94z"/><path class=A d="M856 2361l10-53-8 31-11 53z"/><path class=J d="M813 2283l11-51-8 31-11 51z"/><path class=C d="M803 2374l10-91-8 31-10 92z"/><path class=G d="M750 2336l11-49-8 32-11 48z"/><path class=A d="M739 2424l11-88-8 31-11 89z"/><path class=E d="M687 2372l10-45-8 31-10 46z"/><path class=Q d="M360 2383l10-72-8 32-11 72z"/><path class=M d="M349 2415l11-32-9 32-10 31z"/><path class=L d="M980 2210l10 24-8-50-10-23z"/><path class=U d="M959 2121l10 25-8-50-10-24z"/><path class=T d="M948 2178l11-57-8-49-11 56z"/><path class=M d="M938 2275l10-97-8-50-11 97z"/><path class=F d="M927 2330l11-55-9-50-10 56z"/><path class=E d="M916 2304l11 26-8-49-11-27z"/><path class=O d="M895 2210l11 27-8-50-11-27z"/><path class=N d="M885 2263l10-53-8-50-10 54z"/><path class=G d="M874 2357l11-94-8-49-11 94z"/><path class=A d="M864 2410l10-53-8-49-10 53z"/><path class=y d="M853 2381l11 29-8-49-11-29z"/><path class=J d="M832 2281l11 30-9-49-10-30zM821 2332l11-51-8-49-11 51z"/><path class=C d="M811 2424l10-92-8-49-10 91z"/><path class=u d="M790 2442l10 32-8-50-10-31z"/><path class=G d="M769 2337l10 32-8-49-10-33zM758 2385l11-48-8-50-11 49z"/><path class=y d="M748 2474l10-89-8-49-11 88z"/><path class=E d="M705 2376l11 35-8-49-11-35zM695 2422l10-46-8-49-10 45z"/><path class=x d="M684 2508l11-86-8-50-11 86z"/><path class=E d="M642 2399l11 38-8-49-11-38zM632 2442l10-43-8-49-11 43z"/><path class=G d="M568 2446l11-40-8-50-11 41z"/><path class=A d="M558 2527l10-81-8-49-10 80z"/><path class=J d="M515 2396l11 44-8-50-11-43zM505 2434l10-38-8-49-10 37z"/><path class=N d="M452 2371l11 46-8-50-11-46z"/><path class=O d="M442 2405l10-34-8-50-11 35z"/><path class=T d="M389 2329l10 48-8-49-10-49z"/><path class=U d="M378 2361l11-32-8-50-11 32z"/><path class=Q d="M368 2433l10-72-8-50-10 72z"/><path class=L d="M357 2464l11-31-8-50-11 32z"/><path class=K d="M977 2236l11 64-8-90-11-64z"/><path class=O d="M967 2211l10 25-8-90-10-25z"/><path class=N d="M956 2268l11-57-8-90-11 57z"/><path class=G d="M946 2364l10-96-8-90-10 97z"/><path class=D d="M914 2326l11 68-9-90-10-67z"/><path class=I d="M903 2299l11 27-8-89-11-27z"/><path class=H d="M893 2353l10-54-8-89-10 53z"/><path class=A d="M882 2447l11-94-8-90-11 94z"/><path class=x d="M851 2401l10 70-8-90-10-70z"/><path class=D d="M840 2371l11 30-8-90-11-30z"/><path class=C d="M830 2422l10-51-8-90-11 51z"/><path class=v d="M819 2513l11-91-9-90-10 92z"/><path class=t d="M787 2459l11 73-8-90-11-73z"/><path class=A d="M777 2427l10 32-8-90-10-32z"/><path class=y d="M766 2475l11-48-8-90-11 48z"/><path class=s d="M756 2564l10-89-8-90-10 89z"/><path class=x d="M713 2466l11 35-8-90-11-35zM703 2512l10-46-8-90-10 46zM650 2489l11 38-8-90-11-38zM640 2532l10-43-8-90-10 43z"/><path class=D d="M513 2524l11-38-9-90-10 38z"/><path class=H d="M460 2460l11 46-8-89-11-46z"/><path class=I d="M450 2495l10-35-8-89-10 34z"/><path class=G d="M407 2467l11 89-8-90-11-89z"/><path class=N d="M397 2418l10 49-8-90-10-48z"/><path class=O d="M386 2450l11-32-8-89-11 32z"/><path class=K d="M376 2523l10-73-8-89-10 72z"/><path class=F d="M365 2554l11-31-8-90-11 31z"/><path class=I d="M975 2260l10 24-8-48-10-25z"/><path class=H d="M964 2316l11-56-8-49-11 57z"/><path class=A d="M954 2413l10-97-8-48-10 96z"/><path class=C d="M912 2348l10 27-8-49-11-27z"/><path class=B d="M901 2402l11-54-9-49-10 54z"/><path class=t d="M890 2496l11-94-8-49-11 94z"/><path class=w d="M848 2420l11 30-8-49-11-30z"/><path class=v d="M838 2471l10-51-8-49-10 51z"/><path class=p d="M827 2562l11-91-8-49-11 91z"/><path class=t d="M785 2475l10 33-8-49-10-32z"/><path class=s d="M774 2524l11-49-8-48-11 48z"/><path class=I d="M394 2499l11-32-8-49-11 32z"/><path class=D d="M384 2571l10-72-8-49-10 73z"/><path class=y d="M373 2603l11-32-8-48-11 31z"/><path class=H d="M972 2283l11-56-8 33-11 56z"/><path class=A d="M962 2380l10-97-8 33-10 97z"/><path class=g d="M624 2633l11 39-8 34-11-40z"/><path class=i d="M561 2629l10 42-8 33-10-42z"/><path class=l d="M508 2653l11-36-8 33-11 37z"/><path class=m d="M498 2608l10 45-8 34-11-46z"/><path class=r d="M445 2620l10-34-8 33-10 34z"/><path class=s d="M434 2572l11 48-8 33-11-48z"/><path class=y d="M381 2569l11-31-8 33-11 32z"/><path class=o d="M569 2554l10 43-8 74-10-42z"/><path class=r d="M516 2579l11-36-8 74-11 36z"/><path class=s d="M506 2534l10 45-8 74-10-45z"/><path class=w d="M453 2545l10-34-8 75-10 34z"/><path class=x d="M442 2497l11 48-8 75-11-48z"/><path class=J d="M400 2464l11-72-8 74-11 72z"/><path class=E d="M390 2495l10-31-8 74-11 31z"/><path class=S d="M989 2175l10-57-8 34-11 57z"/><path class=L d="M978 2271l11-96-9 34-10 96z"/><path class=M d="M925 2260l11-54-8 34-11 54z"/><path class=F d="M915 2354l10-94-8 34-10 94z"/><path class=H d="M862 2329l10-51-8 34-10 51z"/><path class=B d="M851 2420l11-91-8 34-11 92z"/><path class=E d="M799 2382l10-48-8 34-10 48zM450 2463l11 48-8 34-11-48z"/><path class=O d="M408 2430l11-73-8 35-11 72z"/><path class=K d="M398 2461l10-31-8 34-10 31zM1028 2254l11 24-8-47-11-24z"/><path class=T d="M1007 2165l11 24-8-46-11-25z"/><path class=S d="M997 2221l10-56-8-47-10 57z"/><path class=L d="M986 2318l11-97-8-46-11 96z"/><path class=D d="M965 2348l11 26-9-47-10-26z"/><path class=N d="M944 2253l10 27-8-47-10-27z"/><path class=M d="M933 2307l11-54-8-47-11 54z"/><path class=F d="M923 2401l10-94-8-47-10 94z"/><path class=w d="M902 2425l10 29-8-47-10-29z"/><path class=I d="M881 2325l10 30-8-47-11-30z"/><path class=H d="M870 2376l11-51-9-47-10 51z"/><path class=B d="M859 2467l11-91-8-47-11 91z"/><path class=E d="M817 2380l11 33-8-47-11-32zM807 2429l10-49-8-46-10 48z"/><path class=D d="M754 2420l11 35-9-47-10-35zM743 2465l11-45-8-47-11 46z"/><path class=I d="M553 2478l11-38-8-47-11 38z"/><path class=M d="M501 2414l10 46-8-46-10-47z"/><path class=N d="M490 2449l11-35-8-47-11 35z"/><path class=S d="M437 2372l11 49-8-47-11-49z"/><path class=T d="M427 2404l10-32-8-47-10 32z"/><path class=O d="M416 2477l11-73-8-47-11 73z"/><path class=K d="M406 2508l10-31-8-47-10 31z"/><path class=I d="M1026 2276l10 65-8-87-10-65z"/><path class=N d="M1015 2252l11 24-8-87-11-24z"/><path class=M d="M1005 2309l10-57-8-87-10 56z"/><path class=F d="M994 2405l11-96-8-88-11 97z"/><path class=C d="M963 2367l10 68-8-87-11-68z"/><path class=H d="M952 2340l11 27-9-87-10-27z"/><path class=G d="M941 2394l11-54-8-87-11 54z"/><path class=y d="M931 2488l10-94-8-87-10 94z"/><path class=w d="M899 2442l11 70-8-87-11-70z"/><path class=C d="M889 2412l10 30-8-87-10-30z"/><path class=B d="M878 2463l11-51-8-87-11 51z"/><path class=u d="M868 2554l10-91-8-87-11 91z"/><path class=s d="M836 2500l10 73-8-87-10-73z"/><path class=y d="M825 2468l11 32-8-87-11-33z"/><path class=x d="M815 2516l10-48-8-88-10 49z"/><path class=w d="M762 2507l11 35-8-87-11-35z"/><path class=G d="M509 2501l10 46-8-87-10-46z"/><path class=H d="M498 2536l11-35-8-87-11 35z"/><path class=F d="M456 2508l11 89-9-87-10-89z"/><path class=M d="M445 2459l11 49-8-87-11-49z"/><path class=N d="M435 2491l10-32-8-87-10 32z"/><path class=I d="M424 2564l11-73-8-87-11 73z"/><path class=E d="M414 2595l10-31-8-87-10 31z"/><path class=H d="M1023 2298l11 24-8-46-11-24z"/><path class=G d="M1013 2354l10-56-8-46-10 57z"/><path class=y d="M1002 2451l11-97-8-45-11 96z"/><path class=B d="M960 2386l11 27-8-46-11-27z"/><path class=A d="M950 2440l10-54-8-46-11 54z"/><path class=u d="M886 2509l11-51-8-46-11 51z"/><path class=H d="M443 2537l11-32-9-46-10 32z"/><path class=C d="M432 2609l11-72-8-46-11 73z"/><path class=x d="M422 2641l10-32-8-45-10 31z"/><path class=e d="M736 2656l11 37-8 36-11-37z"/><path class=f d="M673 2668l10 40-8 36-10-40z"/><path class=h d="M620 2707l11-40-9 36-10 39zM609 2664l11 43-8 35-11-42z"/><path class=l d="M557 2689l10-37-8 36-10 37zM546 2644l11 45-8 36-11-45z"/><path class=q d="M493 2655l11-34-8 36-11 34z"/><path class=r d="M483 2607l10 48-8 36-10-48z"/><path class=x d="M430 2605l11-31-9 35-10 32z"/><path class=l d="M681 2591l10 40-8 77-10-40z"/><path class=n d="M628 2629l11-39-8 77-11 40zM618 2587l10 42-8 78-11-43z"/><path class=r d="M565 2612l10-37-8 77-10 37zM554 2567l11 45-8 77-11-45z"/><path class=w d="M501 2578l11-34-8 77-11 34z"/><path class=x d="M491 2530l10 48-8 77-10-48z"/><path class=I d="M449 2497l10-73-8 77-10 73z"/><path class=E d="M438 2528l11-31-8 77-11 31z"/><path class=S d="M1037 2205l11-57-8 37-11 56z"/><path class=L d="M1027 2301l10-96-8 36-10 97z"/><path class=M d="M974 2290l10-54-8 37-10 54z"/><path class=F d="M963 2384l11-94-8 37-11 94z"/><path class=H d="M911 2359l10-51-8 37-11 51z"/><path class=E d="M499 2493l11 48-9 37-10-48z"/><path class=O d="M457 2460l10-73-8 37-10 73z"/><path class=K d="M446 2491l11-31-8 37-11 31zM1077 2281l10 24-8-44-10-24z"/><path class=T d="M1056 2192l10 25-8-44-10-25z"/><path class=S d="M1045 2249l11-57-8-44-11 57z"/><path class=L d="M1035 2345l10-96-8-44-10 96z"/><path class=D d="M1014 2375l10 26-8-44-10-26z"/><path class=N d="M992 2280l11 28-8-45-11-27z"/><path class=M d="M982 2334l10-54-8-44-10 54z"/><path class=F d="M971 2428l11-94-8-44-11 94z"/><path class=I d="M929 2352l11 30-8-44-11-30z"/><path class=H d="M919 2403l10-51-8-44-10 51z"/><path class=B d="M908 2495l11-92-8-44-11 91z"/><path class=F d="M866 2408l10 32-8-44-10-32z"/><path class=E d="M855 2456l11-48-8-44-11 48z"/><path class=x d="M845 2545l10-89-8-44-10 89z"/><path class=I d="M602 2505l11-38-8-44-11 38z"/><path class=M d="M549 2441l11 47-8-44-11-47z"/><path class=N d="M539 2476l10-35-8-44-10 35z"/><path class=S d="M486 2399l11 49-9-44-10-49z"/><path class=T d="M475 2432l11-33-8-44-11 32z"/><path class=O d="M465 2504l10-72-8-45-10 73z"/><path class=K d="M454 2535l11-31-8-44-11 31z"/><path class=J d="M1074 2301l11 65-8-85-11-64z"/><path class=N d="M1064 2277l10 24-8-84-10-25z"/><path class=M d="M1053 2333l11-56-8-85-11 57z"/><path class=F d="M1043 2430l10-97-8-84-10 96z"/><path class=C d="M1011 2392l11 67-8-84-11-67z"/><path class=H d="M1001 2365l10 27-8-84-11-28z"/><path class=G d="M990 2418l11-53-9-85-10 54z"/><path class=y d="M979 2512l11-94-8-84-11 94z"/><path class=C d="M937 2437l11 29-8-84-11-30zM927 2488l10-51-8-85-10 51z"/><path class=H d="M547 2561l10-35-8-85-10 35z"/><path class=M d="M494 2484l11 49-8-85-11-49z"/><path class=N d="M484 2516l10-32-8-85-11 33z"/><path class=J d="M473 2588l11-72-9-84-10 72z"/><path class=E d="M462 2619l11-31-8-84-11 31z"/><path class=I d="M1072 2320l11 24-9-43-10-24z"/><path class=H d="M1061 2376l11-56-8-43-11 56z"/><path class=I d="M492 2559l10-32-8-43-10 32z"/><path class=D d="M481 2631l11-72-8-43-11 72z"/><path class=x d="M471 2663l10-32-8-43-11 31z"/><path class=g d="M848 2647l10 34-8 39-10-35z"/><path class=f d="M795 2712l11-45-8 39-11 45zM785 2675l10 37-8 39-10-37zM732 2727l10-42-8 39-10 42z"/><path class=g d="M721 2687l11 40-8 39-11-40z"/><path class=i d="M669 2726l10-40-8 39-11 39zM658 2683l11 43-9 38-10-42z"/><path class=l d="M605 2708l11-37-8 39-11 37z"/><path class=m d="M595 2663l10 45-8 39-10-46z"/><path class=r d="M542 2674l10-34-8 39-10 34z"/><path class=s d="M531 2626l11 48-8 39-11-48z"/><path class=y d="M479 2624l10-31-8 38-10 32z"/><path class=l d="M793 2595l10 37-8 80-10-37z"/><path class=m d="M740 2647l11-42-9 80-10 42zM729 2608l11 39-8 80-11-40z"/><path class=o d="M677 2646l10-39-8 79-10 40zM666 2603l11 43-8 80-11-43z"/><path class=s d="M613 2628l11-36-8 79-11 37zM603 2583l10 45-8 80-10-45z"/><path class=D d="M561 2560l10-75-8 80-11 75z"/><path class=x d="M550 2594l11-34-9 80-10 34z"/><path class=y d="M539 2546l11 48-8 80-11-48z"/><path class=K d="M497 2513l11-72-8 79-11 73z"/><path class=F d="M487 2544l10-31-8 80-10 31z"/><path class=T d="M1086 2218l10-56-8 39-10 57z"/><path class=M d="M1075 2315l11-97-8 40-11 97z"/><path class=A d="M611 2544l10 45-8 39-10-45z"/><path class=F d="M548 2507l10 48-8 39-11-48z"/><path class=Q d="M505 2473l11-72-8 40-11 72z"/><path class=L d="M495 2505l10-32-8 40-10 31z"/><path class=V d="M1104 2203l11 25-8-42-11-24z"/><path class=U d="M1094 2260l10-57-8-41-10 56z"/><path class=N d="M1083 2356l11-96-8-42-11 97z"/><path class=O d="M1041 2291l11 28-8-42-11-27z"/><path class=N d="M1031 2345l10-54-8-41-11 54z"/><path class=H d="M1020 2439l11-94-9-41-10 94z"/><path class=K d="M978 2363l10 30-8-41-10-30z"/><path class=J d="M967 2414l11-51-8-41-11 51z"/><path class=C d="M957 2506l10-92-8-41-10 91z"/><path class=G d="M914 2419l11 32-8-41-11-33zM904 2467l10-48-8-42-10 49z"/><path class=F d="M851 2458l11 35-8-41-11-35z"/><path class=E d="M841 2504l10-46-8-41-11 45z"/><path class=F d="M777 2524l11-43-8-41-11 43z"/><path class=G d="M714 2528l10-40-8-42-10 41z"/><path class=N d="M598 2453l10 46-8-42-10-46z"/><path class=O d="M587 2487l11-34-8-42-11 35z"/><path class=U d="M535 2410l10 49-8-41-11-49z"/><path class=V d="M524 2443l11-33-9-41-10 32z"/><path class=Q d="M513 2515l11-72-8-42-11 72z"/><path class=M d="M503 2546l10-31-8-42-10 32z"/><path class=L d="M1123 2309l11 65-8-82-11-64z"/><path class=P d="M1112 2285l11 24-8-81-11-25z"/><path class=O d="M1102 2341l10-56-8-82-10 57z"/><path class=H d="M1091 2438l11-97-8-81-11 96z"/><path class=J d="M1049 2373l11 27-8-81-11-28z"/><path class=I d="M1039 2427l10-54-8-82-10 54z"/><path class=B d="M1028 2521l11-94-8-82-11 94z"/><path class=E d="M986 2445l10 30-8-82-10-30z"/><path class=D d="M975 2496l11-51-8-82-11 51z"/><path class=A d="M912 2549l11-49-9-81-10 48z"/><path class=J d="M595 2569l11-35-8-81-11 34z"/><path class=O d="M543 2492l10 49-8-82-10-49z"/><path class=P d="M532 2524l11-32-8-82-11 33z"/><path class=L d="M522 2596l10-72-8-81-11 72z"/><path class=G d="M511 2628l11-32-9-81-10 31z"/><path class=K d="M540 2565l11-32-8-41-11 32z"/><path class=F d="M530 2637l10-72-8-41-10 72z"/><path class=B d="M519 2668l11-31-8-41-11 32z"/><path class=o d="M1023 2544l11 29-8 41-11-29z"/><path class=l d="M970 2636l11-50-8 42-11 50z"/><path class=k d="M960 2605l10 31-8 42-10-32z"/><path class=i d="M907 2684l11-48-8 42-11 47zM897 2650l10 34-8 41-11-34z"/><path class=h d="M844 2715l10-45-8 42-10 44zM833 2678l11 37-8 41-11-37z"/><path class=i d="M780 2730l11-42-8 41-11 42zM770 2690l10 40-8 41-10-40z"/><path class=k d="M717 2729l11-40-8 42-11 39z"/><path class=l d="M707 2686l10 43-8 41-11-43z"/><path class=o d="M654 2711l10-37-8 42-10 36z"/><path class=p d="M643 2666l11 45-8 41-11-45z"/><path class=v d="M633 2579l10 87-8 41-10-86z"/><path class=t d="M591 2677l10-34-8 41-11 34z"/><path class=u d="M580 2629l11 48-9 41-10-48z"/><path class=C d="M569 2540l11 89-8 41-11-89z"/><path class=K d="M548 2523l11-32-8 42-11 32z"/><path class=B d="M527 2627l11-31-8 41-11 31z"/><path class=p d="M915 2601l11-47-8 82-11 48z"/><path class=o d="M905 2567l10 34-8 83-10-34zM852 2633l10-45-8 82-10 45zM841 2596l11 37-8 82-11-37zM789 2647l10-42-8 83-11 42z"/><path class=p d="M778 2608l11 39-9 83-10-40z"/><path class=r d="M725 2646l11-39-8 82-11 40zM715 2604l10 42-8 83-10-43z"/><path class=u d="M662 2628l10-36-8 82-10 37z"/><path class=v d="M651 2583l11 45-8 83-11-45z"/><path class=G d="M609 2561l11-75-8 82-11 75z"/><path class=B d="M599 2595l10-34-8 82-10 34z"/><path class=C d="M588 2547l11 48-8 82-11-48z"/><path class=J d="M577 2458l11 89-8 82-11-89z"/><path class=M d="M546 2513l10-72-8 82-10 73z"/><path class=I d="M535 2544l11-31-8 83-11 31z"/><path class=y d="M723 2561l10 43-8 42-10-42z"/><path class=D d="M659 2541l11 45-8 42-11-45z"/><path class=H d="M607 2552l10-34-8 43-10 34z"/><path class=I d="M596 2504l11 48-8 43-11-48z"/><path class=T d="M554 2471l10-72-8 42-10 72z"/><path class=O d="M543 2502l11-31-8 42-11 31z"/><path class=Y d="M1153 2198l11 24-9-38-10-25z"/><path class=X d="M1142 2255l11-57-8-39-11 57z"/><path class=Q d="M1132 2351l10-96-8-39-10 97z"/><path class=S d="M1090 2286l10 27-8-38-10-28z"/><path class=R d="M1079 2340l11-54-8-39-11 54z"/><path class=K d="M1069 2434l10-94-8-39-11 94z"/><path class=N d="M1026 2358l11 30-8-39-11-30z"/><path class=M d="M1016 2409l10-51-8-39-10 51z"/><path class=K d="M963 2414l11 32-9-39-10-32z"/><path class=J d="M952 2462l11-48-8-39-11 48z"/><path class=I d="M900 2453l10 35-8-39-10-35zM889 2498l11-45-8-39-11 46zM836 2476l11 38-8-39-11-38zM826 2519l10-43-8-39-10 43z"/><path class=J d="M773 2483l11 40-8-38-11-41z"/><path class=K d="M763 2523l10-40-8-39-11 40z"/><path class=M d="M710 2473l10 43-8-38-10-44z"/><path class=N d="M699 2511l11-38-8-39-11 38z"/><path class=X d="M583 2405l11 49-8-39-11-48z"/><path class=Y d="M573 2437l10-32-8-38-11 32z"/><path class=T d="M562 2510l11-73-9-38-10 72z"/><path class=P d="M551 2541l11-31-8-39-11 31z"/><path class=T d="M1161 2277l11 24-8-79-11-24z"/><path class=S d="M1151 2333l10-56-8-79-11 57z"/><path class=L d="M1140 2430l11-97-9-78-10 96z"/><path class=M d="M1098 2365l10 27-8-79-10-27zM1087 2419l11-54-8-79-11 54z"/><path class=I d="M1034 2437l11 30-8-79-11-30z"/><path class=H d="M1024 2488l10-51-8-79-10 51z"/><path class=E d="M971 2492l11 33-8-79-11-32zM961 2541l10-49-8-78-11 48z"/><path class=D d="M908 2532l10 35-8-79-10-35zM897 2577l11-45-8-79-11 45zM844 2555l11 38-8-79-11-38zM834 2598l10-43-8-79-10 43z"/><path class=E d="M771 2602l10-41-8-78-10 40z"/><path class=I d="M707 2589l11-37-8-79-11 38z"/><path class=S d="M591 2484l11 49-8-79-11-49z"/><path class=T d="M581 2516l10-32-8-79-10 32z"/><path class=O d="M570 2588l11-72-8-79-11 73z"/><path class=K d="M560 2620l10-32-8-78-11 31z"/><path class=N d="M1159 2371l10-56-8-38-10 56z"/><path class=G d="M1095 2457l11-54-8-38-11 54zM610 2571l10 89-8-38-10-89z"/><path class=O d="M589 2554l10-32-8-38-10 32z"/><path class=J d="M578 2626l11-72-8-38-11 72z"/><path class=F d="M568 2657l10-31-8-38-10 32zM1198 2360l11 23-8 44-11-23z"/><path class=x d="M1135 2453l11 26-8 44-11-26z"/><path class=t d="M1082 2559l11-52-8 44-11 52z"/><path class=s d="M1072 2530l10 29-8 44-10-28z"/><path class=p d="M1019 2623l11-50-9 44-10 50z"/><path class=o d="M1008 2591l11 32-8 44-11-32z"/><path class=m d="M956 2671l10-48-8 44-10 48zM945 2636l11 35-8 44-11-35z"/><path class=l d="M892 2702l11-45-8 44-11 45zM882 2665l10 37-8 44-10-37z"/><path class=m d="M818 2677l11 40-8 44-11-40z"/><path class=o d="M766 2715l10-39-8 44-10 39z"/><path class=p d="M755 2673l11 42-8 44-11-42z"/><path class=v d="M745 2589l10 84-8 44-10-84z"/><path class=s d="M702 2698l11-37-8 44-11 37z"/><path class=t d="M692 2652l10 46-8 44-10-46z"/><path class=B d="M681 2566l11 86-8 44-11-86z"/><path class=x d="M639 2664l11-34-8 44-11 34z"/><path class=y d="M629 2616l10 48-8 44-11-48z"/><path class=G d="M618 2527l11 89-9 44-10-89z"/><path class=P d="M597 2510l10-32-8 44-10 32z"/><path class=F d="M576 2613l10-31-8 44-10 31z"/><path class=G d="M1154 2394l10-55-8 85-10 55z"/><path class=F d="M1143 2368l11 26-8 85-11-26z"/><path class=A d="M1090 2474l11-53-8 86-11 52zM1080 2445l10 29-8 85-10-29z"/><path class=v d="M1027 2538l11-50-8 85-11 50zM1017 2506l10 32-8 85-11-32z"/><path class=t d="M964 2585l10-47-8 85-10 48zM953 2551l11 34-8 86-11-35z"/><path class=s d="M900 2617l11-45-8 85-11 45zM890 2579l10 38-8 85-10-37z"/><path class=t d="M837 2631l11-42-8 86-11 42zM827 2592l10 39-8 86-11-40z"/><path class=B d="M784 2591l11-81-8 85-11 81z"/><path class=v d="M774 2630l10-39-8 85-10 39zM763 2588l11 42-8 85-11-42z"/><path class=F d="M721 2576l11-78-8 85-11 78z"/><path class=A d="M710 2612l11-36-8 85-11 37z"/><path class=B d="M700 2567l10 45-8 86-10-46z"/><path class=H d="M689 2481l11 86-8 85-11-86z"/><path class=K d="M658 2545l10-75-8 85-10 75z"/><path class=F d="M647 2578l11-33-8 85-11 34z"/><path class=G d="M637 2531l10 47-8 86-10-48z"/><path class=N d="M626 2441l11 90-8 85-11-89z"/><path class=R d="M594 2497l11-72-8 85-11 72z"/><path class=M d="M584 2528l10-31-8 85-10 31z"/><path class=A d="M898 2535l11 37-9 45-10-38z"/><path class=B d="M835 2547l10 39-8 45-10-39z"/><path class=D d="M771 2543l11 42-8 45-11-42z"/><path class=G d="M719 2567l10-36-8 45-11 36z"/><path class=H d="M708 2522l11 45-9 45-10-45z"/><path class=M d="M655 2533l11-33-8 45-11 33z"/><path class=N d="M645 2486l10 47-8 45-10-47z"/><path class=X d="M603 2452l10-72-8 45-11 72z"/><path class=T d="M592 2483l11-31-9 45-10 31z"/><path class=zd d="M1202 2177l10 24-8-36-11-24z"/><path class=zc d="M1191 2233l11-56-9-36-10 56z"/><path class=V d="M1180 2330l11-97-8-36-11 97z"/><path class=W d="M1138 2265l11 27-8-36-11-27zM1128 2318l10-53-8-36-10 53z"/><path class=S d="M1075 2336l10 30-8-36-10-30z"/><path class=R d="M1064 2388l11-52-8-36-11 52z"/><path class=O d="M1012 2392l10 33-8-36-10-33zM1001 2440l11-48-8-36-11 48z"/><path class=N d="M948 2431l11 36-8-36-11-36zM938 2477l10-46-8-36-10 46zM885 2454l11 38-9-36-10-38zM874 2497l11-43-8-36-11 43z"/><path class=O d="M822 2461l10 41-8-36-10-41zM811 2501l11-40-8-36-11 40z"/><path class=R d="M758 2452l11 43-8-36-11-43z"/><path class=zd d="M621 2416l11-32-8-36-11 32z"/><path class=Y d="M611 2488l10-72-8-36-10 72z"/><path class=U d="M600 2519l11-31-8-36-11 31z"/><path class=T d="M1220 2277l11 65-8-76-11-65z"/><path class=Y d="M1210 2253l10 24-8-76-10-24z"/><path class=X d="M1199 2309l11-56-8-76-11 56z"/><path class=N d="M1157 2368l10 67-8-76-10-67z"/><path class=S d="M1146 2341l11 27-8-76-11-27z"/><path class=R d="M1136 2395l10-54-8-76-10 53z"/><path class=I d="M1094 2442l10 71-8-77-11-70z"/><path class=N d="M1083 2413l11 29-9-76-10-30z"/><path class=M d="M1072 2464l11-51-8-77-11 52z"/><path class=J d="M1020 2468l10 33-8-76-10-33zM1009 2517l11-49-8-76-11 48z"/><path class=I d="M956 2507l11 36-8-76-11-36zM946 2553l10-46-8-76-10 46zM893 2530l11 38-8-76-11-38zM883 2573l10-43-8-76-11 43z"/><path class=J d="M830 2537l10 41-8-76-10-41zM819 2577l11-40-8-76-11 40z"/><path class=M d="M766 2528l11 43-8-76-11-43z"/><path class=R d="M703 2502l11 46-8-76-11-46z"/><path class=S d="M693 2537l10-35-8-76-11 35z"/><path class=X d="M640 2460l10 49-8-77-10-48z"/><path class=Y d="M629 2492l11-32-8-76-11 32z"/><path class=T d="M619 2564l10-72-8-76-10 72z"/><path class=P d="M608 2595l11-31-8-76-11 31z"/><path class=T d="M1218 2288l10 24-8-35-10-24z"/><path class=S d="M1207 2344l11-56-8-35-11 56z"/><path class=M d="M1144 2430l10-54-8-35-10 54z"/><path class=I d="M1091 2448l11 30-8-36-11-29z"/><path class=H d="M1081 2499l10-51-8-35-11 51z"/><path class=E d="M1017 2552l11-49-8-35-11 49z"/><path class=D d="M954 2588l10-45-8-36-10 46zM891 2608l10-42-8-36-10 43z"/><path class=F d="M827 2612l11-40-8-35-11 40zM722 2583l10 86-8-35-10-86z"/><path class=E d="M669 2633l11 48-9-35-10-48z"/><path class=L d="M658 2544l11 89-8-35-11-89z"/><path class=T d="M637 2527l11-32-8-35-11 32z"/><path class=O d="M627 2599l10-72-8-35-10 72z"/><path class=K d="M616 2630l11-31-8-35-11 31z"/><path class=L d="M1247 2330l11 24-9 46-10-23z"/><path class=F d="M1194 2450l11-56-8 47-11 56z"/><path class=E d="M1184 2424l10 26-8 47-10-27z"/><path class=y d="M1131 2530l10-53-8 47-10 52zM1120 2501l11 29-8 46-11-28z"/><path class=u d="M1068 2593l10-50-8 47-11 50zM1057 2562l11 31-9 47-10-31z"/><path class=s d="M1004 2641l11-48-8 47-11 48zM994 2607l10 34-8 47-10-35z"/><path class=r d="M941 2672l10-45-8 47-10 45zM930 2635l11 37-8 47-11-37z"/><path class=x d="M920 2557l10 78-8 47-10-78z"/><path class=s d="M878 2687l10-42-8 47-10 42zM867 2647l11 40-8 47-11-40z"/><path class=y d="M857 2566l10 81-8 47-11-81z"/><path class=u d="M814 2686l11-40-8 47-11 39zM804 2643l10 43-8 46-10-42z"/><path class=C d="M793 2559l11 84-8 47-11-84z"/><path class=y d="M751 2668l11-37-9 47-10 37zM740 2623l11 45-8 47-11-46z"/><path class=G d="M730 2536l10 87-8 46-10-86z"/><path class=O d="M709 2525l10-35-8 47-10 35z"/><path class=E d="M688 2634l10-34-8 47-10 34z"/><path class=F d="M677 2586l11 48-8 47-11-48z"/><path class=M d="M667 2497l10 89-8 47-11-89z"/><path class=T d="M656 2448l11 49-9 47-10-49z"/><path class=U d="M645 2480l11-32-8 47-11 32z"/><path class=L d="M624 2584l11-31-8 46-11 31z"/><path class=S d="M1255 2242l11 24-8 88-11-24z"/><path class=M d="M1202 2362l11-56-8 88-11 56z"/><path class=L d="M1192 2336l10 26-8 88-10-26z"/><path class=N d="M1150 2389l10-94-8 88-11 94z"/><path class=G d="M1139 2442l11-53-9 88-10 53zM1128 2413l11 29-8 88-11-29z"/><path class=J d="M1086 2455l11-91-8 88-11 91z"/><path class=C d="M1076 2506l10-51-8 88-10 50zM1065 2474l11 32-8 87-11-31z"/><path class=G d="M1023 2506l10-89-8 88-10 88z"/><path class=A d="M1012 2553l11-47-8 87-11 48zM1002 2519l10 34-8 88-10-34z"/><path class=F d="M960 2539l10-85-8 87-11 86z"/><path class=y d="M949 2584l11-45-9 88-10 45zM938 2547l11 37-8 88-11-37z"/><path class=F d="M896 2557l11-83-8 88-11 83z"/><path class=A d="M886 2599l10-42-8 88-10 42zM875 2559l11 40-8 88-11-40z"/><path class=G d="M865 2478l10 81-8 88-10-81z"/><path class=H d="M833 2558l11-80-9 88-10 80z"/><path class=C d="M822 2598l11-40-8 88-11 40zM812 2555l10 43-8 88-10-43z"/><path class=J d="M801 2472l11 83-8 88-11-84z"/><path class=L d="M770 2543l10-77-8 88-10 77z"/><path class=G d="M759 2580l11-37-8 88-11 37zM749 2535l10 45-8 88-11-45z"/><path class=N d="M738 2448l11 87-9 88-10-87z"/><path class=Q d="M706 2512l11-75-8 88-11 75z"/><path class=L d="M696 2546l10-34-8 88-10 34z"/><path class=M d="M685 2498l11 48-8 88-11-48z"/><path class=T d="M675 2409l10 89-8 88-10-89z"/><path class=W d="M643 2465l11-73-9 88-10 73z"/><path class=S d="M632 2496l11-31-8 88-11 31z"/><path class=Z d="M1263 2195l11 23-8 48-11-24z"/><path class=za d="M1221 2259l10-97-8 48-10 96z"/><path class=S d="M1200 2288l10 26-8 48-10-26z"/><path class=U d="M1158 2341l10-94-8 48-10 94z"/><path class=N d="M1137 2365l10 29-8 48-11-29z"/><path class=Q d="M1094 2408l11-92-8 48-11 91z"/><path class=J d="M1084 2458l10-50-8 47-10 51zM1073 2426l11 32-8 48-11-32z"/><path class=N d="M1031 2458l11-89-9 48-10 89z"/><path class=H d="M1010 2471l10 34-8 48-10-34z"/><path class=M d="M968 2492l10-86-8 48-10 85z"/><path class=G d="M957 2536l11-44-8 47-11 45zM947 2499l10 37-8 48-11-37z"/><path class=M d="M904 2509l11-83-8 48-11 83z"/><path class=H d="M894 2551l10-42-8 48-10 42zM883 2512l11 39-8 48-11-40z"/><path class=O d="M841 2511l11-81-8 48-11 80z"/><path class=J d="M830 2550l11-39-8 47-11 40zM820 2507l10 43-8 48-10-43z"/><path class=S d="M778 2496l10-78-8 48-10 77z"/><path class=N d="M767 2532l11-36-8 47-11 37zM757 2487l10 45-8 48-10-45z"/><path class=X d="M714 2464l11-75-8 48-11 75z"/><path class=S d="M704 2498l10-34-8 48-10 34z"/><path class=T d="M693 2450l11 48-8 48-11-48z"/><path class=za d="M683 2361l10 89-8 48-10-89z"/><path class=zd d="M651 2417l11-72-8 47-11 73z"/><path class=Z d="M641 2448l10-31-8 48-11 31z"/><path class=za d="M1271 2228l11 23-8-33-11-23z"/><path class=zj d="M1250 2139l11 24-8-33-11-25z"/><path class=zi d="M1240 2195l10-56-8-34-11 57z"/><path class=zb d="M1229 2292l11-97-9-33-10 97z"/><path class=U d="M1218 2348l11-56-8-33-11 55z"/><path class=T d="M1208 2321l10 27-8-34-10-26z"/><path class=zd d="M1187 2227l10 27-8-33-10-27z"/><path class=zc d="M1176 2281l11-54-8-33-11 53z"/><path class=V d="M1166 2375l10-94-8-34-10 94z"/><path class=P d="M1155 2427l11-52-8-34-11 53z"/><path class=O d="M1145 2399l10 28-8-33-10-29z"/><path class=Y d="M1124 2299l10 29-8-33-11-30z"/><path class=X d="M1113 2350l11-51-9-34-10 51z"/><path class=R d="M1102 2441l11-91-8-34-11 92z"/><path class=K d="M1092 2491l10-50-8-33-10 50zM1081 2460l11 31-8-33-11-32z"/><path class=V d="M1060 2354l11 33-8-34-11-32z"/><path class=U d="M1050 2403l10-49-8-33-10 48z"/><path class=O d="M1039 2491l11-88-8-34-11 89z"/><path class=I d="M1029 2539l10-48-8-33-11 47zM1018 2504l11 35-9-34-10-34z"/><path class=T d="M997 2393l10 36-8-34-10-35zM986 2439l11-46-8-33-11 46z"/><path class=N d="M976 2525l10-86-8-33-10 86z"/><path class=H d="M965 2570l11-45-8-33-11 44zM955 2533l10 37-8-34-10-37z"/><path class=T d="M934 2417l10 37-8-33-11-38zM923 2459l11-42-9-34-10 43z"/><path class=N d="M912 2543l11-84-8-33-11 83z"/><path class=I d="M902 2585l10-42-8-34-10 42zM891 2545l11 40-8-34-11-39z"/><path class=U d="M870 2423l11 41-8-33-11-41z"/><path class=V d="M860 2463l10-40-8-33-10 40z"/><path class=P d="M849 2544l11-81-8-33-11 81z"/><path class=K d="M839 2583l10-39-8-33-11 39z"/><path class=Y d="M796 2451l11-37-8-34-11 38z"/><path class=T d="M786 2529l10-78-8-33-10 78z"/><path class=O d="M775 2566l11-37-8-33-11 36z"/><path class=zd d="M733 2423l11-35-8-33-11 34z"/><path class=Y d="M723 2498l10-75-8-34-11 75z"/><path class=T d="M712 2532l11-34-9-34-10 34z"/><path class=zj d="M670 2378l10-32-8-33-10 32z"/><path class=zf d="M659 2450l11-72-8-33-11 72z"/><path class=za d="M649 2481l10-31-8-33-10 31z"/><path class=V d="M1279 2301l11 24-8-74-11-23z"/><path class=za d="M1269 2237l10 64-8-73-10-65z"/><path class=zf d="M1258 2212l11 25-8-74-11-24z"/><path class=zd d="M1248 2269l10-57-8-73-10 56z"/><path class=W d="M1237 2365l11-96-8-74-11 97z"/><path class=P d="M1227 2421l10-56-8-73-11 56z"/><path class=O d="M1216 2395l11 26-9-73-10-27z"/><path class=T d="M1205 2327l11 68-8-74-11-67z"/><path class=Y d="M1195 2300l10 27-8-73-10-27z"/><path class=X d="M1184 2354l11-54-8-73-11 54z"/><path class=R d="M1174 2448l10-94-8-73-10 94z"/><path class=K d="M1163 2501l11-53-8-73-11 52z"/><path class=J d="M1153 2472l10 29-8-74-10-28z"/><path class=O d="M1142 2402l11 70-8-73-11-71z"/><path class=T d="M1132 2372l10 30-8-74-10-29zM1121 2423l11-51-8-73-11 51z"/><path class=M d="M1111 2514l10-91-8-73-11 91z"/><path class=G d="M1100 2565l11-51-9-73-10 50z"/><path class=F d="M1089 2533l11 32-8-74-11-31z"/><path class=L d="M1079 2460l10 73-8-73-10-73z"/><path class=Q d="M1068 2428l11 32-8-73-11-33zM1058 2476l10-48-8-74-10 49z"/><path class=K d="M1047 2565l11-89-8-73-11 88z"/><path class=D d="M1037 2612l10-47-8-74-10 48zM1026 2578l11 34-8-73-11-35z"/><path class=J d="M1016 2502l10 76-8-74-11-75z"/><path class=O d="M1005 2467l11 35-9-73-10-36zM994 2513l11-46-8-74-11 46z"/><path class=I d="M984 2598l10-85-8-74-10 86z"/><path class=C d="M973 2643l11-45-8-73-11 45zM963 2606l10 37-8-73-10-37z"/><path class=I d="M952 2528l11 78-8-73-11-79z"/><path class=O d="M942 2490l10 38-8-74-10-37zM931 2533l11-43-8-73-11 42z"/><path class=J d="M921 2616l10-83-8-74-11 84z"/><path class=D d="M910 2658l11-42-9-73-10 42zM899 2618l11 40-8-73-11-40z"/><path class=K d="M889 2537l10 81-8-73-10-81z"/><path class=Q d="M878 2497l11 40-8-73-11-41zM868 2537l10-40-8-74-10 40z"/><path class=L d="M857 2617l11-80-8-74-11 81z"/><path class=F d="M847 2657l10-40-8-73-10 39z"/><path class=G d="M836 2614l11 43-8-74-11-42z"/><path class=M d="M826 2531l10 83-8-73-11-84z"/><path class=T d="M815 2487l11 44-9-74-10-43zM804 2525l11-38-8-73-11 37z"/><path class=O d="M794 2602l10-77-8-74-10 78z"/><path class=J d="M783 2639l11-37-8-73-11 37z"/><path class=K d="M773 2594l10 45-8-73-10-46z"/><path class=R d="M762 2508l11 86-8-74-11-86z"/><path class=X d="M752 2461l10 47-8-74-10-46z"/><path class=Y d="M741 2496l11-35-8-73-11 35z"/><path class=T d="M731 2571l10-75-8-73-10 75z"/><path class=O d="M720 2605l11-34-8-73-11 34z"/><path class=P d="M710 2557l10 48-8-73-11-48z"/><path class=W d="M699 2468l11 89-9-73-10-89z"/><path class=zd d="M688 2419l11 49-8-73-11-49z"/><path class=zf d="M678 2451l10-32-8-73-10 32z"/><path class=za d="M667 2524l11-73-8-73-11 72z"/><path class=V d="M657 2555l10-31-8-74-10 31z"/><path class=R d="M1287 2334l11 23-8-32-11-24z"/><path class=V d="M1277 2269l10 65-8-33-10-64z"/><path class=za d="M1266 2245l11 24-8-32-11-25z"/><path class=Z d="M1256 2301l10-56-8-33-10 57z"/><path class=S d="M1245 2398l11-97-8-32-11 96z"/><path class=L d="M1235 2453l10-55-8-33-10 56z"/><path class=K d="M1224 2427l11 26-8-32-11-26z"/><path class=P d="M1214 2360l10 67-8-32-11-68z"/><path class=U d="M1203 2333l11 27-9-33-10-27z"/><path class=T d="M1192 2386l11-53-8-33-11 54z"/><path class=M d="M1182 2480l10-94-8-32-10 94z"/><path class=F d="M1171 2533l11-53-8-32-11 53zM1161 2504l10 29-8-32-10-29z"/><path class=K d="M1150 2434l11 70-8-32-11-70z"/><path class=P d="M1140 2404l10 30-8-32-10-30z"/><path class=O d="M1129 2456l11-52-8-32-11 51z"/><path class=I d="M1119 2547l10-91-8-33-10 91z"/><path class=B d="M1108 2597l11-50-8-33-11 51zM1097 2565l11 32-8-32-11-32z"/><path class=G d="M1087 2493l10 72-8-32-10-73z"/><path class=M d="M1076 2460l11 33-8-33-11-32z"/><path class=L d="M1066 2508l10-48-8-32-10 48z"/><path class=F d="M1055 2597l11-89-8-32-11 89z"/><path class=y d="M1045 2644l10-47-8-32-10 47zM1034 2610l11 34-8-32-11-34z"/><path class=E d="M1024 2535l10 75-8-32-10-76z"/><path class=K d="M1013 2499l11 36-8-33-11-35zM1003 2545l10-46-8-32-11 46z"/><path class=E d="M992 2631l11-86-9-32-10 85z"/><path class=x d="M981 2676l11-45-8-33-11 45zM971 2638l10 38-8-33-10-37z"/><path class=E d="M960 2560l11 78-8-32-11-78z"/><path class=K d="M950 2522l10 38-8-32-10-38zM939 2565l11-43-8-32-11 43z"/><path class=E d="M929 2648l10-83-8-32-10 83z"/><path class=x d="M918 2690l11-42-8-32-11 42z"/><path class=y d="M908 2651l10 39-8-32-11-40z"/><path class=F d="M897 2570l11 81-9-33-10-81z"/><path class=L d="M886 2529l11 41-8-33-11-40z"/><path class=M d="M876 2569l10-40-8-32-10 40z"/><path class=G d="M865 2650l11-81-8-32-11 80z"/><path class=B d="M855 2689l10-39-8-33-10 40zM844 2647l11 42-8-32-11-43z"/><path class=I d="M834 2563l10 84-8-33-10-83z"/><path class=O d="M823 2520l11 43-8-32-11-44z"/><path class=P d="M813 2557l10-37-8-33-11 38z"/><path class=K d="M802 2635l11-78-9-32-10 77z"/><path class=F d="M791 2671l11-36-8-33-11 37zM781 2626l10 45-8-32-10-45z"/><path class=M d="M770 2540l11 86-8-32-11-86z"/><path class=T d="M760 2494l10 46-8-32-10-47z"/><path class=U d="M749 2529l11-35-8-33-11 35z"/><path class=P d="M739 2604l10-75-8-33-10 75z"/><path class=K d="M728 2637l11-33-8-33-11 34z"/><path class=L d="M718 2590l10 47-8-32-10-48z"/><path class=S d="M707 2500l11 90-8-33-11-89z"/><path class=Z d="M696 2452l11 48-8-32-11-49z"/><path class=za d="M686 2484l10-32-8-33-10 32z"/><path class=V d="M675 2556l11-72-8-33-11 73z"/><path class=R d="M665 2587l10-31-8-32-10 31z"/></g><path class="ax" d="M66.5 299.4L129.8 276.4M66.5 299.4L17.9 269.4M17.9 269.4L17.9 203.9M66.5 299.4L67.5 300.1M98.1 287.9L99.2 288.5M129.8 276.4L130.9 277.0M66.5 299.4L65.3 299.8M42.2 284.4L41.0 284.8M17.9 269.4L16.7 269.8M17.9 269.4L16.7 269.4M17.9 253.1L16.7 253.1M17.9 236.9L16.7 236.9M17.9 220.6L16.7 220.6M17.9 204.3L16.7 204.3"/><g class="lb" font-size="6.64"><text x="70.2" y="308.7">-5</text><text x="101.9" y="297.2">0</text><text x="133.5" y="285.7">5</text><text text-anchor="end" x="62.5" y="308.6">-5</text><text text-anchor="end" x="38.2" y="293.6">0</text><text text-anchor="end" x="13.9" y="278.6">5</text><text text-anchor="end" x="14.7" y="271.3">0</text><text text-anchor="end" x="14.7" y="255.1">20</text><text text-anchor="end" x="14.7" y="238.8">40</text><text text-anchor="end" x="14.7" y="222.5">60</text><text text-anchor="end" x="14.7" y="206.2">80</text><text text-anchor="middle" x="34.5" y="308.9">x<tspan font-size="5.3" dy="2.3">2</tspan></text><text text-anchor="middle" x="102.2" y="312.2">x<tspan font-size="5.3" dy="2.3">1</tspan></text></g><text class="tt" text-anchor="middle" font-size="7.30" x="73.8" y="178.5">Parameter space</text>
<!-- plot 6 --><path class="gr" d="M201.0 299.4L154.2 269.5M154.2 269.5L154.2 204.2M231.5 287.9L184.7 258.0M184.7 258.0L184.7 192.7M262.0 276.4L215.2 246.5M215.2 246.5L215.2 181.2M201.0 299.4L262.0 276.4M262.0 276.4L262.0 211.1M177.6 284.4L238.6 261.5M238.6 261.5L238.6 196.2M154.2 269.5L215.2 246.5M215.2 246.5L215.2 181.2M154.2 254.6L215.2 231.6M215.2 231.6L262.0 261.6M154.2 239.7L215.2 216.8M215.2 216.8L262.0 246.7M154.2 224.8L215.2 201.9M215.2 201.9L262.0 231.8M154.2 209.9L215.2 187.0M215.2 187.0L262.0 216.9"/><g fill="none" transform="scale(.1)" stroke-width="5.0"><path stroke="#4740e3" d="M2085 2732l-9-1 1-4 9 1-1 4"/><path stroke="#4660fc" d="M2078 2743l-3-2 5 1-2 1M2095 2739l-14-3-19 1 0-4 7-5-5-4 3-4 14 4 19-1 0 3-7 4 5 5-3 4M2109 2732l-4 0 1-2 3 2M2056 2729l-3-2 4 0-1 2M2087 2718l-5-1 5 1"/><path stroke="#2e83f9" d="M2090 2751l-5-3 7 1-2 2M2107 2746l-7 0-6-4-11 4-13-1-9-5-13 2-1-3 8-3-8-6 2-6 10-4-6-4 2-3 7 0 6 4 11-4 13 1 9 5 13-2 1 3-8 3 8 6-2 6-10 4 6 4-2 3M2121 2740l-5 0-1-4 6 4M2064 2750l-4-3 8-1-4 4M2125 2727l-7 1 3-4 4 3M2041 2735l-4-2 7-1-3 3M2102 2712l-8 1 4-3 4 2M2047 2723l-6-3 5-1 1 4M2077 2712l-7-2 5-2 2 4"/><path stroke="#23a0e5" d="M2103 2759l-5 0-3-5 10 2-2 3M2119 2754l-8 0-4-4-12 4-12 0-6 4-8 0-3-5-11-2-10-5-6 3-7-1 0-3 8-3-9-6 0-5-8-3 1-4 9-2 4-5 11-5-7-3 2-3 8-1 4 5 12-5 12 0 6-4 8 0 3 5 11 2 10 6 6-4 7 1 0 4-8 2 9 6 0 6 8 2-1 4-9 2-4 5-11 5 7 3-2 4M2133 2747l-6 1-1-5 8 2-1 2M2049 2756l-4-1-1-3 10 0-5 4M2141 2721l-10 2 4-5 6 1 0 2M2027 2741l-6-1 0-2 10-1-4 4M2118 2707l-10 1 5-5 4 1 1 3M2036 2716l-8-2 7-3 1 5M2067 2705l-10-2 7-3 3 5"/><path stroke="#03b7cc" d="M2099 2772l-5-3 7 1-2 2M2115 2767l-7 0-3-5-9 1-6 4-11-1-5-4-10 3-12-1-3-4-8-2-6 4-7-1-1-4 9-2-4-3-7 3-9-1 0-4 7-4-18 0 0-3 9-2 0-4-8-3 1-6 8-2-7-5 3-5 9-2 3-4-9-3 2-3 17 3 2-2-7-3 3-4 18 3 2-2-7-3 3-4 7 0 3 5 9 0 6-4M2088 2697l10-3 12 1 3 5 8 1 6-4 7 1 1 4-9 2 4 3 7-3 9 1 0 5-7 4 18-1 0 3-9 2 0 4 8 3-1 6-8 2 7 5-3 6-9 1-3 4 9 3-2 4-9 0-4-4-6 2 7 3-3 5-18-4-2 2 7 3-3 4M2160 2749l-5 0 0-3 5 3M2073 2771l-6-1-1-4 11 1-4 4M2164 2736l-8 1 1-5 8 2-1 2M2045 2769l-4-3 7 0-3 3M2167 2723l-6 0 2-3 4 3M1999 2739l-4-3 6 0-2 3M2121 2693l-7 0 3-2 4 2M2005 2727l-8-1 1-3 8-1-1 5M2096 2693l-11-1 4-4 6 1 1 4M2007 2713l-5-3 5 0 0 3M2068 2690l-7-1 6-2 1 3"/><path stroke="#2ec5a4" d="M2137 2781l-3-2 3 2M2153 2775l-4 0-1-2 6 1-1 1M2168 2770l-4-3 4 3M2096 2786l-5-1-1-3 8 1-2 3M2112 2781l-8-1-3-4-9 0-5 4-12-1-4-4-5-1-6 4-11-1-3-4-9-2-5 5-8-1-1-5 8-4-9 3-11-1-1-6-11-1-1-6-10-2 0-6 8-3-9 3-10-2 0-4 10-2 0-4-8-3 1-5 10-5-8-3 2-5 9-2 3-4-9-2 2-4 10-1 7 4-6-4 3-6 11 0 4-6 12 0 3-5 12 0 7 4 2-2-8-3 4-4 8 0 3 5 9 0M2087 2680l4 4 11-3 11 1 3 5 9 1 5-5 8 1 1 5-8 4 9-3 11 1 1 6 11 2 1 5 10 2 0 6-8 3 9-2 10 1 0 4-10 2 0 4 8 3-1 5-10 5 8 3-2 5-9 2-3 4 9 3-2 4-10 0-7-4 6 5-3 5-11 0-4 6-12 0-3 5-12 0-7-3-2 1 8 3-4 5M2187 2751l-6 0 0-4 7 2-1 2M2069 2784l-6 0-1-4 11 0-4 4M2191 2738l-8 1 1-5 8 1-1 3M2042 2782l-5 0 0-3 8 0-3 3M2195 2725l-8 0 2-4 6 1 0 3M2003 2772l-3-2 4 0-1 2M2186 2704l-5 0 2-2 3 2M1991 2765l-3-2 5 0-2 2M2174 2696l-5 1 2-3 3 2M1979 2758l-3-2 5-1-2 3M2162 2689l-4 0 1-2 3 2M1973 2738l-6-1 0-3 8 0-2 4M2125 2680l-8 0 3-3 5 0 0 3M1978 2726l-8-2 1-3 8-1-1 6M2100 2680l-11-1 4-4 6 0 1 5M1981 2712l-7-1 1-3 6 0 0 4M2072 2677l-8 0 7-3 1 3M1998 2692l-4-1 4-1 0 2M2014 2687l-6-1 5-2 1 3M2028 2681l-4-1 4-2 0 3"/><path stroke="#66cd6d" d="M2145 2801l-2-1 2 1M2160 2796l-2-2 2 2M2176 2790l-4-2 4 2M2191 2784l-3-1 3 1M2206 2778l-2-1 2 1M2103 2806l-3-2 3 2M2119 2801l-5-1-1-3 8 1-2 3M2135 2795l-7 0-1-5 11 1-3 4M2151 2790l-9 0-2-5-9 0-5 5-12 0-4 5-11-1-4-4-5 0-6 4-13-1-4 5-9 0-1-6-13-1-3-5-5 0-6 4-11-1-2-6-11-1-3-5-8-2-5 5-9-1 0-5 11-1-2-3-6-2-5 5-10-1 0-5 11-2-1-3-7-1-5 4-9-1 0-5 11 0-1-5-9-2 0-6-11-2 1-6 10-1 0-3-8-3 1-6-11-2 1-5 12 0 2-6 9-2 2-3-9-3 2-5 11-1 4-5 10-2 3-4-10-2 2-4 10 0 2 5 7-1 3-3-9-2 2-5 10 0 3 5 10-4-10-2 3-5 9 0 2 6 9-1 5-4 12 0 4-5 11 0 4 5M2091 2666l4-5 9 1 1 5 13 1 3 5 5 0 6-4 11 1 2 6 11 1 3 5 8 2 5-5 9 1 0 5-11 1 2 3 6 2 5-5 10 2 0 5-11 1 1 3 7 2 5-5 9 1 0 5-11 1 1 4 9 2 0 6 11 2-1 6-10 2 0 2 8 3-1 7 11 1-1 5-12 0-2 7-9 1-2 3 9 3-2 5-11 1-4 6-10 1-3 4 10 2-2 5-10 0-2-6-10 4 9 3-2 4-10 0-3-5-6 1-4 3 10 2-3 5M2196 2772l-8 1 0-6 10 2-2 3M2211 2766l-6 0 0-4 7 2-1 2M2225 2760l-3-2 3 2M2077 2804l-4 0-1-3 6 1-1 2M2094 2800l-8-1-1-5 12 1-3 5M2216 2754l-10 0 1-6 10 2-1 4M2229 2747l-5 0 1-3 5 1-1 2M2050 2803l-5-3 7 0-2 3M2233 2734l-6 0 1-3 5 3M2058 2792l13 1-4-5-9 4M2201 2738l7 3 2-6-9 3M2022 2800l-2-1 2 1M2040 2796l-8 0-1-5 12 0-3 5M2223 2727l-11 1 2-6 10 1-1 4M2236 2720l-4 0 4 0M2012 2794l-6-1 0-3 8 0-2 4M2225 2713l-7 1 2-4 6 1-1 2M2001 2787l-7-1-1-4 12 0-4 5M2215 2707l-11 0 3-5 8 1 0 4M2227 2699l-2 0 2 0M1972 2784l-3-2 4 0-1 2M2216 2692l-4 0 4 0M1961 2776l-4-1 5-1-1 2M2205 2685l-5 0 5 0M1949 2769l-3-2 4 0-1 2M2193 2677l-4 0 4 0M1955 2758l-8-2 0-3 11-1-3 6M2169 2677l-12 0 4-5 7 1 1 4M2180 2669l-2 0 2 0M1942 2749l-6-1 1-2 7 0-2 3M2156 2669l-8 0 2-4 6 1 0 3M1929 2741l-3-2 3 2M1948 2737l-10-1 1-4 11-1-2 6M2131 2668l-12 0 3-5 8 1 1 4M2142 2660l-3 0 3 0M1952 2725l9-4-7-3-2 7M2095 2671l9-4-13-1 4 5M1934 2728l-5-3 6 0-1 3M2117 2659l-7 0 2-2 5 2M1937 2715l-5-1 1-2 5 0-1 3M1955 2711l-10-2 1-3 10-1-1 6M2065 2664l3-4M1940 2701l-3-1 3 1M1957 2697l-7-1 1-3 6 0 0 4M1974 2692l-10-2 2-3 8 0 0 5M2035 2669l-11-1 3-4 7 0 1 5M2049 2662l-8 0 2-3 5 0 1 3M2062 2655l-4 0 4 0M1958 2682l-2 0 2 0M1974 2677l-4-1 4 1M1990 2671l-5 0 4-2 1 2M2004 2665l-3 0 3 0M2019 2659l-2 0 2 0"/><path stroke="#b8c431" d="M2138 2828l-2-2 2 2M2154 2823l-4 0 0-3 5 1-1 2M2170 2817l-6 0 0-3 7 1-1 2M2185 2812l-6-1 0-3 7 1-1 3M2200 2806l-6 0 0-4 8 1-2 3M2216 2800l-6 0 0-4 7 1-1 3M2231 2794l-6 0 0-3 7 1-1 2M2245 2788l-4 0 0-2 5 0-1 2M2260 2782l-2-1 2 1M2096 2832l-3-1 3 1M2112 2827l-5 0 0-3 6 0-1 3M2128 2822l-7-1 0-4 9 1-2 4M2144 2816l-9 0 0-5 11 1-2 4M2160 2811l-10 0-1-6-10 0-5 5-12 0-4 5-11 0-2-5-8-1-5 5-13-1-3-4-5-1-5 5 13 1-3 5-10-1 0-5-14-1-3 5-10 0 0-6 13 1-3-5-5 0-6 4-12-1-3-5-8-1-4 5-11-1-1-6-12-1-2-6-9-1-4 5-10-1 0-5 12 0-2-5-7-1-4 5-11-1 0-6 11-1-1-3-6-1-5 5-11-2 0-5 11-1-1-3-6-2-5 5-11-1 1-6 11 0-1-4-8-2-4 6-10-2 1-5 11 0 0-5-10-2 0-6-11-2 1-6 11-1 0-4-9-2 1-6 10-2 0-2-8-3-2 7-11-2 1-5 12 0 1-7-11-1 1-5 12 0-1 6 9-1 1-3-9-2 2-7 11-1 2-4-10-2 2-5 11-1 3-6 11 0 3-5-11-2 2-5 11 0 0 6 9-1 3-3-10-2 2-6 11 0 2 6 9-4-9-2 2-6 12 1 2 5 6-1 3-3-10-2 3-5 11 0 1 5 8 0 4-4-11-2 2-5 10 1 1 5 10 0 5-5 12 0 4-5 11 0 2 6 8 0M2096 2647l14 0 3-5 10 1 0 5-13-1 3 5 5 1 6-5 12 1 3 5 8 1 4-4 11 0 1 6 12 2 2 5 9 1 4-5 10 1 0 5-12 1 2 4 7 1 4-5 11 1 0 6-11 1 1 3 6 1 5-5 11 2 0 5-11 2 1 3 6 1 5-5 11 1-1 6-11 1 1 3 8 2 4-5 10 1-1 5-11 0 0 5 10 2 0 7 11 1-1 6-11 1 0 4 9 2-1 6-10 2 0 2 8 3 2-6 11 1-1 5-12 0-1 7 11 1-1 5-12 0 1-6-9 1-1 3 9 2-2 7-11 1-2 4 10 2-2 5-11 1-3 6-11 1-3 4 11 2-2 5-11 0 0-6-9 1-3 3 10 3-2 5-11 0-2-5-7 0-2 3 9 2-2 6-12 0-2-6-6 1-3 3 10 2-3 5-11 0-1-5-8 0-4 4 11 2-2 5M2236 2782l-10 0 1-6 10 2-1 4M2250 2776l-7 0 0-5 8 1-1 4M2264 2769l-5 0 1-3 5 1-1 2M2279 2763l-3-1 3 1M2069 2830l-3-2 3 2M2086 2826l-6-1 0-3 7 0-1 4M2102 2820l-9 0 0-5 12 1-3 4M2255 2763l-10 0 1-6 10 2-1 4M2269 2757l-7 0 1-4 7 1-1 3M2283 2750l-3-2 3 2M2113 2807l6 1-2-3-4 2M2221 2766l5 2-1-3-4 1M2042 2829l-3-2 3 2M2059 2824l-6 0-1-4 9 0-2 4M2272 2744l-7 0 1-5 7 1-1 4M2286 2737l-3-2 3 2M2015 2827l-2-2 2 2M2032 2822l-6 0 0-4 8 1-2 3M2276 2730l-7 0 1-4 7 1-1 3M2289 2723l-2 0 2 0M2004 2820l-4 0 0-3 6 0-2 3M2021 2815l-8 0 0-5 11 0-3 5M2265 2724l-10 0 2-6 9 1-1 5M2279 2717l-6 0 1-3 5 0 0 3M1976 2818l-2-2 2 2M1994 2813l-7 0 0-4 9 0-2 4M2268 2710l-8 0 1-4 8 1-1 3M2281 2703l-3 0 3 0M2003 2801l7-1-3-2-4 3M2235 2713l6-2-6 2M1965 2811l-3-3 5 0-2 3M1983 2806l-9-1 0-4 12 0-3 5M2257 2703l-11 0 3-5 9 1-1 4M2270 2696l-5 0 2-3 3 3M1954 2803l-5 0 0-3 7 0-2 3M2259 2689l-6 0 1-3 6 0-1 3M1943 2796l-6 0 0-3 8 0-2 3M2248 2681l-7 0 1-3 6 1 0 2M1931 2789l-6-1 1-3 7 0-2 4M2236 2674l-7 0 2-4 6 1-1 3M1920 2781l-6 0 0-3 7 0-1 3M2225 2667l-8-1 2-3 6 1 0 3M1908 2774l-6-1 1-2 6 0-1 3M2213 2659l-7 0 2-3 5 0 0 3M1895 2766l-3-3 5 0-2 3M1913 2762l-9-1 1-5 11 0-3 6M2188 2658l-12 0 3-5 9 1 0 4M2200 2651l-5 0 2-2 3 2M1921 2748l6-2-6 2M2153 2661l6-2-6 2M1883 2758l-2-2 2 2M1901 2754l-8-1 1-4 8 0-1 5M2175 2650l-9 0 2-4 7 1 0 3M2188 2643l-3 0 3 0M1888 2745l-5 0 0-2 6 0-1 2M1905 2741l-9-1 1-4 10 0-2 5M2149 2649l-11 0 3-5 8 0 0 5M2162 2642l-6 0 2-3 4 1 0 2M1875 2737l-2-1 2 1M1892 2733l-7-1 1-3 7 0-1 4M2136 2641l-8 0 2-4 6 1 0 3M2149 2634l-3 0 3 0M1879 2724l-3-2 3 2M1896 2720l-7-1 1-3 7 0-1 4M2110 2639l-9 0 2-4 6 1 1 3M2123 2632l-4 0 4 0M1937 2695l4-2-5-2 1 4M2045 2654l4-2-6-1 2 3M1882 2711l-3-2 3 2M1899 2706l-7-1 1-2 7 0-1 3M1916 2702l-10-2 1-4 10 0-1 6M2057 2643l3-4M1886 2698l-3-2 3 2M1902 2693l-5-1 1-2 5 0-1 3M1919 2688l-8-1 1-4 7 0 0 5M1935 2683l-10-2 1-4 10 0-1 6M2027 2648l-11-1 2-4 9 0 0 5M2041 2642l-9-1 2-3 7 0 0 4M2055 2635l-6 0 6-2 0 2M1904 2679l-2-2 2 2M1921 2674l-5-1 5-2 0 3M1937 2668l-7-1 7-2 0 3M1952 2663l-7-1 1-3 6 0 0 4M1968 2657l-8-1 2-3 6 0 0 4M1983 2651l-7-1 1-2 6 0 0 3M1998 2645l-7 0 7-3 0 3M2012 2639l-5 0 5-2 0 2M2026 2633l-3-1 3 1"/><path stroke="#f5ba3b" d="M2212 2860l-2-2 2 2M2227 2854l-2-2 2 2M2242 2848l-2-1 2 1M2258 2843l-3-2 3 2M2273 2837l-3-2 3 2M2288 2831l-2-2 2 2M2303 2825l-2-1 2 1M2154 2869l-2-1 2 1M2170 2864l-3-2 3 2M2186 2858l-5 0 1-2 4 0 0 2M2201 2853l-5 0 1-3 5 0-1 3M2216 2847l-5 0 1-3 5 1-1 2M2232 2842l-6-1 1-3 6 1-1 3M2247 2836l-6 0 1-4 6 1-1 3M2262 2830l-5 0 0-3 6 0-1 3M2277 2824l-5 0 1-3 5 1-1 2M2293 2818l-5 0 0-2 5 0 0 2M2308 2812l-5 0 1-2 4 0 0 2M2322 2807l-3-2 3 2M2337 2801l-2-2 2 2M2112 2873l-2-1 2 1M2128 2868l-3-2 3 2M2144 2863l-5-1 0-2 6 0-1 3M2159 2857l-5 0 0-3 7 0-2 3M2175 2852l-7-1 1-3 7 0-1 4M2191 2846l-8 0 0-5 9 1-1 4M2206 2840l-8 0 0-4 10 0-2 4M2221 2835l-8 0 0-5 10 1-2 4M2237 2829l-9 0 0-5 10 1-1 4M2252 2823l-9 0 1-5 9 1-1 4M2267 2818l-8-1 0-4 9 1-1 4M2282 2812l-8-1 1-4 8 1-1 4M2297 2806l-7-1 1-3 7 0-1 4M2312 2800l-6 0 0-4 7 1-1 3M2327 2794l-5 0 0-3 5 0 0 3M2341 2788l-3-2 3 2M2356 2782l-2-2 2 2M2085 2872l-2-2 2 2M2101 2866l-4 0 0-2 5 0-1 2M2117 2861l-6 0 1-3 6 0-1 3M2133 2856l-7-1 0-4 9 1-2 4M2149 2850l-9 0 1-5 10 1-2 4M2164 2845l-9-1 0-5 12 1-3 5M2180 2839l-11 0 1-6-12 0-4 5-13 0-3 6-11-1-1-6-10 0-4 5-13 0-2-6-7 0-4 5 13 1-3 6-11-1 0-6-12-1-4 6-11-1-1-5-11-1-4 5-11 0 0-6-13-1-3 5-11 0 1-6 12 0-1-5-7 0-4 5-14-1 0-6-10-1-4 5-12 0 1-7-13-1 0-5-12-2-3 6-11-1 1-5 13 0-1-5-10-2-3 6-12-1 1-6 12 0-1-5-8-1-4 5-12-1 1-6 12 0-1-4-7-1-4 5-12-1 0-6 12-1-1-3-7-2-4 6-12-2 1-6 11 0 0-4-9-2-3 6-12-1 1-6 12 0 0-5-10-2-3 6-11-1 1-5 12 0 1-6-12-2 2-6-13-1 2-6 11 0 1-5-11-2 2-7 10 0 1-4-9-2-3 6-12-1 2-5 12 0 1-7-11-1 1-6 12 0 1-6-11-1 2-6 12 0 2-6-12-2 1-5 13 0-1 6 10 0 1-4-10-2 2-6 11-1 2-5-11-1 2-6 13 0 2-6 12 0 3-6-12-2 1-5 12 1-1 6 11-1 3-4-12-2 2-6 12 1 0 5 10 0 2-4-11-2 2-6 13 1 1 5 8 0 2-3-11-2 3-6 12 0 1 6 8-1 2-3-11-2 3-6 12 0 1 6 8 0 3-4-11-2 2-6 12 1 0 6 10 0 4-6-12-1 2-5 11 0-1 6 12 0 4-5 13 0 3-5 11 0 1 6 10 0 4-5M2105 2620l11 0 4-5 11 1 0 6 13 0 3-5 11 1-1 6-12-1 1 5 7 0 4-4 14 1 0 5 10 1 4-5 12 1-1 6 13 1 0 6 12 1 3-6 11 1-1 6-13-1 1 6 10 1 3-6 12 1-1 6-12 0 1 5 8 1 4-5 12 1-1 6-12 0 1 4 7 1 4-5 12 1 0 6-12 1 1 4 7 1 4-5 12 1-1 6-11 0 0 4 9 2 3-6 12 1-1 6-12 0 0 5 10 2 3-6 11 1-1 5-12 0-1 6 12 2-2 6 13 1-2 6-11 0-1 5 11 2-2 7-10 1-1 3 9 2 3-6 12 1-2 6-12 0-1 6 11 1-1 6-12 0-1 6 11 2-2 5-12 0-2 6 12 2-1 5-13 0 1-6-10 1-1 3 10 2-2 7-11 0-2 5 11 2-2 5-13 0-2 6-12 1-3 5 12 2-1 5-12 0 1-7-11 1-3 5 12 1-2 6-12 0 0-6-10 0-2 4 11 2-2 6-13-1-1-5-8 0-2 4 11 2-3 6-12-1-1-5-8 0-2 3 11 2-3 6-12 0-1-6-8 0-3 5 11 1-2 6-12-1 0-5-10 0-4 5 12 1-2 5M2286 2799l-10 0 1-6 11 1-2 5M2301 2793l-9 0 1-5 10 1-2 4M2316 2787l-8 0 1-5 8 1-1 4M2331 2781l-7 0 1-4 7 1-1 3M2345 2775l-4 0 0-3 5 1-1 2M2360 2769l-3-2 3 2M2059 2870l-3-2 3 2M2075 2865l-5 0 0-3 6 0-1 3M2091 2860l-7-1 0-3 8 0-1 4M2107 2854l-9 0 1-5 10 1-2 4M2122 2849l-10 0 1-6 12 1-3 5M2305 2780l-10 0 1-6 11 1-2 5M2320 2774l-9 0 1-5 9 1-1 4M2335 2768l-8 0 1-4 8 1-1 3M2349 2762l-5-1 0-2 6 0-1 3M2364 2755l-3-2 3 2M2130 2836l11 2-2-5-6-1-3 4M2148 2829l5 1-1-2-4 1M2255 2789l5 1 0-3-5 2M2269 2784l9 2 0-6-8 1-1 3M2032 2868l-3-1 3 1M2048 2863l-5 0 0-3 6 1-1 2M2064 2858l-7 0 0-4 9 0-2 4M2080 2853l-9-1 0-5 11 1-2 5M2324 2761l-10 0 1-6 10 2-1 4M2338 2755l-8 0 2-5 7 1-1 4M2353 2748l-6 0 1-3 5 1 0 2M2367 2742l-3-2 3 2M2106 2833l4 0-4 0M2275 2770l3-2-3 2M2005 2867l-3-2 3 2M2021 2861l-5 0 0-3 6 1-1 2M2037 2856l-7 0 0-4 9 1-2 3M2053 2851l-9 0 0-6 11 1-2 5M2328 2748l-11 0 2-6 10 1-1 5M2342 2742l-8-1 1-4 8 1-1 4M2356 2735l-5 0 1-3 5 1-1 2M2371 2729l-3-2 3 2M2061 2838l10 1-2-4-5 0-3 3M2292 2751l7 2 1-5-7 1-1 2M1977 2865l-2-2 2 2M1994 2860l-5-1 0-2 6 0-1 3M2010 2854l-7 0 0-4 8 1-1 3M2026 2849l-9 0 0-5 11 0-2 5M2331 2735l-10-1 1-5 10 1-1 5M2345 2728l-7 0 1-4 7 1-1 3M2360 2722l-5 0 0-3 5 1 0 2M2374 2715l-2-1 2 1M2033 2837l10 0-1-4-5 0-4 4M2295 2738l8 2 1-5-8 0-1 3M1966 2858l-3-3 4 1-1 2M1983 2852l-6 0 0-3 7 0-1 3M1999 2847l-8 0 0-5 10 1-2 4M2334 2721l-9 0 1-5 9 1-1 4M2348 2715l-6 0 1-4 6 1-1 3M2363 2708l-4 0 4 0M1939 2856l-2-2 2 2M1955 2850l-5 0 1-2 5 0-1 2M1971 2845l-7 0 1-4 8 0-2 4M1988 2840l-10 0 0-6 13 1-3 5M2323 2714l-11 0 2-6 10 1-1 5M2337 2708l-8-1 2-4 7 1-1 4M2352 2701l-6 0 1-3 5 1 0 2M2366 2695l-3 0 3 0M1998 2826l4 0-4 0M2289 2717l4-2-4 2M1927 2848l-3-2 3 2M1944 2843l-6 0 0-3 7 0-1 3M1960 2838l-8 0 0-5 11 1-3 4M2326 2701l-9-1 1-5 9 1-1 5M2340 2694l-6 0 1-3 6 0-1 3M2354 2688l-3-1 3 1M1966 2826l12 0-1-4-6 0-5 4M2291 2704l7 2 3-6-10 1 0 3M1916 2841l-4-2 5 0-1 2M1933 2836l-7 0 0-4 8 0-1 4M1949 2831l-9-1 0-5 12 1-3 5M2315 2693l-11 0 2-5 10 1-1 4M2329 2687l-8 0 2-4 7 1-1 3M2343 2680l-4 0 0-2 4 2M1958 2817l6 0-4-2-2 2M2281 2696l5-2-5 2M1888 2839l-2-2 2 2M1905 2834l-5-1 0-2 6 0-1 3M1921 2829l-7-1 0-4 9 1-2 4M2318 2680l-9-1 2-4 7 1 0 4M2332 2673l-6 0 1-3 5 1 0 2M2346 2667l-3 0 3 0M1877 2831l-3-1 3 1M1893 2826l-5 0 0-3 6 1-1 2M1910 2822l-8-1 0-4 10 0-2 5M2306 2672l-9 0 2-5 8 1-1 4M2320 2666l-6 0 1-3 6 0-1 3M2334 2659l-3 0 3 0M1865 2824l-2-2 2 2M1882 2819l-6 0 1-3 6 0-1 3M1898 2814l-8-1 0-4 10 0-2 5M2295 2665l-10 0 2-5 9 1-1 4M2309 2658l-7 0 2-3 5 1 0 2M2323 2652l-3 0 3 0M1854 2817l-3-2 3 2M1870 2812l-6-1 1-3 6 1-1 3M1887 2807l-9-1 1-4 10 0-2 5M2283 2658l-10-1 2-5 9 1-1 5M2297 2651l-6 0 1-3 6 0-1 3M2311 2644l-3 0 3 0M1842 2809l-3-2 3 2M1858 2804l-5 0 0-3 7 0-2 3M1875 2799l-9-1 1-4 10 0-2 5M2272 2650l-10 0 2-5 8 1 0 4M2285 2643l-6 0 1-3 6 1-1 2M2299 2637l-3 0 3 0M1830 2802l-2-2 2 2M1847 2797l-6-1 1-3 6 1-1 3M1863 2792l-8-1 1-4 9 0-2 5M2260 2642l-10 0 2-4 8 0 0 4M2274 2636l-6 0 1-3 5 0 0 3M2288 2629l-3 0 3 0M1818 2794l-2-1 2 1M1835 2789l-5-1 0-2 6 0-1 3M1851 2784l-7-1 0-3 9 0-2 4M2248 2635l-9 0 2-5 7 1 0 4M2262 2628l-6 0 1-3 5 1 0 2M2276 2622l-3 0 3 0M1876 2765l5-2-5 2M2199 2644l5-2-5 2M1823 2781l-4-2 4 0 0 2M1839 2776l-7 0 1-4 8 1-2 3M1856 2772l-10-1 1-5 11 0-2 6M2222 2634l-12-1 3-5 9 1 0 5M2236 2627l-8 0 1-4 7 1 0 3M2250 2621l-5-1 1-2 4 3M1861 2759l10-1 0-3-7-1-3 5M2185 2637l6 1 5-5-12 0 1 4M1811 2774l-3-2 3 2M1827 2769l-6-1 1-3 6 0-1 4M1844 2764l-9-1 1-4 9 0-1 5M2210 2626l-11 0 3-5 8 1 0 4M2224 2619l-7 0 1-3 6 0 0 3M2238 2613l-4 0 4 0M1869 2744l4-1-4 1M2161 2634l3-1-3 1M1798 2766l-2-2 2 2M1815 2761l-5-1 0-2 6 0-1 3M1831 2756l-7-1 1-3 8 0-2 4M1848 2751l-10-1 1-5 11 0-2 6M2184 2625l-13-1 3-5 10 1 0 5M2197 2618l-8 0 2-4 7 0-1 4M2211 2612l-5-1 1-2 5 0-1 3M2225 2605l-2 0 2 0M1803 2753l-4-2 4 0 0 2M1819 2748l-6-1 1-3 6 1-1 3M1836 2743l-9-1 1-4 9 0-1 5M2171 2617l-10-1 2-4 8 0 0 5M2185 2610l-7 0 1-3 6 0 0 3M2199 2604l-4 0 4 0M1858 2725l8-1 1-3-8-1-1 5M2120 2626l5 0 4-3-10-1 1 4M1790 2745l-2-1 2 1M1807 2740l-5 0 0-3 5 1 0 2M1823 2735l-7-1 1-3 7 0-1 4M1840 2730l-10-1 1-4 10 0-1 5M2145 2615l-11 0 2-5 9 0 0 5M2159 2609l-8-1 1-3 7 0 0 4M2173 2602l-6 0 1-2 5 0 0 2M2187 2596l-3 0 3 0M1862 2711l7 0 1-3-7-2-1 5M1794 2732l-3-2 3 2M1810 2727l-5-1 1-2 5 0-1 3M1827 2722l-8-1 1-3 8 0-1 4M1843 2717l-10-1 1-5 11 1-2 5M2118 2614l-11-1 2-5 9 1 0 5M2132 2607l-9 0 2-4 7 0 0 4M2146 2601l-6-1 1-2 5 0 0 3M2160 2594l-3 0 3 0M1884 2691l3-1-3 1M2053 2627l3-1-3 1M1798 2719l-3-2 3 2M1814 2714l-5-1 0-2 6 0-1 3M1830 2709l-7-1 1-4 8 1-2 4M1847 2704l-10-1 1-5 10 0-1 6M2119 2599l-6 0 1-3 5 0 0 3M2133 2593l-3-1 3 1M1884 2679l8-1 1-3-9-2 0 6M1902 2672l5-2-5-1 0 3M2010 2632l4-2-5-1 1 3M2023 2627l6 0 3-4-11-1 2 5M1801 2706l-3-2 3 2M1818 2701l-6-1 1-2 5 0 0 3M1834 2695l-8 0 1-4 8 1-1 3M1850 2690l-9-1 1-4 9 0-1 5M1866 2685l-11-1 2-5 10 0-1 6M2049 2616l-12-1 3-5 10 1-1 5M1805 2692l-3-1 3 1M1821 2687l-5 0 1-2 4 0 0 2M1837 2682l-7-1 1-3 7 1-1 3M1853 2677l-8-1 1-4 8 1-1 4M1869 2671l-10-1 2-4 9 0-1 5M1885 2666l-11-1 2-5 10 0-1 6M2007 2620l-12-1 3-5 9 1 0 5M2021 2614l-10-1 2-4 9 0-1 5M2036 2608l-9-1 2-4 7 1 0 4M2050 2602l-6-1 1-3 6 0-1 4M1808 2679l-2-1 2 1M1824 2674l-3-2 3 2M1840 2668l-5 0 0-2 5 0 0 2M1856 2663l-7-1 1-2 6 0 0 3M1871 2658l-7-1 1-3 7 0-1 4M1887 2652l-8-1 1-3 8 0-1 4M1903 2647l-9-1 1-4 8 0 0 5M1918 2641l-9-1 1-4 9 0-1 5M1934 2635l-10-1 1-4 9 0 0 5M1949 2630l-10-1 2-5 8 1 0 5M1964 2624l-10-1 2-4 8 0 0 5M1979 2618l-9-1 1-4 8 0 0 5M1993 2612l-7-1 1-3 7 0-1 4M2008 2606l-7-1 2-3 5 0 0 4M2023 2599l-6 0 6-2 0 2M2037 2593l-4 0 4 0M1827 2660l-2-1 2 1M1843 2655l-3-2 3 2M1858 2649l-4 0 0-2 5 0-1 2M1874 2644l-5-1 0-2 5 0 0 3M1889 2638l-5 0 1-3 5 0-1 3M1905 2632l-6 0 1-3 5 0 0 3M1920 2627l-6-1 1-3 6 1-1 3M1935 2621l-6-1 1-2 6 0-1 3M1950 2615l-5 0 1-3 5 0-1 3M1965 2609l-5 0 6-2-1 2M1980 2603l-4 0 5-2-1 2M1995 2597l-4 0 4 0M2010 2591l-3 0 3 0M1861 2635l-2-1 2 1M1876 2630l-3-1 3 1M1892 2624l-3 0 3 0M1907 2618l-3 0 3 0M1922 2613l-3-1 3 1M1937 2607l-3 0 3 0M1952 2601l-2 0 2 0"/><path stroke="#f8d92c" d="M2009 2993l3 0M2024 2989l3-1M2039 2983l4-1M2054 2978l4-2M2069 2972l4-2M2084 2966l5-2M2099 2961l0-3 5 0M2114 2955l0-3 6 1M2129 2949l0-3 6 1M2144 2944l0-3 7 0M2159 2938l1-3 6 0M2174 2932l1-3 7 0M2189 2927l1-4 7 1M2204 2921l1-4 8 1M2219 2915l1-4 8 1M2234 2910l1-5 9 1M2249 2904l1-4 9 0M2264 2898l1-4 9 1M2279 2893l1-5 10 1M2295 2887l1-5 9 1M2310 2881l1-5 9 1M2325 2875l1-4 9 1M2340 2870l1-5 10 1M2356 2864l1-5 9 1M2371 2858l1-4 9 0M2386 2852l1-4 9 1M2402 2847l1-5 8 1M2417 2841l1-4 8 0M2433 2835l1-4 7 1M2448 2829l1-3 7 0M2464 2823l1-3 6 0M2479 2817l1-3 6 1M2495 2812l0-3 6 0M2510 2806l1-3 5 0M2526 2800l0-3 5 1M2541 2794l5-2M2557 2788l4-2M2572 2782l4-1M2588 2777l3-2M2603 2771l4-2M2618 2765l1-1M2015 2982l-3-2 3 2M2030 2976l-3-2 3 2M2046 2970l-4 0 0-2 5 0-1 2M2061 2965l-4 0 0-3 5 1-1 2M2077 2959l-5 0 0-3 6 1-1 2M2092 2954l-5-1 0-3 6 1-1 3M2108 2948l-6 0 0-3 7 0-1 3M2123 2942l-6 0 0-3 7 0-1 3M2139 2937l-7-1 0-3 8 0-1 4M2154 2931l-7 0 0-4 8 0-1 4M2169 2926l-7-1 0-4 9 1-2 4M2185 2920l-8-1 0-4 9 1-1 4M2200 2914l-8 0 1-5 9 1-2 4M2216 2909l-9-1 1-5 9 1-1 5M2231 2903l-9-1 1-4 10 0-2 5M2246 2897l-9 0 1-5 10 1-2 4M2262 2892l-10-1 1-5 10 1-1 5M2277 2886l-10-1 1-5 11 1-2 5M2292 2880l-10 0 1-6 11 1-2 5M2308 2875l-11-1 1-5 11 0-1 6M2323 2869l-10-1 1-5 11 1-2 5M2338 2863l-10 0 1-6 11 1-2 5M2353 2857l-10 0 1-6 11 1-2 5M2368 2851l-9 0 1-5 10 1-2 4M2384 2846l-10-1 1-5 10 1-1 5M2399 2840l-10-1 2-4 9 0-1 5M2414 2834l-9-1 1-4 9 1-1 4M2429 2828l-9 0 1-5 9 1-1 4M2444 2822l-8 0 1-4 8 0-1 4M2459 2816l-8 0 1-4 8 1-1 3M2474 2810l-7 0 1-3 7 0-1 3M2489 2805l-6-1 0-3 7 0-1 4M2504 2799l-6-1 1-3 6 1-1 3M2519 2793l-5 0 0-3 6 0-1 3M2534 2787l-5 0 1-3 5 1-1 2M2549 2781l-4 0 0-2 5 0-1 2M2564 2775l-4 0 1-2 4 0-1 2M2579 2769l-3-2 3 2M2595 2764l-3-2 3 2M2610 2758l-3-2M1997 2986l3 1M2004 2974l-4-2 4 2M2019 2969l-4-1 0-2 5 1-1 2M2034 2963l-4 0 0-3 5 1-1 2M2050 2957l-5 0 0-2 6 0-1 2M2065 2952l-5 0 0-3 6 0-1 3M2081 2946l-6 0 0-3 7 0-1 3M2096 2941l-6-1 0-3 7 0-1 4M2112 2935l-7 0 0-4 8 1-1 3M2127 2930l-8-1 1-4 8 1-1 4M2143 2924l-9-1 1-4 9 1-1 4M2158 2918l-9 0 1-5 10 1-2 4M2174 2913l-10-1 1-5 10 1-1 5M2189 2907l-10 0 1-6 11 1-2 5M2205 2902l-11-1 1-5 11 0-1 6M2220 2896l-11-1 1-5 12 1-2 5M2235 2890l-11 0 1-6 12 1-2 5M2251 2885l-12-1 1-6 13 1-2 6M2266 2879l-12-1 1-6 13 1-2 6M2281 2873l-12 0 2-7 12 1-2 6M2297 2867l-12 0 1-6 13 1-2 5M2312 2862l-12-1 1-6 13 1-2 6M2327 2856l-12-1 1-6 13 1-2 6M2342 2850l-11 0 1-6 12 1-2 5M2357 2844l-11 0 1-6 12 1-2 5M2372 2838l-11 0 2-6 11 1-2 5M2388 2833l-11-1 1-5 11 1-1 5M2403 2827l-11-1 2-5 10 1-1 5M2418 2821l-10-1 1-4 10 0-1 5M2433 2815l-9 0 1-5 9 1-1 4M2448 2809l-9 0 1-5 9 1-1 4M2463 2803l-8 0 1-4 8 0-1 4M2478 2797l-8 0 1-4 8 1-1 3M2493 2791l-7 0 1-3 7 0-1 3M2508 2786l-6-1 0-3 7 1-1 3M2523 2780l-6-1 1-2 6 0-1 3M2538 2774l-5 0 0-3 5 0 0 3M2553 2768l-5 0 1-3 4 1 0 2M2568 2762l-4 0 0-2 4 0 0 2M2583 2756l-3-2 3 2M2598 2750l-3-2M1985 2978l3 2M1992 2967l-4 0 0-2 5 0-1 2M2007 2961l-4 0 0-2 5 0-1 2M2023 2956l-5-1 0-2 6 0-1 3M2038 2950l-5 0 0-3 6 0-1 3M2054 2945l-6-1 0-3 7 0-1 4M2069 2939l-6 0 0-4 7 1-1 3M2085 2933l-8 0 1-4 8 1-1 3M2100 2928l-8-1 1-4 9 1-2 4M2116 2922l-9 0 1-5 9 1-1 4M2131 2917l-9-1 1-5 10 1-2 5M2147 2911l-10 0 1-6 11 1-2 5M2162 2906l-10-1 1-6 11 1-2 6M2178 2900l-11-1 1-5 12 0-2 6M2193 2894l-11 0 1-6 13 1-3 5M2209 2889l-12-1 1-6-13-1-3 6-13 0-2 6-13-1 1-6-12 0-3 5-13 0-2 6-13-1 1-6-12-1-3 6-13 0 0-6-11-1-3 6-13-1 0-6-10-1-4 6 14 1-3 6-12-1 1-6-13-1-2 6-13 0 1-7 14 1 0-6-10 0-4 5-13-1 0-6-11 0-3 5-13 0 1-7-12 0-3 6-12-1 0-7-13-1 1-6-12-1-2 6-13-1 1-6-13-1 0-6-12-1-2 6-13-1 2-6 13 1 0-6-11-1-3 6-12-1 1-7 12 1 0-5-9-1-3 5-13-1 1-6-13-1 1-6-13-2 1-6-13-1 1-6-12-1 0-7-12-1 1-6-13-2 2-6 12 0 1-5-10-1-3 6-13-1 1-6 13 0 0-6-11-1-2 6-13-1 2-6 13 1 1-6-13-2 2-6-13-1 2-7 12 1 1-6-12-1 2-7-13-1 1-6 13 0 1-6-12-1 2-7 12 1 1-6-12-1 2-7 12 0 1-5-11-1-2 6-13-1 2-6 13 1 2-7-13-1 2-6 13 0-2 7 12 0 1-5-11-2 1-6 12 0 2-5-12-2 2-6 12 0 2-6-12-1 2-6 13 0 2-6 12 0 2-6-12-1 2-6 13 0 2-6 12 0 2-6-12-1 2-6 12 0-1 7 12 0 2-5-12-2 2-6 13 1-1 6 10 0 2-5-11-1 2-7 13 1 2-7 13 1 2-6 13 0 2-6 13 0 3-6 12 0 3-6 13 1 2-6 13 0 0 6 10 1 3-5-13-2 3-6 12 1 0 6 11 0 3-5-13-1 2-7 12 1-1 6 13 1 3-6 13 1 2-7 13 1-1 6 12 1 3-6 13 0 2-6M2118 2567l13 1 2-6 13 1-1 6-14-1 0 6 10 1 4-6 13 1 0 6 11 1 3-6 13 1-1 6 12 1 3-6 12 1 0 6 13 1-1 6 12 1 2-6 13 1-1 6 13 1 0 6 12 1 2-6 13 1-2 6-13 0 0 5 11 1 3-6 12 1-1 7-12 0 0 5 9 1 3-6 13 1-1 6 13 1-1 7 13 1-1 6 13 1-1 6 12 2 0 6 12 1-1 7 13 1-2 6-12 0-1 5 10 1 3-6 13 1-1 7-13-1 0 6 11 1 2-6 13 1-2 6-13-1-1 6 13 2-2 6 13 1-2 7-12-1-1 6 12 2-2 6 13 1-1 6-13 0-1 6 12 1-2 7-12 0-1 5 12 1-2 7-12 0-1 5 11 2 2-7 13 1-2 6-13 0-2 6 13 1-2 6-13 0 2-7-12 0-1 5 11 2-1 6-12 0-2 6 12 1-2 7-12-1-2 6 12 1-2 7-13-1-2 7-12 0-2 5 12 1-2 7-13-1-2 6-12 0-2 6 12 1-2 6-12 0 1-7-12 0-2 6 12 1-2 6-13 0 1-6-10-1-2 5 11 2-2 6-13 0-2 6-13 0-2 6-13-1-2 6-13 0-3 6-12 0-3 6-13-1-2 7-13-1 0-6-10 0-3 5 13 1-3 6-12 0 0-7-11 0-3 6 13 1-2 6M2376 2826l-12-1 2-6 12 1-2 6M2391 2820l-11-1 1-6 12 1-2 6M2406 2814l-10-1 1-5 11 1-2 5M2421 2808l-10-1 1-5 11 1-2 5M2436 2802l-9-1 1-4 10 0-2 5M2451 2796l-9 0 2-5 9 1-2 4M2466 2790l-8 0 1-4 8 0-1 4M2481 2784l-7 0 1-4 7 1-1 3M2496 2778l-7 0 1-4 7 1-1 3M2511 2772l-6 0 1-3 6 0-1 3M2526 2767l-5-1 0-3 6 1-1 3M2541 2761l-5-1 1-2 5 0-1 3M2556 2755l-4-1 0-2 5 0-1 3M2571 2749l-4 0 1-2 4 0-1 2M2587 2743l-4-2M1973 2970l4 3M2230 2870l11 1 0-6-9 0-2 5M2246 2864l10 1 0-5-8 0-2 4M2261 2858l10 1 0-5-8 0-2 4M2277 2852l10 1 0-5-8 0-2 4M2292 2846l10 2 0-6-8 0-2 4M2307 2841l11 1 0-5-9-1-2 5M1980 2960l-4-1 0-2 5 0-1 3M1996 2954l-5 0 0-3 6 0-1 3M2011 2948l-5 0 0-3 6 1-1 2M2027 2943l-6-1 0-3 7 1-1 3M2042 2937l-6 0 0-4 8 1-2 3M2058 2932l-8-1 1-4 8 1-1 4M2074 2926l-9 0 1-5 9 1-1 4M2089 2921l-9-1 1-5 10 1-2 5M2105 2915l-10 0 1-6 10 1-1 5M2120 2910l-10-1 1-5 11 0-2 6M2136 2904l-11-1 1-5 12 0-2 6M2151 2898l-12 0 1-6 14 0-3 6M2395 2807l-12-1 1-6 13 1-2 6M2410 2801l-11-1 1-6 12 1-2 6M2425 2795l-11-1 2-5 11 1-2 5M2440 2789l-10-1 1-5 10 1-1 5M2455 2783l-9-1 1-4 9 0-1 5M2470 2777l-8 0 1-5 8 1-1 4M2485 2771l-8 0 1-4 8 0-1 4M2500 2765l-7 0 1-4 7 1-1 3M2515 2759l-7 0 1-3 7 0-1 3M2530 2753l-6 0 1-3 6 1-1 2M2545 2747l-5 0 0-2 6 0-1 2M2560 2742l-5-1 1-2 5 0-1 3M2575 2736l-4-1 0-2M1961 2963l5 0-1 2M2157 2885l12 1 0-5-10-1-2 5M2173 2879l10 1 0-5-8 0-2 4M2190 2873l7 1 0-4-6 0-1 3M2206 2867l6 0 0-2-6 2M2222 2861l4 0 0-2-4 2M2238 2855l3-1-3 1M2253 2849l3-1-3 1M2269 2843l2-1-2 1M2284 2838l3-2-3 2M2298 2832l5 1 0-3-5 2M2313 2826l6 1 0-3-6 2M2327 2821l8 1 0-4-6 0-2 3M2342 2816l9 1 0-5-8 0-1 4M2356 2810l11 2 1-6-10 0-2 4M1969 2952l-5 0 1-3 5 1-1 2M1984 2947l-5-1 1-2 5 0-1 3M2000 2941l-6 0 0-3 7 0-1 3M2016 2936l-7-1 0-3 8 0-1 4M2031 2930l-8 0 1-4 8 0-1 4M2047 2924l-9 0 1-4 9 0-1 4M2062 2919l-9-1 1-4 10 0-2 5M2078 2913l-10 0 1-5 11 0-2 5M2093 2908l-10-1 1-5 11 0-2 6M2109 2902l-12 0 1-6 13 0-2 6M2414 2788l-12-1 1-6 13 1-2 6M2429 2782l-11-1 1-6 11 1-1 6M2444 2776l-11-1 2-5 10 1-1 5M2459 2770l-10-1 1-5 10 1-1 5M2474 2764l-9-1 1-4 9 1-1 4M2489 2758l-8-1 1-4 8 1-1 4M2503 2752l-7 0 1-4 7 1-1 3M2518 2746l-6 0 1-4 6 1-1 3M2533 2740l-5 0 0-3 6 0-1 3M2548 2734l-5 0 1-3 5 1-1 2M2563 2728l-4 0 0-2M1950 2955l4 1-1 2M2114 2889l13 1-1-5-9-1-3 5M2131 2883l9 1 0-4-6-1-3 4M2148 2877l6 0 0-3-6 3M2165 2870l3-1-3 1M2333 2807l3-1-3 1M2347 2802l6 1 0-3-6 2M2361 2797l8 1 1-5-8 0-1 4M2375 2791l11 2 1-6-11 0-1 4M1957 2945l-5 0 1-3 5 0-1 3M1973 2939l-6 0 1-3 6 0-1 3M1989 2934l-7-1 0-3 8 0-1 4M2004 2928l-7 0 0-4 8 0-1 4M2020 2923l-9-1 1-4 9 1-1 4M2035 2917l-9 0 1-5 10 1-2 4M2051 2912l-10-1 1-5 11 1-2 5M2067 2906l-11 0 1-6 12 1-2 5M2082 2901l-12-1 1-6 14 1-3 6M2418 2775l-13-1 2-7 12 2-1 6M2433 2769l-12-1 2-6 11 1-1 6M2447 2763l-10-1 1-5 11 1-2 5M2462 2757l-9-1 1-5 10 1-2 5M2477 2751l-8-1 1-4 8 0-1 5M2492 2745l-8-1 1-4 8 1-1 4M2507 2739l-7-1 1-3 7 0-1 4M2522 2733l-6-1 1-3 6 1-1 3M2537 2727l-6-1 1-2 6 0-1 3M2552 2721l-5 0 1-3M1938 2948l5 0-1 2M2088 2887l11 1 0-5-8 0-3 4M2106 2881l6 0 0-3-6 3M2123 2874l3-1-3 1M2352 2788l3-1-3 1M2366 2783l6 1 0-4-6 3M2379 2778l9 1 2-5-9 0-2 4M1946 2938l-6-1 1-3 6 1-1 3M1962 2932l-7 0 1-4 7 1-1 3M1977 2926l-7 0 0-4 8 1-1 3M1993 2921l-9-1 1-4 9 1-1 4M2008 2915l-9 0 1-5 10 1-2 4M2024 2910l-10-1 1-5 11 1-2 5M2040 2905l-11-1 1-6 12 1-2 6M2436 2755l-12 0 2-6 12 1-2 5M2451 2749l-11 0 2-6 10 1-1 5M2466 2743l-10 0 2-5 9 1-1 4M2481 2737l-9 0 1-4 9 0-1 4M2496 2731l-8 0 1-4 8 1-1 3M2510 2725l-6 0 1-3 6 0-1 3M2525 2719l-6 0 1-3 6 1-1 2M2540 2714l-5-1 1-2M1926 2940l5 0-1 3M2062 2885l9 1 0-4-7 0-2 3M2080 2879l4-2-4 2M2370 2769l5-1-5 1M2384 2764l7 1 1-4-7 0-1 3M1934 2930l-6 0 1-3 6 0-1 3M1950 2925l-7-1 1-3 7 0-1 4M1966 2919l-8 0 0-4 9 0-1 4M1981 2914l-9-1 1-4 10 0-2 5M1997 2908l-10 0 1-6 11 1-2 5M2013 2903l-11-1 1-6 12 1-2 6M2440 2742l-12 0 2-6 11 1-1 5M2455 2736l-11 0 1-6 11 1-1 5M2469 2730l-9 0 1-5 9 1-1 4M2484 2724l-8 0 1-5 8 1-1 4M2499 2718l-7 0 1-4 7 1-1 3M2514 2712l-7 0 1-4 7 1-1 3M2529 2706l-6 0 1-3M1914 2933l6 0-1 3M2035 2883l9 1 0-4-7 0-2 3M2053 2877l4-2-4 2M2374 2756l4-1-4 1M2387 2751l8 1 1-4-8 0-1 3M1923 2923l-7-1 1-3 7 0-1 4M1939 2917l-8 0 1-4 8 0-1 4M1954 2912l-8-1 0-4 10 0-2 5M1970 2906l-10 0 1-5 11 0-2 5M1986 2901l-11-1 1-5 12 0-2 6M2002 2896l-13-1 1-6 14 0-2 7M2428 2735l-12-1 1-6 13 1-2 6M2443 2729l-11-1 1-5 12 0-2 6M2458 2723l-10-1 1-5 10 1-1 5M2473 2717l-9-1 1-4 9 0-1 5M2488 2711l-8-1 1-4 8 1-1 4M2502 2705l-7-1 1-3 7 0-1 4M2517 2699l-6-1 1-3M1902 2925l6 0-1 3M2008 2882l9 0 0-4-7 0-2 4M2026 2875l4-1-4 1M2378 2743l3-2-3 2M2391 2738l7 1 2-5-8 1-1 3M1911 2916l-7-1 1-4 8 1-2 4M1927 2910l-8-1 1-4 9 1-2 4M1943 2905l-9-1 0-5 10 1-1 5M1959 2899l-11-1 1-5 12 1-2 5M1974 2894l-11-1 1-6 13 1-3 6M2432 2722l-13-1 2-6 12 1-1 6M2447 2716l-11-1 1-6 11 1-1 6M2461 2709l-9 0 1-5 9 1-1 4M2476 2703l-9 0 2-4 8 0-1 4M2491 2697l-8 0 1-4 8 1-1 3M2506 2691l-7 0 1-3M1890 2917l7 1-1 3M1980 2880l11 1 0-4-8-1-3 4M1999 2873l4-1-4 1M2381 2730l4-2-4 2M2394 2725l8 1 2-5-9 0-1 4M1900 2908l-8 0 1-4 8 0-1 4M1916 2903l-9-1 1-4 9 0-1 5M1931 2897l-10 0 1-5 11 0-2 5M1947 2892l-11-1 1-6 12 1-2 6M2435 2708l-12 0 2-6 12 1-2 5M2450 2702l-11 0 2-6 10 1-1 5M2465 2696l-10 0 2-5 9 1-1 4M2479 2690l-8 0 1-4 8 0-1 4M2494 2684l-7 0 1-4M1878 2910l7 0-1 4M1952 2879l12 1 0-5-9-1-3 5M1971 2872l6 0 0-2-6 2M2384 2717l5 0 1-3-6 3M2397 2712l10 1 2-6-12 0 0 5M1889 2901l-9-1 1-4 9 1-1 4M1904 2895l-9 0 1-5 10 1-2 4M1920 2890l-11-1 1-5 12 1-2 5M1936 2885l-12-1 1-6 13 0-2 7M2424 2701l-13-1 2-6 12 1-1 6M2439 2695l-12-1 2-5 11 1-1 5M2453 2689l-10-1 2-5 9 1-1 5M2468 2683l-9-1 2-4 8 1-1 4M2483 2677l-8-1 1-3M1866 2902l8 1-1 3M1942 2871l9 0 0-3-6-1-3 4M1961 2864l3-1-3 1M2374 2709l2-1-2 1M2386 2704l8 1 1-5-8 1-1 3M1877 2893l-9 0 1-5 9 1-1 4M1893 2888l-10-1 1-5 11 1-2 5M1909 2883l-12-1 1-6 13 1-2 6M2427 2688l-12-1 2-6 11 1-1 6M2442 2681l-11 0 2-5 10 1-1 4M2456 2675l-9 0 2-5 8 1-1 4M2471 2669l-8 0 1-4M1854 2895l9 0-2 4M1913 2870l13 0 0-5-10-1-3 6M1932 2863l6 0 0-2-6 2M2376 2696l5 1 1-3-6 2M2388 2691l10 1 3-5-12 0-1 4M1865 2886l-9-1 1-4 10 0-2 5M1881 2881l-10-1 1-5 11 0-2 6M1897 2875l-12 0 2-6 12 0-2 6M2416 2680l-13 0 2-7 12 1-1 6M2430 2674l-11 0 2-6 10 1-1 5M2445 2668l-10 0 2-5 9 1-1 4M2460 2662l-9 0 2-5M1843 2887l8 0-1 5M1903 2862l10 0 0-4-7 0-3 4M1922 2855l3-1-3 1M2365 2688l3-1-3 1M2378 2683l8 1 2-4-10 0 0 3M1854 2879l-9-1 0-5 11 1-2 5M1870 2873l-11 0 1-6 12 1-2 5M2419 2667l-12-1 2-5 11 0-1 6M2433 2661l-10-1 2-5 9 1-1 5M2448 2655l-9-1 2-4M1831 2879l9 1-2 4M1893 2854l7 0 0-3-5 0-2 3M2367 2675l6 1 2-3-8 0 0 2M1842 2871l-9 0 1-5 10 0-2 5M1858 2866l-11-1 1-5 12 0-2 6M2407 2659l-12 0 2-6 11 1-1 5M2422 2653l-10 0 1-5 10 0-1 5M2437 2647l-9 0 1-5M1819 2872l9 0-1 5M1882 2846l6 0 0-2-6 2M2356 2668l5 0 1-3-6 3M1831 2864l-10-1 1-5 11 1-2 5M1847 2859l-12-1 1-6 13 1-2 6M2396 2652l-13-1 2-6 12 1-1 6M2410 2646l-10-1 1-5 10 1-1 5M2425 2640l-9-1 1-4M1807 2864l9 1-1 4M1852 2846l11 0 0-5-9-1-2 6M1871 2838l5-1-5 1M2345 2660l4-2-4 2M2357 2655l9 1 3-5-11 0-1 4M1819 2857l-10-1 1-5 11 0-2 6M1835 2851l-12-1 2-6 12 1-2 6M2384 2645l-12-1 2-6 11 1-1 6M2399 2638l-11 0 2-5 10 0-1 5M2413 2632l-9 0 1-5M1795 2857l10 0-2 5M1840 2838l11 0 0-4-8-1-3 5M1860 2831l4-2-4 2M2334 2652l3-1-3 1M2346 2648l8 1 3-5-11 0 0 4M1808 2849l-11-1 1-5 11 1-1 5M1824 2844l-12-1 1-6 13 1-2 6M2372 2637l-12 0 2-7 12 1-2 6M2387 2631l-11-1 2-5 10 1-1 5M2402 2625l-10-1 2-4M1784 2849l9 1-1 4M1829 2830l10 1 0-4-8-1-2 4M1849 2823l3-1-3 1M2322 2645l3-1-3 1M2334 2640l8 1 3-5-10 0-1 4M1796 2842l-10-1 1-5 11 0-2 6M1812 2836l-12-1 1-5 13 0-2 6M2361 2630l-13-1 2-6 12 1-1 6M2375 2624l-11-1 2-5 10 0-1 6M2390 2617l-10 0 2-5M1772 2842l10 0-2 5M1817 2823l10 0 1-4-8-1-3 5M1837 2816l3-2-3 2M2310 2637l3-1-3 1M2323 2633l8 1 2-5-10 0 0 4M1784 2834l-10-1 1-5 11 1-2 5M1800 2829l-12-1 2-6 12 1-2 6M2349 2622l-13 0 2-7 12 1-1 6M2364 2616l-11-1 1-5 11 1-1 5M2378 2610l-9-1 1-4M1760 2834l10 1-2 4M1805 2816l11 0 0-5-8-1-3 6M1825 2808l3-1-3 1M2298 2630l4-1-4 1M2311 2625l8 1 3-5-11 0 0 4M1772 2827l-10-1 1-5 11 0-2 6M1788 2821l-11-1 1-5 12 0-2 6M2337 2615l-12-1 2-6 12 1-2 6M2352 2609l-11-1 2-5 10 0-1 6M2367 2602l-10 0 2-5M1749 2827l9 0-1 5M1793 2808l11 0 1-4-9-1-3 5M1813 2801l4-2-4 2M2286 2623l5-2-5 2M2299 2618l9 1 2-5-11-1 0 5M1761 2819l-10-1 1-5 10 1-1 5M1777 2814l-12-1 1-6 13 1-2 6M2326 2607l-13 0 2-6 12 0-1 6M2340 2601l-11-1 2-5 10 1-1 5M2355 2595l-9-1 1-4M1737 2819l9 1-1 4M1800 2794l6-2-5-1-1 3M2274 2615l6-2-6 0 0 2M1749 2812l-10-1 1-5 10 0-1 6M1765 2806l-11-1 1-5 12 0-2 6M2314 2600l-12-1 2-6 11 1-1 6M2328 2593l-10 0 2-5 9 1-1 4M2343 2587l-9 0 1-5M1725 2812l9 1-1 4M1787 2787l8 0 0-3-6-1-2 4M2262 2608l5 1 2-4-7 0 0 3M1737 2804l-9-1 1-4 10 0-2 5M1753 2799l-11-1 1-6 12 1-2 6M2302 2592l-12-1 2-5 11 1-1 5M2317 2586l-11-1 2-5 9 1 0 5M2331 2580l-9-1 2-4M1714 2805l9 0-2 4M1774 2780l10 0 0-4-8-1-2 5M1794 2772l3-1-3 1M2237 2606l3-1-3 1M2249 2601l7 1 3-5-10 0 0 4M1725 2796l-9 0 1-5 10 1-2 4M1741 2791l-10-1 1-5 11 1-2 5M1757 2786l-12-1 1-6 13 1-2 6M2275 2591l-12-1 2-6 12 1-2 6M2290 2584l-11 0 2-6 10 1-1 5M2305 2578l-10 0 2-5 9 1-1 4M2319 2572l-8 0 1-4M1702 2797l9 1-2 4M1761 2773l12 0 1-5-10-1-3 6M1780 2766l6-3-5 0-1 3M2224 2599l6-3-6 0 0 3M2236 2594l10 1 3-6-13 0 0 5M1713 2789l-8-1 1-4 9 0-2 5M1729 2783l-10 0 1-5 11 0-2 5M1745 2778l-11-1 1-5 12 0-2 6M2264 2583l-13-1 2-5 12 0-1 6M2278 2577l-11-1 2-5 10 1-1 5M2293 2571l-9-1 1-4 9 0-1 5M2308 2565l-9-1 2-4M1691 2790l8 0-1 4M1767 2759l8 0 1-4-8-1-1 5M1786 2752l2-1-2 1M2198 2596l3-1-3 1M2211 2592l6 0 3-4-9 0 0 4M1701 2781l-8 0 1-4 9 0-2 4M1717 2776l-9-1 1-5 10 1-2 5M1733 2770l-11 0 1-6 12 1-2 5M1749 2765l-12-1 1-6 13 1-2 6M2237 2582l-13-1 2-6 12 0-1 7M2252 2575l-12 0 2-6 11 1-1 5M2266 2569l-10 0 2-5 9 0-1 5M2281 2563l-9 0 1-5 9 1-1 4M2296 2557l-8 0 1-4M1679 2783l8 0-1 4M1753 2752l12 0 0-5-10-1-2 6M1772 2745l6-2-5-1-1 3M2185 2590l6-3-6 0 0 3M2198 2585l9 0 3-5-12 0 0 5M1690 2774l-8-1 1-4 8 1-1 4M1705 2768l-9-1 1-4 10 1-2 4M1721 2763l-10-1 1-5 11 1-2 5M1737 2757l-12-1 2-5 12 0-2 6M2225 2574l-12-1 2-6 11 1-1 6M2240 2568l-11-1 2-5 10 1-1 5M2254 2562l-9-1 1-5 9 1-1 5M2269 2556l-8-1 1-4 8 1-1 4M2284 2549l-7 0 1-3M1668 2775l7 1-1 3M1758 2738l9 0 1-4-8-1-2 5M1777 2731l4-1-4 1M2159 2587l4-1-4 1M2171 2583l8 0 3-4-11-1 0 5M1678 2766l-8-1 1-3 8 0-1 4M1693 2761l-8-1 1-4 9 0-2 5M1709 2755l-9-1 1-4 9 0-1 5M1725 2750l-11-1 1-5 11 0-1 6M1741 2744l-12-1 1-5 13 0-2 6M2198 2572l-13-1 3-6 11 1-1 6M2213 2566l-12-1 2-5 11 1-1 5M2228 2560l-10-1 1-4 9 0 0 5M2242 2554l-9-1 2-4 8 1-1 4M2257 2548l-8-1 2-3 7 0-1 4M2272 2542l-7-1 1-3M1656 2768l7 0-1 3M1762 2725l8 0 1-4-7-1-2 5M1781 2718l3-1-3 1M2132 2586l4-2-4 2M2145 2581l7 0 2-4-9 0 0 4M1666 2758l-7 0 1-4 7 1-1 3M1681 2753l-8-1 1-4 8 1-1 4M1697 2747l-9 0 1-5 9 1-1 4M1713 2742l-10-1 1-5 10 1-1 5M1729 2737l-12-1 2-6 11 1-1 6M1745 2731l-13-1 2-6 12 1-1 6M2172 2571l-14-1 2-6 13 0-1 7M2186 2564l-12 0 2-6 11 1-1 5M2201 2558l-11 0 2-5 10 0-1 5M2216 2552l-10 0 2-5 8 1 0 4M2230 2546l-8 0 1-4 8 0-1 4M2245 2540l-7 0 1-4 7 1-1 3M2260 2534l-6 0 1-3M1645 2760l6 1-1 3M1766 2711l8 0 1-3-8-1-1 4M1784 2705l4-2-4 2M2118 2579l7 0 2-3-9-1 0 4M1654 2751l-7-1 1-3 7 0-1 4M1669 2745l-7 0 1-4 7 1-1 3M1685 2740l-8-1 1-4 8 1-1 4M1701 2734l-9 0 1-5 9 1-1 4M1717 2729l-11-1 1-5 11 1-1 5M1732 2724l-11-1 1-6 12 1-2 6M2159 2563l-12-1 2-6 11 1-1 6M2174 2557l-11-1 2-5 10 1-1 5M2189 2551l-10-1 2-4 9 0-1 5M2204 2545l-9-1 1-4 8 1 0 4M2218 2539l-7-1 1-3 7 0-1 4M2233 2533l-6-1 1-3 6 0-1 4M2248 2527l-6-1 1-3M1633 2753l6 0-1 3M1770 2698l7 0 1-3-7-1-1 4M1787 2692l5-2-5 2M1642 2743l-6 0 1-3 6 0-1 3M1657 2738l-6-1 1-3 6 0-1 4M1673 2732l-8 0 1-4 8 0-1 4M1689 2727l-9-1 1-4 9 0-1 5M1704 2721l-9-1 1-4 10 0-2 5M1720 2716l-10-1 1-5 11 0-2 6M1736 2710l-12-1 2-5 12 0-2 6M2132 2561l-12-1 2-5 11 0-1 6M2147 2555l-11-1 2-5 10 1-1 5M2162 2549l-10-1 2-4 9 0-1 5M2177 2543l-9-1 1-4 9 1-1 4M2192 2537l-8-1 1-3 7 0 0 4M2206 2531l-7 0 1-4 7 1-1 3M2221 2525l-6 0 1-3 6 0-1 3M2236 2519l-5 0 1-3M1622 2746l5 0-1 3M1772 2685l9 0 2-4-9-1-2 5M1790 2679l6-3-6 0 0 3M1807 2672l3-1-3 1M2036 2586l3-1-3 1M1630 2736l-6-1 1-3 6 1-1 3M1645 2730l-6-1 1-2 6 0-1 3M1661 2724l-7 0 1-3 7 0-1 3M1677 2719l-8-1 1-3 8 0-1 4M1692 2713l-8 0 1-4 8 0-1 4M1708 2708l-10-1 2-4 9 0-1 5M1724 2703l-11-1 2-5 10 0-1 6M1739 2697l-11-1 1-5 12 0-2 6M1755 2692l-12-1 1-6 13 0-2 7M2135 2547l-10 0M2136 2543l-1 4M2150 2541l-9 0 1-5 9 1-1 4M2165 2535l-8 0 1-4 7 0 0 4M2180 2529l-8 0 1-4 7 1 0 3M2194 2523l-6 0 1-3 6 0-1 3M2209 2517l-5 0 1-3 5 1-1 2M2224 2511l-5 0 1-2M1610 2738l5 1-1 2M1775 2672l11 0 1-4-11-2-1 6M1792 2666l8 0 1-3-8-1-1 4M1809 2660l6-3-6 0 0 3M1826 2653l3-1-3 1M1994 2590l3-1-3 1M2008 2585l6-2-6-1 0 3M2022 2580l6 0 3-4-9-1 0 5M2036 2574l9 1M2035 2569l1 5M1618 2728l-5 0 1-3 5 0-1 3M1634 2722l-6 0 1-3 5 0 0 3M1649 2717l-6-1 1-3 6 1-1 3M1665 2711l-7 0 1-4 7 1-1 3M1680 2706l-8-1 1-4 8 1-1 4M1696 2700l-9 0 1-5 9 1-1 4M1712 2695l-10-1 1-5 10 1-1 5M1727 2689l-10-1 1-4 11 0-2 5M1743 2684l-11-1 1-5 11 0-1 6M1759 2678l-13-1 2-5 12 0-1 6M2138 2534l-8-1M2139 2530l-1 4M2153 2528l-8-1 1-3 7 0 0 4M2168 2522l-7-1 1-3 6 1 0 3M2182 2516l-5-1 1-2 5 0-1 3M2197 2510l-5-1 1-2 5 0-1 3M2212 2504l-4 0 1-3M1599 2731l4 0 0 2M1794 2653l10 0 2-4-11-2-1 6M1811 2647l8 0 1-3-9-2 0 5M1827 2641l6 0 2-3-8-1 0 4M1843 2635l6-2-6-1 0 3M1859 2629l5-2-5 0 0 2M1875 2623l3-1-3 1M1891 2617l2-1-2 1M1906 2611l3-1-3 1M1921 2606l3-2-3 2M1936 2600l4-2-4 0 0 2M1950 2595l6-3-6 0 0 3M1965 2589l6 0 1-3-7 0 0 3M1979 2584l8 0 2-4-10-1 0 5M1993 2578l10 1 2-5-12-1 0 5M1606 2720l-5 0 1-2 5 0-1 2M1622 2715l-6-1 1-2 5 0 0 3M1637 2709l-6 0 1-3 6 0-1 3M1653 2704l-7-1 1-3 7 0-1 4M1668 2698l-7-1 1-3 7 0-1 4M1684 2693l-8-1 1-4 8 1-1 4M1699 2687l-8-1 1-4 8 1-1 4M1715 2681l-9 0 1-5 9 1-1 4M1731 2676l-10-1 1-5 10 1-1 5M1746 2671l-11-1 2-6 11 1-2 6M1762 2665l-12-1 2-6 11 1-1 6M1778 2660l-13-2 2-5 12 0-1 7M2022 2568l-14-1 3-6 12 0-1 7M2036 2562l-12-1 2-6 11 1-1 6M2141 2517l0 3M2156 2514l-6 0 1-3 5 0 0 3M2171 2508l-6 0 1-3 5 1 0 2M2186 2502l-5 0 1-2 4 0 0 2M2201 2496l-5 0 1-2M1587 2724l4 0 0 2M1844 2623l9 0 2-5-11-1 0 6M1860 2617l8 0 2-4-10-1 0 5M1875 2611l8 0 2-4-10-1 0 5M1891 2605l8 0 2-4-10-1 0 5M1906 2599l8 1 2-4-10-2 0 5M1921 2594l9 0 2-4-11-2 0 6M1594 2713l-4-1 1-2 4 1-1 2M1610 2707l-5 0 1-3 4 1 0 2M1625 2702l-5-1 1-2 5 0-1 3M1641 2696l-6-1 1-2 5 0 0 3M1656 2690l-6 0 1-3 6 0-1 3M1672 2685l-7-1 1-3 7 0-1 4M1687 2679l-7 0 1-4 7 0-1 4M1703 2674l-8-1 1-4 8 1-1 4M1718 2668l-9-1 2-4 9 1-2 4M1734 2663l-10-1 2-5 9 1-1 5M1750 2657l-11-1 2-5 10 1-1 5M1765 2652l-11-1 2-6 10 1-1 6M1781 2646l-12-1 2-5 11 0-1 6M1796 2641l-12-2 2-5 12 0-2 7M1979 2572l-13-1 3-6 11 0-1 7M1994 2566l-12-1 2-6 11 1-1 6M2009 2560l-11-1 2-5 10 0-1 6M2024 2554l-11-1 2-5 10 1-1 5M2029 2547l2-5M2144 2504l0 2M2159 2500l-5 0 1-2 4 0 0 2M2174 2495l-5-1 1-2 4 1 0 2M2189 2489l-4-2M1575 2716l4 2M1582 2705l-3-2 3 2M1598 2699l-4 0 0-2 4 0 0 2M1613 2694l-4 0 0-3 5 1-1 2M1629 2688l-5 0 0-3 5 1 0 2M1644 2683l-6-1 1-2 6 0-1 3M1660 2677l-7 0 1-3 6 0 0 3M1675 2672l-7-1 1-3 7 0-1 4M1691 2666l-8-1 1-3 8 0-1 4M1706 2660l-8 0 1-4 8 0-1 4M1722 2655l-9-1 1-4 9 1-1 4M1737 2649l-9 0 1-5 9 1-1 4M1753 2644l-10-1 1-5 10 1-1 5M1768 2638l-10-1 1-5 11 1-2 5M1784 2633l-11-1 1-5 11 0-1 6M1799 2627l-11-1 2-5 11 0-2 6M1815 2621l-12-1 2-5 11 0-1 6M1830 2616l-12-1 2-6 11 1-1 6M1846 2610l-13-1 2-6 12 1-1 6M1861 2604l-13-1 2-5 12 0-1 6M1876 2599l-13-1 2-6 12 0-1 7M1891 2593l-12-1 2-6 12 1-2 6M1907 2587l-13-1 2-6 12 1-1 6M1922 2581l-13-1 2-5 12 0-1 6M1937 2575l-12 0 2-6 11 1-1 5M1952 2570l-12-1 2-6 11 1-1 6M1967 2564l-11-1 1-5 11 0-1 6M1982 2558l-11-1 2-5 10 1-1 5M1997 2552l-10-1 1-5 10 1-1 5M2012 2546l-10-1 2-4 9 0-1 5M2027 2540l-9-1 1-4 9 1-1 4M2147 2491l0 2M2162 2487l-4-2 4 2M2177 2481l-3-2M1564 2709l3 2M1570 2698l-3-2 3 2M1586 2692l-3-2 3 2M1601 2686l-4 0 1-2 4 0-1 2M1617 2681l-5-1 1-2 4 0 0 3M1632 2675l-5 0 1-3 5 0-1 3M1648 2669l-6 0 1-3 5 1 0 2M1663 2664l-6-1 1-3 6 1-1 3M1679 2658l-7 0 1-3 6 0 0 3M1694 2653l-7-1 1-3 7 0-1 4M1710 2647l-8-1 1-3 8 0-1 4M1725 2641l-8 0 1-4 8 0-1 4M1741 2636l-9-1 1-4 9 1-1 4M1756 2630l-9 0 1-5 9 1-1 4M1771 2625l-9-1 1-5 10 1-2 5M1787 2619l-10-1 1-4 10 0-1 5M1802 2613l-10 0 2-5 9 0-1 5M1818 2608l-11-1 2-5 10 0-1 6M1833 2602l-11-1 2-5 10 1-1 5M1848 2596l-11-1 2-5 10 1-1 5M1864 2591l-11-1 1-5 11 0-1 6M1879 2585l-11-1 2-5 10 0-1 6M1894 2579l-11-1 2-5 10 1-1 5M1909 2573l-10-1 1-4 10 0-1 5M1924 2567l-10 0 2-5 9 0-1 5M1939 2562l-10-1 2-5 9 1-1 5M1954 2556l-9-1 1-4 9 0-1 5M1969 2550l-9-1 2-4 8 0-1 5M1985 2544l-9-1 1-4 8 1 0 4M2000 2538l-9 0 2-4 7 0 0 4M2015 2532l-8 0 1-4 7 1 0 3M2022 2526l1-4M2165 2474l-3-2M1552 2701l3 2M1544 2694l-1 2M1559 2688l-4 2M1574 2683l-3 1M1590 2677l-4 1M1605 2671l-4 2M1621 2665l-5 2M1636 2659l0 3-5-1M1652 2653l-1 3-5 0M1667 2648l0 3-6-1M1683 2642l-1 3-6-1M1698 2636l-1 3-6 0M1714 2630l-1 4-7-1M1729 2624l-1 4-7-1M1745 2618l-1 4-8 0M1760 2613l-1 4-8-1M1776 2607l-1 4-9-1M1791 2601l-1 5-9-1M1806 2595l-1 5-9-1M1822 2590l-1 4-10-1M1837 2584l-1 4-9 0M1852 2578l-1 5-9-1M1867 2572l-1 5-9-1M1883 2567l-1 4-10-1M1898 2561l-1 4-9 0M1913 2555l-1 5-9-1M1928 2550l-1 4-9-1M1943 2544l-1 4-8-1M1958 2538l-1 4-8 0M1973 2533l-1 3-7 0M1988 2527l-1 3-7 0M2003 2521l-1 4-6-1M2018 2516l0 3-7-1"/></g><g class="sf" transform="scale(.1)"><path class=w d="M2017 2508l12 35-7-22-12-31z"/><path class=B d="M2004 2473l13 35-7-18-13-31z"/><path class=E d="M1990 2440l14 33-7-14-14-30z"/><path class=I d="M1975 2410l15 30-7-11-15-29z"/><path class=L d="M1960 2382l15 28-7-10-16-26z"/><path class=r d="M2035 2557l11 38-6-19-11-33z"/><path class=v d="M2023 2519l12 38-6-14-12-35z"/><path class=A d="M2010 2483l13 36-6-11-13-35z"/><path class=E d="M1996 2448l14 35-6-10-14-33z"/><path class=H d="M1982 2417l14 31-6-8-15-30z"/><path class=L d="M1966 2388l16 29-7-7-15-28z"/><path class=j d="M2061 2643l8 35-5-20-8-28z"/><path class=m d="M2051 2604l10 39-5-13-10-35z"/><path class=q d="M2040 2564l11 40-5-9-11-38z"/><path class=u d="M2028 2525l12 39-5-7-12-38z"/><path class=A d="M2015 2488l13 37-5-6-13-36z"/><path class=E d="M2001 2453l14 35-5-5-14-35z"/><path class=H d="M1986 2421l15 32-5-5-14-31z"/><path class=L d="M1971 2392l15 29-4-4-16-29z"/><path class=f d="M2071 2682l7 30-3-9-6-25z"/><path class=i d="M2063 2646l8 36-2-4-8-35z"/><path class=m d="M2054 2607l9 39-2-3-10-39z"/><path class=q d="M2043 2567l11 40-3-3-11-40z"/><path class=u d="M2031 2527l12 40-3-3-12-39z"/><path class=y d="M2018 2490l13 37-3-2-13-37z"/><path class=D d="M2004 2454l14 36-3-2-14-35z"/><path class=H d="M1989 2422l15 32-3-1-15-32z"/><path class=L d="M1973 2394l16 28-3-1-15-29z"/><path class=O d="M1957 2369l16 25-2-2-17-25z"/><path class=d d="M2080 2707l4 6-3 17-3-18z"/><path class=f d="M2074 2681l6 26-2 5-7-30z"/><path class=i d="M2066 2646l8 35-3 1-8-36z"/><path class=m d="M2056 2608l10 38-3 0-9-39z"/><path class=q d="M2045 2568l11 40-2-1-11-40z"/><path class=u d="M2034 2528l11 40-2-1-12-40z"/><path class=y d="M2020 2491l14 37-3-1-13-37z"/><path class=D d="M2006 2456l14 35-2-1-14-36z"/><path class=H d="M1992 2424l14 32-2-2-15-32z"/><path class=L d="M1976 2395l16 29-3-2-16-28z"/><path class=g d="M2092 2679l6-19-5 14-6 30z"/><path class=f d="M2088 2683l4-4-5 25-3 9zM2085 2682l3 1-4 30-4-6z"/><path class=g d="M2079 2667l6 15-5 25-6-26z"/><path class=j d="M2071 2639l8 28-5 14-8-35z"/><path class=m d="M2061 2605l10 34-5 7-10-38z"/><path class=q d="M2050 2567l11 38-5 3-11-40z"/><path class=u d="M2038 2529l12 38-5 1-11-40z"/><path class=A d="M2025 2492l13 37-4-1-14-37z"/><path class=E d="M2011 2458l14 34-5-1-14-35z"/><path class=H d="M1996 2426l15 32-5-2-14-32z"/><path class=L d="M1981 2398l15 28-4-2-16-29z"/><path class=O d="M1964 2373l17 25-5-3-17-24z"/><path class=j d="M2098 2645l6-12-6 27-6 19z"/><path class=i d="M2095 2648l3-3-6 34-4 4zM2091 2648l4 0-7 35-3-1z"/><path class=j d="M2085 2640l6 8-6 34-6-15z"/><path class=l d="M2077 2622l8 18-6 27-8-28z"/><path class=o d="M2067 2594l10 28-6 17-10-34z"/><path class=r d="M2056 2560l11 34-6 11-11-38z"/><path class=v d="M2044 2525l12 35-6 7-12-38z"/><path class=A d="M2031 2491l13 34-6 4-13-37z"/><path class=E d="M2017 2458l14 33-6 1-14-34z"/><path class=H d="M2003 2427l14 31-6 0-15-32z"/><path class=L d="M1987 2400l16 27-7-1-15-28z"/><path class=O d="M1970 2375l17 25-6-2-17-25z"/><path class=o d="M2112 2599l8-18-8 27-8 25z"/><path class=m d="M2105 2608l7-9-8 34-6 12zM2102 2610l3-2-7 37-3 3zM2099 2610l3 0-7 38-4 0zM2092 2607l7 3-8 38-6-8z"/><path class=L d="M1994 2400l16 27-7 0-16-27z"/><path class=O d="M1978 2377l16 23-7 0-17-25z"/><path class=t d="M2128 2549l10-21-9 26-9 27z"/><path class=r d="M2120 2563l8-14-8 32-8 18z"/><path class=q d="M2114 2569l6-6-8 36-7 9zM2110 2571l4-2-9 39-3 2zM2107 2572l3-1-8 39-3 0z"/><path class=y d="M2147 2499l11-22-10 23-10 28z"/><path class=w d="M2137 2516l10-17-9 29-10 21z"/><path class=v d="M2129 2526l8-10-9 33-8 14z"/><path class=u d="M2123 2531l6-5-9 37-6 6zM2119 2533l4-2-9 38-4 2zM2116 2534l3-1-9 38-3 1z"/><path class=E d="M2168 2451l12-23-10 21-12 28z"/><path class=C d="M2157 2470l11-19-10 26-11 22z"/><path class=B d="M2147 2483l10-13-10 29-10 17z"/><path class=A d="M2139 2491l8-8-10 33-8 10zM2133 2495l6-4-10 35-6 5z"/><path class=y d="M2129 2497l4-2-10 36-4 2z"/><path class=H d="M2178 2426l12-19-10 21-12 23z"/><path class=F d="M2167 2441l11-15-10 25-11 19z"/><path class=E d="M2158 2451l9-10-10 29-10 13zM2150 2458l8-7-11 32-8 8zM2144 2462l6-4-11 33-6 4z"/><path class=D d="M2140 2463l4-1-11 33-4 2z"/><path class=L d="M2202 2386l13-19-12 18-13 22z"/><path class=K d="M2190 2401l12-15-12 21-12 19z"/><path class=J d="M2179 2414l11-13-12 25-11 15z"/><path class=I d="M2169 2422l10-8-12 27-9 10z"/><path class=H d="M2161 2428l8-6-11 29-8 7zM2155 2432l6-4-11 30-6 4z"/><path class=O d="M2214 2366l13-16-12 17-13 19z"/><path class=N d="M2202 2379l12-13-12 20-12 15z"/><path class=M d="M2191 2389l11-10-12 22-11 13z"/><path class=L d="M2181 2397l10-8-12 25-10 8zM2173 2402l8-5-12 25-8 6zM2167 2405l6-3-12 26-6 4z"/><path class=P d="M2215 2359l12-11-13 18-12 13zM2204 2368l11-9-13 20-11 10z"/><path class=O d="M2194 2374l10-6-13 21-10 8zM2186 2379l8-5-13 23-8 5zM2180 2382l6-3-13 23-6 3zM2176 2383l4-1-13 23-3 1z"/><path class=R d="M2217 2350l11-8-13 17-11 9zM2207 2355l10-5-13 18-10 6zM2199 2360l8-5-13 19-8 5zM2193 2362l6-2-13 19-6 3zM2190 2364l3-2-13 20-4 1z"/><path class=T d="M2213 2344l8-4-14 15-8 5zM2207 2347l6-3-14 16-6 2zM2204 2348l3-1-14 15-3 2zM2200 2349l4-1-14 16-4 1z"/><path class=zi d="M2147 1854l22-11-17-13-23 10zM2125 1864l22-10-18-14-22 11zM2103 1874l22-10-18-13-21 10zM2083 1885l20-11-17-13-21 9zM2062 1895l21-10-18-15-20 10z"/><path class=zh d="M2043 1905l19-10-17-15-19 9zM2024 1914l19-9-17-16-19 9zM2006 1924l18-10-17-16-18 9zM1989 1932l17-8-17-17-18 8zM1972 1941l17-9-18-17-16 8z"/><path class=zg d="M1956 1948l16-7-17-18-16 7zM1941 1956l15-8-17-18-15 7zM1927 1962l14-6-17-19-14 6zM1914 1968l13-6-17-19-13 6zM1902 1973l12-5-17-19-12 5zM1892 1978l10-5-17-19-11 5zM1882 1982l10-4-18-19-9 3zM1874 1985l8-3-17-20-8 4zM1868 1987l6-2-17-19-7 2zM1864 1989l4-2-18-19-3 1zM1861 1990l3-1-17-20-3 2zM1855 1992l6-2-17-19-7 2zM1847 1995l8-3-18-19-8 3zM1837 1998l10-3-18-19-9 3zM1826 2002l11-4-17-19-11 4zM1814 2006l12-4-17-19-12 4zM1801 2010l13-4-17-19-13 4zM1787 2014l14-4-17-19-14 4zM1772 2018l15-4-17-19-15 5zM1756 2022l16-4-17-18-16 4z"/><path class=zh d="M1740 2026l16-4-17-18-16 5zM1723 2030l17-4-17-17-18 5zM1704 2035l19-5-18-16-18 5zM1686 2039l18-4-17-16-19 5zM1666 2044l20-5-18-15-19 5z"/><path class=zi d="M1646 2049l20-5-17-15-20 6zM1625 2054l21-5-17-14-21 5zM1604 2060l21-6-17-14-21 7zM1582 2066l22-6-17-13-22 6zM1559 2073l23-7-17-13-23 7zM2164 1867l22-11-17-13-22 11zM2142 1878l22-11-17-13-22 10zM2120 1888l22-10-17-14-22 10zM2099 1899l21-11-17-14-20 11z"/><path class=zh d="M2079 1910l20-11-16-14-21 10zM2060 1921l19-11-17-15-19 10zM2041 1931l19-10-17-16-19 9z"/><path class=zg d="M2023 1941l18-10-17-17-18 10zM2006 1950l17-9-17-17-17 8zM1989 1959l17-9-17-18-17 9zM1973 1967l16-8-17-18-16 7zM1958 1975l15-8-17-19-15 8z"/><path class=zf d="M1944 1982l14-7-17-19-14 6zM1931 1988l13-6-17-20-13 6zM1919 1993l12-5-17-20-12 5zM1908 1998l11-5-17-20-10 5zM1899 2002l9-4-16-20-10 4zM1891 2005l8-3-17-20-8 3zM1885 2008l6-3-17-20-6 2zM1881 2009l4-1-17-21-4 2zM1878 2010l3-1-17-20-3 1zM1872 2013l6-3-17-20-6 2zM1863 2016l9-3-17-21-8 3zM1854 2019l9-3-16-21-10 3zM1843 2022l11-3-17-21-11 4zM1831 2026l12-4-17-20-12 4zM1818 2029l13-3-17-20-13 4zM1804 2033l14-4-17-19-14 4z"/><path class=zg d="M1789 2037l15-4-17-19-15 4zM1773 2040l16-3-17-19-16 4zM1757 2044l16-4-17-18-16 4zM1739 2047l18-3-17-18-17 4zM1721 2051l18-4-16-17-19 5z"/><path class=zh d="M1703 2055l18-4-17-16-18 4zM1683 2059l20-4-17-16-20 5zM1663 2064l20-5-17-15-20 5z"/><path class=zi d="M1642 2068l21-4-17-15-21 5zM1621 2074l21-6-17-14-21 6zM1599 2079l22-5-17-14-22 6zM1576 2085l23-6-17-13-23 7zM2180 1879l23-11-17-12-22 11zM2158 1891l22-12-16-12-22 11zM2137 1902l21-11-16-13-22 10z"/><path class=zh d="M2116 1914l21-12-17-14-21 11zM2096 1925l20-11-17-15-20 11zM2076 1937l20-12-17-15-19 11z"/><path class=zg d="M2057 1948l19-11-16-16-19 10zM2039 1958l18-10-16-17-18 10zM2022 1969l17-11-16-17-17 9z"/><path class=zf d="M2005 1978l17-9-16-19-17 9zM1990 1987l15-9-16-19-16 8zM1975 1995l15-8-17-20-15 8zM1961 2003l14-8-17-20-14 7z"/><path class=ze d="M1948 2009l13-6-17-21-13 6zM1936 2015l12-6-17-21-12 5zM1925 2020l11-5-17-22-11 5zM1915 2024l10-4-17-22-9 4zM1907 2028l8-4-16-22-8 3zM1901 2030l6-2-16-23-6 3zM1898 2031l3-1-16-22-4 1zM1894 2033l4-2-17-22-3 1zM1888 2035l6-2-16-23-6 3zM1880 2038l8-3-16-22-9 3zM1870 2041l10-3-17-22-9 3zM1859 2044l11-3-16-22-11 3zM1847 2047l12-3-16-22-12 4zM1834 2050l13-3-16-21-13 3z"/><path class=zf d="M1820 2053l14-3-16-21-14 4zM1806 2056l14-3-16-20-15 4zM1790 2059l16-3-17-19-16 3zM1773 2062l17-3-17-19-16 4z"/><path class=zg d="M1756 2065l17-3-16-18-18 3zM1738 2068l18-3-17-18-18 4zM1719 2071l19-3-17-17-18 4z"/><path class=zh d="M1700 2074l19-3-16-16-20 4zM1679 2078l21-4-17-15-20 5zM1659 2082l20-4-16-14-21 4z"/><path class=zi d="M1637 2087l22-5-17-14-21 6zM1615 2092l22-5-16-13-22 5zM1593 2098l22-6-16-13-23 6zM2196 1892l23-12-16-12-23 11zM2174 1904l22-12-16-13-22 12z"/><path class=zh d="M2153 1916l21-12-16-13-21 11zM2132 1929l21-13-16-14-21 12z"/><path class=zg d="M2112 1941l20-12-16-15-20 11zM2092 1953l20-12-16-16-20 12zM2073 1965l19-12-16-16-19 11z"/><path class=zf d="M2055 1977l18-12-16-17-18 10zM2038 1988l17-11-16-19-17 11z"/><path class=ze d="M2021 1998l17-10-16-19-17 9zM2006 2008l15-10-16-20-15 9zM1991 2017l15-9-16-21-15 8z"/><path class=zd d="M1977 2025l14-8-16-22-14 8zM1964 2032l13-7-16-22-13 6zM1952 2039l12-7-16-23-12 6zM1941 2044l11-5-16-24-11 5zM1931 2048l10-4-16-24-10 4zM1923 2052l8-4-16-24-8 4zM1917 2054l6-2-16-24-6 2zM1914 2055l3-1-16-24-3 1zM1910 2057l4-2-16-24-4 2zM1904 2059l6-2-16-24-6 2zM1896 2061l8-2-16-24-8 3zM1886 2064l10-3-16-23-10 3zM1875 2067l11-3-16-23-11 3zM1863 2070l12-3-16-23-12 3zM1850 2073l13-3-16-23-13 3zM1836 2075l14-2-16-23-14 3z"/><path class=ze d="M1821 2077l15-2-16-22-14 3zM1806 2080l15-3-15-21-16 3zM1789 2081l17-1-16-21-17 3z"/><path class=zf d="M1772 2083l17-2-16-19-17 3zM1754 2085l18-2-16-18-18 3z"/><path class=zg d="M1735 2087l19-2-16-17-19 3zM1715 2090l20-3-16-16-19 3zM1695 2093l20-3-15-16-21 4z"/><path class=zh d="M1675 2096l20-3-16-15-20 4zM1653 2100l22-4-16-14-22 5z"/><path class=zi d="M1631 2105l22-5-16-13-22 5zM1609 2110l22-5-16-13-22 6zM2211 1905l23-13-15-12-23 12z"/><path class=zh d="M2189 1917l22-12-15-13-22 12zM2168 1930l21-13-15-13-21 12z"/><path class=zg d="M2147 1943l21-13-15-14-21 13zM2127 1956l20-13-15-14-20 12z"/><path class=zf d="M2108 1969l19-13-15-15-20 12zM2089 1983l19-14-16-16-19 12z"/><path class=ze d="M2071 1995l18-12-16-18-18 12zM2053 2008l18-13-16-18-17 11z"/><path class=zd d="M2037 2019l16-11-15-20-17 10zM2021 2030l16-11-16-21-15 10zM2006 2040l15-10-15-22-15 9z"/><path class=zc d="M1992 2049l14-9-15-23-14 8zM1979 2057l13-8-15-24-13 7zM1967 2064l12-7-15-25-12 7zM1956 2069l11-5-15-25-11 5z"/><path class=zb d="M1947 2074l9-5-15-25-10 4zM1939 2078l8-4-16-26-8 4zM1932 2080l7-2-16-26-6 2zM1929 2081l3-1-15-26-3 1zM1926 2083l3-2-15-26-4 2zM1919 2085l7-2-16-26-6 2zM1911 2087l8-2-15-26-8 2zM1902 2090l9-3-15-26-10 3z"/><path class=zc d="M1891 2093l11-3-16-26-11 3zM1879 2095l12-2-16-26-12 3zM1866 2097l13-2-16-25-13 3zM1852 2098l14-1-16-24-14 2z"/><path class=zd d="M1837 2100l15-2-16-23-15 2zM1821 2101l16-1-16-23-15 3zM1805 2101l16 0-15-21-17 1z"/><path class=ze d="M1787 2102l18-1-16-20-17 2zM1769 2103l18-1-15-19-18 2z"/><path class=zf d="M1750 2104l19-1-15-18-19 2zM1731 2105l19-1-15-17-20 3z"/><path class=zg d="M1711 2107l20-2-16-15-20 3zM1690 2110l21-3-16-14-20 3z"/><path class=zh d="M1669 2113l21-3-15-14-22 4zM1647 2117l22-4-16-13-22 5z"/><path class=zi d="M1624 2122l23-5-16-12-22 5z"/><path class=zh d="M2226 1917l23-13-15-12-23 13zM2204 1930l22-13-15-12-22 12zM2183 1944l21-14-15-13-21 13z"/><path class=zg d="M2162 1957l21-13-15-14-21 13z"/><path class=zf d="M2142 1972l20-15-15-14-20 13zM2123 1986l19-14-15-16-19 13z"/><path class=ze d="M2104 2000l19-14-15-17-19 14zM2086 2015l18-15-15-17-18 12z"/><path class=zd d="M2068 2028l18-13-15-20-18 13z"/><path class=zc d="M2052 2041l16-13-15-20-16 11zM2036 2054l16-13-15-22-16 11z"/><path class=zb d="M2021 2065l15-11-15-24-15 10zM2007 2075l14-10-15-25-14 9z"/><path class=za d="M1994 2084l13-9-15-26-13 8zM1982 2091l12-7-15-27-12 7zM1971 2097l11-6-15-27-11 5zM1962 2102l9-5-15-28-9 5zM1954 2106l8-4-15-28-8 4zM1947 2108l7-2-15-28-7 2zM1944 2110l3-2-15-28-3 1zM1941 2111l3-1-15-29-3 2zM1934 2113l7-2-15-28-7 2zM1926 2115l8-2-15-28-8 2zM1917 2118l9-3-15-28-9 3zM1906 2120l11-2-15-28-11 3zM1894 2121l12-1-15-27-12 2zM1881 2123l13-2-15-26-13 2z"/><path class=zb d="M1867 2123l14 0-15-26-14 1zM1852 2123l15 0-15-25-15 2z"/><path class=zc d="M1836 2123l16 0-15-23-16 1zM1820 2122l16 1-15-22-16 0z"/><path class=zd d="M1802 2121l18 1-15-21-18 1z"/><path class=ze d="M1784 2121l18 0-15-19-18 1zM1765 2120l19 1-15-18-19 1z"/><path class=zf d="M1746 2121l19-1-15-16-19 1zM1726 2122l20-1-15-16-20 2z"/><path class=zg d="M1705 2123l21-1-15-15-21 3z"/><path class=zh d="M1684 2126l21-3-15-13-21 3zM1662 2129l22-3-15-13-22 4zM1639 2133l23-4-15-12-23 5zM2241 1928l22-13-14-11-23 13zM2219 1942l22-14-15-11-22 13z"/><path class=zg d="M2197 1957l22-15-15-12-21 14zM2177 1972l20-15-14-13-21 13z"/><path class=zf d="M2156 1987l21-15-15-15-20 15z"/><path class=ze d="M2137 2003l19-16-14-15-19 14z"/><path class=zd d="M2118 2018l19-15-14-17-19 14zM2100 2034l18-16-14-18-18 15z"/><path class=zc d="M2083 2049l17-15-14-19-18 13z"/><path class=zb d="M2066 2064l17-15-15-21-16 13z"/><path class=za d="M2050 2078l16-14-14-23-16 13zM2036 2091l14-13-14-24-15 11z"/><path class=Z d="M2022 2102l14-11-15-26-14 10zM2008 2112l14-10-15-27-13 9z"/><path class=Y d="M1996 2121l12-9-14-28-12 7zM1986 2127l10-6-14-30-11 6zM1976 2133l10-6-15-30-9 5zM1968 2137l8-4-14-31-8 4zM1962 2139l6-2-14-31-7 2zM1958 2141l4-2-15-31-3 2zM1955 2142l3-1-14-31-3 1zM1949 2144l6-2-14-31-7 2zM1941 2146l8-2-15-31-8 2zM1931 2148l10-2-15-31-9 3zM1920 2149l11-1-14-30-11 2zM1908 2150l12-1-14-29-12 1z"/><path class=Z d="M1895 2150l13 0-14-29-13 2zM1881 2149l14 1-14-27-14 0z"/><path class=za d="M1866 2148l15 1-14-26-15 0zM1851 2145l15 3-14-25-16 0z"/><path class=zb d="M1834 2143l17 2-15-22-16-1z"/><path class=zc d="M1817 2141l17 2-14-21-18-1z"/><path class=zd d="M1799 2139l18 2-15-20-18 0zM1780 2137l19 2-15-18-19-1z"/><path class=ze d="M1760 2136l20 1-15-17-19 1z"/><path class=zf d="M1740 2136l20 0-14-15-20 1z"/><path class=zg d="M1719 2137l21-1-14-14-21 1zM1698 2138l21-1-14-14-21 3z"/><path class=zh d="M1676 2141l22-3-14-12-22 3zM1653 2145l23-4-14-12-23 4zM2255 1940l22-14-14-11-22 13z"/><path class=zg d="M2233 1954l22-14-14-12-22 14zM2211 1969l22-15-14-12-22 15z"/><path class=zf d="M2190 1985l21-16-14-12-20 15z"/><path class=ze d="M2170 2002l20-17-13-13-21 15zM2151 2019l19-17-14-15-19 16z"/><path class=zd d="M2132 2036l19-17-14-16-19 15z"/><path class=zc d="M2114 2054l18-18-14-18-18 16z"/><path class=zb d="M2097 2071l17-17-14-20-17 15z"/><path class=za d="M2080 2088l17-17-14-22-17 15z"/><path class=Z d="M2064 2104l16-16-14-24-16 14z"/><path class=Y d="M2049 2118l15-14-14-26-14 13z"/><path class=X d="M2035 2132l14-14-13-27-14 11zM2022 2143l13-11-13-30-14 10z"/><path class=W d="M2010 2152l12-9-14-31-12 9zM2000 2160l10-8-14-31-10 6zM1990 2166l10-6-14-33-10 6zM1982 2170l8-4-14-33-8 4zM1976 2173l6-3-14-33-6 2z"/><path class=V d="M1972 2174l4-1-14-34-4 2zM1969 2175l3-1-14-33-3 1z"/><path class=W d="M1963 2177l6-2-14-33-6 2zM1955 2179l8-2-14-33-8 2zM1945 2181l10-2-14-33-10 2zM1934 2181l11 0-14-33-11 1zM1922 2181l12 0-14-32-12 1z"/><path class=X d="M1909 2179l13 2-14-31-13 0zM1895 2176l14 3-14-29-14-1z"/><path class=Y d="M1880 2173l15 3-14-27-15-1z"/><path class=Z d="M1864 2169l16 4-14-25-15-3z"/><path class=za d="M1848 2165l16 4-13-24-17-2z"/><path class=zb d="M1830 2160l18 5-14-22-17-2z"/><path class=zc d="M1812 2156l18 4-13-19-18-2z"/><path class=zd d="M1794 2153l18 3-13-17-19-2z"/><path class=ze d="M1774 2151l20 2-14-16-20-1zM1754 2150l20 1-14-15-20 0z"/><path class=zf d="M1733 2149l21 1-14-14-21 1z"/><path class=zg d="M1712 2150l21-1-14-12-21 1zM1690 2152l22-2-14-12-22 3z"/><path class=zh d="M1667 2155l23-3-14-11-23 4zM2268 1950l23-14-14-10-22 14z"/><path class=zg d="M2246 1966l22-16-13-10-22 14zM2225 1982l21-16-13-12-22 15z"/><path class=zf d="M2204 1998l21-16-14-13-21 16z"/><path class=ze d="M2184 2016l20-18-14-13-20 17z"/><path class=zd d="M2164 2035l20-19-14-14-19 17z"/><path class=zc d="M2145 2054l19-19-13-16-19 17z"/><path class=zb d="M2127 2073l18-19-13-18-18 18z"/><path class=za d="M2110 2092l17-19-13-19-17 17z"/><path class=Z d="M2093 2111l17-19-13-21-17 17z"/><path class=X d="M2078 2130l15-19-13-23-16 16z"/><path class=W d="M2063 2147l15-17-14-26-15 14z"/><path class=V d="M2049 2162l14-15-14-29-14 14zM2036 2175l13-13-14-30-13 11z"/><path class=U d="M2024 2186l12-11-14-32-12 9zM2013 2195l11-9-14-34-10 8z"/><path class=T d="M2003 2202l10-7-13-35-10 6zM1995 2206l8-4-13-36-8 4zM1989 2209l6-3-13-36-6 3zM1986 2210l3-1-13-36-4 1zM1982 2212l4-2-14-36-3 1zM1976 2213l6-1-13-37-6 2zM1968 2215l8-2-13-36-8 2zM1958 2216l10-1-13-36-10 2z"/><path class=U d="M1947 2215l11 1-13-35-11 0zM1935 2213l12 2-13-34-12 0z"/><path class=V d="M1922 2210l13 3-13-32-13-2zM1908 2205l14 5-13-31-14-3z"/><path class=W d="M1893 2199l15 6-13-29-15-3z"/><path class=X d="M1878 2193l15 6-13-26-16-4z"/><path class=Z d="M1861 2186l17 7-14-24-16-4z"/><path class=za d="M1844 2180l17 6-13-21-18-5z"/><path class=zb d="M1826 2174l18 6-14-20-18-4z"/><path class=zc d="M1807 2169l19 5-14-18-18-3z"/><path class=zd d="M1787 2165l20 4-13-16-20-2z"/><path class=ze d="M1767 2163l20 2-13-14-20-1z"/><path class=zf d="M1747 2162l20 1-13-13-21-1z"/><path class=zg d="M1725 2162l22 0-14-13-21 1zM1703 2163l22-1-13-12-22 2z"/><path class=zh d="M1681 2166l22-3-13-11-23 3zM2281 1961l22-15-12-10-23 14z"/><path class=zg d="M2259 1976l22-15-13-11-22 16z"/><path class=zf d="M2237 1993l22-17-13-10-21 16z"/><path class=ze d="M2216 2011l21-18-12-11-21 16z"/><path class=zd d="M2196 2030l20-19-12-13-20 18z"/><path class=zc d="M2177 2050l19-20-12-14-20 19z"/><path class=zb d="M2158 2070l19-20-13-15-19 19z"/><path class=za d="M2140 2092l18-22-13-16-18 19z"/><path class=Z d="M2123 2113l17-21-13-19-17 19z"/><path class=X d="M2106 2135l17-22-13-21-17 19z"/><path class=W d="M2090 2156l16-21-13-24-15 19z"/><path class=V d="M2075 2176l15-20-12-26-15 17z"/><path class=T d="M2061 2194l14-18-12-29-14 15z"/><path class=S d="M2048 2210l13-16-12-32-13 13zM2036 2223l12-13-12-35-12 11z"/><path class=R d="M2026 2233l10-10-12-37-11 9zM2016 2240l10-7-13-38-10 7z"/><path class=Q d="M2008 2245l8-5-13-38-8 4zM2002 2248l6-3-13-39-6 3zM1998 2250l4-2-13-39-3 1zM1995 2251l3-1-12-40-4 2zM1989 2253l6-2-13-39-6 1zM1981 2254l8-1-13-40-8 2z"/><path class=R d="M1971 2253l10 1-13-39-10 1zM1960 2251l11 2-13-37-11-1z"/><path class=S d="M1948 2247l12 4-13-36-12-2zM1935 2241l13 6-13-34-13-3z"/><path class=T d="M1921 2234l14 7-13-31-14-5z"/><path class=V d="M1906 2225l15 9-13-29-15-6z"/><path class=W d="M1890 2216l16 9-13-26-15-6z"/><path class=X d="M1874 2207l16 9-12-23-17-7z"/><path class=Z d="M1857 2198l17 9-13-21-17-6z"/><path class=za d="M1838 2191l19 7-13-18-18-6z"/><path class=zb d="M1820 2184l18 7-12-17-19-5z"/><path class=zc d="M1800 2179l20 5-13-15-20-4z"/><path class=zd d="M1780 2175l20 4-13-14-20-2z"/><path class=ze d="M1759 2173l21 2-13-12-20-1z"/><path class=zf d="M1738 2172l21 1-12-11-22 0z"/><path class=zg d="M1716 2173l22-1-13-10-22 1z"/><path class=zh d="M1693 2175l23-2-13-10-22 3z"/><path class=zg d="M2293 1970l22-15-12-9-22 15zM2271 1986l22-16-12-9-22 15z"/><path class=zf d="M2249 2004l22-18-12-10-22 17z"/><path class=ze d="M2229 2023l20-19-12-11-21 18z"/><path class=zd d="M2208 2042l21-19-13-12-20 19z"/><path class=zc d="M2189 2064l19-22-12-12-19 20z"/><path class=za d="M2170 2086l19-22-12-14-19 20z"/><path class=Z d="M2152 2109l18-23-12-16-18 22z"/><path class=X d="M2135 2133l17-24-12-17-17 21z"/><path class=W d="M2118 2158l17-25-12-20-17 22z"/><path class=U d="M2102 2182l16-24-12-23-16 21z"/><path class=T d="M2088 2205l14-23-12-26-15 20z"/><path class=R d="M2074 2226l14-21-13-29-14 18z"/><path class=Q d="M2060 2245l14-19-13-32-13 16z"/><path class=P d="M2048 2260l12-15-12-35-12 13z"/><path class=O d="M2038 2273l10-13-12-37-10 10z"/><path class=N d="M2028 2281l10-8-12-40-10 7zM2020 2287l8-6-12-41-8 5zM2014 2291l6-4-12-42-6 3zM2010 2292l4-1-12-43-4 2zM2007 2293l3-1-12-42-3 1zM2001 2294l6-1-12-42-6 2zM1993 2295l8-1-12-41-8 1zM1983 2293l10 2-12-41-10-1z"/><path class=O d="M1972 2289l11 4-12-40-11-2z"/><path class=P d="M1960 2283l12 6-12-38-12-4z"/><path class=Q d="M1947 2274l13 9-12-36-13-6z"/><path class=R d="M1933 2263l14 11-12-33-14-7z"/><path class=T d="M1918 2251l15 12-12-29-15-9z"/><path class=U d="M1903 2239l15 12-12-26-16-9z"/><path class=W d="M1886 2227l17 12-13-23-16-9z"/><path class=X d="M1869 2216l17 11-12-20-17-9z"/><path class=Z d="M1851 2206l18 10-12-18-19-7z"/><path class=za d="M1832 2198l19 8-13-15-18-7z"/><path class=zc d="M1812 2192l20 6-12-14-20-5z"/><path class=zd d="M1792 2187l20 5-12-13-20-4z"/><path class=ze d="M1771 2184l21 3-12-12-21-2z"/><path class=zf d="M1750 2182l21 2-12-11-21-1z"/><path class=zg d="M1728 2183l22-1-12-10-22 1zM1705 2184l23-1-12-10-23 2zM2304 1979l23-16-12-8-22 15zM2282 1996l22-17-11-9-22 16z"/><path class=zf d="M2261 2014l21-18-11-10-22 18z"/><path class=ze d="M2240 2033l21-19-12-10-20 19z"/><path class=zd d="M2220 2054l20-21-11-10-21 19z"/><path class=zb d="M2200 2077l20-23-12-12-19 22z"/><path class=za d="M2182 2100l18-23-11-13-19 22z"/><path class=Y d="M2164 2126l18-26-12-14-18 23z"/><path class=W d="M2146 2152l18-26-12-17-17 24z"/><path class=V d="M2130 2179l16-27-11-19-17 25z"/><path class=T d="M2114 2207l16-28-12-21-16 24z"/><path class=R d="M2099 2233l15-26-12-25-14 23z"/><path class=P d="M2085 2258l14-25-11-28-14 21z"/><path class=N d="M2072 2281l13-23-11-32-14 19z"/><path class=M d="M2060 2299l12-18-12-36-12 15z"/><path class=L d="M2049 2314l11-15-12-39-10 13z"/><path class=K d="M2040 2325l9-11-11-41-10 8zM2031 2332l9-7-12-44-8 6zM2025 2335l6-3-11-45-6 4z"/><path class=P d="M1945 2291l14 15-12-32-14-11z"/><path class=R d="M1930 2276l15 15-12-28-15-12z"/><path class=T d="M1914 2260l16 16-12-25-15-12z"/><path class=V d="M1897 2246l17 14-11-21-17-12z"/><path class=W d="M1880 2232l17 14-11-19-17-11z"/><path class=Y d="M1862 2221l18 11-11-16-18-10z"/><path class=za d="M1843 2211l19 10-11-15-19-8z"/><path class=zb d="M1824 2203l19 8-11-13-20-6z"/><path class=zd d="M1804 2198l20 5-12-11-20-5z"/><path class=ze d="M1783 2194l21 4-12-11-21-3z"/><path class=zf d="M1761 2192l22 2-12-10-21-2z"/><path class=zg d="M1739 2192l22 0-11-10-22 1zM1717 2193l22-1-11-9-23 1zM2315 1987l23-16-11-8-23 16z"/><path class=zf d="M2293 2004l22-17-11-8-22 17zM2272 2023l21-19-11-8-21 18z"/><path class=zd d="M2251 2043l21-20-11-9-21 19z"/><path class=zc d="M2231 2065l20-22-11-10-20 21z"/><path class=zb d="M2211 2088l20-23-11-11-20 23z"/><path class=Z d="M2192 2114l19-26-11-11-18 23z"/><path class=X d="M2174 2141l18-27-10-14-18 26z"/><path class=V d="M2157 2169l17-28-10-15-18 26z"/><path class=T d="M2140 2199l17-30-11-17-16 27z"/><path class=R d="M2125 2229l15-30-10-20-16 28z"/><path class=P d="M2110 2260l15-31-11-22-15 26z"/><path class=N d="M2096 2289l14-29-11-27-14 25z"/><path class=L d="M2083 2316l13-27-11-31-13 23z"/><path class=J d="M2071 2339l12-23-11-35-12 18z"/><path class=R d="M1925 2280l15 19-10-23-16-16z"/><path class=T d="M1908 2263l17 17-11-20-17-14z"/><path class=V d="M1891 2247l17 16-11-17-17-14z"/><path class=X d="M1873 2234l18 13-11-15-18-11z"/><path class=Z d="M1854 2223l19 11-11-13-19-10z"/><path class=zb d="M1834 2214l20 9-11-12-19-8z"/><path class=zc d="M1814 2207l20 7-10-11-20-5z"/><path class=zd d="M1794 2203l20 4-10-9-21-4z"/><path class=zf d="M1772 2200l22 3-11-9-22-2zM1750 2200l22 0-11-8-22 0z"/><path class=zg d="M1728 2201l22-1-11-8-22 1zM2325 1994l23-16-10-7-23 16z"/><path class=zf d="M2303 2012l22-18-10-7-22 17z"/><path class=ze d="M2282 2031l21-19-10-8-21 19z"/><path class=zd d="M2261 2052l21-21-10-8-21 20z"/><path class=zc d="M2241 2074l20-22-10-9-20 22z"/><path class=za d="M2221 2098l20-24-10-9-20 23z"/><path class=Z d="M2202 2125l19-27-10-10-19 26z"/><path class=X d="M2184 2153l18-28-10-11-18 27z"/><path class=V d="M2167 2184l17-31-10-12-17 28z"/><path class=S d="M2150 2216l17-32-10-15-17 30z"/><path class=Q d="M2135 2250l15-34-10-17-15 30z"/><path class=N d="M2120 2284l15-34-10-21-15 31z"/><path class=L d="M2106 2317l14-33-10-24-14 29z"/><path class=I d="M2093 2349l13-32-10-28-13 27z"/><path class=V d="M1901 2260l17 18-10-15-17-16z"/><path class=X d="M1883 2245l18 15-10-13-18-13z"/><path class=Z d="M1864 2233l19 12-10-11-19-11z"/><path class=za d="M1844 2223l20 10-10-10-20-9z"/><path class=zc d="M1824 2216l20 7-10-9-20-7z"/><path class=zd d="M1804 2211l20 5-10-9-20-4z"/><path class=ze d="M1782 2208l22 3-10-8-22-3z"/><path class=zf d="M1760 2207l22 1-10-8-22 0z"/><path class=zg d="M1738 2208l22-1-10-7-22 1zM2334 2001l23-16-9-7-23 16z"/><path class=zf d="M2312 2019l22-18-9-7-22 18z"/><path class=ze d="M2291 2038l21-19-9-7-21 19z"/><path class=zd d="M2270 2059l21-21-9-7-21 21z"/><path class=zc d="M2250 2082l20-23-9-7-20 22z"/><path class=za d="M2230 2107l20-25-9-8-20 24z"/><path class=Y d="M2212 2135l18-28-9-9-19 27z"/><path class=W d="M2193 2164l19-29-10-10-18 28z"/><path class=U d="M2176 2196l17-32-9-11-17 31z"/><path class=S d="M2160 2231l16-35-9-12-17 32z"/><path class=P d="M2144 2267l16-36-10-15-15 34z"/><path class=M d="M2129 2304l15-37-9-17-15 34z"/><path class=J d="M2115 2342l14-38-9-20-14 33z"/><path class=W d="M1892 2255l18 16-9-11-18-15z"/><path class=Y d="M1873 2242l19 13-9-10-19-12z"/><path class=za d="M1854 2231l19 11-9-9-20-10z"/><path class=zc d="M1834 2223l20 8-10-8-20-7z"/><path class=zd d="M1813 2218l21 5-10-7-20-5z"/><path class=ze d="M1791 2215l22 3-9-7-22-3z"/><path class=zf d="M1769 2214l22 1-9-7-22-1z"/><path class=zg d="M1747 2214l22 0-9-7-22 1zM2342 2007l23-17-8-5-23 16z"/><path class=zf d="M2320 2025l22-18-8-6-22 18z"/><path class=ze d="M2299 2044l21-19-8-6-21 19z"/><path class=zd d="M2278 2066l21-22-8-6-21 21z"/><path class=zc d="M2258 2089l20-23-8-7-20 23z"/><path class=za d="M2239 2115l19-26-8-7-20 25z"/><path class=Y d="M2220 2142l19-27-9-8-18 28z"/><path class=W d="M2202 2173l18-31-8-7-19 29z"/><path class=U d="M2184 2206l18-33-9-9-17 32z"/><path class=R d="M2168 2242l16-36-8-10-16 35z"/><path class=O d="M2152 2280l16-38-8-11-16 36z"/><path class=L d="M2137 2320l15-40-8-13-15 37z"/><path class=za d="M1862 2238l19 11-8-7-19-11z"/><path class=zc d="M1842 2230l20 8-8-7-20-8z"/><path class=zd d="M1821 2224l21 6-8-7-21-5z"/><path class=ze d="M1800 2221l21 3-8-6-22-3z"/><path class=zf d="M1778 2219l22 2-9-6-22-1z"/><path class=zg d="M1755 2220l23-1-9-5-22 0zM2350 2012l22-17-7-5-23 17z"/><path class=zf d="M2328 2030l22-18-8-5-22 18z"/><path class=ze d="M2306 2050l22-20-8-5-21 19z"/><path class=zd d="M2286 2071l20-21-7-6-21 22z"/><path class=zb d="M2265 2095l21-24-8-5-20 23z"/><path class=za d="M2246 2120l19-25-7-6-19 26z"/><path class=Y d="M2227 2149l19-29-7-5-19 27z"/><path class=W d="M2209 2180l18-31-7-7-18 31z"/><path class=T d="M2192 2214l17-34-7-7-18 33z"/><path class=R d="M2175 2250l17-36-8-8-16 36z"/><path class=N d="M2159 2290l16-40-7-8-16 38z"/><path class=K d="M2145 2332l14-42-7-10-15 40z"/><path class=y d="M2017 2457l12 35-7-22-12-30z"/><path class=D d="M2004 2423l13 34-7-17-13-31z"/><path class=za d="M1869 2244l20 11-8-6-19-11z"/><path class=zb d="M1849 2235l20 9-7-6-20-8z"/><path class=zd d="M1828 2229l21 6-7-5-21-6z"/><path class=ze d="M1807 2226l21 3-7-5-21-3z"/><path class=zf d="M1785 2224l22 2-7-5-22-2z"/><path class=zg d="M1762 2225l23-1-7-5-23 1zM2356 2016l23-17-7-4-22 17z"/><path class=zf d="M2334 2034l22-18-6-4-22 18z"/><path class=ze d="M2313 2054l21-20-6-4-22 20z"/><path class=zd d="M2292 2075l21-21-7-4-20 21z"/><path class=zb d="M2272 2099l20-24-6-4-21 24z"/><path class=za d="M2252 2125l20-26-7-4-19 25z"/><path class=Y d="M2233 2154l19-29-6-5-19 29z"/><path class=W d="M2215 2185l18-31-6-5-18 31z"/><path class=T d="M2198 2219l17-34-6-5-17 34z"/><path class=Q d="M2181 2257l17-38-6-5-17 36z"/><path class=N d="M2166 2297l15-40-6-7-16 40z"/><path class=t d="M2035 2507l11 37-6-18-11-34z"/><path class=x d="M2023 2469l12 38-6-15-12-35z"/><path class=C d="M2010 2432l13 37-6-12-13-34z"/><path class=G d="M1996 2397l14 35-6-9-14-33z"/><path class=zb d="M1855 2240l21 8-7-4-20-9z"/><path class=zd d="M1835 2234l20 6-6-5-21-6z"/><path class=ze d="M1813 2230l22 4-7-5-21-3z"/><path class=zf d="M1791 2229l22 1-6-4-22-2z"/><path class=zg d="M1769 2229l22 0-6-5-23 1zM2361 2019l22-17-4-3-23 17z"/><path class=zf d="M2339 2037l22-18-5-3-22 18z"/><path class=ze d="M2317 2057l22-20-5-3-21 20z"/><path class=zd d="M2297 2079l20-22-4-3-21 21z"/><path class=zb d="M2276 2102l21-23-5-4-20 24z"/><path class=za d="M2257 2128l19-26-4-3-20 26z"/><path class=Y d="M2238 2157l19-29-5-3-19 29z"/><path class=W d="M2220 2189l18-32-5-3-18 31z"/><path class=T d="M2203 2223l17-34-5-4-17 34z"/><path class=Q d="M2186 2260l17-37-5-4-17 38z"/><path class=N d="M2170 2301l16-41-5-3-15 40z"/><path class=l d="M2061 2592l8 35-5-20-8-28z"/><path class=p d="M2051 2554l10 38-5-13-10-35z"/><path class=t d="M2040 2514l11 40-5-10-11-37z"/><path class=x d="M2028 2475l12 39-5-7-12-38z"/><path class=C d="M2015 2437l13 38-5-6-13-37z"/><path class=G d="M2001 2402l14 35-5-5-14-35z"/><path class=zd d="M1839 2237l21 6-5-3-20-6z"/><path class=ze d="M1818 2233l21 4-4-3-22-4z"/><path class=zf d="M1796 2232l22 1-5-3-22-1z"/><path class=zg d="M1773 2232l23 0-5-3-22 0zM2363 2021l23-17-3-2-22 17z"/><path class=zf d="M2341 2039l22-18-2-2-22 18z"/><path class=ze d="M2320 2059l21-20-2-2-22 20z"/><path class=zd d="M2299 2080l21-21-3-2-20 22z"/><path class=zb d="M2279 2104l20-24-2-1-21 23z"/><path class=za d="M2260 2130l19-26-3-2-19 26z"/><path class=Y d="M2241 2159l19-29-3-2-19 29z"/><path class=V d="M2223 2190l18-31-3-2-18 32z"/><path class=T d="M2205 2225l18-35-3-1-17 34z"/><path class=Q d="M2189 2262l16-37-2-2-17 37z"/><path class=N d="M2173 2303l16-41-3-2-16 41z"/><path class=h d="M2071 2632l7 30-3-9-6-26z"/><path class=k d="M2063 2595l8 37-2-5-8-35z"/><path class=o d="M2054 2556l9 39-2-3-10-38z"/><path class=s d="M2043 2516l11 40-3-2-11-40z"/><path class=x d="M2031 2477l12 39-3-2-12-39z"/><path class=C d="M2018 2439l13 38-3-2-13-38z"/><path class=G d="M2004 2404l14 35-3-2-14-35z"/><path class=ze d="M1821 2235l21 4-3-2-21-4z"/><path class=zf d="M1799 2233l22 2-3-2-22-1z"/><path class=zg d="M1776 2234l23-1-3-1-23 0zM2366 2022l23-16-3-2-23 17z"/><path class=zf d="M2344 2041l22-19-3-1-22 18z"/><path class=ze d="M2323 2060l21-19-3-2-21 20z"/><path class=zd d="M2302 2082l21-22-3-1-21 21z"/><path class=zb d="M2282 2106l20-24-3-2-20 24z"/><path class=za d="M2262 2132l20-26-3-2-19 26z"/><path class=Y d="M2243 2160l19-28-2-2-19 29z"/><path class=V d="M2225 2192l18-32-2-1-18 31z"/><path class=T d="M2208 2226l17-34-2-2-18 35z"/><path class=Q d="M2191 2264l17-38-3-1-16 37z"/><path class=N d="M2176 2304l15-40-2-2-16 41z"/><path class=f d="M2080 2656l4 6-3 17-3-17z"/><path class=h d="M2074 2630l6 26-2 6-7-30z"/><path class=k d="M2066 2596l8 34-3 2-8-37z"/><path class=o d="M2056 2557l10 39-3-1-9-39z"/><path class=s d="M2045 2517l11 40-2-1-11-40z"/><path class=x d="M2034 2478l11 39-2-1-12-39z"/><path class=C d="M2020 2440l14 38-3-1-13-38z"/><path class=G d="M2006 2405l14 35-2-1-14-35z"/><path class=zb d="M1865 2246l21 9-3-2-20-9z"/><path class=zd d="M1845 2240l20 6-2-2-21-5z"/><path class=ze d="M1823 2237l22 3-3-1-21-4z"/><path class=zg d="M1779 2235l22 0-2-2-23 1zM2371 2025l22-16-4-3-23 16z"/><path class=zf d="M2349 2044l22-19-5-3-22 19z"/><path class=ze d="M2327 2063l22-19-5-3-21 19z"/><path class=zd d="M2307 2085l20-22-4-3-21 22z"/><path class=zb d="M2286 2108l21-23-5-3-20 24z"/><path class=za d="M2267 2135l19-27-4-2-20 26z"/><path class=Y d="M2248 2163l19-28-5-3-19 28z"/><path class=W d="M2230 2194l18-31-5-3-18 32z"/><path class=T d="M2213 2229l17-35-5-2-17 34z"/><path class=Q d="M2196 2266l17-37-5-3-17 38z"/><path class=N d="M2180 2306l16-40-5-2-15 40z"/><path class=i d="M2092 2629l6-20-5 14-6 30z"/><path class=h d="M2088 2633l4-4-5 24-3 9zM2085 2631l3 2-4 29-4-6z"/><path class=i d="M2079 2617l6 14-5 25-6-26z"/><path class=l d="M2071 2589l8 28-5 13-8-34z"/><path class=p d="M2061 2554l10 35-5 7-10-39z"/><path class=t d="M2050 2516l11 38-5 3-11-40z"/><path class=x d="M2038 2478l12 38-5 1-11-39z"/><path class=C d="M2025 2441l13 37-4 0-14-38z"/><path class=G d="M2011 2407l14 34-5-1-14-35z"/><path class=zd d="M1849 2243l21 6-5-3-20-6z"/><path class=ze d="M1828 2240l21 3-4-3-22-3z"/><path class=zf d="M1806 2238l22 2-5-3-22-2z"/><path class=zg d="M1783 2238l23 0-5-3-22 0zM2377 2029l23-16-7-4-22 16z"/><path class=zf d="M2355 2047l22-18-6-4-22 19z"/><path class=ze d="M2334 2067l21-20-6-3-22 19z"/><path class=zd d="M2313 2088l21-21-7-4-20 22z"/><path class=zb d="M2293 2112l20-24-6-3-21 23z"/><path class=za d="M2273 2138l20-26-7-4-19 27z"/><path class=Y d="M2254 2166l19-28-6-3-19 28z"/><path class=W d="M2236 2197l18-31-6-3-18 31z"/><path class=T d="M2219 2231l17-34-6-3-17 35z"/><path class=Q d="M2202 2268l17-37-6-2-17 37z"/><path class=N d="M2187 2307l15-39-6-2-16 40z"/><path class=l d="M2098 2595l6-13-6 27-6 20z"/><path class=k d="M2095 2597l3-2-6 34-4 4zM2091 2597l4 0-7 36-3-2z"/><path class=l d="M2085 2590l6 7-6 34-6-14z"/><path class=n d="M2077 2571l8 19-6 27-8-28z"/><path class=q d="M2067 2543l10 28-6 18-10-35z"/><path class=t d="M2056 2510l11 33-6 11-11-38z"/><path class=x d="M2044 2475l12 35-6 6-12-38z"/><path class=C d="M2031 2440l13 35-6 3-13-37z"/><path class=G d="M2017 2407l14 33-6 1-14-34z"/><path class=zd d="M1856 2247l20 6-6-4-21-6z"/><path class=ze d="M1834 2243l22 4-7-4-21-3z"/><path class=zf d="M1812 2242l22 1-6-3-22-2z"/><path class=zg d="M1790 2242l22 0-6-4-23 0zM2384 2034l23-17-7-4-23 16z"/><path class=zf d="M2362 2052l22-18-7-5-22 18z"/><path class=ze d="M2341 2071l21-19-7-5-21 20z"/><path class=zd d="M2320 2092l21-21-7-4-21 21z"/><path class=zb d="M2300 2116l20-24-7-4-20 24z"/><path class=za d="M2281 2141l19-25-7-4-20 26z"/><path class=Y d="M2262 2169l19-28-8-3-19 28z"/><path class=W d="M2244 2200l18-31-8-3-18 31z"/><path class=T d="M2226 2233l18-33-8-3-17 34z"/><path class=R d="M2210 2269l16-36-7-2-17 37z"/><path class=N d="M2194 2307l16-38-8-1-15 39z"/><path class=q d="M2112 2549l8-18-8 27-8 24z"/><path class=p d="M2105 2557l7-8-8 33-6 13z"/><path class=o d="M2102 2559l3-2-7 38-3 2zM2099 2560l3-1-7 38-4 0z"/><path class=p d="M2092 2556l7 4-8 37-6-7z"/><path class=q d="M2084 2544l8 12-7 34-8-19z"/><path class=s d="M2075 2524l9 20-7 27-10-28z"/><path class=v d="M2064 2497l11 27-8 19-11-33z"/><path class=y d="M2052 2467l12 30-8 13-12-35z"/><path class=D d="M2039 2435l13 32-8 8-13-35z"/><path class=H d="M2025 2405l14 30-8 5-14-33z"/><path class=zd d="M1863 2251l21 6-8-4-20-6z"/><path class=ze d="M1842 2248l21 3-7-4-22-4z"/><path class=zf d="M1820 2246l22 2-8-5-22-1z"/><path class=zg d="M1797 2247l23-1-8-4-22 0zM2393 2038l22-16-8-5-23 17z"/><path class=zf d="M2371 2056l22-18-9-4-22 18z"/><path class=ze d="M2349 2076l22-20-9-4-21 19z"/><path class=zd d="M2328 2097l21-21-8-5-21 21z"/><path class=zc d="M2308 2120l20-23-8-5-20 24z"/><path class=za d="M2289 2145l19-25-8-4-19 25z"/><path class=Y d="M2270 2172l19-27-8-4-19 28z"/><path class=W d="M2252 2202l18-30-8-3-18 31z"/><path class=U d="M2235 2234l17-32-8-2-18 33z"/><path class=R d="M2218 2268l17-34-9-1-16 36z"/><path class=O d="M2202 2304l16-36-8 1-16 38z"/><path class=v d="M2128 2499l10-21-9 25-9 28z"/><path class=t d="M2120 2512l8-13-8 32-8 18zM2114 2519l6-7-8 37-7 8z"/><path class=s d="M2110 2520l4-1-9 38-3 2zM2107 2521l3-1-8 39-3 1z"/><path class=t d="M2101 2519l6 2-8 39-7-4zM2093 2512l8 7-9 37-8-12z"/><path class=v d="M2083 2498l10 14-9 32-9-20z"/><path class=x d="M2072 2478l11 20-8 26-11-27z"/><path class=B d="M2060 2453l12 25-8 19-12-30z"/><path class=E d="M2047 2427l13 26-8 14-13-32z"/><path class=I d="M2033 2399l14 28-8 8-14-30z"/><path class=zd d="M1871 2255l21 6-8-4-21-6z"/><path class=ze d="M1850 2252l21 3-8-4-21-3z"/><path class=zf d="M1828 2251l22 1-8-4-22-2z"/><path class=zg d="M1805 2252l23-1-8-5-23 1zM2402 2044l22-17-9-5-22 16z"/><path class=zf d="M2380 2061l22-17-9-6-22 18z"/><path class=ze d="M2358 2080l22-19-9-5-22 20z"/><path class=zd d="M2338 2101l20-21-9-4-21 21z"/><path class=zc d="M2318 2123l20-22-10-4-20 23z"/><path class=za d="M2298 2148l20-25-10-3-19 25z"/><path class=Y d="M2279 2174l19-26-9-3-19 27z"/><path class=W d="M2261 2203l18-29-9-2-18 30z"/><path class=U d="M2244 2233l17-30-9-1-17 32z"/><path class=S d="M2227 2265l17-32-9 1-17 34z"/><path class=P d="M2212 2299l15-34-9 3-16 36z"/><path class=B d="M2147 2449l11-23-10 23-10 29z"/><path class=y d="M2137 2465l10-16-9 29-10 21z"/><path class=x d="M2129 2475l8-10-9 34-8 13zM2123 2481l6-6-9 37-6 7zM2119 2482l4-1-9 38-4 1zM2116 2483l3-1-9 38-3 1zM2110 2483l6 0-9 38-6-2zM2102 2479l8 4-9 36-8-7z"/><path class=y d="M2092 2469l10 10-9 33-10-14z"/><path class=B d="M2081 2455l11 14-9 29-11-20z"/><path class=E d="M2069 2436l12 19-9 23-12-25z"/><path class=G d="M2056 2414l13 22-9 17-13-26z"/><path class=J d="M2042 2391l14 23-9 13-14-28z"/><path class=zc d="M1901 2265l20 7-9-3-20-8z"/><path class=zd d="M1880 2260l21 5-9-4-21-6z"/><path class=ze d="M1859 2257l21 3-9-5-21-3z"/><path class=zf d="M1837 2256l22 1-9-5-22-1z"/><path class=zg d="M1814 2257l23-1-9-5-23 1zM2412 2049l22-16-10-6-22 17z"/><path class=zf d="M2390 2066l22-17-10-5-22 17z"/><path class=ze d="M2368 2085l22-19-10-5-22 19z"/><path class=zd d="M2348 2105l20-20-10-5-20 21z"/><path class=zc d="M2328 2127l20-22-10-4-20 22z"/><path class=za d="M2308 2150l20-23-10-4-20 25z"/><path class=Z d="M2289 2175l19-25-10-2-19 26z"/><path class=X d="M2271 2202l18-27-10-1-18 29z"/><path class=V d="M2254 2231l17-29-10 1-17 30z"/><path class=S d="M2237 2261l17-30-10 2-17 32z"/><path class=Q d="M2222 2291l15-30-10 4-15 34z"/><path class=G d="M2168 2401l12-23-10 20-12 28z"/><path class=E d="M2157 2419l11-18-10 25-11 23z"/><path class=D d="M2147 2432l10-13-10 30-10 16z"/><path class=C d="M2139 2440l8-8-10 33-8 10zM2133 2445l6-5-10 35-6 6zM2129 2446l4-1-10 36-4 1zM2126 2447l3-1-10 36-3 1zM2120 2447l6 0-10 36-6 0zM2112 2445l8 2-10 36-8-4z"/><path class=D d="M2102 2439l10 6-10 34-10-10z"/><path class=E d="M2091 2429l11 10-10 30-11-14z"/><path class=G d="M2079 2415l12 14-10 26-12-19z"/><path class=I d="M2066 2398l13 17-10 21-13-22z"/><path class=L d="M2052 2380l14 18-10 16-14-23z"/><path class=zd d="M1890 2265l21 4-10-4-21-5z"/><path class=ze d="M1869 2262l21 3-10-5-21-3z"/><path class=zf d="M1847 2262l22 0-10-5-22-1z"/><path class=zg d="M1824 2263l23-1-10-6-23 1zM2423 2055l22-16-11-6-22 16z"/><path class=zf d="M2401 2071l22-16-11-6-22 17zM2379 2090l22-19-11-5-22 19z"/><path class=zd d="M2358 2109l21-19-11-5-20 20z"/><path class=zc d="M2338 2130l20-21-10-4-20 22z"/><path class=zb d="M2319 2152l19-22-10-3-20 23z"/><path class=Z d="M2300 2176l19-24-11-2-19 25z"/><path class=X d="M2282 2201l18-25-11-1-18 27z"/><path class=V d="M2265 2228l17-27-11 1-17 29z"/><path class=T d="M2248 2255l17-27-11 3-17 30z"/><path class=R d="M2232 2282l16-27-11 6-15 30z"/><path class=J d="M2178 2375l12-19-10 22-12 23z"/><path class=I d="M2167 2390l11-15-10 26-11 18z"/><path class=H d="M2158 2401l9-11-10 29-10 13z"/><path class=G d="M2150 2407l8-6-11 31-8 8zM2144 2411l6-4-11 33-6 5zM2140 2413l4-2-11 34-4 1zM2137 2414l3-1-11 33-3 1zM2131 2415l6-1-11 33-6 0zM2122 2414l9 1-11 32-8-2z"/><path class=H d="M2113 2411l9 3-10 31-10-6z"/><path class=I d="M2102 2404l11 7-11 28-11-10z"/><path class=J d="M2090 2394l12 10-11 25-12-14z"/><path class=L d="M2077 2381l13 13-11 21-13-17z"/><path class=N d="M2063 2367l14 14-11 17-14-18z"/><path class=zd d="M1901 2269l21 4-11-4-21-4z"/><path class=zf d="M1880 2268l21 1-11-4-21-3zM1858 2267l22 1-11-6-22 0z"/><path class=zg d="M1835 2269l23-2-11-5-23 1zM2434 2060l23-15-12-6-22 16zM2412 2077l22-17-11-5-22 16z"/><path class=zf d="M2391 2094l21-17-11-6-22 19z"/><path class=ze d="M2370 2113l21-19-12-4-21 19z"/><path class=zd d="M2350 2133l20-20-12-4-20 21z"/><path class=zb d="M2330 2154l20-21-12-3-19 22z"/><path class=za d="M2311 2176l19-22-11-2-19 24z"/><path class=Y d="M2293 2200l18-24-11 0-18 25z"/><path class=W d="M2276 2224l17-24-11 1-17 27z"/><path class=V d="M2259 2248l17-24-11 4-17 27z"/><path class=T d="M2244 2272l15-24-11 7-16 27z"/><path class=M d="M2190 2351l12-16-12 21-12 19z"/><path class=L d="M2179 2363l11-12-12 24-11 15z"/><path class=K d="M2169 2372l10-9-12 27-9 11zM2161 2378l8-6-11 29-8 6zM2155 2381l6-3-11 29-6 4z"/><path class=J d="M2152 2382l3-1-11 30-4 2zM2148 2383l4-1-12 31-3 1z"/><path class=K d="M2142 2385l6-2-11 31-6 1zM2134 2385l8 0-11 30-9-1zM2124 2383l10 2-12 29-9-3z"/><path class=L d="M2114 2379l10 4-11 28-11-7z"/><path class=M d="M2102 2373l12 6-12 25-12-10z"/><path class=N d="M2088 2364l14 9-12 21-13-13z"/><path class=zd d="M1933 2277l21 5-12-3-20-6z"/><path class=ze d="M1913 2274l20 3-11-4-21-4z"/><path class=zf d="M1891 2273l22 1-12-5-21-1z"/><path class=zg d="M1869 2273l22 0-11-5-22-1zM1847 2275l22-2-11-6-23 2zM2446 2066l23-15-12-6-23 15zM2424 2082l22-16-12-6-22 17z"/><path class=zf d="M2403 2099l21-17-12-5-21 17z"/><path class=ze d="M2382 2117l21-18-12-5-21 19z"/><path class=zd d="M2362 2136l20-19-12-4-20 20z"/><path class=zc d="M2342 2155l20-19-12-3-20 21z"/><path class=za d="M2324 2176l18-21-12-1-19 22z"/><path class=Z d="M2305 2197l19-21-13 0-18 24z"/><path class=X d="M2288 2219l17-22-12 3-17 24z"/><path class=W d="M2272 2241l16-22-12 5-17 24z"/><path class=U d="M2256 2262l16-21-13 7-15 24z"/><path class=N d="M2181 2346l10-7-12 24-10 9zM2173 2351l8-5-12 26-8 6zM2167 2354l6-3-12 27-6 3zM2164 2356l3-2-12 27-3 1zM2160 2357l4-1-12 26-4 1zM2154 2358l6-1-12 26-6 2zM2146 2359l8-1-12 27-8 0zM2136 2359l10 0-12 26-10-2z"/><path class=O d="M2126 2357l10 2-12 24-10-4z"/><path class=zc d="M1966 2285l19 5-12-2-19-6z"/><path class=zd d="M1946 2281l20 4-12-3-21-5z"/><path class=ze d="M1925 2279l21 2-13-4-20-3z"/><path class=zf d="M1903 2278l22 1-12-5-22-1z"/><path class=zg d="M1881 2279l22-1-12-5-22 0zM1859 2281l22-2-12-6-22 2z"/><path class=zh d="M2459 2072l22-14-12-7-23 15z"/><path class=zg d="M2437 2088l22-16-13-6-22 16z"/><path class=zf d="M2415 2104l22-16-13-6-21 17z"/><path class=ze d="M2395 2121l20-17-12-5-21 18z"/><path class=zd d="M2375 2138l20-17-13-4-20 19z"/><path class=zc d="M2355 2157l20-19-13-2-20 19z"/><path class=zb d="M2336 2176l19-19-13-2-18 21z"/><path class=za d="M2318 2195l18-19-12 0-19 21z"/><path class=Z d="M2301 2214l17-19-13 2-17 22z"/><path class=X d="M2284 2233l17-19-13 5-16 22z"/><path class=W d="M2269 2252l15-19-12 8-16 21z"/><path class=V d="M2254 2269l15-17-13 10-15 20z"/><path class=zd d="M1958 2285l20 2-12-2-20-4z"/><path class=ze d="M1937 2284l21 1-12-4-21-2z"/><path class=zf d="M1916 2284l21 0-12-5-22-1z"/><path class=zg d="M1894 2285l22-1-13-6-22 1z"/><path class=zh d="M1871 2288l23-3-13-6-22 2zM2472 2079l23-14-14-7-22 14z"/><path class=zg d="M2450 2093l22-14-13-7-22 16zM2429 2109l21-16-13-5-22 16z"/><path class=zf d="M2408 2124l21-15-14-5-20 17z"/><path class=ze d="M2388 2141l20-17-13-3-20 17z"/><path class=zd d="M2368 2158l20-17-13-3-20 19z"/><path class=zc d="M2350 2175l18-17-13-1-19 19z"/><path class=zb d="M2332 2193l18-18-14 1-18 19z"/><path class=za d="M2314 2210l18-17-14 2-17 19z"/><path class=Z d="M2298 2227l16-17-13 4-17 19z"/><path class=X d="M2282 2243l16-16-14 6-15 19z"/><path class=W d="M2267 2257l15-14-13 9-15 17z"/><path class=zd d="M1992 2290l19 2-13-1-20-4z"/><path class=ze d="M1972 2289l20 1-14-3-20-2z"/><path class=zf d="M1951 2288l21 1-14-4-21-1z"/><path class=zg d="M1929 2289l22-1-14-4-21 0zM1907 2291l22-2-13-5-22 1z"/><path class=zh d="M1885 2294l22-3-13-6-23 3zM2486 2085l23-13-14-7-23 14z"/><path class=zg d="M2464 2099l22-14-14-6-22 14zM2443 2114l21-15-14-6-21 16z"/><path class=zf d="M2422 2128l21-14-14-5-21 15z"/><path class=ze d="M2402 2144l20-16-14-4-20 17zM2382 2159l20-15-14-3-20 17z"/><path class=zd d="M2363 2175l19-16-14-1-18 17z"/><path class=zc d="M2345 2191l18-16-13 0-18 18z"/><path class=zb d="M2328 2206l17-15-13 2-18 17z"/><path class=za d="M2311 2221l17-15-14 4-16 17z"/><path class=Z d="M2296 2235l15-14-13 6-16 16z"/><path class=Y d="M2281 2248l15-13-14 8-15 14z"/><path class=ze d="M2006 2293l19 1-14-2-19-2zM1985 2293l21 0-14-3-20-1z"/><path class=zf d="M1965 2293l20 0-13-4-21-1z"/><path class=zg d="M1943 2295l22-2-14-5-22 1zM1921 2298l22-3-14-6-22 2z"/><path class=zh d="M1899 2301l22-3-14-7-22 3zM2500 2092l23-13-14-7-23 13zM2478 2105l22-13-14-7-22 14z"/><path class=zg d="M2457 2119l21-14-14-6-21 15zM2436 2133l21-14-14-5-21 14z"/><path class=zf d="M2416 2147l20-14-14-5-20 16z"/><path class=ze d="M2397 2161l19-14-14-3-20 15z"/><path class=zd d="M2378 2176l19-15-15-2-19 16zM2360 2190l18-14-15-1-18 16z"/><path class=zc d="M2342 2204l18-14-15 1-17 15z"/><path class=zb d="M2326 2217l16-13-14 2-17 15z"/><path class=za d="M2310 2229l16-12-15 4-15 14zM2295 2240l15-11-14 6-15 13z"/><path class=Z d="M2281 2250l14-10-14 8-14 11zM2268 2259l13-9-14 9-13 10z"/><path class=zd d="M2039 2296l19 0-14-1-19-1z"/><path class=ze d="M2020 2296l19 0-14-2-19-1z"/><path class=zf d="M2000 2297l20-1-14-3-21 0z"/><path class=zg d="M1979 2299l21-2-15-4-20 0zM1958 2301l21-2-14-6-22 2z"/><path class=zh d="M1936 2304l22-3-15-6-22 3zM1913 2309l23-5-15-6-22 3zM2515 2099l23-13-15-7-23 13zM2493 2111l22-12-15-7-22 13zM2472 2124l21-13-15-6-21 14z"/><path class=zg d="M2451 2137l21-13-15-5-21 14z"/><path class=zf d="M2431 2151l20-14-15-4-20 14zM2412 2164l19-13-15-4-19 14z"/><path class=ze d="M2393 2177l19-13-15-3-19 15zM2375 2190l18-13-15-1-18 14z"/><path class=zd d="M2357 2202l18-12-15 0-18 14z"/><path class=zc d="M2341 2214l16-12-15 2-16 13zM2325 2225l16-11-15 3-16 12z"/><path class=zb d="M2310 2235l15-10-15 4-15 11zM2296 2244l14-9-15 5-14 10z"/><path class=za d="M2283 2251l13-7-15 6-13 9zM2271 2258l12-7-15 8-12 7z"/><path class=ze d="M2073 2297l18-1-15 0-18 0zM2054 2298l19-1-15-1-19 0z"/><path class=zf d="M2035 2300l19-2-15-2-19 0zM2015 2302l20-2-15-4-20 1z"/><path class=zg d="M1994 2304l21-2-15-5-21 2z"/><path class=zh d="M1973 2308l21-4-15-5-21 2zM1951 2311l22-3-15-7-22 3zM1928 2316l23-5-15-7-23 5z"/><path class=zi d="M2531 2106l22-12-15-8-23 13z"/><path class=zh d="M2509 2118l22-12-16-7-22 12zM2487 2130l22-12-16-7-21 13z"/><path class=zg d="M2467 2143l20-13-15-6-21 13zM2447 2155l20-12-16-6-20 14z"/><path class=zf d="M2427 2167l20-12-16-4-19 13zM2408 2179l19-12-15-3-19 13z"/><path class=ze d="M2390 2191l18-12-15-2-18 13zM2373 2202l17-11-15-1-18 12z"/><path class=zd d="M2356 2212l17-10-16 0-16 12zM2341 2222l15-10-15 2-16 11zM2326 2231l15-9-16 3-15 10z"/><path class=zc d="M2312 2239l14-8-16 4-14 9zM2299 2247l13-8-16 5-13 7zM2287 2253l12-6-16 4-12 7zM2276 2258l11-5-16 5-11 6z"/><path class=zd d="M2141 2294l15-2-15 2-16 1zM2124 2296l17-2-16 1-16 1z"/><path class=ze d="M2107 2297l17-1-15 0-18 0z"/><path class=zf d="M2070 2302l19-3-16-2-19 1zM2050 2304l20-2-16-4-19 2z"/><path class=zg d="M2030 2307l20-3-15-4-20 2zM2009 2310l21-3-15-5-21 2z"/><path class=zh d="M1988 2314l21-4-15-6-21 4zM1966 2319l22-5-15-6-22 3z"/><path class=zi d="M1943 2324l23-5-15-8-23 5zM2547 2114l22-11-16-9-22 12zM2525 2125l22-11-16-8-22 12z"/><path class=zh d="M2503 2137l22-12-16-7-22 12zM2483 2148l20-11-16-7-20 13z"/><path class=zg d="M2462 2160l21-12-16-5-20 12zM2443 2171l19-11-15-5-20 12zM2424 2182l19-11-16-4-19 12z"/><path class=zf d="M2406 2193l18-11-16-3-18 12zM2389 2203l17-10-16-2-17 11z"/><path class=ze d="M2372 2213l17-10-16-1-17 10zM2356 2222l16-9-16-1-15 10zM2342 2230l14-8-15 0-15 9z"/><path class=zd d="M2328 2237l14-7-16 1-14 8zM2315 2244l13-7-16 2-13 8zM2303 2250l12-6-16 3-12 6zM2292 2255l11-5-16 3-11 5zM2282 2259l10-4-16 3-10 4zM2274 2262l8-3-16 3-8 4zM2268 2265l6-3-16 4-6 2zM2247 2272l8-3-16 4-8 3zM2226 2278l11-3-16 3-11 3zM2214 2282l12-4-16 3-12 3zM2201 2285l13-3-16 2-13 3zM2187 2288l14-3-16 2-14 2z"/><path class=ze d="M2172 2291l15-3-16 1-15 3zM2157 2294l15-3-16 1-15 2zM2140 2297l17-3-16 0-17 2z"/><path class=zf d="M2123 2300l17-3-16-1-17 1zM2105 2302l18-2-16-3-18 2z"/><path class=zg d="M2086 2306l19-4-16-3-19 3zM2066 2309l20-3-16-4-20 2zM2046 2313l20-4-16-5-20 3z"/><path class=zh d="M2025 2317l21-4-16-6-21 3zM2004 2321l21-4-16-7-21 4z"/><path class=zi d="M1982 2326l22-5-16-7-22 5zM1959 2332l23-6-16-7-23 5zM2563 2122l23-11-17-8-22 11zM2541 2133l22-11-16-8-22 11zM2520 2144l21-11-16-8-22 12z"/><path class=zh d="M2499 2155l21-11-17-7-20 11zM2479 2165l20-10-16-7-21 12zM2459 2176l20-11-17-5-19 11z"/><path class=zg d="M2441 2186l18-10-16-5-19 11zM2423 2196l18-10-17-4-18 11zM2405 2206l18-10-17-3-17 10z"/><path class=zf d="M2389 2214l16-8-16-3-17 10zM2373 2223l16-9-17-1-16 9zM2358 2230l15-7-17-1-14 8zM2344 2237l14-7-16 0-14 7z"/><path class=ze d="M2331 2243l13-6-16 0-13 7zM2319 2249l12-6-16 1-12 6zM2308 2254l11-5-16 1-11 5zM2299 2258l9-4-16 1-10 4zM2290 2261l9-3-17 1-8 3zM2284 2263l6-2-16 1-6 3zM2277 2266l4-1-17 1-3 1zM2263 2271l8-3-16 1-8 3zM2254 2274l9-3-16 1-10 3zM2243 2278l11-4-17 1-11 3zM2231 2281l12-3-17 0-12 4zM2218 2285l13-4-17 1-13 3z"/><path class=zf d="M2204 2288l14-3-17 0-14 3zM2189 2292l15-4-17 0-15 3zM2173 2296l16-4-17-1-15 3zM2156 2299l17-3-16-2-17 3z"/><path class=zg d="M2139 2303l17-4-16-2-17 3zM2121 2307l18-4-16-3-18 2zM2102 2310l19-3-16-5-19 4z"/><path class=zh d="M2083 2315l19-5-16-4-20 3zM2063 2319l20-4-17-6-20 4zM2042 2324l21-5-17-6-21 4z"/><path class=zi d="M2020 2329l22-5-17-7-21 4zM1998 2335l22-6-16-8-22 5zM1976 2341l22-6-16-9-23 6zM2580 2131l23-11-17-9-23 11zM2558 2141l22-10-17-9-22 11zM2537 2152l21-11-17-8-21 11zM2516 2162l21-10-17-8-21 11z"/><path class=zh d="M2496 2172l20-10-17-7-20 10zM2476 2182l20-10-17-7-20 11zM2458 2191l18-9-17-6-18 10z"/><path class=zg d="M2439 2201l19-10-17-5-18 10zM2422 2209l17-8-16-5-18 10zM2406 2218l16-9-17-3-16 8zM2390 2225l16-7-17-4-16 9zM2375 2233l15-8-17-2-15 7z"/><path class=zf d="M2361 2239l14-6-17-3-14 7zM2348 2245l13-6-17-2-13 6zM2336 2250l12-5-17-2-12 6zM2325 2255l11-5-17-1-11 5zM2315 2259l10-4-17-1-9 4zM2307 2262l8-3-16-1-9 3zM2301 2264l6-2-17-1-6 2zM2298 2266l3-2-17-1-3 2zM2288 2269l6-2-17-1-6 2zM2280 2272l8-3-17-1-8 3zM2270 2275l10-3-17-1-9 3zM2260 2279l10-4-16-1-11 4zM2248 2283l12-4-17-1-12 3zM2235 2287l13-4-17-2-13 4zM2221 2291l14-4-17-2-14 3z"/><path class=zg d="M2206 2295l15-4-17-3-15 4zM2190 2299l16-4-17-3-16 4zM2173 2303l17-4-17-3-17 3zM2156 2307l17-4-17-4-17 4zM2138 2312l18-5-17-4-18 4z"/><path class=zh d="M2119 2316l19-4-17-5-19 3zM2100 2321l19-5-17-6-19 5zM2079 2326l21-5-17-6-20 4z"/><path class=zi d="M2059 2331l20-5-16-7-21 5zM2037 2337l22-6-17-7-22 5zM2015 2343l22-6-17-8-22 6zM1993 2350l22-7-17-8-22 6zM2597 2140l23-11-17-9-23 11zM2575 2150l22-10-17-9-22 10zM2554 2160l21-10-17-9-21 11zM2533 2170l21-10-17-8-21 10zM2513 2179l20-9-17-8-20 10z"/><path class=zh d="M2494 2189l19-10-17-7-20 10zM2475 2198l19-9-18-7-18 9zM2457 2206l18-8-17-7-19 10zM2439 2215l18-9-18-5-17 8zM2423 2222l16-7-17-6-16 9z"/><path class=zg d="M2407 2230l16-8-17-4-16 7zM2392 2236l15-6-17-5-15 8zM2378 2243l14-7-17-3-14 6zM2365 2248l13-5-17-4-13 6zM2353 2253l12-5-17-3-12 5zM2342 2258l11-5-17-3-11 5zM2333 2262l9-4-17-3-10 4zM2325 2265l8-3-18-3-8 3zM2318 2267l7-2-18-3-6 2zM2315 2268l3-1-17-3-3 2zM2312 2270l3-2-17-2-4 1zM2305 2272l7-2-18-3-6 2zM2297 2275l8-3-17-3-8 3zM2288 2278l9-3-17-3-10 3zM2277 2282l11-4-18-3-10 4zM2265 2286l12-4-17-3-12 4zM2252 2290l13-4-17-3-13 4zM2238 2295l14-5-17-3-14 4zM2223 2299l15-4-17-4-15 4zM2207 2304l16-5-17-4-16 4z"/><path class=zh d="M2191 2308l16-4-17-5-17 4zM2173 2313l18-5-18-5-17 4zM2155 2318l18-5-17-6-18 5zM2136 2323l19-5-17-6-19 4zM2117 2328l19-5-17-7-19 5z"/><path class=zi d="M2097 2334l20-6-17-7-21 5zM2076 2340l21-6-18-8-20 5zM2055 2346l21-6-17-9-22 6zM2033 2352l22-6-18-9-22 6zM2010 2359l23-7-18-9-22 7z"/><path class=zg d="M1559 2073l-17-13 0 50 17 13zM1576 2085l-17-12 0 50 17 13zM1593 2098l-17-13 0 51 17 12zM1609 2110l-16-12 0 50 16 12zM1624 2122l-15-12 0 50 15 12z"/><path class=zf d="M1639 2133l-15-11 0 50 15 12zM1653 2145l-14-12 0 51 14 11zM1667 2155l-14-10 0 50 14 11zM1681 2166l-14-11 0 51 14 10zM1693 2175l-12-9 0 50 12 10z"/><path class=ze d="M1705 2184l-12-9 0 51 12 9zM1717 2193l-12-9 0 51 12 8zM1728 2201l-11-8 0 50 11 8zM1738 2208l-10-7 0 50 10 7zM1747 2214l-9-6 0 50 9 7zM1755 2220l-8-6 0 51 8 6zM1762 2225l-7-5 0 51 7 4zM1769 2229l-7-4 0 50 7 5zM1773 2232l-4-3 0 51 4 3zM1776 2234l-3-2 0 51 3 1zM1779 2235l-3-1 0 50 3 2zM1783 2238l-4-3 0 51 4 3zM1790 2242l-7-4 0 51 7 4zM1797 2247l-7-5 0 51 7 4zM1805 2252l-8-5 0 50 8 5zM1814 2257l-9-5 0 50 9 6zM1824 2263l-10-6 0 51 10 5zM1835 2269l-11-6 0 50 11 6zM1847 2275l-12-6 0 50 12 6zM1859 2281l-12-6 0 50 12 7z"/><path class=zf d="M1871 2288l-12-7 0 51 12 6zM1885 2294l-14-6 0 50 14 7zM1899 2301l-14-7 0 51 14 7zM1913 2309l-14-8 0 51 14 7zM1928 2316l-15-7 0 50 15 8z"/><path class=zg d="M1943 2324l-15-8 0 51 15 8zM1959 2332l-16-8 0 51 16 8zM1976 2341l-17-9 0 51 17 8zM1993 2350l-17-9 0 50 17 9zM2010 2359l-17-9 0 50 17 10zM2597 2140l23-11 0 51-23 10zM2575 2150l22-10 0 50-22 10zM2554 2160l21-10 0 50-21 10zM2533 2170l21-10 0 50-21 10zM2513 2179l20-9 0 50-20 10z"/><path class=zf d="M2494 2189l19-10 0 51-19 9zM2475 2198l19-9 0 50-19 9zM2457 2206l18-8 0 50-18 9zM2439 2215l18-9 0 51-18 8zM2423 2222l16-7 0 50-16 8z"/><path class=ze d="M2407 2230l16-8 0 51-16 7zM2392 2236l15-6 0 50-15 7zM2378 2243l14-7 0 51-14 6zM2365 2248l13-5 0 50-13 6zM2353 2253l12-5 0 51-12 5zM2342 2258l11-5 0 51-11 4zM2333 2262l9-4 0 50-9 4zM2325 2265l8-3 0 50-8 3zM2318 2267l7-2 0 50-7 3zM2315 2268l3-1 0 51-3 1zM2312 2270l3-2 0 51-3 1zM2305 2272l7-2 0 50-7 3zM2297 2275l8-3 0 51-8 3zM2288 2278l9-3 0 51-9 3zM2277 2282l11-4 0 51-11 4zM2265 2286l12-4 0 51-12 4zM2252 2290l13-4 0 51-13 4zM2238 2295l14-5 0 51-14 4zM2223 2299l15-4 0 50-15 5zM2207 2304l16-5 0 51-16 4z"/><path class=zf d="M2191 2308l16-4 0 50-16 5zM2173 2313l18-5 0 51-18 5zM2155 2318l18-5 0 51-18 4zM2136 2323l19-5 0 50-19 6zM2117 2328l19-5 0 51-19 5z"/><path class=zg d="M2097 2334l20-6 0 51-20 5zM2076 2340l21-6 0 50-21 6zM2055 2346l21-6 0 50-21 6zM2033 2352l22-6 0 50-22 7zM2010 2359l23-7 0 51-23 7z"/></g><path class="ax" d="M201.0 299.4L262.0 276.4M201.0 299.4L154.2 269.5M154.2 269.5L154.2 204.2M201.0 299.4L202.0 300.0M231.5 287.9L232.5 288.6M262.0 276.4L263.0 277.1M201.0 299.4L199.9 299.8M177.6 284.4L176.5 284.9M154.2 269.5L153.1 269.9M154.2 254.6L153.0 254.6M154.2 239.7L153.0 239.7M154.2 224.8L153.0 224.8M154.2 209.9L153.0 209.9"/><g class="lb" font-size="6.64"><text x="204.6" y="308.5">-20</text><text x="235.1" y="297.0">0</text><text x="265.6" y="285.5">20</text><text text-anchor="end" x="197.2" y="308.3">-20</text><text text-anchor="end" x="173.8" y="293.4">0</text><text text-anchor="end" x="150.4" y="278.4">20</text><text text-anchor="end" x="151.1" y="256.5">5</text><text text-anchor="end" x="151.1" y="241.6">10</text><text text-anchor="end" x="151.1" y="226.8">15</text><text text-anchor="end" x="151.1" y="211.9">20</text><text text-anchor="middle" x="165.7" y="310.2">x<tspan font-size="5.3" dy="2.3">2</tspan></text><text text-anchor="middle" x="239.8" y="312.2">x<tspan font-size="5.3" dy="2.3">1</tspan></text></g><text class="tt" text-anchor="middle" font-size="7.30" x="208.1" y="179.0">Parameter space</text>
<!-- plot 7 --><path class="gr" d="M337.3 299.4L292.5 270.5M292.5 270.5L292.5 207.5M366.5 288.3L321.7 259.4M321.7 259.4L321.7 196.4M395.7 277.2L350.9 248.4M350.9 248.4L350.9 185.3M337.3 299.4L395.7 277.2M395.7 277.2L395.7 214.2M314.9 285.0L373.3 262.8M373.3 262.8L373.3 199.7M292.5 270.5L350.9 248.4M350.9 248.4L350.9 185.3M292.5 270.5L350.9 248.4M350.9 248.4L395.7 277.2M292.5 245.5L350.9 223.3M350.9 223.3L395.7 252.2M292.5 220.4L350.9 198.3M350.9 198.3L395.7 227.2"/><g fill="none" transform="scale(.1)" stroke-width="6.0"><path stroke="#4758f8" d="M3515 2835l-1 0-1-4-23 5-51 4-7-1-34-1-5-3-23 0-11-5-11-1-2-4-11 0-17-7-11-1 0-5-10 0-6-7-10-1 2-5-11-1 1-5-12-4 2-5-10-2 2-5-9-10 2-5-8-2 3-6-3-3-4-3 2-3 1-3-1-2 2-3-3-3 7-17-2-4 9-7 2-5 14-14M3614 2687l7 2-2 5 10 1-2 5 9 11-2 5 8 2-3 5 3 4 4 3-2 2-1 4 1 2-2 3 3 3-7 16 2 5-10 8-1 3-10 11-17 10 7 2-25 8-8 7-12 4-12 5-14 2-23 10"/><path stroke="#2b92ef" d="M3569 2869l-9 0-21 7-8-1-13 3-28 3-10-1-35 4-6-2-38 1-4-4-13 1-20-2-5-3-13 1-5-3-26-4-3-3-13 0-2-4-9-1-26-8-18-7-2-4-10-1-1-4-12-5-2-4-10-1 1-4-7-2-6-7-8-2 1-5-7-2-4-7-5-3-10-15 1-4-7-2 3-6-6-3 0-13-4-3 4-6-4-4 2-9 4-7-5-2 6-7 1-5 5-6-4-4 17-15 2-6 10-8 2-4 10-5 0-5 18-8 2-4M3663 2645l2 4 10 1-1 5 7 2 6 7 8 1-1 5 7 2 4 8 5 3 10 14-1 5 7 2-3 6 6 2 0 14 4 3-4 6 4 3-2 10-4 6 5 3-6 7-1 5-5 6 4 3-17 16-2 5-10 9-2 4-10 5 0 4-18 8 0 4-26 9-21 11-26 7-23 9"/><path stroke="#02bbc3" d="M3622 2891l-68 16-69 8-28 1-7-2-30 2-28-3-14 1-4-3-32-2-5-2-13 0-5-3-27-3-3-3-12-1-4-3-16-3-39-13-2-3-10-1-2-4-14-4-1-4-10-1-1-4-12-5-2-3-8-2-1-4-7-2-6-7-7-2 0-5-7-1-5-8-6-2 0-5-6-2-1-4-14-18-2-8-5-3 3-6-6-2 0-14-4-3 4-6-4-3 1-10 4-6-5-2 5-7 3-10-1-4 11-14-1-4 9-13 21-17 0-4 13-10 48-28M3692 2612l1 3 10 2 1 4 12 4 2 4 8 2 1 4 7 2 6 7 7 1 0 5 7 2 5 7 6 3 0 4 6 2 1 5 14 18 2 8 5 3-3 5 6 3 0 13 4 3-4 7 4 3-1 9-4 6 5 3-5 7-3 10 1 4-11 13 1 4-9 13-21 17-1 5-35 24-30 16-27 13-38 11"/><path stroke="#64cd6f" d="M3516 2940l-54 4-42 0-42-2-64-8-50-10M3848 2702l3 5-2 5 4 3 0 10 2 3-2 10 2 4 0 5-3 10 2 4-4 6-3 11 0 4-6 7-6 13-8 12-9 6-4 7M3034 2775l-3-5 2-5-4-3 0-9-2-4 2-10-2-4 0-4 3-11-2-3 4-7 3-10 0-4 6-7 6-13 8-12 9-7 4-6"/><path stroke="#e7bb2e" d="M3442 2968l-15 1-7-2-36 0-7-2-23-1-34-4M3904 2738l-1 9 1 9-5 11 2 4-9 17 2 4-6 7M2978 2739l1-8-1-9 5-11-2-4 9-17-2-4 6-7"/><path stroke="#f5e924" d="M3389 2988l-27-1M3946 2765l0 7-5 7M2936 2712l0-6 5-7"/></g><g class="sf" transform="scale(.1)"><path class=zj d="M3505 1936l16-42-12-41-16 37z"/><path class=zf d="M3489 1975l16-39-12-46-17 36z"/><path class=zc d="M3473 2011l16-36-13-49-16 37z"/><path class=Z d="M3456 2043l17-32-13-48-16 37z"/><path class=X d="M3440 2073l16-30-12-43-16 36z"/><path class=U d="M3424 2102l16-29-12-37-16 32z"/><path class=S d="M3408 2131l16-29-12-34-17 27z"/><path class=Q d="M3392 2160l16-29-13-36-16 23z"/><path class=O d="M3375 2186l17-26-13-42-16 22z"/><path class=M d="M3359 2210l16-24-12-46-16 21z"/><path class=L d="M3343 2230l16-20-12-49-16 22z"/><path class=J d="M3327 2247l16-17-12-47-17 21z"/><path class=I d="M3311 2261l16-14-13-43-16 20z"/><path class=H d="M3294 2275l17-14-13-37-16 17z"/><path class=G d="M3278 2289l16-14-12-34-16 11zM3262 2302l16-13-12-37-17 8z"/><path class=F d="M3246 2313l16-11-13-42-16 6zM3229 2321l17-8-13-47-16 6zM3213 2325l16-4-12-49-16 6zM3197 2327l16-2-12-47-16 7z"/><path class=G d="M3181 2326l16 1-12-42-17 4zM3165 2325l16 1-13-37-16 1z"/><path class=H d="M3148 2323l17 2-13-35-16-4z"/><path class=I d="M3132 2320l16 3-12-37-16-8z"/><path class=J d="M3116 2316l16 4-12-42-17-9z"/><path class=L d="M3100 2308l16 8-13-47-16-10z"/><path class=M d="M3083 2297l17 11-13-49-16-8z"/><path class=O d="M3067 2283l16 14-12-46-16-9z"/><path class=Q d="M3051 2267l16 16-12-41-16-12z"/><path class=S d="M3035 2250l16 17-12-37-17-15z"/><path class=U d="M3019 2233l16 17-13-35-16-19z"/><path class=X d="M3002 2215l17 18-13-37-16-23z"/><path class=Z d="M2986 2195l16 20-12-42-16-25z"/><path class=zc d="M2970 2172l16 23-12-47-17-25z"/><path class=zf d="M2954 2145l16 27-13-49-16-24z"/><path class=zj d="M2937 2116l17 29-13-46-16-24z"/><path class=zf d="M3518 1974l16-40-13-40-16 42z"/><path class=zc d="M3501 2012l17-38-13-38-16 39z"/><path class=Z d="M3485 2048l16-36-12-37-16 36z"/><path class=W d="M3469 2082l16-34-12-37-17 32z"/><path class=T d="M3453 2115l16-33-13-39-16 30z"/><path class=R d="M3437 2146l16-31-13-42-16 29z"/><path class=P d="M3420 2174l17-28-13-44-16 29z"/><path class=N d="M3404 2200l16-26-12-43-16 29z"/><path class=L d="M3388 2224l16-24-12-40-17 26z"/><path class=J d="M3372 2247l16-23-13-38-16 24z"/><path class=H d="M3355 2267l17-20-13-37-16 20z"/><path class=G d="M3339 2286l16-19-12-37-16 17z"/><path class=F d="M3323 2303l16-17-12-39-16 14z"/><path class=E d="M3307 2318l16-15-12-42-17 14z"/><path class=D d="M3291 2331l16-13-13-43-16 14z"/><path class=C d="M3274 2342l17-11-13-42-16 13zM3258 2351l16-9-12-40-16 11zM3242 2358l16-7-12-38-17 8zM3226 2363l16-5-13-37-16 4zM3209 2367l17-4-13-38-16 2zM3193 2368l16-1-12-40-16-1z"/><path class=D d="M3177 2368l16 0-12-42-16-1z"/><path class=E d="M3161 2365l16 3-12-43-17-2z"/><path class=F d="M3145 2360l16 5-13-42-16-3z"/><path class=G d="M3128 2353l17 7-13-40-16-4z"/><path class=H d="M3112 2345l16 8-12-37-16-8z"/><path class=J d="M3096 2335l16 10-12-37-17-11z"/><path class=L d="M3080 2323l16 12-13-38-16-14z"/><path class=N d="M3063 2309l17 14-13-40-16-16z"/><path class=P d="M3047 2293l16 16-12-42-16-17z"/><path class=R d="M3031 2275l16 18-12-43-16-17z"/><path class=T d="M3015 2255l16 20-12-42-17-18z"/><path class=W d="M2999 2233l16 22-13-40-16-20z"/><path class=Z d="M2982 2209l17 24-13-38-16-23z"/><path class=zc d="M2966 2183l16 26-12-37-16-27z"/><path class=zf d="M2950 2156l16 27-12-38-17-29z"/><path class=zc d="M3530 2011l16-39-12-38-16 40z"/><path class=Z d="M3514 2048l16-37-12-37-17 38z"/><path class=W d="M3498 2085l16-37-13-36-16 36z"/><path class=T d="M3481 2120l17-35-13-37-16 34z"/><path class=Q d="M3465 2154l16-34-12-38-16 33z"/><path class=O d="M3449 2185l16-31-12-39-16 31z"/><path class=L d="M3433 2213l16-28-12-39-17 28z"/><path class=J d="M3417 2238l16-25-13-39-16 26z"/><path class=H d="M3400 2261l17-23-13-38-16 24z"/><path class=G d="M3384 2283l16-22-12-37-16 23z"/><path class=E d="M3368 2304l16-21-12-36-17 20z"/><path class=D d="M3352 2324l16-20-13-37-16 19z"/><path class=C d="M3335 2342l17-18-13-38-16 17z"/><path class=B d="M3319 2358l16-16-12-39-16 15z"/><path class=A d="M3303 2370l16-12-12-40-16 13z"/><path class=y d="M3287 2380l16-10-12-39-17 11zM3271 2388l16-8-13-38-16 9zM3254 2394l17-6-13-37-16 7zM3238 2400l16-6-12-36-16 5zM3222 2405l16-5-12-37-17 4zM3206 2407l16-2-13-38-16 1z"/><path class=A d="M3189 2407l17 0-13-39-16 0z"/><path class=B d="M3173 2404l16 3-12-39-16-3z"/><path class=C d="M3157 2398l16 6-12-39-16-5z"/><path class=D d="M3141 2390l16 8-12-38-17-7z"/><path class=E d="M3125 2381l16 9-13-37-16-8z"/><path class=G d="M3108 2372l17 9-13-36-16-10z"/><path class=H d="M3092 2361l16 11-12-37-16-12z"/><path class=J d="M3076 2348l16 13-12-38-17-14z"/><path class=L d="M3060 2333l16 15-13-39-16-16z"/><path class=O d="M3043 2314l17 19-13-40-16-18z"/><path class=Q d="M3027 2293l16 21-12-39-16-20z"/><path class=T d="M3011 2269l16 24-12-38-16-22z"/><path class=W d="M2995 2245l16 24-12-36-17-24z"/><path class=Z d="M2979 2220l16 25-13-36-16-26z"/><path class=zc d="M2962 2194l17 26-13-37-16-27z"/><path class=Z d="M3542 2051l17-43-13-36-16 39z"/><path class=W d="M3526 2090l16-39-12-40-16 37z"/><path class=T d="M3510 2125l16-35-12-42-16 37z"/><path class=Q d="M3494 2157l16-32-12-40-17 35z"/><path class=N d="M3478 2186l16-29-13-37-16 34z"/><path class=L d="M3461 2215l17-29-13-32-16 31z"/><path class=J d="M3445 2244l16-29-12-30-16 28z"/><path class=H d="M3429 2274l16-30-12-31-16 25z"/><path class=F d="M3413 2301l16-27-12-36-17 23z"/><path class=D d="M3397 2325l16-24-13-40-16 22z"/><path class=B d="M3380 2345l17-20-13-42-16 21z"/><path class=A d="M3364 2361l16-16-12-41-16 20z"/><path class=y d="M3348 2374l16-13-12-37-17 18z"/><path class=x d="M3332 2388l16-14-13-32-16 16z"/><path class=w d="M3315 2402l17-14-13-30-16 12z"/><path class=v d="M3299 2416l16-14-12-32-16 10zM3283 2428l16-12-12-36-16 8zM3267 2436l16-8-12-40-17 6zM3251 2440l16-4-13-42-16 6zM3234 2440l17 0-13-40-16 5zM3218 2439l16 1-12-35-16 2z"/><path class=w d="M3202 2437l16 2-12-32-17 0z"/><path class=x d="M3186 2436l16 1-13-30-16-3z"/><path class=y d="M3169 2434l17 2-13-32-16-6z"/><path class=A d="M3153 2431l16 3-12-36-16-8z"/><path class=B d="M3137 2423l16 8-12-41-16-9z"/><path class=D d="M3121 2412l16 11-12-42-17-9z"/><path class=F d="M3105 2397l16 15-13-40-16-11z"/><path class=H d="M3088 2380l17 17-13-36-16-13z"/><path class=J d="M3072 2363l16 17-12-32-16-15z"/><path class=L d="M3056 2346l16 17-12-30-17-19z"/><path class=N d="M3040 2329l16 17-13-32-16-21z"/><path class=Q d="M3023 2310l17 19-13-36-16-24z"/><path class=T d="M3007 2287l16 23-12-41-16-24z"/><path class=W d="M2991 2260l16 27-12-42-16-25z"/><path class=Z d="M2975 2229l16 31-12-40-17-26z"/><path class=X d="M3555 2079l16-36-12-35-17 43z"/><path class=T d="M3539 2115l16-36-13-28-16 39z"/><path class=Q d="M3523 2153l16-38-13-25-16 35z"/><path class=N d="M3506 2190l17-37-13-28-16 32z"/><path class=L d="M3490 2226l16-36-12-33-16 29z"/><path class=I d="M3474 2258l16-32-12-40-17 29z"/><path class=G d="M3458 2285l16-27-13-43-16 29z"/><path class=E d="M3441 2308l17-23-13-41-16 30z"/><path class=C d="M3425 2329l16-21-12-34-16 27z"/><path class=A d="M3409 2350l16-21-12-28-16 24z"/><path class=y d="M3393 2372l16-22-12-25-17 20z"/><path class=w d="M3377 2394l16-22-13-27-16 16z"/><path class=v d="M3360 2415l17-21-13-33-16 13z"/><path class=u d="M3344 2431l16-16-12-41-16 14z"/><path class=t d="M3328 2443l16-12-12-43-17 14zM3312 2450l16-7-13-41-16 14z"/><path class=s d="M3295 2456l17-6-13-34-16 12zM3279 2461l16-5-12-28-16 8zM3263 2468l16-7-12-25-16 4zM3247 2475l16-7-12-28-17 0z"/><path class=t d="M3231 2480l16-5-13-35-16-1zM3214 2480l17 0-13-41-16-2z"/><path class=u d="M3198 2476l16 4-12-43-16-1z"/><path class=v d="M3182 2468l16 8-12-40-17-2z"/><path class=w d="M3166 2458l16 10-13-34-16-3z"/><path class=y d="M3149 2449l17 9-13-27-16-8z"/><path class=A d="M3133 2440l16 9-12-26-16-11z"/><path class=C d="M3117 2431l16 9-12-28-16-15z"/><path class=E d="M3101 2421l16 10-12-34-17-17z"/><path class=G d="M3085 2406l16 15-13-41-16-17z"/><path class=I d="M3068 2386l17 20-13-43-16-17z"/><path class=L d="M3052 2363l16 23-12-40-16-17z"/><path class=N d="M3036 2337l16 26-12-34-17-19z"/><path class=Q d="M3020 2312l16 25-13-27-16-23z"/><path class=T d="M3003 2289l17 23-13-25-16-27z"/><path class=X d="M2987 2265l16 24-12-29-16-31z"/><path class=U d="M3567 2117l17-43-13-31-16 36z"/><path class=R d="M3551 2157l16-40-12-38-16 36z"/><path class=O d="M3535 2192l16-35-12-42-16 38z"/><path class=L d="M3519 2223l16-31-12-39-17 37z"/><path class=I d="M3503 2252l16-29-13-33-16 36z"/><path class=G d="M3486 2281l17-29-13-26-16 32z"/><path class=D d="M3470 2310l16-29-12-23-16 27z"/><path class=B d="M3454 2340l16-30-12-25-17 23z"/><path class=y d="M3438 2368l16-28-13-32-16 21z"/><path class=x d="M3421 2392l17-24-13-39-16 21z"/><path class=v d="M3405 2411l16-19-12-42-16 22z"/><path class=u d="M3389 2427l16-16-12-39-16 22z"/><path class=q d="M3324 2482l16-14-12-25-16 7zM3308 2495l16-13-12-32-17 6zM3292 2503l16-8-13-39-16 5zM3275 2507l17-4-13-42-16 7zM3259 2507l16 0-12-39-16 7zM3243 2505l16 2-12-32-16 5z"/><path class=r d="M3227 2503l16 2-12-25-17 0z"/><path class=s d="M3211 2502l16 1-13-23-16-4z"/><path class=t d="M3194 2501l17 1-13-26-16-8z"/><path class=u d="M3178 2498l16 3-12-33-16-10z"/><path class=v d="M3162 2491l16 7-12-40-17-9z"/><path class=x d="M3146 2479l16 12-13-42-16-9z"/><path class=y d="M3129 2463l17 16-13-39-16-9z"/><path class=B d="M3113 2446l16 17-12-32-16-10z"/><path class=D d="M3097 2428l16 18-12-25-16-15z"/><path class=G d="M3081 2412l16 16-12-22-17-20z"/><path class=I d="M3065 2396l16 16-13-26-16-23z"/><path class=L d="M3048 2377l17 19-13-33-16-26z"/><path class=O d="M3032 2354l16 23-12-40-16-25z"/><path class=R d="M3016 2327l16 27-12-42-17-23z"/><path class=U d="M3000 2296l16 31-13-38-16-24z"/><path class=S d="M3580 2143l16-38-12-31-17 43z"/><path class=P d="M3564 2179l16-36-13-26-16 40z"/><path class=L d="M3547 2216l17-37-13-22-16 35z"/><path class=J d="M3531 2253l16-37-12-24-16 31z"/><path class=G d="M3515 2287l16-34-12-30-16 29z"/><path class=D d="M3499 2319l16-32-12-35-17 29z"/><path class=B d="M3483 2347l16-28-13-38-16 29z"/><path class=y d="M3466 2371l17-24-13-37-16 30z"/><path class=w d="M3450 2393l16-22-12-31-16 28z"/><path class=u d="M3434 2414l16-21-12-25-17 24z"/><path class=t d="M3418 2436l16-22-13-22-16 19z"/><path class=n d="M3288 2531l16-6-12-22-17 4z"/><path class=o d="M3272 2537l16-6-13-24-16 0zM3255 2541l17-4-13-30-16-2z"/><path class=p d="M3239 2541l16 0-12-36-16-2zM3223 2538l16 3-12-38-16-1z"/><path class=q d="M3207 2531l16 7-12-36-17-1z"/><path class=r d="M3191 2522l16 9-13-30-16-3z"/><path class=t d="M3174 2513l17 9-13-24-16-7z"/><path class=u d="M3158 2503l16 10-12-22-16-12z"/><path class=w d="M3142 2494l16 9-12-24-17-16z"/><path class=y d="M3126 2482l16 12-13-31-16-17z"/><path class=B d="M3109 2467l17 15-13-36-16-18z"/><path class=D d="M3093 2448l16 19-12-39-16-16z"/><path class=G d="M3077 2425l16 23-12-36-16-16z"/><path class=J d="M3061 2401l16 24-12-29-17-19z"/><path class=L d="M3045 2376l16 25-13-24-16-23z"/><path class=P d="M3028 2352l17 24-13-22-16-27z"/><path class=S d="M3012 2327l16 25-12-25-16-31z"/><path class=Q d="M3592 2174l17-41-13-28-16 38z"/><path class=N d="M3576 2212l16-38-12-31-16 36z"/><path class=J d="M3560 2248l16-36-12-33-17 37z"/><path class=H d="M3544 2281l16-33-13-32-16 37z"/><path class=E d="M3527 2313l17-32-13-28-16 34z"/><path class=B d="M3511 2343l16-30-12-26-16 32z"/><path class=y d="M3495 2371l16-28-12-24-16 28z"/><path class=w d="M3479 2399l16-28-12-24-17 24z"/><path class=u d="M3463 2424l16-25-13-28-16 22z"/><path class=s d="M3446 2447l17-23-13-31-16 21z"/><path class=r d="M3430 2467l16-20-12-33-16 22z"/><path class=n d="M3235 2563l17 2-13-24-16-3z"/><path class=o d="M3219 2559l16 4-12-25-16-7z"/><path class=p d="M3203 2554l16 5-12-28-16-9z"/><path class=r d="M3187 2546l16 8-12-32-17-9z"/><path class=s d="M3171 2535l16 11-13-33-16-10z"/><path class=u d="M3154 2522l17 13-13-32-16-9z"/><path class=w d="M3138 2507l16 15-12-28-16-12z"/><path class=y d="M3122 2490l16 17-12-25-17-15z"/><path class=B d="M3106 2473l16 17-13-23-16-19z"/><path class=E d="M3089 2454l17 19-13-25-16-23z"/><path class=H d="M3073 2433l16 21-12-29-16-24z"/><path class=J d="M3057 2409l16 24-12-32-16-25z"/><path class=N d="M3041 2383l16 26-12-33-17-24z"/><path class=Q d="M3025 2355l16 28-13-31-16-25z"/><path class=O d="M3605 2200l16-41-12-26-17 41z"/><path class=K d="M3589 2239l16-39-13-26-16 38z"/><path class=H d="M3572 2275l17-36-13-27-16 36z"/><path class=F d="M3556 2308l16-33-12-27-16 33z"/><path class=C d="M3540 2339l16-31-12-27-17 32z"/><path class=y d="M3524 2369l16-30-13-26-16 30z"/><path class=w d="M3507 2398l17-29-13-26-16 28z"/><path class=u d="M3491 2425l16-27-12-27-16 28z"/><path class=s d="M3475 2450l16-25-12-26-16 25z"/><path class=q d="M3459 2473l16-23-12-26-17 23z"/><path class=p d="M3443 2494l16-21-13-26-16 20z"/><path class=q d="M3183 2561l16 11-12-26-16-11z"/><path class=s d="M3167 2548l16 13-12-26-17-13z"/><path class=u d="M3151 2533l16 15-13-26-16-15z"/><path class=w d="M3134 2517l17 16-13-26-16-17z"/><path class=y d="M3118 2499l16 18-12-27-16-17z"/><path class=C d="M3102 2480l16 19-12-26-17-19z"/><path class=F d="M3086 2459l16 21-13-26-16-21z"/><path class=H d="M3069 2436l17 23-13-26-16-24z"/><path class=K d="M3053 2409l16 27-12-27-16-26z"/><path class=O d="M3037 2381l16 28-12-26-16-28z"/><path class=M d="M3617 2222l16-38-12-25-16 41z"/><path class=J d="M3601 2259l16-37-12-22-16 39z"/><path class=G d="M3585 2295l16-36-12-20-17 36z"/><path class=D d="M3569 2332l16-37-13-20-16 33z"/><path class=A d="M3552 2367l17-35-13-24-16 31z"/><path class=x d="M3536 2398l16-31-12-28-16 30z"/><path class=u d="M3520 2426l16-28-12-29-17 29z"/><path class=s d="M3504 2450l16-24-13-28-16 27z"/><path class=q d="M3487 2472l17-22-13-25-16 25z"/><path class=p d="M3471 2493l16-21-12-22-16 23z"/><path class=n d="M3455 2515l16-22-12-20-16 21z"/><path class=u d="M3147 2546l16 15-12-28-17-16z"/><path class=x d="M3131 2527l16 19-13-29-16-18z"/><path class=A d="M3114 2504l17 23-13-28-16-19z"/><path class=D d="M3098 2480l16 24-12-24-16-21z"/><path class=G d="M3082 2456l16 24-12-21-17-23z"/><path class=M d="M3049 2406l17 25-13-22-16-28z"/><path class=L d="M3630 2249l16-43-13-22-16 38z"/><path class=H d="M3613 2289l17-40-13-27-16 37z"/><path class=E d="M3597 2324l16-35-12-30-16 36z"/><path class=B d="M3581 2355l16-31-12-29-16 37z"/><path class=y d="M3565 2384l16-29-12-23-17 35z"/><path class=v d="M3549 2413l16-29-13-17-16 31z"/><path class=t d="M3532 2442l17-29-13-15-16 28z"/><path class=r d="M3516 2472l16-30-12-16-16 24z"/><path class=p d="M3500 2500l16-28-12-22-17 22z"/><path class=n d="M3484 2524l16-24-13-28-16 21z"/><path class=l d="M3467 2543l17-19-13-31-16 22z"/><path class=B d="M3111 2509l16 19-13-24-16-24z"/><path class=E d="M3094 2486l17 23-13-29-16-24z"/><path class=H d="M3078 2459l16 27-12-30-16-25z"/><path class=L d="M3062 2427l16 32-12-28-17-25z"/><path class=J d="M3642 2264l16-36-12-22-16 43z"/><path class=G d="M3626 2300l16-36-12-15-17 40z"/><path class=D d="M3610 2337l16-37-13-11-16 35z"/><path class=A d="M3593 2375l17-38-13-13-16 31z"/><path class=w d="M3577 2411l16-36-12-20-16 29z"/><path class=u d="M3561 2443l16-32-12-27-16 29z"/><path class=r d="M3545 2470l16-27-12-30-17 29z"/><path class=p d="M3529 2493l16-23-13-28-16 30z"/><path class=n d="M3512 2514l17-21-13-21-16 28z"/><path class=m d="M3496 2535l16-21-12-14-16 24z"/><path class=D d="M3107 2497l16 25-12-13-17-23z"/><path class=G d="M3091 2473l16 24-13-11-16-27z"/><path class=J d="M3074 2449l17 24-13-14-16-32z"/><path class=I d="M3655 2288l16-43-13-17-16 36z"/><path class=F d="M3638 2328l17-40-13-24-16 36z"/><path class=C d="M3622 2363l16-35-12-28-16 37z"/><path class=y d="M3606 2394l16-31-12-26-17 38z"/><path class=v d="M3590 2424l16-30-13-19-16 36z"/><path class=t d="M3573 2453l17-29-13-13-16 32z"/><path class=q d="M3557 2482l16-29-12-10-16 27z"/><path class=o d="M3541 2511l16-29-12-12-16 23z"/><path class=m d="M3525 2538l16-27-12-18-17 21z"/><path class=k d="M3509 2562l16-24-13-24-16 21z"/><path class=I d="M3087 2467l16 30-12-24-17-24z"/><path class=H d="M3667 2301l16-38-12-18-16 43z"/><path class=E d="M3651 2338l16-37-12-13-17 40z"/><path class=B d="M3635 2375l16-37-13-10-16 35z"/><path class=x d="M3618 2410l17-35-13-12-16 31z"/><path class=u d="M3602 2444l16-34-12-16-16 30z"/><path class=s d="M3586 2475l16-31-12-20-17 29z"/><path class=p d="M3570 2503l16-28-13-22-16 29z"/><path class=n d="M3553 2528l17-25-13-21-16 29z"/><path class=l d="M3537 2551l16-23-12-17-16 27z"/><path class=j d="M3521 2573l16-22-12-13-16 24z"/><path class=x d="M3148 2560l16 23-12-16-17-19z"/><path class=B d="M3132 2535l16 25-13-12-16-23z"/><path class=E d="M3115 2510l17 25-13-10-16-28z"/><path class=H d="M3099 2484l16 26-12-13-16-30z"/><path class=G d="M3679 2317l17-40-13-14-16 38z"/><path class=D d="M3663 2355l16-38-12-16-16 37z"/><path class=A d="M3647 2391l16-36-12-17-16 37z"/><path class=w d="M3631 2425l16-34-12-16-17 35z"/><path class=t d="M3615 2458l16-33-13-15-16 34z"/><path class=r d="M3598 2488l17-30-13-14-16 31z"/><path class=o d="M3582 2517l16-29-12-13-16 28z"/><path class=m d="M3566 2543l16-26-12-14-17 25z"/><path class=k d="M3550 2567l16-24-13-15-16 23z"/><path class=t d="M3177 2598l16 20-13-14-16-21z"/><path class=w d="M3160 2576l17 22-13-15-16-23z"/><path class=D d="M3128 2526l16 26-12-17-17-25z"/><path class=G d="M3112 2499l16 27-13-16-16-26zM3692 2332l16-42-12-13-17 40z"/><path class=C d="M3676 2371l16-39-13-15-16 38z"/><path class=y d="M3659 2406l17-35-13-16-16 36z"/><path class=v d="M3643 2439l16-33-12-15-16 34z"/><path class=t d="M3627 2469l16-30-12-14-16 33z"/><path class=q d="M3611 2498l16-29-12-11-17 30z"/><path class=o d="M3595 2527l16-29-13-10-16 29z"/><path class=m d="M3578 2555l17-28-13-10-16 26z"/><path class=k d="M3562 2582l16-27-12-12-16 24z"/><path class=q d="M3205 2629l16 17-12-10-16-18z"/><path class=t d="M3189 2611l16 18-12-11-16-20z"/><path class=v d="M3173 2591l16 20-12-13-17-22z"/><path class=y d="M3157 2568l16 23-13-15-16-24z"/><path class=C d="M3140 2541l17 27-13-16-16-26z"/><path class=G d="M3124 2511l16 30-12-15-16-27z"/><path class=F d="M3704 2338l17-37-13-11-16 42z"/><path class=C d="M3688 2375l16-37-12-6-16 39z"/><path class=y d="M3672 2412l16-37-12-4-17 35z"/><path class=v d="M3656 2449l16-37-13-6-16 33z"/><path class=s d="M3639 2484l17-35-13-10-16 30z"/><path class=q d="M3623 2516l16-32-12-15-16 29z"/><path class=n d="M3607 2543l16-27-12-18-16 29z"/><path class=l d="M3591 2567l16-24-12-16-17 28z"/><path class=k d="M3575 2588l16-21-13-12-16 27z"/><path class=s d="M3201 2621l17 23-13-15-16-18z"/><path class=v d="M3185 2596l16 25-12-10-16-20z"/><path class=y d="M3169 2572l16 24-12-5-16-23z"/><path class=C d="M3153 2547l16 25-12-4-17-27z"/><path class=F d="M3137 2523l16 24-13-6-16-30zM3717 2353l16-44-12-8-17 37z"/><path class=C d="M3701 2393l16-40-13-15-16 37z"/><path class=y d="M3684 2428l17-35-13-18-16 37z"/><path class=v d="M3668 2459l16-31-12-16-16 37z"/><path class=s d="M3652 2487l16-28-12-10-17 35z"/><path class=q d="M3636 2516l16-29-13-3-16 32z"/><path class=n d="M3619 2545l17-29-13 0-16 27z"/><path class=l d="M3603 2575l16-30-12-2-16 24z"/><path class=j d="M3587 2603l16-28-12-8-16 21z"/><path class=l d="M3263 2681l16 17-13-8-16-11z"/><path class=n d="M3246 2664l17 17-13-2-16-15z"/><path class=q d="M3230 2647l16 17-12 0-16-20z"/><path class=s d="M3214 2631l16 16-12-3-17-23z"/><path class=v d="M3198 2613l16 18-13-10-16-25z"/><path class=C d="M3165 2562l16 28-12-18-16-25z"/><path class=F d="M3149 2531l16 31-12-15-16-24zM3729 2354l16-36-12-9-16 44z"/><path class=C d="M3713 2391l16-37-12-1-16 40z"/><path class=y d="M3697 2428l16-37-12 2-17 35z"/><path class=v d="M3681 2465l16-37-13 0-16 31z"/><path class=s d="M3664 2500l17-35-13-6-16 28z"/><path class=q d="M3648 2532l16-32-12-13-16 29z"/><path class=n d="M3632 2560l16-28-12-16-17 29z"/><path class=l d="M3616 2583l16-23-13-15-16 30z"/><path class=j d="M3599 2604l17-21-13-8-16 28z"/><path class=g d="M3324 2724l16 9-13 0-16-7z"/><path class=i d="M3307 2715l17 9-13 2-16-12z"/><path class=j d="M3291 2706l16 9-12-1-16-16z"/><path class=l d="M3275 2695l16 11-12-8-16-17z"/><path class=q d="M3243 2660l16 20-13-16-16-17z"/><path class=s d="M3226 2637l17 23-13-13-16-16z"/><path class=v d="M3210 2612l16 25-12-6-16-18z"/><path class=y d="M3194 2588l16 24-12 1-17-23z"/><path class=C d="M3178 2564l16 24-13 2-16-28z"/><path class=F d="M3161 2539l17 25-13-2-16-31zM3742 2364l16-42-13-4-16 36z"/><path class=C d="M3725 2403l17-39-13-10-16 37z"/><path class=y d="M3709 2438l16-35-12-12-16 37z"/><path class=v d="M3693 2471l16-33-12-10-16 37z"/><path class=s d="M3677 2501l16-30-12-6-17 35z"/><path class=q d="M3661 2530l16-29-13-1-16 32z"/><path class=n d="M3644 2559l17-29-13 2-16 28z"/><path class=l d="M3628 2588l16-29-12 1-16 23zM3287 2695l17 16-13-5-16-11z"/><path class=n d="M3271 2678l16 17-12 0-16-15z"/><path class=q d="M3255 2661l16 17-12 2-16-20z"/><path class=s d="M3239 2643l16 18-12-1-17-23z"/><path class=v d="M3223 2623l16 20-13-6-16-25z"/><path class=y d="M3206 2600l17 23-13-11-16-24z"/><path class=C d="M3190 2573l16 27-12-12-16-24z"/><path class=F d="M3174 2543l16 30-12-9-17-25z"/><path class=G d="M3754 2365l16-40-12-3-16 42z"/><path class=C d="M3738 2403l16-38-12-1-17 39z"/><path class=y d="M3722 2439l16-36-13 0-16 35z"/><path class=v d="M3705 2474l17-35-13-1-16 33z"/><path class=t d="M3689 2506l16-32-12-3-16 30z"/><path class=q d="M3673 2537l16-31-12-5-16 29z"/><path class=o d="M3657 2565l16-28-12-7-17 29z"/><path class=m d="M3641 2591l16-26-13-6-16 29z"/><path class=f d="M3365 2745l16 6-12-3-17-4z"/><path class=g d="M3349 2736l16 9-13-1-16-8z"/><path class=i d="M3332 2726l17 10-13 0-16-11z"/><path class=k d="M3316 2714l16 12-12-1-16-14z"/><path class=m d="M3300 2700l16 14-12-3-17-16z"/><path class=o d="M3284 2684l16 16-13-5-16-17z"/><path class=q d="M3267 2666l17 18-13-6-16-17z"/><path class=t d="M3251 2646l16 20-12-5-16-18z"/><path class=v d="M3235 2624l16 22-12-3-16-20z"/><path class=y d="M3219 2600l16 24-12-1-17-23z"/><path class=C d="M3203 2574l16 26-13 0-16-27z"/><path class=G d="M3186 2547l17 27-13-1-16-30zM3767 2365l16-38-13-2-16 40z"/><path class=D d="M3750 2403l17-38-13 0-16 38z"/><path class=A d="M3734 2439l16-36-12 0-16 36z"/><path class=w d="M3718 2475l16-36-12 0-17 35z"/><path class=t d="M3702 2508l16-33-13-1-16 32z"/><path class=r d="M3685 2539l17-31-13-2-16 31z"/><path class=o d="M3669 2567l16-28-12-2-16 28z"/><path class=e d="M3410 2758l16 4-13-3-16-3z"/><path class=f d="M3393 2752l17 6-13-2-16-5z"/><path class=g d="M3377 2745l16 7-12-1-16-6z"/><path class=h d="M3361 2736l16 9-12 0-16-9z"/><path class=j d="M3345 2726l16 10-12 0-17-10z"/><path class=k d="M3329 2715l16 11-13 0-16-12z"/><path class=m d="M3312 2703l17 12-13-1-16-14z"/><path class=o d="M3296 2687l16 16-12-3-16-16z"/><path class=r d="M3280 2668l16 19-12-3-17-18z"/><path class=t d="M3264 2647l16 21-13-2-16-20z"/><path class=w d="M3247 2624l17 23-13-1-16-22z"/><path class=A d="M3231 2600l16 24-12 0-16-24z"/><path class=D d="M3215 2575l16 25-12 0-16-26z"/><path class=G d="M3199 2548l16 27-12-1-17-27z"/><path class=H d="M3779 2368l16-43-12 2-16 38z"/><path class=E d="M3763 2408l16-40-12-3-17 38z"/><path class=B d="M3747 2443l16-35-13-5-16 36z"/><path class=x d="M3730 2475l17-32-13-4-16 36z"/><path class=u d="M3714 2504l16-29-12 0-16 33z"/><path class=s d="M3698 2533l16-29-12 4-17 31z"/><path class=p d="M3682 2562l16-29-13 6-16 28z"/><path class=d d="M3455 2757l16 1-13 1-16 3z"/><path class=e d="M3438 2755l17 2-13 5-16 0z"/><path class=f d="M3422 2754l16 1-12 7-16-4zM3406 2752l16 2-12 4-17-6z"/><path class=h d="M3390 2748l16 4-13 0-16-7z"/><path class=i d="M3373 2741l17 7-13-3-16-9z"/><path class=j d="M3357 2729l16 12-12-5-16-10z"/><path class=l d="M3341 2714l16 15-12-3-16-11z"/><path class=n d="M3325 2698l16 16-12 1-17-12z"/><path class=p d="M3309 2681l16 17-13 5-16-16z"/><path class=s d="M3292 2664l17 17-13 6-16-19z"/><path class=u d="M3276 2647l16 17-12 4-16-21z"/><path class=x d="M3260 2628l16 19-12 0-17-23z"/><path class=B d="M3244 2605l16 23-13-4-16-24z"/><path class=E d="M3227 2578l17 27-13-5-16-25z"/><path class=H d="M3211 2547l16 31-12-3-16-27z"/><path class=I d="M3791 2360l17-36-13 1-16 43z"/><path class=F d="M3775 2396l16-36-12 8-16 40z"/><path class=C d="M3759 2434l16-38-12 12-16 35z"/><path class=y d="M3743 2471l16-37-12 9-17 32z"/><path class=v d="M3727 2507l16-36-13 4-16 29z"/><path class=t d="M3710 2539l17-32-13-3-16 29z"/><path class=q d="M3694 2566l16-27-12-6-16 29z"/><path class=e d="M3499 2749l17-7-13 12-16 4zM3483 2756l16-7-12 9-16 0z"/><path class=g d="M3418 2749l17 8-13-3-16-2z"/><path class=i d="M3402 2739l16 10-12 3-16-4z"/><path class=j d="M3386 2730l16 9-12 9-17-7z"/><path class=k d="M3370 2721l16 9-13 11-16-12z"/><path class=m d="M3353 2712l17 9-13 8-16-15z"/><path class=o d="M3337 2702l16 10-12 2-16-16z"/><path class=q d="M3321 2687l16 15-12-4-16-17z"/><path class=t d="M3305 2667l16 20-12-6-17-17z"/><path class=v d="M3289 2643l16 24-13-3-16-17z"/><path class=y d="M3272 2618l17 25-13 4-16-19z"/><path class=C d="M3256 2593l16 25-12 10-16-23z"/><path class=F d="M3240 2569l16 24-12 12-17-27z"/><path class=I d="M3224 2545l16 24-13 9-16-31z"/><path class=J d="M3804 2362l16-44-12 6-17 36z"/><path class=G d="M3788 2401l16-39-13-2-16 36z"/><path class=D d="M3771 2437l17-36-13-5-16 38z"/><path class=A d="M3755 2467l16-30-12-3-16 37z"/><path class=w d="M3739 2496l16-29-12 4-16 36z"/><path class=u d="M3723 2525l16-29-12 11-17 32z"/><path class=r d="M3707 2554l16-29-13 14-16 27z"/><path class=f d="M3479 2749l17 2-13 5-16 4z"/><path class=g d="M3463 2747l16 2-12 11-16 1z"/><path class=h d="M3447 2746l16 1-12 14-16-4z"/><path class=i d="M3431 2745l16 1-12 11-17-8z"/><path class=j d="M3415 2742l16 3-13 4-16-10z"/><path class=k d="M3398 2735l17 7-13-3-16-9z"/><path class=m d="M3382 2723l16 12-12-5-16-9z"/><path class=n d="M3366 2707l16 16-12-2-17-9z"/><path class=p d="M3350 2690l16 17-13 5-16-10z"/><path class=r d="M3333 2673l17 17-13 12-16-15z"/><path class=u d="M3317 2656l16 17-12 14-16-20z"/><path class=w d="M3301 2640l16 16-12 11-16-24z"/><path class=A d="M3285 2621l16 19-12 3-17-25z"/><path class=D d="M3269 2598l16 23-13-3-16-25z"/><path class=G d="M3252 2571l17 27-13-5-16-24z"/><path class=J d="M3236 2540l16 31-12-2-16-24z"/><path class=L d="M3816 2350l17-37-13 5-16 44z"/><path class=H d="M3800 2387l16-37-12 12-16 39z"/><path class=E d="M3784 2424l16-37-12 14-17 36z"/><path class=B d="M3768 2460l16-36-13 13-16 30z"/><path class=y d="M3751 2495l17-35-13 7-16 29z"/><path class=v d="M3735 2526l16-31-12 1-16 29z"/><path class=t d="M3719 2554l16-28-12-1-16 29z"/><path class=g d="M3557 2727l16-7-12 6-17 13zM3541 2733l16-6-13 12-16 8zM3524 2739l17-6-13 14-16 4zM3508 2745l16-6-12 12-16 0z"/><path class=h d="M3492 2748l16-3-12 6-17-2z"/><path class=i d="M3459 2745l17 4-13-2-16-1z"/><path class=j d="M3443 2738l16 7-12 1-16-1z"/><path class=k d="M3427 2729l16 9-12 7-16-3z"/><path class=l d="M3411 2720l16 9-12 13-17-7z"/><path class=n d="M3395 2711l16 9-13 15-16-12z"/><path class=p d="M3378 2701l17 10-13 12-16-16z"/><path class=r d="M3362 2689l16 12-12 6-16-17z"/><path class=t d="M3346 2674l16 15-12 1-17-17z"/><path class=v d="M3330 2655l16 19-13-1-16-17z"/><path class=y d="M3313 2633l17 22-13 1-16-16z"/><path class=B d="M3297 2608l16 25-12 7-16-19z"/><path class=E d="M3281 2584l16 24-12 13-16-23z"/><path class=H d="M3265 2559l16 25-12 14-17-27z"/><path class=L d="M3249 2534l16 25-13 12-16-31z"/><path class=M d="M3829 2345l16-41-12 9-17 37z"/><path class=J d="M3813 2383l16-38-13 5-16 37z"/><path class=G d="M3796 2419l17-36-13 4-16 37z"/><path class=D d="M3780 2452l16-33-12 5-16 36z"/><path class=A d="M3764 2484l16-32-12 8-17 35z"/><path class=x d="M3748 2514l16-30-13 11-16 31z"/><path class=j d="M3602 2700l16-14-13 13-16 12z"/><path class=i d="M3585 2712l17-12-13 11-16 9zM3521 2736l16-2-13 5-16 6zM3504 2737l17-1-13 9-16 3z"/><path class=j d="M3488 2736l16 1-12 11-16 1zM3472 2734l16 2-12 13-17-4z"/><path class=k d="M3456 2730l16 4-13 11-16-7z"/><path class=m d="M3439 2724l17 6-13 8-16-9z"/><path class=n d="M3423 2716l16 8-12 5-16-9z"/><path class=p d="M3407 2706l16 10-12 4-16-9z"/><path class=q d="M3391 2693l16 13-12 5-17-10z"/><path class=s d="M3375 2678l16 15-13 8-16-12z"/><path class=u d="M3358 2661l17 17-13 11-16-15z"/><path class=x d="M3342 2644l16 17-12 13-16-19z"/><path class=A d="M3326 2625l16 19-12 11-17-22z"/><path class=D d="M3310 2604l16 21-13 8-16-25z"/><path class=G d="M3293 2580l17 24-13 4-16-24z"/><path class=J d="M3277 2554l16 26-12 4-16-25z"/><path class=M d="M3261 2525l16 29-12 5-16-25z"/><path class=O d="M3841 2334l16-41-12 11-16 41z"/><path class=K d="M3825 2373l16-39-12 11-16 38z"/><path class=H d="M3809 2409l16-36-12 10-17 36z"/><path class=F d="M3793 2442l16-33-13 10-16 33z"/><path class=C d="M3776 2473l17-31-13 10-16 32z"/><path class=y d="M3760 2503l16-30-12 11-16 30z"/><path class=j d="M3582 2711l16-10-13 11-16 9zM3565 2719l17-8-13 10-16 8zM3549 2723l16-4-12 10-16 5zM3533 2726l16-3-12 11-16 2z"/><path class=k d="M3517 2726l16 0-12 10-17 1z"/><path class=l d="M3501 2725l16 1-13 11-16-1zM3484 2723l17 2-13 11-16-2z"/><path class=m d="M3468 2720l16 3-12 11-16-4z"/><path class=n d="M3452 2714l16 6-12 10-17-6z"/><path class=p d="M3436 2706l16 8-13 10-16-8z"/><path class=q d="M3419 2695l17 11-13 10-16-10z"/><path class=s d="M3403 2682l16 13-12 11-16-13z"/><path class=u d="M3387 2667l16 15-12 11-16-15z"/><path class=w d="M3371 2651l16 16-12 11-17-17z"/><path class=y d="M3355 2633l16 18-13 10-16-17z"/><path class=C d="M3338 2614l17 19-13 11-16-19z"/><path class=F d="M3322 2593l16 21-12 11-16-21z"/><path class=H d="M3306 2570l16 23-12 11-17-24z"/><path class=K d="M3290 2544l16 26-13 10-16-26z"/><path class=O d="M3273 2515l17 29-13 10-16-29z"/><path class=Q d="M3854 2319l16-37-13 11-16 41z"/><path class=N d="M3837 2356l17-37-13 15-16 39z"/><path class=J d="M3821 2393l16-37-12 17-16 36z"/><path class=H d="M3805 2429l16-36-12 16-16 33z"/><path class=E d="M3789 2464l16-35-12 13-17 31z"/><path class=m d="M3627 2680l16-12-13 8-16 13zM3610 2689l17-9-13 9-16 12z"/><path class=l d="M3594 2696l16-7-12 12-16 10zM3578 2702l16-6-12 15-17 8zM3562 2708l16-6-13 17-16 4zM3545 2714l17-6-13 15-16 3z"/><path class=m d="M3529 2717l16-3-12 12-16 0zM3513 2718l16-1-12 9-16-1z"/><path class=n d="M3497 2714l16 4-12 7-17-2z"/><path class=o d="M3481 2707l16 7-13 9-16-3z"/><path class=p d="M3464 2698l17 9-13 13-16-6z"/><path class=r d="M3448 2689l16 9-12 16-16-8z"/><path class=s d="M3432 2680l16 9-12 17-17-11z"/><path class=u d="M3416 2670l16 10-13 15-16-13z"/><path class=w d="M3399 2659l17 11-13 12-16-15z"/><path class=y d="M3383 2643l16 16-12 8-16-16z"/><path class=B d="M3367 2624l16 19-12 8-16-18z"/><path class=E d="M3351 2602l16 22-12 9-17-19z"/><path class=H d="M3335 2577l16 25-13 12-16-21z"/><path class=J d="M3318 2553l17 24-13 16-16-23z"/><path class=N d="M3302 2528l16 25-12 17-16-26z"/><path class=Q d="M3286 2503l16 25-12 16-17-29z"/><path class=S d="M3866 2310l16-44-12 16-16 37z"/><path class=P d="M3850 2350l16-40-12 9-17 37z"/><path class=L d="M3834 2385l16-35-13 6-16 37z"/><path class=J d="M3817 2416l17-31-13 8-16 36z"/><path class=G d="M3801 2445l16-29-12 13-16 35z"/><path class=q d="M3671 2633l17-14-13 14-16 20z"/><path class=p d="M3655 2646l16-13-12 20-16 15zM3639 2660l16-14-12 22-16 12z"/><path class=o d="M3623 2675l16-15-12 20-17 9zM3607 2687l16-12-13 14-16 7z"/><path class=n d="M3590 2696l17-9-13 9-16 6zM3574 2699l16-3-12 6-16 6z"/><path class=o d="M3558 2699l16 0-12 9-17 6zM3542 2697l16 2-13 15-16 3z"/><path class=p d="M3525 2695l17 2-13 20-16 1zM3509 2694l16 1-12 23-16-4z"/><path class=q d="M3493 2693l16 1-12 20-16-7z"/><path class=r d="M3477 2690l16 3-12 14-17-9z"/><path class=t d="M3461 2683l16 7-13 8-16-9z"/><path class=u d="M3444 2671l17 12-13 6-16-9z"/><path class=w d="M3428 2656l16 15-12 9-16-10z"/><path class=y d="M3412 2638l16 18-12 14-17-11z"/><path class=B d="M3396 2621l16 17-13 21-16-16z"/><path class=D d="M3379 2605l17 16-13 22-16-19z"/><path class=G d="M3363 2588l16 17-12 19-16-22z"/><path class=J d="M3347 2570l16 18-12 14-16-25z"/><path class=L d="M3331 2547l16 23-12 7-17-24z"/><path class=P d="M3315 2519l16 28-13 6-16-25z"/><path class=S d="M3298 2488l17 31-13 9-16-25z"/><path class=U d="M3879 2288l16-36-13 14-16 44z"/><path class=R d="M3862 2324l17-36-13 22-16 40z"/><path class=O d="M3846 2361l16-37-12 26-16 35z"/><path class=L d="M3830 2399l16-38-12 24-17 31z"/><path class=I d="M3814 2435l16-36-13 17-16 29z"/><path class=x d="M3733 2559l16-21-13 22-16 25z"/><path class=v d="M3716 2581l17-22-13 26-16 19z"/><path class=u d="M3700 2603l16-22-12 23-16 15z"/><path class=q d="M3635 2659l16-8-12 9-16 15zM3619 2664l16-5-12 16-16 12zM3603 2670l16-6-12 23-17 9zM3587 2677l16-7-13 26-16 3zM3570 2683l17-6-13 22-16 0zM3554 2688l16-5-12 16-16-2z"/><path class=r d="M3538 2689l16-1-12 9-17-2z"/><path class=s d="M3522 2685l16 4-13 6-16-1z"/><path class=t d="M3505 2677l17 8-13 9-16-1z"/><path class=u d="M3489 2667l16 10-12 16-16-3z"/><path class=v d="M3473 2657l16 10-12 23-16-7z"/><path class=x d="M3457 2649l16 8-12 26-17-12z"/><path class=y d="M3441 2640l16 9-13 22-16-15z"/><path class=B d="M3424 2629l17 11-13 16-16-18z"/><path class=D d="M3408 2614l16 15-12 9-16-17z"/><path class=G d="M3392 2595l16 19-12 7-17-16z"/><path class=I d="M3376 2571l16 24-13 10-16-17z"/><path class=L d="M3359 2546l17 25-13 17-16-18z"/><path class=O d="M3343 2521l16 25-12 24-16-23z"/><path class=R d="M3327 2497l16 24-12 26-16-28z"/><path class=U d="M3311 2473l16 24-12 22-17-31z"/><path class=X d="M3891 2275l16-43-12 20-16 36z"/><path class=T d="M3875 2315l16-40-12 13-17 36z"/><path class=Q d="M3859 2350l16-35-13 9-16 37z"/><path class=N d="M3842 2382l17-32-13 11-16 38z"/><path class=L d="M3826 2411l16-29-12 17-16 36z"/><path class=G d="M3794 2469l16-29-13 27-16 27z"/><path class=E d="M3777 2498l17-29-13 25-16 23z"/><path class=v d="M3696 2599l17-14-13 18-16 20z"/><path class=u d="M3680 2613l16-14-12 24-16 17z"/><path class=t d="M3664 2627l16-14-12 27-17 11zM3648 2640l16-13-13 24-16 8z"/><path class=s d="M3631 2652l17-12-13 19-16 5zM3615 2661l16-9-12 12-16 6zM3599 2665l16-4-12 9-16 7zM3583 2665l16 0-12 12-17 6z"/><path class=t d="M3567 2664l16 1-13 18-16 5zM3550 2662l17 2-13 24-16 1z"/><path class=u d="M3534 2661l16 1-12 27-16-4z"/><path class=v d="M3518 2659l16 2-12 24-17-8z"/><path class=w d="M3502 2655l16 4-13 18-16-10z"/><path class=y d="M3485 2648l17 7-13 12-16-10z"/><path class=A d="M3469 2636l16 12-12 9-16-8z"/><path class=C d="M3453 2621l16 15-12 13-16-9z"/><path class=E d="M3437 2605l16 16-12 19-17-11z"/><path class=G d="M3421 2588l16 17-13 24-16-15z"/><path class=I d="M3404 2571l17 17-13 26-16-19z"/><path class=L d="M3388 2554l16 17-12 24-16-24z"/><path class=N d="M3372 2535l16 19-12 17-17-25z"/><path class=Q d="M3356 2512l16 23-13 11-16-25z"/><path class=T d="M3340 2485l16 27-13 9-16-24z"/><path class=X d="M3323 2454l17 31-13 12-16-24z"/><path class=Z d="M3903 2252l17-39-13 19-16 43z"/><path class=W d="M3887 2289l16-37-12 23-16 40z"/><path class=T d="M3871 2325l16-36-12 26-16 35z"/><path class=Q d="M3855 2361l16-36-12 25-17 32z"/><path class=N d="M3839 2395l16-34-13 21-16 29z"/><path class=F d="M3774 2502l16-23-13 19-16 28z"/><path class=D d="M3757 2524l17-22-13 24-16 24z"/><path class=B d="M3741 2545l16-21-12 26-16 19z"/><path class=A d="M3725 2565l16-20-12 24-16 16z"/><path class=y d="M3709 2583l16-18-12 20-17 14z"/><path class=x d="M3693 2599l16-16-13 16-16 14z"/><path class=w d="M3676 2611l17-12-13 14-16 14z"/><path class=v d="M3660 2621l16-10-12 16-16 13zM3644 2628l16-7-12 19-17 12zM3628 2635l16-7-13 24-16 9zM3611 2641l17-6-13 26-16 4zM3595 2645l16-4-12 24-16 0zM3579 2648l16-3-12 20-16-1z"/><path class=w d="M3563 2648l16 0-12 16-17-2z"/><path class=x d="M3547 2645l16 3-13 14-16-1z"/><path class=y d="M3530 2639l17 6-13 16-16-2z"/><path class=A d="M3514 2631l16 8-12 20-16-4z"/><path class=B d="M3498 2622l16 9-12 24-17-7z"/><path class=D d="M3482 2613l16 9-13 26-16-12z"/><path class=F d="M3465 2602l17 11-13 23-16-15z"/><path class=H d="M3449 2589l16 13-12 19-16-16z"/><path class=J d="M3433 2573l16 16-12 16-16-17z"/><path class=L d="M3417 2555l16 18-12 15-17-17z"/><path class=N d="M3401 2533l16 22-13 16-16-17z"/><path class=Q d="M3384 2510l17 23-13 21-16-19z"/><path class=T d="M3368 2486l16 24-12 25-16-23z"/><path class=W d="M3352 2461l16 25-12 26-16-27z"/><path class=Z d="M3336 2435l16 26-12 24-17-31z"/><path class=zc d="M3916 2231l16-40-12 22-17 39z"/><path class=Z d="M3900 2268l16-37-13 21-16 37z"/><path class=W d="M3883 2305l17-37-13 21-16 36z"/><path class=T d="M3867 2339l16-34-12 20-16 36z"/><path class=Q d="M3851 2372l16-33-12 22-16 34z"/><path class=O d="M3835 2402l16-30-12 23-17 31z"/><path class=J d="M3802 2457l17-26-13 23-16 25z"/><path class=H d="M3786 2481l16-24-12 22-16 23z"/><path class=G d="M3770 2503l16-22-12 21-17 22z"/><path class=E d="M3754 2524l16-21-13 21-16 21z"/><path class=D d="M3737 2543l17-19-13 21-16 20z"/><path class=C d="M3721 2560l16-17-12 22-16 18z"/><path class=B d="M3705 2575l16-15-12 23-16 16z"/><path class=A d="M3689 2588l16-13-12 24-17 12z"/><path class=y d="M3673 2599l16-11-13 23-16 10zM3656 2607l17-8-13 22-16 7zM3640 2614l16-7-12 21-16 7zM3624 2620l16-6-12 21-17 6zM3608 2623l16-3-13 21-16 4zM3591 2625l17-2-13 22-16 3z"/><path class=A d="M3575 2624l16 1-12 23-16 0z"/><path class=B d="M3559 2622l16 2-12 24-16-3z"/><path class=C d="M3543 2617l16 5-12 23-17-6z"/><path class=D d="M3527 2610l16 7-13 22-16-8z"/><path class=E d="M3510 2602l17 8-13 21-16-9z"/><path class=G d="M3494 2592l16 10-12 20-16-9z"/><path class=H d="M3478 2580l16 12-12 21-17-11z"/><path class=J d="M3462 2566l16 14-13 22-16-13z"/><path class=L d="M3445 2550l17 16-13 23-16-16z"/><path class=O d="M3429 2532l16 18-12 23-16-18z"/><path class=Q d="M3413 2512l16 20-12 23-16-22z"/><path class=T d="M3397 2489l16 23-12 21-17-23z"/><path class=W d="M3381 2465l16 24-13 21-16-24z"/><path class=Z d="M3364 2440l17 25-13 21-16-25z"/><path class=zc d="M3348 2413l16 27-12 21-16-26z"/><path class=zf d="M3928 2209l17-42-13 24-16 40z"/><path class=zc d="M3912 2248l16-39-12 22-16 37z"/><path class=Z d="M3896 2283l16-35-12 20-17 37z"/><path class=T d="M3863 2346l17-30-13 23-16 33z"/><path class=N d="M3815 2433l16-29-12 27-17 26z"/><path class=J d="M3782 2483l17-24-13 22-16 22z"/><path class=H d="M3766 2503l16-20-12 20-16 21z"/><path class=G d="M3750 2519l16-16-12 21-17 19z"/><path class=F d="M3734 2534l16-15-13 24-16 17z"/><path class=E d="M3717 2548l17-14-13 26-16 15z"/><path class=D d="M3701 2562l16-14-12 27-16 13z"/><path class=C d="M3685 2575l16-13-12 26-16 11zM3669 2586l16-11-12 24-17 8zM3653 2594l16-8-13 21-16 7zM3636 2598l17-4-13 20-16 6zM3620 2599l16-1-12 22-16 3zM3604 2599l16 0-12 24-17 2z"/><path class=D d="M3588 2597l16 2-13 26-16-1z"/><path class=E d="M3571 2596l17 1-13 27-16-2z"/><path class=F d="M3555 2593l16 3-12 26-16-5z"/><path class=G d="M3539 2589l16 4-12 24-16-7z"/><path class=H d="M3523 2581l16 8-12 21-17-8z"/><path class=J d="M3507 2570l16 11-13 21-16-10z"/><path class=L d="M3490 2556l17 14-13 22-16-12z"/><path class=N d="M3474 2540l16 16-12 24-16-14z"/><path class=P d="M3458 2523l16 17-12 26-17-16z"/><path class=R d="M3442 2506l16 17-13 27-16-18z"/><path class=T d="M3426 2488l16 18-13 26-16-20z"/><path class=W d="M3409 2468l17 20-13 24-16-23z"/><path class=Z d="M3393 2445l16 23-12 21-16-24z"/><path class=zc d="M3377 2418l16 27-12 20-17-25z"/><path class=zf d="M3361 2388l16 30-13 22-16-27z"/><path class=zj d="M3941 2179l16-37-12 25-17 42z"/><path class=zf d="M3925 2215l16-36-13 30-16 39z"/><path class=zc d="M3908 2252l17-37-13 33-16 35z"/><path class=Z d="M3892 2289l16-37-12 31-16 33z"/><path class=X d="M3876 2325l16-36-12 27-17 30z"/><path class=U d="M3860 2357l16-32-13 21-16 29z"/><path class=S d="M3843 2384l17-27-13 18-16 29z"/><path class=Q d="M3827 2407l16-23-12 20-16 29z"/><path class=O d="M3811 2429l16-22-12 26-16 26z"/><path class=M d="M3795 2450l16-21-12 30-17 24z"/><path class=L d="M3779 2471l16-21-13 33-16 20z"/><path class=J d="M3762 2493l17-22-13 32-16 16z"/><path class=I d="M3746 2513l16-20-12 26-16 15z"/><path class=H d="M3730 2529l16-16-12 21-17 14z"/><path class=G d="M3714 2541l16-12-13 19-16 14zM3697 2549l17-8-13 21-16 13z"/><path class=F d="M3681 2555l16-6-12 26-16 11zM3665 2561l16-6-12 31-16 8zM3649 2567l16-6-12 33-17 4zM3633 2574l16-7-13 31-16 1z"/><path class=G d="M3616 2578l17-4-13 25-16 0zM3600 2579l16-1-12 21-16-2z"/><path class=H d="M3584 2575l16 4-12 18-17-1z"/><path class=I d="M3568 2567l16 8-13 21-16-3z"/><path class=J d="M3551 2558l17 9-13 26-16-4z"/><path class=L d="M3535 2548l16 10-12 31-16-8z"/><path class=M d="M3519 2539l16 9-12 33-16-11z"/><path class=O d="M3503 2530l16 9-12 31-17-14z"/><path class=Q d="M3487 2519l16 11-13 26-16-16z"/><path class=S d="M3470 2504l17 15-13 21-16-17z"/><path class=U d="M3454 2485l16 19-12 19-16-17z"/><path class=X d="M3438 2462l16 23-12 21-16-18z"/><path class=Z d="M3422 2437l16 25-12 26-17-20z"/><path class=zc d="M3406 2412l16 25-13 31-16-23z"/><path class=zf d="M3389 2388l17 24-13 33-16-27z"/><path class=zj d="M3373 2363l16 25-12 30-16-30z"/></g><path class="ax" d="M337.3 299.4L395.7 277.2M337.3 299.4L292.5 270.5M292.5 270.5L292.5 207.5M337.3 299.4L338.3 300.0M366.5 288.3L367.5 288.9M395.7 277.2L396.7 277.9M337.3 299.4L336.2 299.8M314.9 285.0L313.8 285.4M292.5 270.5L291.4 270.9M292.5 270.5L291.3 270.5M292.5 245.5L291.3 245.5M292.5 220.4L291.3 220.4"/><g class="lb" font-size="6.41"><text x="340.8" y="308.1">-500</text><text x="370.0" y="297.0">0</text><text x="399.2" y="285.9">500</text><text text-anchor="end" x="333.6" y="308.0">-500</text><text text-anchor="end" x="311.2" y="293.5">0</text><text text-anchor="end" x="288.8" y="279.1">500</text><text text-anchor="end" x="289.6" y="272.4">0</text><text text-anchor="end" x="289.6" y="247.3">50</text><text text-anchor="end" x="289.6" y="222.3">100</text><text text-anchor="middle" x="299.4" y="310.2">x<tspan font-size="5.1" dy="2.2">2</tspan></text><text text-anchor="middle" x="376.8" y="312.2">x<tspan font-size="5.1" dy="2.2">1</tspan></text></g><text class="tt" text-anchor="middle" font-size="7.05" x="344.1" y="183.2">Parameter space</text>
<!-- plot 8 --><path class="gr" d="M474.2 295.6L427.4 266.3M427.4 266.3L427.4 202.5M504.7 284.4L457.9 255.1M457.9 255.1L457.9 191.2M535.2 273.1L488.4 243.9M488.4 243.9L488.4 180.0M474.2 295.6L535.2 273.1M535.2 273.1L535.2 209.3M450.8 281.0L511.8 258.5M511.8 258.5L511.8 194.6M427.4 266.3L488.4 243.9M488.4 243.9L488.4 180.0M427.4 257.7L488.4 235.3M488.4 235.3L535.2 264.5M427.4 249.1L488.4 226.7M488.4 226.7L535.2 255.9M427.4 240.5L488.4 218.0M488.4 218.0L535.2 247.3M427.4 231.9L488.4 209.4M488.4 209.4L535.2 238.7M427.4 223.3L488.4 200.8M488.4 200.8L535.2 230.1M427.4 214.7L488.4 192.2M488.4 192.2L535.2 221.5M427.4 206.0L488.4 183.6M488.4 183.6L535.2 212.9"/><g fill="none" transform="scale(.1)" stroke-width="6.0"><path stroke="#484ff2" d="M4888 2902l-25-7-19-9-11-12-2-8 2-5 9 0 14 3 24 9 14 11 8 13M5008 2858l-25-7-16-8-10-8-11-17-5-5-44-7M4847 2806l-9 4-7 8-5 12-3 19-4 4-51-4M4732 2846l-18 2-8 4-11 29-7 8-16 2-39-3M5131 2813l-25-7-19-10-11-13-2-7 3-5 25 4 21 8 15 11 7 14M4765 2943l-17-3-17-8-9-8-1-8 6-3 10 1 22 8 8 6 5 7 0 6-7 2M5253 2764l-14-2-19-8-11-9-2-7 4-4 10 0 22 7 9 6 6 7 1 7-6 3M4605 2870l7-13 15-9 22-5 39-3 12-4 8-14 2-8-1-4-10-3-15 1M4637 2821l-33 12-43 10M4803 2785l11-6 0-5-4-3M4932 2738l7-6 2-3-2-4M5041 2704l26-2 11-9M5147 2668l19 2 11 5 4 8 0 14-4 10-7 5-31 0M5086 2711l-8 3-5 7-4 15-3 22-3 5-9 1-29-3M4965 2762l-9 7-5 9-3 18 2 11 7 5 31 9 17 8 12 9 8 14M4502 2806l25-15 17-7M4524 2765l-12 8-13 4-21 2-20 0M4430 2761l1-12 2-7 3-4 6-3 17-1 53 2M4396 2713l-15-3-15-6-11-10-2-9 5-2 12 1 24 10 8 6 3 6-2 5-7 2"/><path stroke="#2f81fa" d="M4754 2952l-35-13-12-7-25-19-21-7M4873 2908l-41-16-36-23-18-5-17-2M4745 2864l-12 5-5 6-1 8 2 6 10 8 35 19 18 22M4994 2863l-38-13-40-25-24-6M4859 2826l-5 9 3 9 8 6 34 20 18 22M5116 2818l-41-15-34-22-22-6M4977 2788l1 6 4 6 39 25 18 22M5241 2772l-41-15-35-24-14-4-15-2M5098 2736l-3 9 4 10 8 6 35 20 18 21M5266 2677l-12 0M5229 2679l-11 5-6 6-2 10 3 8 9 9 38 20 19 21M4401 2743l-3-7-6-5-31-16-13-9-31-35-26-14M4318 2647l14 11 13 7 64 23 30 21 11 6 15 4 15 1 24-4M4421 2618l-10-5"/><path stroke="#1aabdd" d="M4744 2955l-6-1M4863 2911l-45-13-34-16-8-2-9 1-4 3 0 4 24 21 16 25M4984 2867l-51-14-28-10-5 0-2 2 14 16 15 27M5106 2822l-50-14-29-10-5 0-1 2 13 16 15 27M5230 2776l-45-13-37-17-15 0-3 4 2 4 23 20 15 24M5344 2727l-31-11-39-21-14-3-15 3-6 5 2 7 31 24 17 24M4324 2695l-16-19-25-16M4327 2644l32 18 65 21 18 7M4422 2627l-16-10"/><path stroke="#2cc4a7" d="M4853 2915l-22-3-13 1-6 5 1 12M4973 2871l-17-3-13 2-6 5 0 9M5096 2826l-18-3-13 2-6 5 1 9M5220 2780l-23-3-13 1-5 6 1 11M5346 2734l-28-6-19 1-4 6 4 16M4302 2681l-26-18M4334 2641l27 16 27 8 27 5 9-1 7-3M4426 2642l-10-10-15-11"/><path stroke="#87cb54" d="M5332 2739l-14 1-6 6M4340 2639l21 11 16 6 17 3 14 0 8-4 1-8-7-10-14-12"/><path stroke="#efba35" d="M4348 2636l26 11 18 3 6-3 2-4-8-12"/><path stroke="#f5e626" d="M4360 2632l10 0 0-4"/></g><g class="sf" transform="scale(.1)"><path class=zj d="M4855 1882l10-37-12-34-10 41z"/><path class=zd d="M4845 1974l10-92-12-30-10 100z"/><path class=S d="M4835 2097l10-123-12-22-10 134z"/><path class=G d="M4824 2220l11-123-12-11-10 134z"/><path class=u d="M4814 2311l10-91-11 0-10 100z"/><path class=zh d="M4743 1917l10 25-11-30-11-29z"/><path class=zg d="M4733 1953l10-36-12-34-10 40z"/><path class=za d="M4723 2044l10-91-12-30-10 99z"/><path class=Q d="M4713 2166l10-122-12-22-10 133z"/><path class=D d="M4703 2287l10-121-12-11-10 133z"/><path class=s d="M4692 2377l11-90-12 1-10 99z"/><path class=zf d="M4621 1975l10 27-11-30-11-30zM4611 2011l10-36-12-33-10 38z"/><path class=Z d="M4601 2100l10-89-12-31-10 98z"/><path class=P d="M4591 2221l10-121-12-22-10 132z"/><path class=C d="M4581 2341l10-120-12-11-10 132z"/><path class=r d="M4570 2430l11-89-12 1-10 97z"/><path class=zf d="M4489 2054l10-34-12-33-10 37z"/><path class=Z d="M4479 2143l10-89-12-30-10 97z"/><path class=P d="M4469 2262l10-119-12-22-10 130z"/><path class=D d="M4459 2381l10-119-12-11-10 131z"/><path class=r d="M4448 2470l11-89-12 1-10 97z"/><path class=zh d="M4367 2085l10-34-12-33-10 36z"/><path class=zb d="M4357 2172l10-87-12-31-10 96z"/><path class=Q d="M4347 2290l10-118-12-22-10 129z"/><path class=F d="M4337 2408l10-118-12-11-10 130z"/><path class=t d="M4326 2495l11-87-12 1-10 95z"/><path class=o d="M4306 2498l10 30-12 12-10-33z"/><path class=u d="M4296 2414l10 84-12 9-10-92z"/><path class=G d="M4286 2299l10 115-12 1-10-127z"/><path class=zg d="M4877 1890l10 21-12-42-10-24zM4867 1925l10-35-12-45-10 37z"/><path class=za d="M4857 2008l10-83-12-43-10 92z"/><path class=Q d="M4846 2120l11-112-12-34-10 123z"/><path class=F d="M4836 2232l10-112-11-23-11 123z"/><path class=v d="M4826 2316l10-84-12-12-10 91z"/><path class=ze d="M4755 1962l10 23-12-43-10-25z"/><path class=zd d="M4745 1995l10-33-12-45-10 36z"/><path class=Y d="M4735 2078l10-83-12-42-10 91z"/><path class=O d="M4724 2189l11-111-12-34-10 122z"/><path class=D d="M4714 2300l10-111-11-23-10 121z"/><path class=s d="M4704 2382l10-82-11-13-11 90z"/><path class=zc d="M4633 2020l10 24-12-42-10-27zM4623 2053l10-33-12-45-10 36z"/><path class=X d="M4613 2134l10-81-12-42-10 89z"/><path class=N d="M4602 2244l11-110-12-34-10 121z"/><path class=C d="M4592 2354l10-110-11-23-10 120z"/><path class=s d="M4582 2435l10-81-11-13-11 89z"/><path class=zc d="M4511 2065l10 25-12-42-10-28zM4501 2096l10-31-12-45-10 34z"/><path class=X d="M4491 2177l10-81-12-42-10 89z"/><path class=N d="M4480 2286l11-109-12-34-10 119z"/><path class=C d="M4470 2394l10-108-11-24-10 119z"/><path class=s d="M4460 2474l10-80-11-13-11 89z"/><path class=zd d="M4389 2096l10 27-12-43-10-29z"/><path class=ze d="M4379 2127l10-31-12-45-10 34z"/><path class=Y d="M4369 2206l10-79-12-42-10 87z"/><path class=P d="M4358 2314l11-108-12-34-10 118z"/><path class=E d="M4348 2421l10-107-11-24-10 118z"/><path class=u d="M4338 2500l10-79-11-13-11 87z"/><path class=p d="M4318 2503l10 27-12-2-10-30z"/><path class=v d="M4308 2427l10 76-12-5-10-84z"/><path class=F d="M4297 2322l11 105-12-13-10-115z"/><path class=zc d="M4889 1952l10 19-12-60-10-21zM4878 1984l11-32-12-62-10 35z"/><path class=W d="M4868 2061l10-77-11-59-10 83z"/><path class=N d="M4858 2162l10-101-11-53-11 112z"/><path class=D d="M4848 2264l10-102-12-42-10 112z"/><path class=t d="M4838 2340l10-76-12-32-10 84z"/><path class=Z d="M4767 2024l10 20-12-59-10-23zM4756 2055l11-31-12-62-10 33z"/><path class=U d="M4746 2130l10-75-11-60-10 83z"/><path class=L d="M4736 2231l10-101-11-52-11 111z"/><path class=B d="M4726 2331l10-100-12-42-10 111z"/><path class=r d="M4716 2406l10-75-12-31-10 82z"/><path class=Y d="M4645 2083l10 21-12-60-10-24zM4634 2112l11-29-12-63-10 33z"/><path class=T d="M4624 2186l10-74-11-59-10 81z"/><path class=K d="M4614 2286l10-100-11-52-11 110z"/><path class=A d="M4604 2385l10-99-12-42-10 110z"/><path class=q d="M4594 2459l10-74-12-31-10 81z"/><path class=Y d="M4523 2128l10 22-12-60-10-25zM4512 2156l11-28-12-63-10 31z"/><path class=T d="M4502 2229l10-73-11-60-10 81z"/><path class=K d="M4492 2327l10-98-11-52-11 109z"/><path class=A d="M4482 2426l10-99-12-41-10 108z"/><path class=r d="M4472 2498l10-72-12-32-10 80z"/><path class=Z d="M4401 2159l10 23-12-59-10-27zM4390 2187l11-28-12-63-10 31z"/><path class=U d="M4380 2258l10-71-11-60-10 79z"/><path class=M d="M4370 2355l10-97-11-52-11 108z"/><path class=C d="M4360 2453l10-98-12-41-10 107z"/><path class=t d="M4350 2524l10-71-12-32-10 79z"/><path class=o d="M4329 2527l11 24-12-21-10-27z"/><path class=t d="M4319 2459l10 68-11-24-10-76z"/><path class=D d="M4309 2364l10 95-11-32-11-105z"/><path class=W d="M4900 2027l10 16-11-72-10-19zM4890 2056l10-29-11-75-11 32z"/><path class=R d="M4880 2125l10-69-12-72-10 77z"/><path class=J d="M4870 2217l10-92-12-64-10 101z"/><path class=A d="M4860 2309l10-92-12-55-10 102z"/><path class=r d="M4849 2378l11-69-12-45-10 76z"/><path class=P d="M4788 2116l11 57-12-64-10-65z"/><path class=T d="M4778 2098l10 18-11-72-10-20zM4768 2127l10-29-11-74-11 31z"/><path class=O d="M4758 2195l10-68-12-72-10 75z"/><path class=H d="M4748 2286l10-91-12-65-10 101z"/><path class=w d="M4738 2376l10-90-12-55-10 100z"/><path class=p d="M4727 2444l11-68-12-45-10 75z"/><path class=N d="M4666 2176l11 58-12-65-10-65z"/><path class=S d="M4656 2157l10 19-11-72-10-21zM4646 2184l10-27-11-74-11 29z"/><path class=N d="M4636 2251l10-67-12-72-10 74z"/><path class=F d="M4626 2341l10-90-12-65-10 100z"/><path class=w d="M4616 2430l10-89-12-55-10 99z"/><path class=o d="M4605 2497l11-67-12-45-10 74z"/><path class=S d="M4534 2202l10 20-11-72-10-22zM4524 2228l10-26-11-74-11 28z"/><path class=N d="M4514 2294l10-66-12-72-10 73z"/><path class=G d="M4504 2382l10-88-12-65-10 98z"/><path class=w d="M4494 2471l10-89-12-55-10 99z"/><path class=o d="M4483 2536l11-65-12-45-10 72z"/><path class=T d="M4412 2233l10 21-11-72-10-23zM4402 2258l10-25-11-74-11 28z"/><path class=P d="M4392 2323l10-65-12-71-10 71z"/><path class=H d="M4382 2410l10-87-12-65-10 97z"/><path class=y d="M4372 2498l10-88-12-55-10 98z"/><path class=q d="M4361 2562l11-64-12-45-10 71z"/><path class=r d="M4331 2503l10 62-12-38-10-68z"/><path class=A d="M4321 2419l10 84-12-44-10-95z"/><path class=Q d="M4912 2098l10 14-12-69-10-16z"/><path class=P d="M4902 2125l10-27-12-71-10 29z"/><path class=L d="M4892 2188l10-63-12-69-10 69z"/><path class=E d="M4881 2270l11-82-12-63-10 92z"/><path class=v d="M4871 2353l10-83-11-53-10 92z"/><path class=n d="M4861 2415l10-62-11-44-11 69z"/><path class=N d="M4790 2170l10 15-12-69-10-18zM4780 2196l10-26-12-72-10 29z"/><path class=I d="M4770 2257l10-61-12-69-10 68z"/><path class=B d="M4759 2339l11-82-12-62-10 91z"/><path class=s d="M4749 2420l10-81-11-53-10 90z"/><path class=l d="M4739 2481l10-61-11-44-11 68z"/><path class=H d="M4678 2245l10 51-11-62-11-58z"/><path class=L d="M4668 2229l10 16-12-69-10-19zM4658 2254l10-25-12-72-10 27z"/><path class=H d="M4648 2314l10-60-12-70-10 67z"/><path class=A d="M4637 2394l11-80-12-63-10 90z"/><path class=r d="M4627 2474l10-80-11-53-10 89z"/><path class=H d="M4556 2291l10 53-11-63-11-59z"/><path class=L d="M4546 2274l10 17-12-69-10-20zM4536 2297l10-23-12-72-10 26z"/><path class=H d="M4526 2356l10-59-12-69-10 66z"/><path class=B d="M4515 2436l11-80-12-62-10 88z"/><path class=s d="M4505 2515l10-79-11-54-10 89z"/><path class=N d="M4424 2305l10 18-12-69-10-21zM4414 2328l10-23-12-72-10 25z"/><path class=J d="M4404 2385l10-57-12-70-10 65z"/><path class=C d="M4394 2464l10-79-12-62-10 87z"/><path class=t d="M4383 2542l11-78-12-54-10 88z"/><path class=n d="M4373 2599l10-57-11-44-11 64zM4343 2548l10 54-12-37-10-62z"/><path class=v d="M4333 2473l10 75-12-45-10-84z"/><path class=H d="M4934 2166l10 42-12-46-10-50z"/><path class=K d="M4924 2154l10 12-12-54-10-14zM4914 2179l10-25-12-56-10 27z"/><path class=G d="M4903 2235l11-56-12-54-10 63z"/><path class=A d="M4893 2309l10-74-11-47-11 82z"/><path class=r d="M4883 2382l10-73-12-39-10 83z"/><path class=l d="M4873 2438l10-56-12-29-10 62z"/><path class=H d="M4802 2226l10 13-12-54-10-15zM4792 2250l10-24-12-56-10 26z"/><path class=D d="M4781 2304l11-54-12-54-10 61z"/><path class=w d="M4771 2377l10-73-11-47-11 82z"/><path class=p d="M4761 2450l10-73-12-38-10 81z"/><path class=G d="M4680 2284l10 14-12-53-10-16zM4670 2307l10-23-12-55-10 25z"/><path class=C d="M4659 2361l11-54-12-53-10 60z"/><path class=v d="M4649 2432l10-71-11-47-11 80z"/><path class=o d="M4639 2504l10-72-12-38-10 80z"/><path class=G d="M4558 2329l10 15-12-53-10-17zM4548 2351l10-22-12-55-10 23z"/><path class=C d="M4537 2403l11-52-12-54-10 59z"/><path class=v d="M4527 2474l10-71-11-47-11 80z"/><path class=o d="M4517 2544l10-70-12-38-10 79z"/><path class=H d="M4436 2361l10 16-12-54-10-18zM4426 2381l10-20-12-56-10 23z"/><path class=E d="M4415 2432l11-51-12-53-10 57z"/><path class=x d="M4405 2502l10-70-11-47-10 79z"/><path class=q d="M4395 2571l10-69-11-38-11 78z"/><path class=l d="M4354 2577l11 48-12-23-10-54z"/><path class=r d="M4344 2511l10 66-11-29-10-75z"/><path class=H d="M4935 2187l11 10-12-31-10-12z"/><path class=G d="M4925 2210l10-23-11-33-10 25z"/><path class=D d="M4915 2260l10-50-11-31-11 56z"/><path class=w d="M4905 2326l10-66-12-25-10 74z"/><path class=q d="M4895 2391l10-65-12-17-10 73z"/><path class=k d="M4885 2441l10-50-12-9-10 56z"/><path class=E d="M4813 2259l11 11-12-31-10-13zM4803 2281l10-22-11-33-10 24z"/><path class=A d="M4793 2330l10-49-11-31-11 54z"/><path class=u d="M4783 2394l10-64-12-26-10 73z"/><path class=n d="M4773 2459l10-65-12-17-10 73z"/><path class=i d="M4763 2507l10-48-12-9-10 54z"/><path class=C d="M4691 2318l11 11-12-31-10-14zM4681 2338l10-20-11-34-10 23z"/><path class=y d="M4671 2386l10-48-11-31-11 54z"/><path class=t d="M4661 2449l10-63-12-25-10 71z"/><path class=m d="M4651 2513l10-64-12-17-10 72z"/><path class=C d="M4569 2363l11 13-12-32-10-15zM4559 2382l10-19-11-34-10 22z"/><path class=y d="M4549 2428l10-46-11-31-11 52z"/><path class=t d="M4539 2491l10-63-12-25-10 71z"/><path class=n d="M4529 2553l10-62-12-17-10 70z"/><path class=E d="M4447 2394l11 14-12-31-10-16zM4437 2412l10-18-11-33-10 20z"/><path class=B d="M4427 2458l10-46-11-31-11 51z"/><path class=v d="M4417 2519l10-61-12-26-10 70z"/><path class=p d="M4407 2580l10-61-12-17-10 69z"/><path class=h d="M4376 2628l10 15-11-1-10-17z"/><path class=k d="M4366 2586l10 42-11-3-11-48z"/><path class=q d="M4356 2528l10 58-12-9-10-66z"/><path class=F d="M4947 2205l10 7-11-15-11-10zM4937 2225l10-20-12-18-10 23z"/><path class=C d="M4927 2269l10-44-12-15-10 50z"/><path class=w d="M4917 2327l10-58-12-9-10 66z"/><path class=q d="M4906 2385l11-58-12-1-10 65z"/><path class=l d="M4896 2430l10-45-11 6-10 50z"/><path class=C d="M4825 2277l10 8-11-15-11-11zM4815 2296l10-19-12-18-10 22z"/><path class=y d="M4805 2339l10-43-12-15-10 49z"/><path class=t d="M4795 2396l10-57-12-9-10 64z"/><path class=o d="M4784 2453l11-57-12-2-10 65z"/><path class=j d="M4774 2496l10-43-11 6-10 48z"/><path class=B d="M4703 2335l10 10-11-16-11-11zM4693 2353l10-18-12-17-10 20z"/><path class=x d="M4683 2395l10-42-12-15-10 48z"/><path class=s d="M4673 2451l10-56-12-9-10 63z"/><path class=n d="M4662 2507l11-56-12-2-10 64z"/><path class=i d="M4652 2549l10-42-11 6-10 47z"/><path class=B d="M4581 2380l10 11-11-15-11-13zM4571 2397l10-17-12-17-10 19z"/><path class=x d="M4561 2438l10-41-12-15-10 46z"/><path class=s d="M4551 2493l10-55-12-10-10 63z"/><path class=n d="M4540 2547l11-54-12-2-10 62z"/><path class=i d="M4530 2588l10-41-11 6-10 46z"/><path class=C d="M4449 2427l10-16-12-17-10 18z"/><path class=A d="M4439 2467l10-40-12-15-10 46z"/><path class=u d="M4429 2521l10-54-12-9-10 61z"/><path class=p d="M4418 2574l11-53-12-2-10 61z"/><path class=k d="M4408 2614l10-40-11 6-10 45z"/><path class=i d="M4388 2617l10 12-12 14-10-15z"/><path class=l d="M4378 2580l10 37-12 11-10-42z"/><path class=q d="M4368 2530l10 50-12 6-10-58z"/><path class=E d="M4959 2219l10 6-12-13-10-7zM4949 2238l10-19-12-14-10 20z"/><path class=B d="M4938 2277l11-39-12-13-10 44z"/><path class=w d="M4928 2328l10-51-11-8-10 58z"/><path class=r d="M4918 2379l10-51-11-1-11 58z"/><path class=m d="M4908 2418l10-39-12 6-10 45z"/><path class=B d="M4837 2291l10 7-12-13-10-8zM4827 2309l10-18-12-14-10 19z"/><path class=y d="M4816 2347l11-38-12-13-10 43z"/><path class=t d="M4806 2397l10-50-11-8-10 57z"/><path class=p d="M4796 2446l10-49-11-1-11 57z"/><path class=k d="M4786 2484l10-38-12 7-10 43z"/><path class=A d="M4715 2350l10 7-12-12-10-10zM4705 2366l10-16-12-15-10 18z"/><path class=x d="M4694 2403l11-37-12-13-10 42z"/><path class=s d="M4684 2452l10-49-11-8-10 56z"/><path class=o d="M4674 2500l10-48-11-1-11 56z"/><path class=j d="M4664 2537l10-37-12 7-10 42z"/><path class=A d="M4583 2410l10-15-12-15-10 17z"/><path class=x d="M4572 2446l11-36-12-13-10 41z"/><path class=t d="M4562 2493l10-47-11-8-10 55z"/><path class=o d="M4552 2541l10-48-11 0-11 54z"/><path class=k d="M4542 2576l10-35-12 6-10 41z"/><path class=B d="M4471 2426l10 10-12-13-10-12zM4461 2440l10-14-12-15-10 16z"/><path class=y d="M4450 2475l11-35-12-13-10 40z"/><path class=u d="M4440 2521l10-46-11-8-10 54z"/><path class=q d="M4430 2568l10-47-11 0-11 53z"/><path class=m d="M4420 2602l10-34-12 6-10 40z"/><path class=k d="M4400 2605l10 10-12 14-10-12z"/><path class=m d="M4389 2573l11 32-12 12-10-37z"/><path class=r d="M4379 2530l10 43-11 7-10-50z"/><path class=D d="M4970 2246l11 3-12-24-10-6zM4960 2263l10-17-11-27-10 19z"/><path class=A d="M4950 2297l10-34-11-25-11 39z"/><path class=w d="M4940 2341l10-44-12-20-10 51z"/><path class=r d="M4930 2386l10-45-12-13-10 51z"/><path class=n d="M4920 2420l10-34-12-7-10 39z"/><path class=l d="M4909 2436l11-16-12-2-10 18z"/><path class=A d="M4848 2318l11 5-12-25-10-7zM4838 2333l10-15-11-27-10 18z"/><path class=x d="M4828 2367l10-34-11-24-11 38z"/><path class=t d="M4818 2410l10-43-12-20-10 50z"/><path class=p d="M4808 2453l10-43-12-13-10 49z"/><path class=l d="M4798 2486l10-33-12-7-10 38z"/><path class=j d="M4787 2501l11-15-12-2-10 17z"/><path class=y d="M4726 2376l11 6-12-25-10-7zM4716 2391l10-15-11-26-10 16z"/><path class=w d="M4706 2423l10-32-11-25-11 37z"/><path class=s d="M4696 2465l10-42-12-20-10 49z"/><path class=o d="M4686 2507l10-42-12-13-10 48z"/><path class=k d="M4676 2539l10-32-12-7-10 37z"/><path class=i d="M4665 2553l11-14-12-2-10 16z"/><path class=y d="M4604 2421l11 7-12-25-10-8zM4594 2435l10-14-11-26-10 15z"/><path class=w d="M4584 2465l10-30-11-25-11 36z"/><path class=s d="M4574 2506l10-41-12-19-10 47z"/><path class=o d="M4564 2547l10-41-12-13-10 48z"/><path class=l d="M4554 2578l10-31-12-6-10 35z"/><path class=j d="M4543 2591l11-13-12-2-10 15z"/><path class=A d="M4483 2453l10 8-12-25-10-10zM4472 2465l11-12-12-27-10 14z"/><path class=x d="M4462 2495l10-30-11-25-11 35z"/><path class=u d="M4452 2534l10-39-12-20-10 46z"/><path class=q d="M4442 2574l10-40-12-13-10 47z"/><path class=n d="M4432 2604l10-30-12-6-10 34z"/><path class=l d="M4422 2615l10-11-12-2-10 13zM4411 2607l11 8-12 0-10-10z"/><path class=n d="M4401 2580l10 27-11-2-11-32z"/><path class=r d="M4391 2543l10 37-12-7-10-43z"/><path class=y d="M4992 2292l11 17-12-38-10-22z"/><path class=A d="M4982 2290l10 2-11-43-11-3zM4972 2305l10-15-12-44-10 17z"/><path class=x d="M4962 2335l10-30-12-42-10 34z"/><path class=u d="M4952 2373l10-38-12-38-10 44z"/><path class=q d="M4942 2411l10-38-12-32-10 45z"/><path class=n d="M4931 2441l11-30-12-25-10 34z"/><path class=l d="M4921 2455l10-14-11-21-11 16zM4911 2453l10 2-12-19-10-4z"/><path class=m d="M4901 2435l10 18-12-21-10-22z"/><path class=v d="M4870 2365l11 18-12-38-10-22z"/><path class=w d="M4860 2362l10 3-11-42-11-5zM4850 2376l10-14-12-44-10 15z"/><path class=u d="M4840 2404l10-28-12-43-10 34z"/><path class=r d="M4830 2442l10-38-12-37-10 43z"/><path class=o d="M4820 2479l10-37-12-32-10 43z"/><path class=l d="M4809 2507l11-28-12-26-10 33z"/><path class=j d="M4799 2521l10-14-11-21-11 15zM4789 2517l10 4-12-20-10-5z"/><path class=k d="M4779 2498l10 19-12-21-10-24z"/><path class=r d="M4759 2443l10 28-12-32-10-33z"/><path class=t d="M4748 2424l11 19-12-37-10-24z"/><path class=v d="M4738 2420l10 4-11-42-11-6zM4728 2433l10-13-12-44-10 15z"/><path class=t d="M4718 2461l10-28-12-42-10 32z"/><path class=q d="M4708 2497l10-36-12-38-10 42z"/><path class=n d="M4698 2533l10-36-12-32-10 42z"/><path class=k d="M4687 2560l11-27-12-26-10 32z"/><path class=i d="M4677 2572l10-12-11-21-11 14zM4667 2567l10 5-12-19-10-7z"/><path class=t d="M4626 2470l11 21-12-38-10-25z"/><path class=v d="M4616 2465l10 5-11-42-11-7zM4606 2477l10-12-12-44-10 14z"/><path class=t d="M4596 2503l10-26-12-42-10 30z"/><path class=r d="M4586 2538l10-35-12-38-10 41z"/><path class=n d="M4576 2573l10-35-12-32-10 41z"/><path class=k d="M4565 2599l11-26-12-26-10 31z"/><path class=j d="M4555 2610l10-11-11-21-11 13zM4545 2604l10 6-12-19-10-8z"/><path class=u d="M4504 2503l11 21-12-38-10-25z"/><path class=w d="M4494 2497l10 6-11-42-10-8zM4484 2507l10-10-11-44-11 12z"/><path class=v d="M4474 2532l10-25-12-42-10 30z"/><path class=s d="M4464 2566l10-34-12-37-10 39z"/><path class=p d="M4454 2600l10-34-12-32-10 40z"/><path class=m d="M4443 2625l11-25-12-26-10 30z"/><path class=l d="M4433 2635l10-10-11-21-10 11zM4423 2628l10 7-11-20-11-8z"/><path class=n d="M4413 2606l10 22-12-21-10-27z"/><path class=q d="M4403 2575l10 31-12-26-10-37z"/><path class=s d="M5014 2359l10 19-11-44-10-25z"/><path class=u d="M5004 2346l10 13-11-50-11-17z"/><path class=v d="M4994 2345l10 1-12-54-10-2zM4984 2359l10-14-12-55-10 15z"/><path class=t d="M4974 2385l10-26-12-54-10 30z"/><path class=q d="M4963 2418l11-33-12-50-10 38z"/><path class=n d="M4953 2450l10-32-11-45-10 38z"/><path class=l d="M4943 2476l10-26-11-39-11 30z"/><path class=j d="M4933 2489l10-13-12-35-10 14zM4923 2488l10 1-12-34-10-2z"/><path class=k d="M4913 2474l10 14-12-35-10-18z"/><path class=m d="M4902 2454l11 20-12-39-10-26z"/><path class=p d="M4892 2433l10 21-11-45-10-26z"/><path class=r d="M4882 2419l10 14-11-50-11-18z"/><path class=s d="M4872 2417l10 2-12-54-10-3zM4862 2430l10-13-12-55-10 14z"/><path class=r d="M4852 2455l10-25-12-54-10 28z"/><path class=o d="M4841 2486l11-31-12-51-10 38z"/><path class=l d="M4831 2518l10-32-11-44-10 37z"/><path class=i d="M4821 2542l10-24-11-39-11 28z"/><path class=h d="M4811 2554l10-12-12-35-10 14zM4801 2552l10 2-12-33-10-4z"/><path class=i d="M4791 2537l10 15-12-35-10-19z"/><path class=k d="M4780 2515l11 22-12-39-10-27z"/><path class=n d="M4770 2494l10 21-11-44-10-28z"/><path class=q d="M4760 2479l10 15-11-51-11-19z"/><path class=r d="M4750 2476l10 3-12-55-10-4zM4740 2487l10-11-12-56-10 13z"/><path class=p d="M4730 2511l10-24-12-54-10 28z"/><path class=n d="M4719 2541l11-30-12-50-10 36z"/><path class=k d="M4709 2572l10-31-11-44-10 36z"/><path class=i d="M4699 2595l10-23-11-39-11 27z"/><path class=g d="M4689 2606l10-11-12-35-10 12zM4679 2602l10 4-12-34-10-5z"/><path class=i d="M4669 2587l10 15-12-35-10-19z"/><path class=k d="M4658 2564l11 23-12-39-10-29z"/><path class=n d="M4648 2541l10 23-11-45-10-28z"/><path class=p d="M4638 2525l10 16-11-50-11-21z"/><path class=r d="M4628 2521l10 4-12-55-10-5zM4618 2531l10-10-12-56-10 12z"/><path class=q d="M4608 2553l10-22-12-54-10 26z"/><path class=n d="M4597 2583l11-30-12-50-10 35z"/><path class=k d="M4587 2612l10-29-11-45-10 35z"/><path class=i d="M4577 2634l10-22-11-39-11 26z"/><path class=h d="M4567 2644l10-10-12-35-10 11zM4557 2639l10 5-12-34-10-6z"/><path class=i d="M4547 2622l10 17-12-35-10-21z"/><path class=l d="M4536 2598l11 24-12-39-10-29z"/><path class=o d="M4526 2574l10 24-11-44-10-30z"/><path class=r d="M4516 2557l10 17-11-50-11-21z"/><path class=s d="M4506 2552l10 5-12-54-10-6zM4496 2561l10-9-12-55-10 10z"/><path class=r d="M4486 2583l10-22-12-54-10 25z"/><path class=p d="M4475 2611l11-28-12-51-10 34z"/><path class=m d="M4465 2639l10-28-11-45-10 34z"/><path class=k d="M4455 2660l10-21-11-39-11 25z"/><path class=j d="M4445 2668l10-8-12-35-10 10zM4435 2663l10 5-12-33-10-7z"/><path class=l d="M4425 2645l10 18-12-35-10-22z"/><path class=n d="M4414 2620l11 25-12-39-10-31z"/><path class=o d="M5026 2407l10 15-12-44-10-19z"/><path class=q d="M5016 2398l10 9-12-48-10-13z"/><path class=r d="M5006 2399l10-1-12-52-10-1z"/><path class=q d="M4995 2411l11-12-12-54-10 14z"/><path class=p d="M4985 2433l10-22-11-52-10 26z"/><path class=n d="M4975 2461l10-28-11-48-11 33z"/><path class=k d="M4965 2489l10-28-12-43-10 32z"/><path class=i d="M4955 2510l10-21-12-39-10 26z"/><path class=g d="M4945 2522l10-12-12-34-10 13zM4934 2522l11 0-12-33-10-1z"/><path class=h d="M4924 2513l10 9-11-34-10-14z"/><path class=j d="M4914 2497l10 16-11-39-11-20z"/><path class=l d="M4904 2481l10 16-12-43-10-21z"/><path class=n d="M4894 2471l10 10-12-48-10-14z"/><path class=o d="M4884 2471l10 0-12-52-10-2zM4873 2482l11-11-12-54-10 13z"/><path class=m d="M4863 2503l10-21-11-52-10 25z"/><path class=k d="M4853 2529l10-26-11-48-11 31z"/><path class=i d="M4843 2556l10-27-12-43-10 32z"/><path class=e d="M4823 2587l10-10-12-35-10 12zM4812 2586l11 1-12-33-10-2z"/><path class=f d="M4802 2575l10 11-11-34-10-15z"/><path class=h d="M4792 2559l10 16-11-38-11-22z"/><path class=j d="M4782 2542l10 17-12-44-10-21z"/><path class=l d="M4772 2531l10 11-12-48-10-15z"/><path class=m d="M4762 2529l10 2-12-52-10-3zM4751 2539l11-10-12-53-10 11z"/><path class=l d="M4741 2559l10-20-11-52-10 24z"/><path class=j d="M4731 2585l10-26-11-48-11 30z"/><path class=h d="M4721 2610l10-25-12-44-10 31z"/><path class=f d="M4711 2629l10-19-12-38-10 23z"/><path class=d d="M4701 2639l10-10-12-34-10 11zM4690 2637l11 2-12-33-10-4z"/><path class=f d="M4680 2625l10 12-11-35-10-15z"/><path class=h d="M4670 2607l10 18-11-38-11-23z"/><path class=j d="M4660 2589l10 18-12-43-10-23z"/><path class=l d="M4650 2577l10 12-12-48-10-16z"/><path class=m d="M4640 2574l10 3-12-52-10-4zM4629 2583l11-9-12-53-10 10z"/><path class=l d="M4619 2602l10-19-11-52-10 22z"/><path class=j d="M4609 2626l10-24-11-49-11 30z"/><path class=h d="M4599 2650l10-24-12-43-10 29z"/><path class=f d="M4589 2669l10-19-12-38-10 22z"/><path class=e d="M4579 2677l10-8-12-35-10 10zM4568 2674l11 3-12-33-10-5z"/><path class=f d="M4558 2661l10 13-11-35-10-17z"/><path class=i d="M4548 2642l10 19-11-39-11-24z"/><path class=k d="M4538 2623l10 19-12-44-10-24z"/><path class=m d="M4528 2609l10 14-12-49-10-17z"/><path class=o d="M4518 2605l10 4-12-52-10-5zM4507 2613l11-8-12-53-10 9z"/><path class=n d="M4497 2631l10-18-11-52-10 22z"/><path class=l d="M4487 2654l10-23-11-48-11 28z"/><path class=j d="M4477 2677l10-23-12-43-10 28z"/><path class=h d="M4467 2694l10-17-12-38-10 21z"/><path class=g d="M4457 2702l10-8-12-34-10 8zM4446 2697l11 5-12-34-10-5z"/><path class=i d="M4436 2683l10 14-11-34-10-18z"/><path class=k d="M4426 2663l10 20-11-38-11-25z"/><path class=l d="M5038 2439l10 11-12-28-10-15z"/><path class=m d="M5027 2434l11 5-12-32-10-9z"/><path class=n d="M5017 2436l10-2-11-36-10 1zM5007 2447l10-11-11-37-11 12z"/><path class=l d="M4997 2466l10-19-12-36-10 22z"/><path class=j d="M4987 2489l10-23-12-33-10 28z"/><path class=h d="M4977 2512l10-23-12-28-10 28z"/><path class=f d="M4966 2531l11-19-12-23-10 21z"/><path class=g d="M4926 2525l10 11-12-23-10-16z"/><path class=i d="M4916 2514l10 11-12-28-10-16z"/><path class=j d="M4905 2507l11 7-12-33-10-10z"/><path class=k d="M4895 2508l10-1-11-36-10 0zM4885 2518l10-10-11-37-11 11z"/><path class=j d="M4875 2535l10-17-12-36-10 21z"/><path class=h d="M4865 2557l10-22-12-32-10 26z"/><path class=f d="M4855 2579l10-22-12-28-10 27z"/><path class=e d="M4804 2587l10 12-12-24-10-16z"/><path class=g d="M4794 2574l10 13-12-28-10-17z"/><path class=i d="M4783 2566l11 8-12-32-10-11z"/><path class=j d="M4773 2566l10 0-11-35-10-2zM4763 2575l10-9-11-37-11 10z"/><path class=i d="M4753 2592l10-17-12-36-10 20z"/><path class=g d="M4743 2613l10-21-12-33-10 26z"/><path class=e d="M4733 2633l10-20-12-28-10 25z"/><path class=c d="M4722 2650l11-17-12-23-10 19z"/><path class=e d="M4682 2635l10 13-12-23-10-18z"/><path class=g d="M4672 2621l10 14-12-28-10-18z"/><path class=i d="M4661 2612l11 9-12-32-10-12z"/><path class=j d="M4651 2611l10 1-11-35-10-3zM4641 2619l10-8-11-37-11 9z"/><path class=i d="M4631 2634l10-15-12-36-10 19z"/><path class=g d="M4621 2654l10-20-12-32-10 24z"/><path class=e d="M4611 2674l10-20-12-28-10 24z"/><path class=d d="M4600 2689l11-15-12-24-10 19z"/><path class=h d="M4550 2655l10 15-12-28-10-19z"/><path class=j d="M4539 2645l11 10-12-32-10-14z"/><path class=k d="M4529 2642l10 3-11-36-10-4zM4519 2649l10-7-11-37-11 8z"/><path class=j d="M4509 2663l10-14-12-36-10 18z"/><path class=i d="M4499 2682l10-19-12-32-10 23z"/><path class=g d="M4489 2701l10-19-12-28-10 23z"/><path class=f d="M4478 2715l11-14-12-24-10 17z"/><path class=h d="M4438 2691l10 16-12-24-10-20z"/><path class=l d="M5039 2448l10 2-11-11-11-5zM5029 2451l10-3-12-14-10 2zM5019 2461l10-10-12-15-10 11z"/><path class=k d="M5009 2477l10-16-12-14-10 19z"/><path class=i d="M4998 2496l11-19-12-11-10 23z"/><path class=h d="M4988 2515l10-19-11-7-10 23z"/><path class=i d="M4917 2521l10 4-11-11-11-7zM4907 2523l10-2-12-14-10 1zM4897 2531l10-8-12-15-10 10z"/><path class=h d="M4887 2546l10-15-12-13-10 17z"/><path class=g d="M4876 2564l11-18-12-11-10 22z"/><path class=e d="M4866 2582l10-18-11-7-10 22z"/><path class=g d="M4795 2580l10 5-11-11-11-8z"/><path class=h d="M4785 2581l10-1-12-14-10 0zM4775 2589l10-8-12-15-10 9z"/><path class=g d="M4765 2602l10-13-12-14-10 17z"/><path class=f d="M4754 2619l11-17-12-10-10 21z"/><path class=d d="M4744 2636l10-17-11-6-10 20z"/><path class=g d="M4673 2626l10 6-11-11-11-9z"/><path class=h d="M4663 2626l10 0-12-14-10-1zM4653 2633l10-7-12-15-10 8z"/><path class=g d="M4643 2645l10-12-12-14-10 15z"/><path class=f d="M4633 2661l10-16-12-11-10 20z"/><path class=e d="M4622 2677l11-16-12-7-10 20z"/><path class=i d="M4541 2657l10 2-12-14-10-3zM4531 2663l10-6-12-15-10 7zM4521 2674l10-11-12-14-10 14z"/><path class=h d="M4511 2689l10-15-12-11-10 19z"/><path class=f d="M4500 2704l11-15-12-7-10 19zM4460 2710l10 8-12 0-10-11z"/><path class=h d="M4450 2698l10 12-12-3-10-16z"/><path class=l d="M5041 2449l10-4-12 3-10 3zM5031 2458l10-9-12 2-10 10z"/><path class=k d="M5020 2472l11-14-12 3-10 16z"/><path class=j d="M5010 2487l10-15-11 5-11 19z"/><path class=i d="M5000 2503l10-16-12 9-10 19zM4919 2521l10-3-12 3-10 2zM4909 2529l10-8-12 2-10 8zM4898 2541l11-12-12 2-10 15z"/><path class=g d="M4888 2556l10-15-11 5-11 18z"/><path class=f d="M4878 2571l10-15-12 8-10 18z"/><path class=h d="M4787 2586l10-6-12 1-10 8z"/><path class=g d="M4776 2597l11-11-12 3-10 13z"/><path class=f d="M4766 2611l10-14-11 5-11 17z"/><path class=e d="M4756 2625l10-14-12 8-10 17z"/><path class=h d="M4665 2630l10-6-12 2-10 7zM4654 2640l11-10-12 3-10 12z"/><path class=g d="M4644 2653l10-13-11 5-10 16z"/><path class=i d="M4543 2660l10-4-12 1-10 6zM4532 2669l11-9-12 3-10 11z"/><path class=h d="M4522 2681l10-12-11 5-10 15z"/><path class=f d="M4492 2705l10-5-12 15-10 5z"/><path class=g d="M4482 2703l10 2-12 15-10-2zM4471 2698l11 5-12 15-10-8z"/><path class=i d="M4461 2690l10 8-11 12-10-12z"/><path class=m d="M5042 2454l10-9-11 4-10 9z"/><path class=l d="M5032 2465l10-11-11 4-11 14z"/><path class=k d="M5022 2478l10-13-12 7-10 15z"/><path class=j d="M5012 2491l10-13-12 9-10 16zM4920 2524l10-7-11 4-10 8zM4910 2535l10-11-11 5-11 12z"/><path class=i d="M4900 2546l10-11-12 6-10 15z"/><path class=h d="M4890 2558l10-12-12 10-10 15z"/><path class=i d="M4798 2582l10-6-11 4-10 6zM4788 2591l10-9-11 4-11 11z"/><path class=h d="M4778 2601l10-10-12 6-10 14z"/><path class=g d="M4768 2612l10-11-12 10-10 14z"/><path class=i d="M4676 2626l10-5-11 3-10 6zM4666 2633l10-7-11 4-11 10z"/><path class=h d="M4656 2643l10-10-12 7-10 13z"/><path class=j d="M4554 2656l10-4-11 4-10 4zM4544 2663l10-7-11 4-11 9zM4534 2671l10-8-12 6-10 12z"/><path class=i d="M4493 2689l10 0-11 16-10-2zM4483 2685l10 4-11 14-11-5z"/><path class=j d="M4473 2680l10 5-12 13-10-8z"/><path class=n d="M5064 2453l10-5-11-7-11 4z"/><path class=m d="M5054 2461l10-8-12-8-10 9zM5044 2470l10-9-12-7-10 11z"/><path class=l d="M5034 2481l10-11-12-5-10 13z"/><path class=k d="M5023 2491l11-10-12-3-10 13zM5013 2501l10-10-11 0-10 11z"/><path class=j d="M5003 2508l10-7-11 1-11 7zM4993 2513l10-5-12 1-10 5zM4983 2515l10-2-12 1-10 1z"/><path class=k d="M4942 2525l10-4-11-7-11 3zM4932 2532l10-7-12-8-10 7z"/><path class=j d="M4922 2540l10-8-12-8-10 11zM4912 2550l10-10-12-5-10 11z"/><path class=i d="M4901 2559l11-9-12-4-10 12zM4891 2567l10-8-11-1-10 10z"/><path class=h d="M4881 2573l10-6-11 1-11 7zM4871 2577l10-4-12 2-10 3zM4861 2578l10-1-12 1-10 0z"/><path class=j d="M4810 2589l10-5-12-8-10 6z"/><path class=i d="M4800 2596l10-7-12-7-10 9zM4790 2605l10-9-12-5-10 10z"/><path class=h d="M4779 2613l11-8-12-4-10 11zM4769 2620l10-7-11-1-10 9z"/><path class=g d="M4759 2625l10-5-11 1-11 5zM4749 2627l10-2-12 1-10 2z"/><path class=h d="M4739 2628l10-1-12 1-10-1zM4729 2627l10 1-12-1-10-3z"/><path class=i d="M4718 2626l11 1-12-3-10-3zM4708 2626l10 0-11-5-10-2z"/><path class=j d="M4698 2629l10-3-11-7-11 2zM4688 2633l10-4-12-8-10 5z"/><path class=i d="M4678 2639l10-6-12-7-10 7zM4668 2646l10-7-12-6-10 10zM4657 2653l11-7-12-3-10 9z"/><path class=h d="M4647 2659l10-6-11-1-10 8zM4637 2663l10-4-11 1-11 4z"/><path class=j d="M4596 2660l11 2-12-3-10-5zM4586 2659l10 1-11-6-10-2z"/><path class=k d="M4576 2660l10-1-11-7-11 0zM4566 2663l10-3-12-8-10 4zM4556 2668l10-5-12-7-10 7zM4546 2674l10-6-12-5-10 8z"/><path class=j d="M4535 2680l11-6-12-3-10 8zM4525 2685l10-5-11-1-10 7zM4515 2687l10-2-11 1-11 3zM4505 2688l10-1-12 2-10 0z"/><path class=k d="M4485 2683l10 3-12-1-10-5z"/><path class=m d="M5096 2468l10-5-11-21-11 2zM5066 2486l10-7-12-26-10 8z"/><path class=l d="M5055 2494l11-8-12-25-10 9zM5045 2503l10-9-11-24-10 11z"/><path class=k d="M5035 2511l10-8-11-22-11 10zM5025 2519l10-8-12-20-10 10z"/><path class=j d="M5015 2526l10-7-12-18-10 7zM5005 2531l10-5-12-18-10 5zM4994 2535l11-4-12-18-10 2zM4984 2539l10-4-11-20-10 2zM4974 2542l10-3-11-22-11 1zM4933 2564l11-7-12-25-10 8z"/><path class=i d="M4923 2571l10-7-11-24-10 10zM4913 2579l10-8-11-21-11 9z"/><path class=h d="M4903 2585l10-6-12-20-10 8zM4893 2591l10-6-12-18-10 6zM4883 2595l10-4-12-18-10 4zM4872 2598l11-3-12-18-10 1zM4862 2600l10-2-11-20-10 1zM4852 2603l10-3-11-21-11 0z"/><path class=i d="M4811 2620l11-6-12-25-10 7z"/><path class=h d="M4801 2626l10-6-11-24-10 9zM4791 2633l10-7-11-21-11 8z"/><path class=g d="M4771 2643l10-5-12-18-10 5zM4761 2646l10-3-12-18-10 2z"/><path class=h d="M4750 2648l11-2-12-19-10 1zM4740 2649l10-1-11-20-10-1zM4730 2650l10-1-11-22-11-1z"/><path class=i d="M4720 2651l10-1-12-24-10 0zM4710 2654l10-3-12-25-10 3zM4700 2658l10-4-12-25-10 4zM4689 2662l11-4-12-25-10 6z"/><path class=h d="M4679 2668l10-6-11-23-10 7zM4669 2673l10-5-11-22-11 7zM4659 2677l10-4-12-20-10 6zM4649 2681l10-4-12-18-10 4zM4639 2683l10-2-12-18-10 1zM4628 2683l11 0-12-19-10 0z"/><path class=i d="M4618 2683l10 0-11-19-10-2zM4608 2683l10 0-11-21-11-2z"/><path class=j d="M4598 2684l10-1-12-23-10-1zM4588 2685l10-1-12-25-10 1zM4578 2688l10-3-12-25-10 3zM4567 2692l11-4-12-25-10 5zM4557 2696l10-4-11-24-10 6zM4547 2700l10-4-11-22-11 6zM4537 2703l10-3-12-20-10 5zM4527 2705l10-2-12-18-10 2zM4517 2706l10-1-12-18-10 1z"/><path class=k d="M4506 2706l11 0-12-18-10-2zM4496 2705l10 1-11-20-10-3zM5108 2503l10-5-12-35-10 5zM5098 2509l10-6-12-35-10 5z"/><path class=j d="M5057 2537l10-7-12-36-10 9z"/><path class=i d="M5047 2544l10-7-12-34-10 8zM5037 2551l10-7-12-33-10 8z"/><path class=h d="M5026 2558l11-7-12-32-10 7zM5016 2563l10-5-11-32-10 5zM5006 2568l10-5-11-32-11 4zM4996 2573l10-5-12-33-10 4zM4986 2578l10-5-12-34-10 3zM4976 2582l10-4-12-36-10 4z"/><path class=g d="M4925 2612l10-6-12-35-10 8zM4915 2618l10-6-12-33-10 6z"/><path class=f d="M4884 2631l10-4-11-32-11 3zM4874 2635l10-4-12-33-10 2zM4864 2638l10-3-12-35-10 3zM4752 2683l10-2-12-33-10 1zM4742 2685l10-2-12-34-10 1zM4732 2688l10-3-12-35-10 1zM4722 2691l10-3-12-37-10 3zM4711 2694l11-3-12-37-10 4zM4701 2698l10-4-11-36-11 4zM4691 2702l10-4-12-36-10 6zM4681 2706l10-4-12-34-10 5zM4671 2710l10-4-12-33-10 4zM4661 2713l10-3-12-33-10 4zM4650 2715l11-2-12-32-10 2z"/><path class=g d="M4640 2717l10-2-11-32-11 0zM4630 2718l10-1-12-34-10 0zM4620 2719l10-1-12-35-10 0zM4610 2721l10-2-12-36-10 1z"/><path class=h d="M4600 2722l10-1-12-37-10 1zM4589 2725l11-3-12-37-10 3zM4579 2727l10-2-11-37-11 4zM4569 2730l10-3-12-35-10 4zM4559 2733l10-3-12-34-10 4zM4549 2735l10-2-12-33-10 3zM4539 2737l10-2-12-32-10 2zM4528 2738l11-1-12-32-10 1z"/><path class=i d="M4518 2739l10-1-11-32-11 0zM4508 2739l10 0-12-33-10-1z"/><path class=h d="M5120 2537l10-6-12-33-10 5zM5109 2544l11-7-12-34-10 6zM5099 2550l10-6-11-35-11 7z"/><path class=e d="M4998 2612l10-6-12-33-10 5zM4987 2617l11-5-12-34-10 4z"/><path class=d d="M4733 2726l10-3-11-35-10 3zM4723 2729l10-3-11-35-11 3zM4713 2732l10-3-12-35-10 4zM4703 2735l10-3-12-34-10 4zM4693 2738l10-3-12-33-10 4zM4682 2741l11-3-12-32-10 4zM4672 2744l10-3-11-31-10 3zM4662 2747l10-3-11-31-11 2zM4652 2749l10-2-12-32-10 2zM4642 2751l10-2-12-32-10 1zM4632 2753l10-2-12-33-10 1z"/><path class=e d="M4621 2755l11-2-12-34-10 2zM4611 2757l10-2-11-34-10 1zM4601 2759l10-2-11-35-11 3zM4591 2761l10-2-12-34-10 2zM4581 2763l10-2-12-34-10 3zM4571 2765l10-2-12-33-10 3z"/><path class=f d="M4560 2767l11-2-12-32-10 2zM4550 2769l10-2-11-32-10 2zM4540 2770l10-1-11-32-11 1zM4530 2771l10-1-12-32-10 1z"/><path class=g d="M4520 2772l10-1-12-32-10 0z"/><path class=d d="M4552 2787l10-1-12-17-10 1z"/><path class=e d="M4542 2789l10-2-12-17-10 1zM4531 2790l11-1-12-18-10 1z"/><path class=c d="M4604 2778l10-2-11 3-11 2z"/><path class=d d="M4594 2780l10-2-12 3-10 2zM4584 2782l10-2-12 3-10 2zM4574 2783l10-1-12 3-10 1zM4563 2785l11-2-12 3-10 1z"/><path class=e d="M4553 2786l10-1-11 2-10 2zM4543 2787l10-1-11 3-11 1zM4606 2762l10-3-12 19-10 2z"/><path class=f d="M4595 2765l11-3-12 18-10 2zM4585 2766l10-1-11 17-10 1zM4575 2768l10-2-11 17-11 2zM4565 2768l10 0-12 17-10 1z"/><path class=g d="M4555 2768l10 0-12 18-10 1z"/><path class=h d="M4597 2749l10-2-12 18-10 1zM4587 2750l10-1-12 17-10 2z"/><path class=i d="M4577 2750l10 0-12 18-10 0zM4567 2749l10 1-12 18-10 0z"/><path class=j d="M4609 2746l10-3-12 4-10 2z"/><path class=k d="M4578 2742l10 3-11 5-10-1z"/><path class=i d="M4722 2736l10 2-11-15-11-1zM4712 2732l10 4-12-14-10-2z"/><path class=j d="M4702 2728l10 4-12-12-10-2zM4692 2725l10 3-12-10-10-1z"/><path class=k d="M4681 2725l11 0-12-8-10 1zM4671 2729l10-4-11-7-10 4zM4661 2736l10-7-11-7-11 5zM4651 2744l10-8-12-9-10 6z"/><path class=j d="M4641 2752l10-8-12-11-10 6zM4631 2759l10-7-12-13-10 4zM4620 2762l11-3-12-16-10 3zM4610 2762l10 0-11-16-10 0z"/><path class=k d="M4600 2758l10 4-11-16-11-1zM4590 2753l10 5-12-13-10-3z"/><path class=i d="M4713 2749l11 7-12-24-10-4z"/><path class=j d="M4703 2744l10 5-11-21-10-3zM4693 2744l10 0-11-19-11 0zM4663 2768l10-11-12-21-10 8z"/><path class=i d="M4652 2780l11-12-12-24-10 8zM4642 2788l10-8-11-28-10 7z"/><path class=h d="M4632 2792l10-4-11-29-11 3z"/><path class=i d="M4622 2791l10 1-12-30-10 0zM4612 2786l10 5-12-29-10-4z"/><path class=j d="M4602 2777l10 9-12-28-10-5z"/><path class=g d="M4634 2820l10 2-12-30-10-1zM4623 2812l11 8-12-29-10-5z"/><path class=i d="M4613 2800l10 12-11-26-10-9z"/><path class=h d="M4625 2808l10 16-12-12-10-12z"/><path class=e d="M4657 2829l10 4-11 5-11-3z"/><path class=f d="M4647 2815l10 14-12 6-10-11z"/><path class=h d="M4637 2795l10 20-12 9-10-16z"/><path class=g d="M5157 2634l10 1-12 19-10 0z"/><path class=e d="M5045 2700l10-12-12 20-10 11zM5035 2698l10 2-12 19-10-1z"/><path class=d d="M4923 2752l10-11-12 20-10 10zM4913 2749l10 3-12 19-10-2z"/><path class=e d="M4801 2790l10-10-12 20-10 9zM4791 2786l10 4-12 19-10-3z"/><path class=g d="M4679 2815l10-9-12 20-10 7zM4669 2809l10 6-12 18-10-4z"/><path class=i d="M4659 2791l10 18-12 20-10-14z"/><path class=k d="M4648 2766l11 25-12 24-10-20z"/><path class=j d="M5179 2616l10-14-12 20-10 13zM5168 2614l11 2-12 19-10-1z"/><path class=k d="M5158 2596l10 18-11 20-10-13z"/><path class=h d="M5057 2682l10-14-12 20-10 12zM5046 2678l11 4-12 18-10-2z"/><path class=i d="M5036 2659l10 19-11 20-10-15z"/><path class=g d="M4935 2733l10-12-12 20-10 11zM4924 2728l11 5-12 19-10-3z"/><path class=i d="M4914 2709l10 19-11 21-10-16z"/><path class=h d="M4813 2771l10-11-12 20-10 10zM4802 2765l11 6-12 19-10-4z"/><path class=i d="M4792 2744l10 21-11 21-10-17z"/><path class=j d="M4691 2796l10-10-12 20-10 9zM4680 2789l11 7-12 19-10-6z"/><path class=l d="M4670 2767l10 22-11 20-10-18z"/><path class=n d="M4660 2736l10 31-11 24-11-25z"/><path class=x d="M5231 2472l10-34-12 28-10 30z"/><path class=l d="M5180 2607l10 4-11 5-11-2z"/><path class=m d="M5170 2585l10 22-12 7-10-18z"/><path class=p d="M5160 2553l10 32-12 11-10-26z"/><path class=u d="M5109 2542l10-33-12 28-10 28z"/><path class=j d="M5058 2671l10 6-11 5-11-4z"/><path class=k d="M5048 2648l10 23-12 7-10-19z"/><path class=n d="M5038 2615l10 33-12 11-10-27z"/><path class=t d="M4987 2598l10-32-12 28-10 28z"/><path class=i d="M4936 2722l10 6-11 5-11-5z"/><path class=k d="M4926 2697l10 25-12 6-10-19z"/><path class=n d="M4916 2663l10 34-12 12-10-29z"/><path class=t d="M4865 2641l10-31-12 28-10 26z"/><path class=j d="M4814 2759l10 7-11 5-11-6z"/><path class=l d="M4804 2733l10 26-12 6-10-21z"/><path class=o d="M4794 2698l10 35-12 11-10-29z"/><path class=v d="M4743 2670l10-30-12 28-10 25z"/><path class=s d="M4733 2710l10-40-12 23-10 34z"/><path class=p d="M4723 2750l10-40-12 17-10 34z"/><path class=l d="M4692 2782l10 9-11 5-11-7z"/><path class=n d="M4682 2756l10 26-12 7-10-22z"/><path class=q d="M4672 2719l10 37-12 11-10-31z"/><path class=D d="M5253 2428l10-18-12 11-10 17z"/><path class=A d="M5243 2467l10-39-12 10-10 34z"/><path class=w d="M5232 2518l11-51-12 5-10 45z"/><path class=n d="M5182 2593l10 27-12-13-10-22z"/><path class=q d="M5172 2554l10 39-12-8-10-32z"/><path class=A d="M5131 2499l10-17-12 11-10 16z"/><path class=x d="M5121 2537l10-38-12 10-10 33z"/><path class=t d="M5111 2587l10-50-12 5-10 43z"/><path class=l d="M5060 2656l10 28-12-13-10-23z"/><path class=o d="M5050 2616l10 40-12-8-10-33z"/><path class=y d="M5009 2556l10-16-12 12-10 14z"/><path class=w d="M4999 2593l10-37-12 10-10 32z"/><path class=s d="M4989 2642l10-49-12 5-10 42z"/><path class=k d="M4938 2705l10 30-12-13-10-25z"/><path class=o d="M4928 2664l10 41-12-8-10-34z"/><path class=s d="M4917 2623l11 41-12-1-10-35z"/><path class=y d="M4887 2600l10-15-12 12-10 13z"/><path class=w d="M4877 2636l10-36-12 10-10 31z"/><path class=s d="M4867 2683l10-47-12 5-10 41z"/><path class=l d="M4816 2741l10 31-12-13-10-26z"/><path class=p d="M4806 2699l10 42-12-8-10-35z"/><path class=t d="M4795 2657l11 42-12-1-10-36z"/><path class=A d="M4765 2630l10-14-12 12-10 12z"/><path class=x d="M4755 2665l10-35-12 10-10 30z"/><path class=u d="M4745 2711l10-46-12 5-10 40z"/><path class=n d="M4694 2764l10 31-12-13-10-26z"/><path class=r d="M4684 2720l10 44-12-8-10-37z"/><path class=x d="M5295 2448l10 45-12-14-10-38z"/><path class=E d="M5265 2430l10-21-12 1-10 18z"/><path class=B d="M5254 2474l11-44-12-2-10 39z"/><path class=w d="M5244 2532l10-58-11-7-11 51z"/><path class=r d="M5234 2590l10-58-12-14-10 51z"/><path class=m d="M5193 2614l11 32-12-26-10-27z"/><path class=q d="M5183 2568l10 46-11-21-10-39z"/><path class=u d="M5173 2522l10 46-11-14-11-39z"/><path class=B d="M5143 2501l10-20-12 1-10 17z"/><path class=y d="M5132 2544l11-43-12-2-10 38z"/><path class=t d="M5122 2601l10-57-11-7-10 50z"/><path class=p d="M5112 2658l10-57-11-14-11 50z"/><path class=k d="M5071 2677l11 33-12-26-10-28z"/><path class=o d="M5061 2630l10 47-11-21-10-40z"/><path class=t d="M5051 2583l10 47-11-14-11-40z"/><path class=A d="M5021 2558l10-18-12 0-10 16z"/><path class=x d="M5010 2600l11-42-12-2-10 37z"/><path class=s d="M5000 2656l10-56-11-7-10 49z"/><path class=o d="M4990 2712l10-56-11-14-11 48z"/><path class=j d="M4949 2727l11 34-12-26-10-30z"/><path class=o d="M4939 2678l10 49-11-22-10-41z"/><path class=s d="M4929 2630l10 48-11-14-11-41z"/><path class=A d="M4899 2602l10-17-12 0-10 15z"/><path class=x d="M4888 2643l11-41-12-2-10 36z"/><path class=t d="M4878 2697l10-54-11-7-10 47z"/><path class=o d="M4868 2752l10-55-11-14-11 48z"/><path class=k d="M4827 2763l11 35-12-26-10-31z"/><path class=p d="M4817 2713l10 50-11-22-10-42z"/><path class=t d="M4807 2664l10 49-11-14-11-42z"/><path class=B d="M4777 2632l10-16-12 0-10 14z"/><path class=y d="M4766 2672l11-40-12-2-10 35z"/><path class=u d="M4756 2725l10-53-11-7-10 46z"/><path class=q d="M4746 2779l10-54-11-14-11 47z"/><path class=m d="M4705 2785l11 36-12-26-10-31z"/><path class=r d="M4695 2734l10 51-11-21-10-44z"/><path class=x d="M5307 2453l10 53-12-13-10-45z"/><path class=C d="M5297 2416l10 37-12-5-10-31z"/><path class=F d="M5276 2429l10-22-11 2-10 21z"/><path class=C d="M5266 2479l10-50-11 1-11 44z"/><path class=w d="M5256 2545l10-66-12-5-10 58z"/><path class=q d="M5246 2611l10-66-12-13-10 58z"/><path class=k d="M5205 2635l10 37-11-26-11-32z"/><path class=p d="M5195 2581l10 54-12-21-10-46z"/><path class=u d="M5185 2527l10 54-12-13-10-46z"/><path class=A d="M5175 2489l10 38-12-5-10-32z"/><path class=C d="M5154 2500l10-21-11 2-10 20z"/><path class=y d="M5144 2549l10-49-11 1-11 43z"/><path class=t d="M5134 2614l10-65-12-5-10 57z"/><path class=o d="M5124 2678l10-64-12-13-10 57z"/><path class=i d="M5083 2698l10 39-11-27-11-33z"/><path class=n d="M5073 2643l10 55-12-21-10-47z"/><path class=s d="M5063 2588l10 55-12-13-10-47z"/><path class=x d="M5053 2549l10 39-12-5-10-34z"/><path class=B d="M5032 2558l10-21-11 3-10 18z"/><path class=x d="M5022 2605l10-47-11 0-11 42z"/><path class=s d="M5012 2669l10-64-12-5-10 56z"/><path class=n d="M5002 2732l10-63-12-13-10 56z"/><path class=i d="M4992 2780l10-48-12-20-10 41zM4961 2747l10 40-11-26-11-34z"/><path class=n d="M4951 2691l10 56-12-20-10-49z"/><path class=s d="M4941 2635l10 56-12-13-10-48z"/><path class=x d="M4931 2595l10 40-12-5-10-35z"/><path class=B d="M4910 2601l10-19-11 3-10 17z"/><path class=x d="M4900 2648l10-47-11 1-11 41z"/><path class=s d="M4890 2710l10-62-12-5-10 54z"/><path class=n d="M4880 2773l10-63-12-13-10 55z"/><path class=j d="M4839 2783l10 41-11-26-11-35z"/><path class=o d="M4829 2726l10 57-12-20-10-50z"/><path class=t d="M4819 2669l10 57-12-13-10-49z"/><path class=y d="M4809 2627l10 42-12-5-10-36z"/><path class=C d="M4788 2632l10-18-11 2-10 16z"/><path class=A d="M4778 2677l10-45-11 0-11 40z"/><path class=u d="M4768 2738l10-61-12-5-10 53z"/><path class=p d="M4758 2799l10-61-12-13-10 54z"/><path class=l d="M4717 2805l10 43-11-27-11-36z"/><path class=q d="M4707 2747l10 58-12-20-10-51z"/><path class=y d="M5318 2442l11 61-12 3-10-53z"/><path class=E d="M5308 2400l10 42-11 11-10-37z"/><path class=H d="M5298 2388l10 12-11 16-11-9z"/><path class=G d="M5288 2413l10-25-12 19-10 22z"/><path class=D d="M5278 2469l10-56-12 16-10 50z"/><path class=w d="M5268 2543l10-74-12 10-10 66z"/><path class=q d="M5257 2617l11-74-12 2-10 66z"/><path class=k d="M5247 2672l10-55-11-6-10 49z"/><path class=j d="M5217 2641l10 43-12-12-10-37z"/><path class=p d="M5207 2579l10 62-12-6-10-54z"/><path class=v d="M5196 2517l11 62-12 2-10-54z"/><path class=B d="M5186 2473l10 44-11 10-10-38z"/><path class=E d="M5176 2460l10 13-11 16-11-10zM5166 2484l10-24-12 19-10 21z"/><path class=A d="M5156 2538l10-54-12 16-10 49z"/><path class=u d="M5146 2611l10-73-12 11-10 65z"/><path class=n d="M5135 2684l11-73-12 3-10 64z"/><path class=i d="M5125 2739l10-55-11-6-10 49z"/><path class=e d="M5105 2748l10 14-12-14-10-11z"/><path class=h d="M5095 2704l10 44-12-11-10-39z"/><path class=n d="M5085 2640l10 64-12-6-10-55z"/><path class=t d="M5074 2577l11 63-12 3-10-55z"/><path class=y d="M5064 2532l10 45-11 11-10-39z"/><path class=C d="M5054 2519l10 13-11 17-11-12zM5044 2541l10-22-12 18-10 21z"/><path class=y d="M5034 2595l10-54-12 17-10 47z"/><path class=t d="M5024 2666l10-71-12 10-10 64z"/><path class=m d="M5013 2738l11-72-12 3-10 63z"/><path class=h d="M5003 2791l10-53-11-6-10 48z"/><path class=e d="M4983 2799l10 14-12-14-10-12z"/><path class=h d="M4973 2753l10 46-12-12-10-40z"/><path class=m d="M4963 2689l10 64-12-6-10-56z"/><path class=t d="M4952 2625l11 64-12 2-10-56z"/><path class=y d="M4942 2578l10 47-11 10-10-40z"/><path class=C d="M4932 2563l10 15-11 17-11-13zM4922 2585l10-22-12 19-10 19z"/><path class=y d="M4912 2637l10-52-12 16-10 47z"/><path class=t d="M4902 2708l10-71-12 11-10 62z"/><path class=n d="M4891 2778l11-70-12 2-10 63z"/><path class=h d="M4881 2831l10-53-11-5-10 46z"/><path class=i d="M4851 2789l10 47-12-12-10-41z"/><path class=n d="M4841 2724l10 65-12-6-10-57z"/><path class=u d="M4830 2658l11 66-12 2-10-57z"/><path class=A d="M4820 2611l10 47-11 11-10-42z"/><path class=E d="M4810 2595l10 16-11 16-11-13zM4800 2615l10-20-12 19-10 18z"/><path class=B d="M4790 2666l10-51-12 17-10 45z"/><path class=v d="M4780 2736l10-70-12 11-10 61z"/><path class=p d="M4769 2805l11-69-12 2-10 61z"/><path class=j d="M4759 2856l10-51-11-6-10 46z"/><path class=h d="M4739 2859l10 17-12-14-10-14z"/><path class=k d="M4729 2811l10 48-12-11-10-43z"/><path class=q d="M4719 2745l10 66-12-6-10-58z"/><path class=B d="M5330 2410l10 70-11 23-11-61z"/><path class=H d="M5320 2361l10 49-12 32-10-42z"/><path class=K d="M5310 2347l10 14-12 39-10-12zM5300 2374l10-27-12 41-10 25z"/><path class=G d="M5289 2436l11-62-12 39-10 56z"/><path class=A d="M5279 2519l10-83-11 33-10 74z"/><path class=r d="M5269 2602l10-83-11 24-11 74z"/><path class=l d="M5259 2664l10-62-12 15-10 55z"/><path class=h d="M5239 2676l10 14-12 6-10-12z"/><path class=k d="M5228 2626l11 50-12 8-10-43z"/><path class=q d="M5218 2555l10 71-11 15-10-62z"/><path class=x d="M5208 2484l10 71-11 24-11-62z"/><path class=E d="M5198 2434l10 50-12 33-10-44z"/><path class=H d="M5188 2419l10 15-12 39-10-13z"/><path class=D d="M5167 2506l11-61-12 39-10 54z"/><path class=w d="M5157 2588l10-82-11 32-10 73z"/><path class=p d="M5147 2669l10-81-11 23-11 73z"/><path class=j d="M5137 2730l10-61-12 15-10 55z"/><path class=f d="M5117 2740l10 16-12 6-10-14z"/><path class=i d="M5106 2689l11 51-12 8-10-44z"/><path class=o d="M5096 2617l10 72-11 15-10-64z"/><path class=v d="M5086 2545l10 72-11 23-11-63z"/><path class=C d="M5076 2494l10 51-12 32-10-45z"/><path class=G d="M5066 2478l10 16-12 38-10-13z"/><path class=C d="M5045 2562l11-60-12 39-10 54z"/><path class=v d="M5035 2643l10-81-11 33-10 71z"/><path class=o d="M5025 2723l10-80-11 23-11 72z"/><path class=i d="M5015 2783l10-60-12 15-10 53z"/><path class=e d="M4995 2790l10 17-12 6-10-14z"/><path class=i d="M4984 2738l11 52-12 9-10-46z"/><path class=o d="M4974 2665l10 73-11 15-10-64z"/><path class=v d="M4964 2592l10 73-11 24-11-64z"/><path class=C d="M4954 2540l10 52-12 33-10-47z"/><path class=G d="M4944 2522l10 18-12 38-10-15zM4934 2546l10-24-12 41-10 22z"/><path class=C d="M4923 2605l11-59-12 39-10 52z"/><path class=v d="M4913 2684l10-79-11 32-10 71z"/><path class=o d="M4903 2764l10-80-11 24-11 70z"/><path class=i d="M4893 2822l10-58-12 14-10 53z"/><path class=f d="M4873 2827l10 18-12 6-10-15z"/><path class=j d="M4862 2774l11 53-12 9-10-47z"/><path class=p d="M4852 2700l10 74-11 15-10-65z"/><path class=w d="M4842 2626l10 74-11 24-11-66z"/><path class=D d="M4832 2572l10 54-12 32-10-47z"/><path class=H d="M4822 2554l10 18-12 39-10-16zM4812 2576l10-22-12 41-10 20z"/><path class=E d="M4802 2634l10-58-12 39-10 51z"/><path class=x d="M4791 2712l11-78-12 32-10 70z"/><path class=q d="M4781 2790l10-78-11 24-11 69z"/><path class=k d="M4771 2848l10-58-12 15-10 51z"/><path class=h d="M4751 2851l10 19-12 6-10-17z"/><path class=l d="M4741 2796l10 55-12 8-10-48z"/><path class=r d="M4730 2721l11 75-12 15-10-66z"/><path class=F d="M5342 2362l10 79-12 39-10-70z"/><path class=M d="M5332 2306l10 56-12 48-10-49z"/><path class=Q d="M5322 2290l10 16-12 55-10-14z"/><path class=P d="M5311 2319l11-29-12 57-10 27z"/><path class=L d="M5301 2388l10-69-11 55-11 62z"/><path class=E d="M5291 2480l10-92-12 48-10 83z"/><path class=v d="M5281 2572l10-92-12 39-10 83z"/><path class=n d="M5271 2641l10-69-12 30-10 62z"/><path class=j d="M5261 2670l10-29-12 23-10 26zM5250 2653l11 17-12 20-10-14z"/><path class=n d="M5240 2596l10 57-11 23-11-50z"/><path class=t d="M5230 2516l10 80-12 30-10-71z"/><path class=C d="M5220 2436l10 80-12 39-10-71z"/><path class=J d="M5210 2379l10 57-12 48-10-50z"/><path class=N d="M5200 2362l10 17-12 55-10-15zM5189 2390l11-28-12 57-10 26z"/><path class=I d="M5179 2458l10-68-11 55-11 61z"/><path class=B d="M5169 2549l10-91-12 48-10 82z"/><path class=s d="M5159 2640l10-91-12 39-10 81z"/><path class=l d="M5149 2707l10-67-12 29-10 61z"/><path class=h d="M5139 2735l10-28-12 23-10 26zM5128 2717l11 18-12 21-10-16z"/><path class=l d="M5118 2659l10 58-11 23-11-51z"/><path class=s d="M5108 2578l10 81-12 30-10-72z"/><path class=B d="M5098 2497l10 81-12 39-10-72z"/><path class=H d="M5088 2439l10 58-12 48-10-51z"/><path class=L d="M5078 2420l10 19-12 55-10-16zM5067 2447l11-27-12 58-10 24z"/><path class=H d="M5057 2514l10-67-11 55-11 60z"/><path class=A d="M5047 2604l10-90-12 48-10 81z"/><path class=r d="M5037 2694l10-90-12 39-10 80z"/><path class=k d="M5027 2760l10-66-12 29-10 60z"/><path class=g d="M5017 2787l10-27-12 23-10 24zM5006 2768l11 19-12 20-10-17z"/><path class=k d="M4996 2709l10 59-11 22-11-52z"/><path class=r d="M4986 2626l10 83-12 29-10-73z"/><path class=A d="M4976 2544l10 82-12 39-10-73z"/><path class=H d="M4966 2485l10 59-12 48-10-52z"/><path class=L d="M4956 2465l10 20-12 55-10-18zM4945 2491l11-26-12 57-10 24z"/><path class=H d="M4935 2557l10-66-11 55-11 59z"/><path class=B d="M4925 2646l10-89-12 48-10 79z"/><path class=s d="M4915 2734l10-88-12 38-10 80z"/><path class=l d="M4905 2799l10-65-12 30-10 58z"/><path class=h d="M4895 2825l10-26-12 23-10 23zM4884 2805l11 20-12 20-10-18z"/><path class=l d="M4874 2744l10 61-11 22-11-53z"/><path class=s d="M4864 2661l10 83-12 30-10-74z"/><path class=B d="M4854 2578l10 83-12 39-10-74z"/><path class=I d="M4844 2517l10 61-12 48-10-54z"/><path class=N d="M4834 2497l10 20-12 55-10-18zM4823 2522l11-25-12 57-10 22z"/><path class=J d="M4813 2586l10-64-11 54-10 58z"/><path class=C d="M4803 2674l10-88-11 48-11 78z"/><path class=t d="M4793 2761l10-87-12 38-10 78z"/><path class=n d="M4783 2825l10-64-12 29-10 58z"/><path class=j d="M4773 2850l10-25-12 23-10 22zM4762 2828l11 22-12 20-10-19z"/><path class=n d="M4752 2767l10 61-11 23-10-55z"/><path class=v d="M4742 2682l10 85-11 29-11-75z"/></g><path class="ax" d="M474.2 295.6L535.2 273.1M474.2 295.6L427.4 266.3M427.4 266.3L427.4 202.5M474.2 295.6L475.2 296.2M504.7 284.4L505.7 285.0M535.2 273.1L536.2 273.8M474.2 295.6L473.1 296.0M450.8 281.0L449.7 281.4M427.4 266.3L426.3 266.8M427.4 257.7L426.2 257.7M427.4 249.1L426.2 249.1M427.4 240.5L426.2 240.5M427.4 231.9L426.2 231.9M427.4 223.3L426.2 223.3M427.4 214.7L426.2 214.7M427.4 206.0L426.2 206.0"/><g class="lb" font-size="6.50"><text x="477.8" y="304.6">-10</text><text x="508.3" y="293.4">0</text><text x="538.8" y="282.1">10</text><text text-anchor="end" x="470.4" y="304.5">-10</text><text text-anchor="end" x="447.0" y="289.9">0</text><text text-anchor="end" x="423.6" y="275.2">10</text><text text-anchor="end" x="424.3" y="259.6">20</text><text text-anchor="end" x="424.3" y="251.0">40</text><text text-anchor="end" x="424.3" y="242.4">60</text><text text-anchor="end" x="424.3" y="233.8">80</text><text text-anchor="end" x="424.3" y="225.2">100</text><text text-anchor="end" x="424.3" y="216.5">120</text><text text-anchor="end" x="424.3" y="207.9">140</text><text text-anchor="middle" x="439.4" y="305.6">x<tspan font-size="5.2" dy="2.3">2</tspan></text><text text-anchor="middle" x="510.4" y="307.6">x<tspan font-size="5.2" dy="2.3">1</tspan></text></g><text class="tt" text-anchor="middle" font-size="7.15" x="481.3" y="177.8">Parameter space</text>
<g class="cp"><text x="72.8" y="166.5">The Function 1</text><text x="208.3" y="166.0">The Function 2</text><text x="344.1" y="165.9">The Function 3</text><text x="479.5" y="165.4">The Function 4</text><text x="72.6" y="325.2">The Function 5</text><text x="208.5" y="325.2">The Function 6</text><text x="344.1" y="325.2">The Function 7</text><text x="479.0" y="325.2">The Function 8</text></g>
</svg></body></html>
